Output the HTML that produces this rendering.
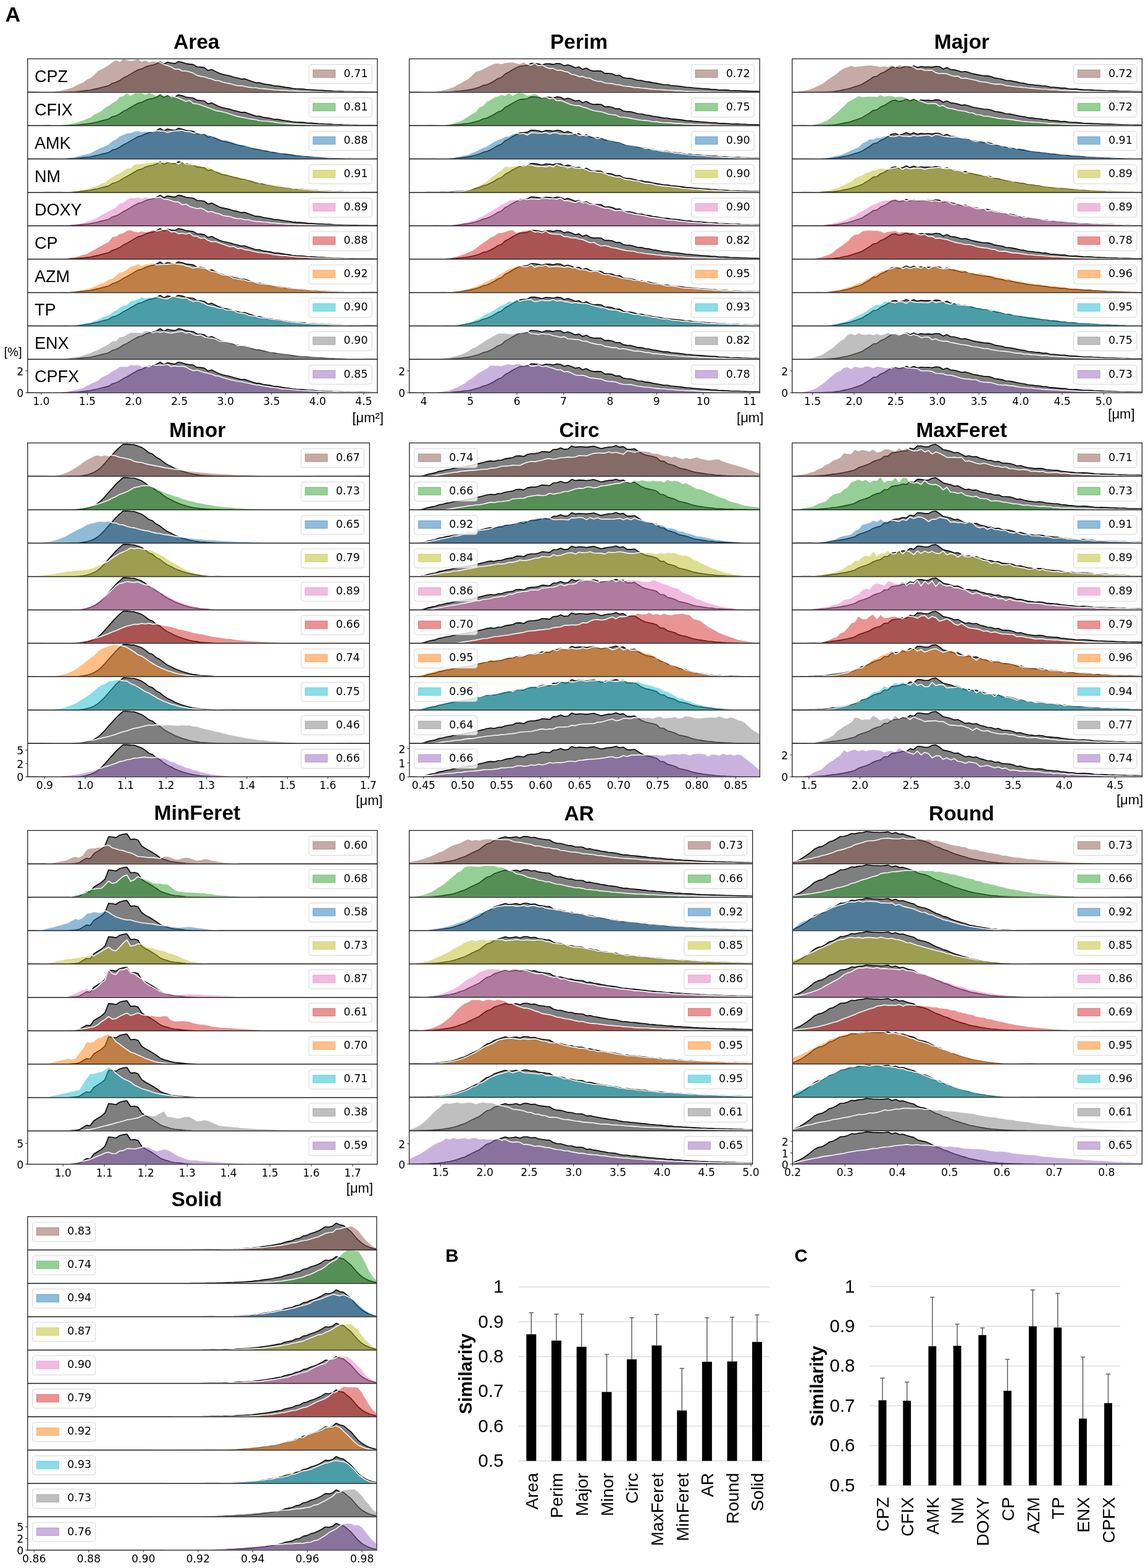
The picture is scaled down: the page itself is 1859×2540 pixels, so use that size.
<!DOCTYPE html>
<html><head><meta charset="utf-8"><title>Figure</title>
<style>html,body{margin:0;padding:0;background:#fff;} svg{display:block;}</style>
</head><body>
<svg width="1859" height="2540" viewBox="0 0 1859 2540"><text x="8.5" y="34.9" font-family="'Liberation Sans', Arial, sans-serif" font-weight="bold" font-size="34">A</text>
<text x="6.5" y="576.8" font-family="'Liberation Sans', Arial, sans-serif" font-size="21" textLength="29" lengthAdjust="spacingAndGlyphs">[%]</text>
<clipPath id="c0_0"><rect x="44.7" y="95.3" width="566.4" height="54.1"/></clipPath>
<clipPath id="c0_1"><rect x="44.7" y="149.4" width="566.4" height="54.1"/></clipPath>
<clipPath id="c0_2"><rect x="44.7" y="203.5" width="566.4" height="54.1"/></clipPath>
<clipPath id="c0_3"><rect x="44.7" y="257.6" width="566.4" height="54.1"/></clipPath>
<clipPath id="c0_4"><rect x="44.7" y="311.7" width="566.4" height="54.1"/></clipPath>
<clipPath id="c0_5"><rect x="44.7" y="365.8" width="566.4" height="54.1"/></clipPath>
<clipPath id="c0_6"><rect x="44.7" y="419.8" width="566.4" height="54.1"/></clipPath>
<clipPath id="c0_7"><rect x="44.7" y="473.9" width="566.4" height="54.1"/></clipPath>
<clipPath id="c0_8"><rect x="44.7" y="528" width="566.4" height="54.1"/></clipPath>
<clipPath id="c0_9"><rect x="44.7" y="582.1" width="566.4" height="54.1"/></clipPath>
<defs><path id="r0" d="M44.7,149.4 L50.7,149.4 L56.6,149.4 L62.6,149.4 L68.5,149.4 L74.5,149.3 L80.5,149.3 L86.4,149.3 L92.4,149.2 L98.4,149.1 L104.3,149 L110.3,148.9 L116.2,148.6 L122.2,148.4 L128.2,147.9 L134.1,147.2 L140.1,146.6 L146.1,146 L152,144.6 L158,143.4 L163.9,141.7 L169.9,140.3 L175.9,138.8 L181.8,134.9 L187.8,133.3 L193.8,130.3 L199.7,126.3 L205.7,123.4 L211.6,119.9 L217.6,116.4 L223.6,113 L229.5,111.6 L235.5,108.5 L241.4,106.5 L247.4,105.4 L253.4,103.3 L259.3,99.8 L265.3,103.8 L271.3,100.8 L277.2,102 L283.2,102.9 L289.1,99.7 L295.1,101 L301.1,103.1 L307,103.9 L313,104.6 L319,108.3 L324.9,108.6 L330.9,109.6 L336.8,114.1 L342.8,112.5 L348.8,115.6 L354.7,118.5 L360.7,120.5 L366.7,121.7 L372.6,123 L378.6,125 L384.5,126.2 L390.5,128 L396.5,127.7 L402.4,129.9 L408.4,132 L414.4,134 L420.3,134.1 L426.3,135.9 L432.2,136.8 L438.2,137.6 L444.2,139.3 L450.1,139.3 L456.1,140.4 L462,141.4 L468,142.1 L474,143.2 L479.9,143.7 L485.9,144 L491.9,144.3 L497.8,145.2 L503.8,145.3 L509.7,145.8 L515.7,146.3 L521.7,146.4 L527.6,146.9 L533.6,147 L539.6,147.5 L545.5,147.8 L551.5,147.8 L557.4,148.1 L563.4,148.2 L569.4,148.4 L575.3,148.5 L581.3,148.6 L587.3,148.6 L593.2,148.7 L599.2,148.8 L605.1,148.9 L611.1,149 L611.1,149.4 L44.7,149.4 Z"/></defs>
<g clip-path="url(#c0_0)"><use href="#r0" transform="translate(0,0)" fill="#7f7f7f" stroke="#000" stroke-width="1.6" stroke-linejoin="round"/><path d="M44.7,149.3 L50.7,149.3 L56.6,149.2 L62.6,149.1 L68.5,148.9 L74.5,148.6 L80.5,148.3 L86.4,147.8 L92.4,147.1 L98.4,146.1 L104.3,144.7 L110.3,143.3 L116.2,141.5 L122.2,138.3 L128.2,135.5 L134.1,133.1 L140.1,128.3 L146.1,125.7 L152,121 L158,114.5 L163.9,111.7 L169.9,108.4 L175.9,104.6 L181.8,100 L187.8,96.6 L193.8,99.6 L199.7,94.8 L205.7,96.7 L211.6,97.9 L217.6,97 L223.6,94.9 L229.5,99.2 L235.5,96.7 L241.4,100.4 L247.4,98.7 L253.4,99.7 L259.3,100.7 L265.3,104.4 L271.3,106.3 L277.2,108.5 L283.2,112.1 L289.1,111.8 L295.1,115 L301.1,115 L307,116.6 L313,118.6 L319,122.1 L324.9,123.6 L330.9,124.5 L336.8,126.4 L342.8,128 L348.8,130.4 L354.7,130.7 L360.7,133.2 L366.7,134.5 L372.6,135.4 L378.6,137.2 L384.5,138.8 L390.5,138.9 L396.5,140 L402.4,141.1 L408.4,142 L414.4,142.2 L420.3,143.3 L426.3,143.6 L432.2,144.4 L438.2,144.7 L444.2,145.7 L450.1,145.7 L456.1,146.4 L462,146.3 L468,147 L474,147.3 L479.9,147.4 L485.9,147.7 L491.9,148 L497.8,147.9 L503.8,148.3 L509.7,148.2 L515.7,148.5 L521.7,148.5 L527.6,148.7 L533.6,148.8 L539.6,148.9 L545.5,148.9 L551.5,149 L557.4,149 L563.4,149.1 L569.4,149.1 L575.3,149.2 L581.3,149.2 L587.3,149.2 L593.2,149.2 L599.2,149.3 L605.1,149.3 L611.1,149.3 L611.1,149.4 L44.7,149.4 Z" fill="#8c564b" fill-opacity="0.5" stroke="#fff" stroke-width="1.6" stroke-linejoin="round" stroke-opacity="0.95"/></g>
<rect x="500.3" y="104.5" width="102" height="31" rx="4" fill="#fff" fill-opacity="0.8" stroke="#d6d6d6" stroke-width="1"/>
<rect x="506.9" y="113.2" width="36" height="12.4" fill="#c6aaa5" stroke="#8c564b" stroke-opacity="0.5" stroke-width="1"/>
<text x="556.6" y="124.7" font-family="'DejaVu Sans', 'Liberation Sans', sans-serif" font-size="17.5">0.71</text>
<text x="56" y="132.6" font-family="'Liberation Sans', Arial, sans-serif" font-size="27">CPZ</text>
<g clip-path="url(#c0_1)"><use href="#r0" transform="translate(0,54.1)" fill="#7f7f7f" stroke="#000" stroke-width="1.6" stroke-linejoin="round"/><path d="M44.7,203.5 L50.7,203.4 L56.6,203.4 L62.6,203.4 L68.5,203.3 L74.5,203.2 L80.5,203.1 L86.4,202.8 L92.4,202.6 L98.4,202.1 L104.3,201.4 L110.3,201 L116.2,199.6 L122.2,198.4 L128.2,196.5 L134.1,194.5 L140.1,191.9 L146.1,189.7 L152,185 L158,182.6 L163.9,179.4 L169.9,173.8 L175.9,170.6 L181.8,166.3 L187.8,162.9 L193.8,156.3 L199.7,155 L205.7,150.2 L211.6,154.5 L217.6,150.6 L223.6,150 L229.5,150.1 L235.5,153 L241.4,149.6 L247.4,151.9 L253.4,154.9 L259.3,151 L265.3,154.7 L271.3,153 L277.2,156.4 L283.2,156.8 L289.1,159.1 L295.1,161.6 L301.1,164.3 L307,162.8 L313,167.6 L319,168.2 L324.9,169.9 L330.9,172.1 L336.8,174.2 L342.8,176.6 L348.8,179.1 L354.7,179.9 L360.7,181.2 L366.7,182.8 L372.6,184.8 L378.6,186.8 L384.5,188.6 L390.5,189.7 L396.5,190.8 L402.4,192.3 L408.4,192.9 L414.4,194 L420.3,195.5 L426.3,196 L432.2,196.2 L438.2,197 L444.2,197.9 L450.1,198.7 L456.1,199.5 L462,199.6 L468,200.1 L474,200.6 L479.9,200.9 L485.9,201.2 L491.9,201.3 L497.8,201.7 L503.8,202 L509.7,202.2 L515.7,202.2 L521.7,202.5 L527.6,202.5 L533.6,202.8 L539.6,202.8 L545.5,202.9 L551.5,203 L557.4,203 L563.4,203.1 L569.4,203.1 L575.3,203.2 L581.3,203.2 L587.3,203.3 L593.2,203.3 L599.2,203.3 L605.1,203.3 L611.1,203.4 L611.1,203.5 L44.7,203.5 Z" fill="#2ca02c" fill-opacity="0.5" stroke="#fff" stroke-width="1.6" stroke-linejoin="round" stroke-opacity="0.95"/></g>
<rect x="500.3" y="158.6" width="102" height="31" rx="4" fill="#fff" fill-opacity="0.8" stroke="#d6d6d6" stroke-width="1"/>
<rect x="506.9" y="167.3" width="36" height="12.4" fill="#96d096" stroke="#2ca02c" stroke-opacity="0.5" stroke-width="1"/>
<text x="556.6" y="178.8" font-family="'DejaVu Sans', 'Liberation Sans', sans-serif" font-size="17.5">0.81</text>
<text x="56" y="186.7" font-family="'Liberation Sans', Arial, sans-serif" font-size="27">CFIX</text>
<g clip-path="url(#c0_2)"><use href="#r0" transform="translate(0,108.2)" fill="#7f7f7f" stroke="#000" stroke-width="1.6" stroke-linejoin="round"/><path d="M44.7,257.5 L50.7,257.5 L56.6,257.5 L62.6,257.5 L68.5,257.4 L74.5,257.3 L80.5,257.2 L86.4,256.9 L92.4,256.9 L98.4,256.3 L104.3,256 L110.3,255.3 L116.2,254.7 L122.2,253.6 L128.2,251.9 L134.1,250.4 L140.1,249.1 L146.1,247.6 L152,244.5 L158,241.4 L163.9,238.4 L169.9,236.4 L175.9,232.8 L181.8,227.9 L187.8,225 L193.8,220.2 L199.7,217.8 L205.7,215.3 L211.6,214.9 L217.6,212.2 L223.6,211.8 L229.5,213.3 L235.5,212.6 L241.4,212.7 L247.4,213.3 L253.4,211.5 L259.3,212.3 L265.3,212.2 L271.3,214.7 L277.2,212.8 L283.2,211.7 L289.1,211.7 L295.1,210.9 L301.1,213.2 L307,212.9 L313,215.6 L319,214.7 L324.9,216.6 L330.9,216.2 L336.8,218 L342.8,220.3 L348.8,221.9 L354.7,224.2 L360.7,226.6 L366.7,226.2 L372.6,229 L378.6,230.2 L384.5,233.2 L390.5,234 L396.5,235.4 L402.4,237.2 L408.4,239 L414.4,239 L420.3,240.9 L426.3,242.4 L432.2,242.6 L438.2,244.9 L444.2,244.9 L450.1,246.8 L456.1,247.7 L462,247.7 L468,248.4 L474,249.3 L479.9,250.6 L485.9,251.1 L491.9,252 L497.8,252.3 L503.8,252.8 L509.7,253.4 L515.7,253.6 L521.7,254.1 L527.6,254.6 L533.6,255.1 L539.6,255.3 L545.5,255.4 L551.5,255.5 L557.4,255.6 L563.4,256.1 L569.4,256.2 L575.3,256.3 L581.3,256.5 L587.3,256.6 L593.2,256.9 L599.2,256.9 L605.1,257 L611.1,257.1 L611.1,257.6 L44.7,257.6 Z" fill="#1f77b4" fill-opacity="0.5" stroke="#fff" stroke-width="1.6" stroke-linejoin="round" stroke-opacity="0.95"/></g>
<rect x="500.3" y="212.7" width="102" height="31" rx="4" fill="#fff" fill-opacity="0.8" stroke="#d6d6d6" stroke-width="1"/>
<rect x="506.9" y="221.4" width="36" height="12.4" fill="#8fbbda" stroke="#1f77b4" stroke-opacity="0.5" stroke-width="1"/>
<text x="556.6" y="232.9" font-family="'DejaVu Sans', 'Liberation Sans', sans-serif" font-size="17.5">0.88</text>
<text x="56" y="240.8" font-family="'Liberation Sans', Arial, sans-serif" font-size="27">AMK</text>
<g clip-path="url(#c0_3)"><use href="#r0" transform="translate(0,162.3)" fill="#7f7f7f" stroke="#000" stroke-width="1.6" stroke-linejoin="round"/><path d="M44.7,311.6 L50.7,311.6 L56.6,311.6 L62.6,311.6 L68.5,311.6 L74.5,311.5 L80.5,311.5 L86.4,311.4 L92.4,311.2 L98.4,311 L104.3,310.7 L110.3,310.5 L116.2,309.9 L122.2,309.3 L128.2,308.2 L134.1,307.1 L140.1,306 L146.1,303.8 L152,302 L158,300 L163.9,296.7 L169.9,294.9 L175.9,290.1 L181.8,286.4 L187.8,282.6 L193.8,280 L199.7,276.1 L205.7,272.2 L211.6,272 L217.6,265.6 L223.6,265.4 L229.5,264.7 L235.5,264.6 L241.4,263 L247.4,262.5 L253.4,261.6 L259.3,263.8 L265.3,261.6 L271.3,262 L277.2,263.5 L283.2,262.4 L289.1,265.7 L295.1,261.6 L301.1,266 L307,266.2 L313,266.9 L319,266.6 L324.9,269.2 L330.9,269.9 L336.8,270 L342.8,273.2 L348.8,276.9 L354.7,277.8 L360.7,280.4 L366.7,281.2 L372.6,283.8 L378.6,284.7 L384.5,285.5 L390.5,288.2 L396.5,289.3 L402.4,291 L408.4,291.9 L414.4,294.1 L420.3,296.2 L426.3,296.2 L432.2,298.4 L438.2,299.3 L444.2,300.8 L450.1,301.5 L456.1,302.2 L462,303.1 L468,303.6 L474,305.3 L479.9,305 L485.9,306.2 L491.9,306.6 L497.8,307.2 L503.8,307.6 L509.7,308.1 L515.7,308.5 L521.7,308.7 L527.6,309.2 L533.6,309.4 L539.6,309.7 L545.5,310 L551.5,310.2 L557.4,310.3 L563.4,310.5 L569.4,310.6 L575.3,310.7 L581.3,310.9 L587.3,311 L593.2,311 L599.2,311.1 L605.1,311.2 L611.1,311.3 L611.1,311.7 L44.7,311.7 Z" fill="#bcbd22" fill-opacity="0.5" stroke="#fff" stroke-width="1.6" stroke-linejoin="round" stroke-opacity="0.95"/></g>
<rect x="500.3" y="266.8" width="102" height="31" rx="4" fill="#fff" fill-opacity="0.8" stroke="#d6d6d6" stroke-width="1"/>
<rect x="506.9" y="275.5" width="36" height="12.4" fill="#dede90" stroke="#bcbd22" stroke-opacity="0.5" stroke-width="1"/>
<text x="556.6" y="287" font-family="'DejaVu Sans', 'Liberation Sans', sans-serif" font-size="17.5">0.91</text>
<text x="56" y="294.9" font-family="'Liberation Sans', Arial, sans-serif" font-size="27">NM</text>
<g clip-path="url(#c0_4)"><use href="#r0" transform="translate(0,216.4)" fill="#7f7f7f" stroke="#000" stroke-width="1.6" stroke-linejoin="round"/><path d="M44.7,365.7 L50.7,365.7 L56.6,365.7 L62.6,365.7 L68.5,365.7 L74.5,365.6 L80.5,365.5 L86.4,365.4 L92.4,365.2 L98.4,365.1 L104.3,364.7 L110.3,364.3 L116.2,363.3 L122.2,362.7 L128.2,361.7 L134.1,360.7 L140.1,358.6 L146.1,356.2 L152,354.3 L158,351.8 L163.9,347.9 L169.9,345 L175.9,341.3 L181.8,338.5 L187.8,335 L193.8,328.8 L199.7,327.6 L205.7,322.8 L211.6,320 L217.6,320.5 L223.6,319.1 L229.5,321.1 L235.5,318.5 L241.4,321.2 L247.4,320.3 L253.4,320.3 L259.3,319 L265.3,322.8 L271.3,323.1 L277.2,325 L283.2,327 L289.1,327.1 L295.1,331.7 L301.1,330.5 L307,334.4 L313,336.2 L319,338 L324.9,337.1 L330.9,339.4 L336.8,343.5 L342.8,342.5 L348.8,345.1 L354.7,346.3 L360.7,349 L366.7,350.1 L372.6,350.8 L378.6,352.9 L384.5,354.2 L390.5,354.2 L396.5,356 L402.4,356 L408.4,357.8 L414.4,358.6 L420.3,358.9 L426.3,359.8 L432.2,360 L438.2,360.9 L444.2,361.2 L450.1,361.6 L456.1,362.3 L462,362.8 L468,362.9 L474,363.2 L479.9,363.7 L485.9,363.9 L491.9,364 L497.8,364.4 L503.8,364.4 L509.7,364.6 L515.7,364.7 L521.7,364.8 L527.6,365.1 L533.6,365 L539.6,365.1 L545.5,365.2 L551.5,365.3 L557.4,365.4 L563.4,365.4 L569.4,365.5 L575.3,365.5 L581.3,365.5 L587.3,365.6 L593.2,365.6 L599.2,365.6 L605.1,365.6 L611.1,365.7 L611.1,365.8 L44.7,365.8 Z" fill="#e377c2" fill-opacity="0.5" stroke="#fff" stroke-width="1.6" stroke-linejoin="round" stroke-opacity="0.95"/></g>
<rect x="500.3" y="320.9" width="102" height="31" rx="4" fill="#fff" fill-opacity="0.8" stroke="#d6d6d6" stroke-width="1"/>
<rect x="506.9" y="329.6" width="36" height="12.4" fill="#f1bbe0" stroke="#e377c2" stroke-opacity="0.5" stroke-width="1"/>
<text x="556.6" y="341.1" font-family="'DejaVu Sans', 'Liberation Sans', sans-serif" font-size="17.5">0.89</text>
<text x="56" y="349" font-family="'Liberation Sans', Arial, sans-serif" font-size="27">DOXY</text>
<g clip-path="url(#c0_5)"><use href="#r0" transform="translate(0,270.5)" fill="#7f7f7f" stroke="#000" stroke-width="1.6" stroke-linejoin="round"/><path d="M44.7,419.8 L50.7,419.8 L56.6,419.8 L62.6,419.8 L68.5,419.7 L74.5,419.7 L80.5,419.5 L86.4,419.4 L92.4,419.1 L98.4,418.7 L104.3,418.2 L110.3,417.8 L116.2,416.6 L122.2,415.6 L128.2,414.3 L134.1,412.3 L140.1,410.8 L146.1,407.4 L152,404.3 L158,400.8 L163.9,397.5 L169.9,394.4 L175.9,390.7 L181.8,383.5 L187.8,382.2 L193.8,378.4 L199.7,376.9 L205.7,372.9 L211.6,371.9 L217.6,374.5 L223.6,375.6 L229.5,374.1 L235.5,375.4 L241.4,374.4 L247.4,371.9 L253.4,374.2 L259.3,373 L265.3,371.8 L271.3,371.7 L277.2,375.6 L283.2,375.2 L289.1,378.6 L295.1,377.7 L301.1,379.3 L307,377.6 L313,382.3 L319,382.8 L324.9,386 L330.9,385.3 L336.8,389.4 L342.8,391.6 L348.8,391.2 L354.7,393.6 L360.7,395.5 L366.7,397.7 L372.6,399.8 L378.6,399.2 L384.5,402.6 L390.5,402.1 L396.5,404.6 L402.4,405.1 L408.4,406.8 L414.4,408 L420.3,409.3 L426.3,409.7 L432.2,410.2 L438.2,411.3 L444.2,412.7 L450.1,413.1 L456.1,413.9 L462,413.9 L468,414.7 L474,415.3 L479.9,416 L485.9,416.5 L491.9,416.5 L497.8,416.8 L503.8,417.4 L509.7,417.8 L515.7,417.7 L521.7,418 L527.6,418.2 L533.6,418.4 L539.6,418.6 L545.5,418.8 L551.5,418.9 L557.4,419 L563.4,419.1 L569.4,419.3 L575.3,419.3 L581.3,419.4 L587.3,419.4 L593.2,419.5 L599.2,419.5 L605.1,419.6 L611.1,419.6 L611.1,419.8 L44.7,419.8 Z" fill="#d62728" fill-opacity="0.5" stroke="#fff" stroke-width="1.6" stroke-linejoin="round" stroke-opacity="0.95"/></g>
<rect x="500.3" y="375" width="102" height="31" rx="4" fill="#fff" fill-opacity="0.8" stroke="#d6d6d6" stroke-width="1"/>
<rect x="506.9" y="383.7" width="36" height="12.4" fill="#ea9394" stroke="#d62728" stroke-opacity="0.5" stroke-width="1"/>
<text x="556.6" y="395.2" font-family="'DejaVu Sans', 'Liberation Sans', sans-serif" font-size="17.5">0.88</text>
<text x="56" y="403.1" font-family="'Liberation Sans', Arial, sans-serif" font-size="27">CP</text>
<g clip-path="url(#c0_6)"><use href="#r0" transform="translate(0,324.5)" fill="#7f7f7f" stroke="#000" stroke-width="1.6" stroke-linejoin="round"/><path d="M44.7,473.9 L50.7,473.9 L56.6,473.9 L62.6,473.9 L68.5,473.8 L74.5,473.8 L80.5,473.7 L86.4,473.6 L92.4,473.4 L98.4,473.1 L104.3,472.9 L110.3,472.5 L116.2,471.8 L122.2,471.1 L128.2,470.2 L134.1,469.1 L140.1,467.6 L146.1,466.2 L152,463.9 L158,461.1 L163.9,458.6 L169.9,456.5 L175.9,452.3 L181.8,450.8 L187.8,445.8 L193.8,440.9 L199.7,439.9 L205.7,435.8 L211.6,431.4 L217.6,429.8 L223.6,426.9 L229.5,430.2 L235.5,427.2 L241.4,427.6 L247.4,425.6 L253.4,429 L259.3,428.7 L265.3,428 L271.3,428.2 L277.2,427.2 L283.2,427 L289.1,428.2 L295.1,428.6 L301.1,430.6 L307,431.9 L313,434.3 L319,432.9 L324.9,433.7 L330.9,434.4 L336.8,437.2 L342.8,439.6 L348.8,440.5 L354.7,443 L360.7,445.5 L366.7,445.9 L372.6,447.6 L378.6,450.8 L384.5,451.7 L390.5,453 L396.5,453.5 L402.4,455.7 L408.4,455.7 L414.4,458.1 L420.3,459.2 L426.3,460.3 L432.2,460.8 L438.2,461.5 L444.2,462.7 L450.1,463.9 L456.1,464.9 L462,465 L468,466.7 L474,467.2 L479.9,467.7 L485.9,468.3 L491.9,468.5 L497.8,469.2 L503.8,469.6 L509.7,470 L515.7,470.2 L521.7,470.8 L527.6,471.3 L533.6,471.4 L539.6,471.8 L545.5,472 L551.5,472.1 L557.4,472.2 L563.4,472.4 L569.4,472.6 L575.3,472.8 L581.3,472.8 L587.3,473 L593.2,473.1 L599.2,473.2 L605.1,473.3 L611.1,473.4 L611.1,473.9 L44.7,473.9 Z" fill="#ff7f0e" fill-opacity="0.5" stroke="#fff" stroke-width="1.6" stroke-linejoin="round" stroke-opacity="0.95"/></g>
<rect x="500.3" y="429" width="102" height="31" rx="4" fill="#fff" fill-opacity="0.8" stroke="#d6d6d6" stroke-width="1"/>
<rect x="506.9" y="437.7" width="36" height="12.4" fill="#ffbf86" stroke="#ff7f0e" stroke-opacity="0.5" stroke-width="1"/>
<text x="556.6" y="449.2" font-family="'DejaVu Sans', 'Liberation Sans', sans-serif" font-size="17.5">0.92</text>
<text x="56" y="457.1" font-family="'Liberation Sans', Arial, sans-serif" font-size="27">AZM</text>
<g clip-path="url(#c0_7)"><use href="#r0" transform="translate(0,378.6)" fill="#7f7f7f" stroke="#000" stroke-width="1.6" stroke-linejoin="round"/><path d="M44.7,528 L50.7,528 L56.6,528 L62.6,528 L68.5,528 L74.5,527.9 L80.5,527.9 L86.4,527.8 L92.4,527.7 L98.4,527.6 L104.3,527.4 L110.3,527.1 L116.2,526.6 L122.2,526.1 L128.2,525.4 L134.1,524.6 L140.1,522.9 L146.1,521.9 L152,519.3 L158,517.4 L163.9,514.6 L169.9,511.5 L175.9,509.7 L181.8,505.3 L187.8,502.3 L193.8,497.6 L199.7,494.6 L205.7,492.9 L211.6,487.2 L217.6,486 L223.6,484 L229.5,480.7 L235.5,483.1 L241.4,481.4 L247.4,481.3 L253.4,480.4 L259.3,482 L265.3,483.7 L271.3,483.9 L277.2,480.7 L283.2,480.7 L289.1,481.7 L295.1,483.2 L301.1,482.4 L307,485.6 L313,488.5 L319,487.2 L324.9,489 L330.9,491.7 L336.8,494.8 L342.8,496.3 L348.8,497.4 L354.7,499.3 L360.7,499.4 L366.7,502.3 L372.6,502.2 L378.6,503.1 L384.5,506.3 L390.5,507.1 L396.5,508.1 L402.4,510.8 L408.4,511.7 L414.4,512.5 L420.3,514.4 L426.3,514.9 L432.2,515.1 L438.2,516.7 L444.2,517.8 L450.1,518 L456.1,518.8 L462,520.3 L468,521 L474,522 L479.9,522.4 L485.9,523 L491.9,523.6 L497.8,523.9 L503.8,524.1 L509.7,524.6 L515.7,525 L521.7,525.3 L527.6,525.2 L533.6,525.7 L539.6,526.2 L545.5,526.3 L551.5,526.4 L557.4,526.5 L563.4,526.8 L569.4,527 L575.3,526.9 L581.3,527.1 L587.3,527.3 L593.2,527.3 L599.2,527.4 L605.1,527.5 L611.1,527.6 L611.1,528 L44.7,528 Z" fill="#17becf" fill-opacity="0.5" stroke="#fff" stroke-width="1.6" stroke-linejoin="round" stroke-opacity="0.95"/></g>
<rect x="500.3" y="483.1" width="102" height="31" rx="4" fill="#fff" fill-opacity="0.8" stroke="#d6d6d6" stroke-width="1"/>
<rect x="506.9" y="491.8" width="36" height="12.4" fill="#8bdee7" stroke="#17becf" stroke-opacity="0.5" stroke-width="1"/>
<text x="556.6" y="503.3" font-family="'DejaVu Sans', 'Liberation Sans', sans-serif" font-size="17.5">0.90</text>
<text x="56" y="511.2" font-family="'Liberation Sans', Arial, sans-serif" font-size="27">TP</text>
<g clip-path="url(#c0_8)"><use href="#r0" transform="translate(0,432.7)" fill="#7f7f7f" stroke="#000" stroke-width="1.6" stroke-linejoin="round"/><path d="M44.7,582.1 L50.7,582 L56.6,582 L62.6,582 L68.5,581.9 L74.5,581.8 L80.5,581.6 L86.4,581.4 L92.4,581.1 L98.4,580.9 L104.3,580.3 L110.3,579.6 L116.2,578.8 L122.2,577.8 L128.2,576.9 L134.1,575.5 L140.1,573 L146.1,571.5 L152,568.6 L158,566.6 L163.9,563.1 L169.9,560.1 L175.9,556.5 L181.8,552.1 L187.8,551.8 L193.8,545.4 L199.7,544.7 L205.7,541 L211.6,538.3 L217.6,538.3 L223.6,538.6 L229.5,538.7 L235.5,535.6 L241.4,535.7 L247.4,539.1 L253.4,537.1 L259.3,538.5 L265.3,536.9 L271.3,538.9 L277.2,539.6 L283.2,538.4 L289.1,537.4 L295.1,536.7 L301.1,539.6 L307,538.3 L313,541.6 L319,543.4 L324.9,542.4 L330.9,546 L336.8,547.2 L342.8,547.8 L348.8,549 L354.7,552.4 L360.7,553.2 L366.7,553.6 L372.6,554.9 L378.6,555.9 L384.5,559.6 L390.5,559.6 L396.5,560.5 L402.4,561.7 L408.4,563.1 L414.4,564.5 L420.3,564.9 L426.3,566.2 L432.2,568.2 L438.2,569.6 L444.2,570 L450.1,571.3 L456.1,572.3 L462,573 L468,573.4 L474,574.1 L479.9,575.1 L485.9,575.9 L491.9,576.3 L497.8,576.4 L503.8,577.3 L509.7,577.7 L515.7,578 L521.7,578.3 L527.6,578.8 L533.6,579.2 L539.6,579.3 L545.5,579.7 L551.5,579.7 L557.4,579.9 L563.4,580.4 L569.4,580.4 L575.3,580.6 L581.3,580.8 L587.3,580.9 L593.2,581.1 L599.2,581.3 L605.1,581.2 L611.1,581.4 L611.1,582.1 L44.7,582.1 Z" fill="#7f7f7f" fill-opacity="0.5" stroke="#fff" stroke-width="1.6" stroke-linejoin="round" stroke-opacity="0.95"/></g>
<rect x="500.3" y="537.2" width="102" height="31" rx="4" fill="#fff" fill-opacity="0.8" stroke="#d6d6d6" stroke-width="1"/>
<rect x="506.9" y="545.9" width="36" height="12.4" fill="#bfbfbf" stroke="#7f7f7f" stroke-opacity="0.5" stroke-width="1"/>
<text x="556.6" y="557.4" font-family="'DejaVu Sans', 'Liberation Sans', sans-serif" font-size="17.5">0.90</text>
<text x="56" y="565.3" font-family="'Liberation Sans', Arial, sans-serif" font-size="27">ENX</text>
<g clip-path="url(#c0_9)"><use href="#r0" transform="translate(0,486.8)" fill="#7f7f7f" stroke="#000" stroke-width="1.6" stroke-linejoin="round"/><path d="M44.7,636.2 L50.7,636.2 L56.6,636.1 L62.6,636.1 L68.5,636 L74.5,635.9 L80.5,635.8 L86.4,635.6 L92.4,635.2 L98.4,634.9 L104.3,634.3 L110.3,633.4 L116.2,632.6 L122.2,631 L128.2,629.4 L134.1,627.8 L140.1,624.5 L146.1,621.6 L152,618.7 L158,616.3 L163.9,610.8 L169.9,608.3 L175.9,605 L181.8,600.7 L187.8,597.8 L193.8,593.6 L199.7,593.2 L205.7,593.8 L211.6,590.1 L217.6,591.4 L223.6,590.4 L229.5,593.4 L235.5,593.1 L241.4,594.1 L247.4,590.7 L253.4,591.8 L259.3,591.3 L265.3,591.4 L271.3,590.2 L277.2,593.7 L283.2,592.6 L289.1,593.7 L295.1,593.1 L301.1,594.4 L307,598.1 L313,600.6 L319,599.5 L324.9,601.4 L330.9,603.4 L336.8,604.8 L342.8,606.3 L348.8,608.6 L354.7,609.2 L360.7,611.8 L366.7,613.2 L372.6,615.1 L378.6,616.3 L384.5,617.8 L390.5,618 L396.5,619.7 L402.4,620.7 L408.4,622.2 L414.4,623.5 L420.3,624 L426.3,625.3 L432.2,626 L438.2,627.1 L444.2,627.8 L450.1,628.2 L456.1,629.9 L462,630.2 L468,630.2 L474,631.3 L479.9,631.7 L485.9,632.2 L491.9,632.5 L497.8,632.7 L503.8,633.1 L509.7,633.5 L515.7,633.6 L521.7,634 L527.6,634.5 L533.6,634.6 L539.6,634.8 L545.5,634.9 L551.5,635.1 L557.4,635.1 L563.4,635.3 L569.4,635.3 L575.3,635.4 L581.3,635.5 L587.3,635.6 L593.2,635.7 L599.2,635.8 L605.1,635.8 L611.1,635.9 L611.1,636.2 L44.7,636.2 Z" fill="#9467bd" fill-opacity="0.5" stroke="#fff" stroke-width="1.6" stroke-linejoin="round" stroke-opacity="0.95"/></g>
<rect x="500.3" y="591.3" width="102" height="31" rx="4" fill="#fff" fill-opacity="0.8" stroke="#d6d6d6" stroke-width="1"/>
<rect x="506.9" y="600" width="36" height="12.4" fill="#cab3de" stroke="#9467bd" stroke-opacity="0.5" stroke-width="1"/>
<text x="556.6" y="611.5" font-family="'DejaVu Sans', 'Liberation Sans', sans-serif" font-size="17.5">0.85</text>
<text x="56" y="619.4" font-family="'Liberation Sans', Arial, sans-serif" font-size="27">CPFX</text>
<line x1="44.7" y1="149.4" x2="611.1" y2="149.4" stroke="#222" stroke-width="1.5"/>
<line x1="44.7" y1="203.5" x2="611.1" y2="203.5" stroke="#222" stroke-width="1.5"/>
<line x1="44.7" y1="257.6" x2="611.1" y2="257.6" stroke="#222" stroke-width="1.5"/>
<line x1="44.7" y1="311.7" x2="611.1" y2="311.7" stroke="#222" stroke-width="1.5"/>
<line x1="44.7" y1="365.8" x2="611.1" y2="365.8" stroke="#222" stroke-width="1.5"/>
<line x1="44.7" y1="419.8" x2="611.1" y2="419.8" stroke="#222" stroke-width="1.5"/>
<line x1="44.7" y1="473.9" x2="611.1" y2="473.9" stroke="#222" stroke-width="1.5"/>
<line x1="44.7" y1="528" x2="611.1" y2="528" stroke="#222" stroke-width="1.5"/>
<line x1="44.7" y1="582.1" x2="611.1" y2="582.1" stroke="#222" stroke-width="1.5"/>
<rect x="44.7" y="95.3" width="566.4" height="540.9" fill="none" stroke="#222" stroke-width="1.3"/>
<line x1="66.8" y1="636.2" x2="66.8" y2="639.7" stroke="#222" stroke-width="1"/>
<text x="66.8" y="655.8" text-anchor="middle" font-family="'DejaVu Sans', 'Liberation Sans', sans-serif" font-size="17.2">1.0</text>
<line x1="141.4" y1="636.2" x2="141.4" y2="639.7" stroke="#222" stroke-width="1"/>
<text x="141.4" y="655.8" text-anchor="middle" font-family="'DejaVu Sans', 'Liberation Sans', sans-serif" font-size="17.2">1.5</text>
<line x1="216" y1="636.2" x2="216" y2="639.7" stroke="#222" stroke-width="1"/>
<text x="216" y="655.8" text-anchor="middle" font-family="'DejaVu Sans', 'Liberation Sans', sans-serif" font-size="17.2">2.0</text>
<line x1="290.6" y1="636.2" x2="290.6" y2="639.7" stroke="#222" stroke-width="1"/>
<text x="290.6" y="655.8" text-anchor="middle" font-family="'DejaVu Sans', 'Liberation Sans', sans-serif" font-size="17.2">2.5</text>
<line x1="365.2" y1="636.2" x2="365.2" y2="639.7" stroke="#222" stroke-width="1"/>
<text x="365.2" y="655.8" text-anchor="middle" font-family="'DejaVu Sans', 'Liberation Sans', sans-serif" font-size="17.2">3.0</text>
<line x1="439.8" y1="636.2" x2="439.8" y2="639.7" stroke="#222" stroke-width="1"/>
<text x="439.8" y="655.8" text-anchor="middle" font-family="'DejaVu Sans', 'Liberation Sans', sans-serif" font-size="17.2">3.5</text>
<line x1="514.4" y1="636.2" x2="514.4" y2="639.7" stroke="#222" stroke-width="1"/>
<text x="514.4" y="655.8" text-anchor="middle" font-family="'DejaVu Sans', 'Liberation Sans', sans-serif" font-size="17.2">4.0</text>
<line x1="589" y1="636.2" x2="589" y2="639.7" stroke="#222" stroke-width="1"/>
<text x="589" y="655.8" text-anchor="middle" font-family="'DejaVu Sans', 'Liberation Sans', sans-serif" font-size="17.2">4.5</text>
<line x1="41.2" y1="636.2" x2="44.7" y2="636.2" stroke="#222" stroke-width="1"/>
<text x="38.1" y="643.1" text-anchor="end" font-family="'DejaVu Sans', 'Liberation Sans', sans-serif" font-size="17.2">0</text>
<line x1="41.2" y1="600.7" x2="44.7" y2="600.7" stroke="#222" stroke-width="1"/>
<text x="38.1" y="607.6" text-anchor="end" font-family="'DejaVu Sans', 'Liberation Sans', sans-serif" font-size="17.2">2</text>
<text x="621" y="683.7" text-anchor="end" font-family="'Liberation Sans', Arial, sans-serif" font-size="22">[μm²]</text>
<text x="318.2" y="78.6" text-anchor="middle" font-family="'Liberation Sans', Arial, sans-serif" font-weight="bold" font-size="33.5">Area</text>
<clipPath id="c1_0"><rect x="662.8" y="95.3" width="567.4" height="54.1"/></clipPath>
<clipPath id="c1_1"><rect x="662.8" y="149.4" width="567.4" height="54.1"/></clipPath>
<clipPath id="c1_2"><rect x="662.8" y="203.5" width="567.4" height="54.1"/></clipPath>
<clipPath id="c1_3"><rect x="662.8" y="257.6" width="567.4" height="54.1"/></clipPath>
<clipPath id="c1_4"><rect x="662.8" y="311.7" width="567.4" height="54.1"/></clipPath>
<clipPath id="c1_5"><rect x="662.8" y="365.8" width="567.4" height="54.1"/></clipPath>
<clipPath id="c1_6"><rect x="662.8" y="419.8" width="567.4" height="54.1"/></clipPath>
<clipPath id="c1_7"><rect x="662.8" y="473.9" width="567.4" height="54.1"/></clipPath>
<clipPath id="c1_8"><rect x="662.8" y="528" width="567.4" height="54.1"/></clipPath>
<clipPath id="c1_9"><rect x="662.8" y="582.1" width="567.4" height="54.1"/></clipPath>
<defs><path id="r1" d="M662.8,149.4 L668.8,149.4 L674.7,149.4 L680.7,149.4 L686.7,149.4 L692.7,149.3 L698.6,149.3 L704.6,149.2 L710.6,149.2 L716.6,149.1 L722.5,148.9 L728.5,148.8 L734.5,148.3 L740.4,147.8 L746.4,147.3 L752.4,146.5 L758.4,145.9 L764.3,144.6 L770.3,143 L776.3,141.3 L782.3,138.4 L788.2,137.2 L794.2,134.5 L800.2,131.2 L806.1,127.5 L812.1,125.3 L818.1,119.7 L824.1,116.7 L830,113 L836,109.8 L842,107 L848,106.5 L853.9,105.9 L859.9,102.6 L865.9,102.8 L871.8,103.6 L877.8,105.2 L883.8,103.2 L889.8,103.4 L895.7,104.4 L901.7,102.8 L907.7,103.4 L913.7,106.6 L919.6,104.9 L925.6,107 L931.6,109.7 L937.5,108.4 L943.5,112.3 L949.5,110.2 L955.5,113.7 L961.4,115.1 L967.4,114.8 L973.4,115.1 L979.3,118.9 L985.3,118.7 L991.3,119.6 L997.3,122.3 L1003.2,122 L1009.2,125.7 L1015.2,126.7 L1021.2,126.9 L1027.1,128.5 L1033.1,130.2 L1039.1,130.4 L1045,132.1 L1051,132.6 L1057,134.1 L1063,134.9 L1068.9,136 L1074.9,137.2 L1080.9,137.2 L1086.9,138.5 L1092.8,139 L1098.8,139.5 L1104.8,140.3 L1110.7,141.3 L1116.7,141.5 L1122.7,142.3 L1128.7,142.8 L1134.6,143.2 L1140.6,143.7 L1146.6,144.1 L1152.6,144.7 L1158.5,144.7 L1164.5,145.7 L1170.5,145.8 L1176.4,145.9 L1182.4,146.5 L1188.4,146.8 L1194.4,146.7 L1200.3,147.1 L1206.3,147.3 L1212.3,147.6 L1218.3,147.8 L1224.2,147.7 L1230.2,148 L1230.2,149.4 L662.8,149.4 Z"/></defs>
<g clip-path="url(#c1_0)"><use href="#r1" transform="translate(0,0)" fill="#7f7f7f" stroke="#000" stroke-width="1.6" stroke-linejoin="round"/><path d="M662.8,149.3 L668.8,149.3 L674.7,149.2 L680.7,149.1 L686.7,148.9 L692.7,148.6 L698.6,148.4 L704.6,147.7 L710.6,146.9 L716.6,145.8 L722.5,144.6 L728.5,142.6 L734.5,140.6 L740.4,136.9 L746.4,134 L752.4,130.2 L758.4,127 L764.3,121.6 L770.3,115.4 L776.3,114.1 L782.3,111.3 L788.2,108.1 L794.2,105.3 L800.2,102.7 L806.1,102 L812.1,103.1 L818.1,101.4 L824.1,100.6 L830,100.3 L836,102 L842,103.1 L848,100.3 L853.9,103.9 L859.9,105.6 L865.9,102.4 L871.8,106.6 L877.8,105.2 L883.8,108.7 L889.8,110.9 L895.7,110.6 L901.7,113.9 L907.7,113.6 L913.7,115.6 L919.6,116.8 L925.6,120.5 L931.6,121.5 L937.5,124.3 L943.5,123.9 L949.5,126.3 L955.5,126.6 L961.4,130 L967.4,131.6 L973.4,131.9 L979.3,134.3 L985.3,135.3 L991.3,135.4 L997.3,137.1 L1003.2,137.4 L1009.2,139.3 L1015.2,139.8 L1021.2,140.4 L1027.1,141.8 L1033.1,141.9 L1039.1,142.8 L1045,143.1 L1051,143.9 L1057,144.6 L1063,145 L1068.9,145.2 L1074.9,145.6 L1080.9,146.2 L1086.9,146.3 L1092.8,146.9 L1098.8,146.9 L1104.8,147.3 L1110.7,147.7 L1116.7,147.7 L1122.7,148 L1128.7,148 L1134.6,148.2 L1140.6,148.3 L1146.6,148.4 L1152.6,148.6 L1158.5,148.8 L1164.5,148.7 L1170.5,148.9 L1176.4,148.9 L1182.4,149 L1188.4,149 L1194.4,149.1 L1200.3,149.1 L1206.3,149.2 L1212.3,149.2 L1218.3,149.2 L1224.2,149.2 L1230.2,149.3 L1230.2,149.4 L662.8,149.4 Z" fill="#8c564b" fill-opacity="0.5" stroke="#fff" stroke-width="1.6" stroke-linejoin="round" stroke-opacity="0.95"/></g>
<rect x="1119.4" y="104.5" width="102" height="31" rx="4" fill="#fff" fill-opacity="0.8" stroke="#d6d6d6" stroke-width="1"/>
<rect x="1126" y="113.2" width="36" height="12.4" fill="#c6aaa5" stroke="#8c564b" stroke-opacity="0.5" stroke-width="1"/>
<text x="1175.7" y="124.7" font-family="'DejaVu Sans', 'Liberation Sans', sans-serif" font-size="17.5">0.72</text>
<g clip-path="url(#c1_1)"><use href="#r1" transform="translate(0,54.1)" fill="#7f7f7f" stroke="#000" stroke-width="1.6" stroke-linejoin="round"/><path d="M662.8,203.5 L668.8,203.5 L674.7,203.5 L680.7,203.4 L686.7,203.4 L692.7,203.3 L698.6,203.2 L704.6,203 L710.6,202.8 L716.6,202.2 L722.5,201.6 L728.5,200.6 L734.5,199.3 L740.4,197.6 L746.4,195.4 L752.4,191.9 L758.4,187.9 L764.3,184 L770.3,180.6 L776.3,173.2 L782.3,170.8 L788.2,164.2 L794.2,161.1 L800.2,157.3 L806.1,155.7 L812.1,153.1 L818.1,154.5 L824.1,150 L830,154.5 L836,151.2 L842,149.3 L848,151.1 L853.9,154.3 L859.9,153.5 L865.9,151.4 L871.8,154.2 L877.8,158 L883.8,156.6 L889.8,159.9 L895.7,158.7 L901.7,163.3 L907.7,162.8 L913.7,165.1 L919.6,167.4 L925.6,169.7 L931.6,171 L937.5,171.1 L943.5,173.2 L949.5,175.1 L955.5,177.2 L961.4,179.2 L967.4,180.2 L973.4,181 L979.3,182.8 L985.3,185 L991.3,185.8 L997.3,186.4 L1003.2,189.5 L1009.2,190 L1015.2,190.5 L1021.2,191.6 L1027.1,192.8 L1033.1,193.9 L1039.1,194.7 L1045,195.1 L1051,195.7 L1057,197.2 L1063,197.1 L1068.9,198.1 L1074.9,198.8 L1080.9,198.9 L1086.9,199.1 L1092.8,199.9 L1098.8,199.8 L1104.8,200.4 L1110.7,201 L1116.7,200.9 L1122.7,201.4 L1128.7,201.5 L1134.6,201.7 L1140.6,201.8 L1146.6,202.1 L1152.6,202.4 L1158.5,202.5 L1164.5,202.5 L1170.5,202.7 L1176.4,202.7 L1182.4,202.9 L1188.4,202.9 L1194.4,203 L1200.3,203 L1206.3,203.1 L1212.3,203.2 L1218.3,203.2 L1224.2,203.2 L1230.2,203.3 L1230.2,203.5 L662.8,203.5 Z" fill="#2ca02c" fill-opacity="0.5" stroke="#fff" stroke-width="1.6" stroke-linejoin="round" stroke-opacity="0.95"/></g>
<rect x="1119.4" y="158.6" width="102" height="31" rx="4" fill="#fff" fill-opacity="0.8" stroke="#d6d6d6" stroke-width="1"/>
<rect x="1126" y="167.3" width="36" height="12.4" fill="#96d096" stroke="#2ca02c" stroke-opacity="0.5" stroke-width="1"/>
<text x="1175.7" y="178.8" font-family="'DejaVu Sans', 'Liberation Sans', sans-serif" font-size="17.5">0.75</text>
<g clip-path="url(#c1_2)"><use href="#r1" transform="translate(0,108.2)" fill="#7f7f7f" stroke="#000" stroke-width="1.6" stroke-linejoin="round"/><path d="M662.8,257.6 L668.8,257.5 L674.7,257.5 L680.7,257.5 L686.7,257.4 L692.7,257.4 L698.6,257.3 L704.6,257.1 L710.6,256.9 L716.6,256.7 L722.5,256.2 L728.5,255.6 L734.5,255.1 L740.4,254 L746.4,252.8 L752.4,251.1 L758.4,249.9 L764.3,247.1 L770.3,245.1 L776.3,241.9 L782.3,239 L788.2,236.7 L794.2,232.8 L800.2,229 L806.1,226.4 L812.1,223.7 L818.1,220.8 L824.1,220.1 L830,216.8 L836,215.5 L842,216.8 L848,216 L853.9,218.7 L859.9,215 L865.9,215.2 L871.8,215.8 L877.8,215.6 L883.8,214.6 L889.8,217.1 L895.7,215 L901.7,215.3 L907.7,217.4 L913.7,216.7 L919.6,217.8 L925.6,216.9 L931.6,215.9 L937.5,219.4 L943.5,219.2 L949.5,219.9 L955.5,219 L961.4,221.9 L967.4,224.7 L973.4,222.4 L979.3,224.1 L985.3,226.7 L991.3,227.4 L997.3,228.9 L1003.2,229.7 L1009.2,232.2 L1015.2,234.5 L1021.2,234.9 L1027.1,236.3 L1033.1,236.9 L1039.1,238.1 L1045,240.8 L1051,240.1 L1057,242.8 L1063,242.9 L1068.9,244.4 L1074.9,245.4 L1080.9,245.7 L1086.9,246.8 L1092.8,247.9 L1098.8,248.4 L1104.8,249.1 L1110.7,249.8 L1116.7,250.7 L1122.7,251 L1128.7,251.7 L1134.6,252 L1140.6,252.1 L1146.6,253 L1152.6,253.5 L1158.5,253.8 L1164.5,254.2 L1170.5,254.6 L1176.4,254.7 L1182.4,255.1 L1188.4,255.3 L1194.4,255.7 L1200.3,255.7 L1206.3,256 L1212.3,256.2 L1218.3,256.2 L1224.2,256.2 L1230.2,256.4 L1230.2,257.6 L662.8,257.6 Z" fill="#1f77b4" fill-opacity="0.5" stroke="#fff" stroke-width="1.6" stroke-linejoin="round" stroke-opacity="0.95"/></g>
<rect x="1119.4" y="212.7" width="102" height="31" rx="4" fill="#fff" fill-opacity="0.8" stroke="#d6d6d6" stroke-width="1"/>
<rect x="1126" y="221.4" width="36" height="12.4" fill="#8fbbda" stroke="#1f77b4" stroke-opacity="0.5" stroke-width="1"/>
<text x="1175.7" y="232.9" font-family="'DejaVu Sans', 'Liberation Sans', sans-serif" font-size="17.5">0.90</text>
<g clip-path="url(#c1_3)"><use href="#r1" transform="translate(0,162.3)" fill="#7f7f7f" stroke="#000" stroke-width="1.6" stroke-linejoin="round"/><path d="M662.8,311.7 L668.8,311.7 L674.7,311.7 L680.7,311.7 L686.7,311.7 L692.7,311.7 L698.6,311.6 L704.6,311.6 L710.6,311.6 L716.6,311.5 L722.5,311.4 L728.5,311.3 L734.5,311 L740.4,310.5 L746.4,310 L752.4,308.9 L758.4,307.7 L764.3,305.8 L770.3,302.6 L776.3,299.9 L782.3,296.7 L788.2,293.2 L794.2,287.9 L800.2,283.7 L806.1,278.6 L812.1,275 L818.1,268.9 L824.1,270.2 L830,269.3 L836,268.2 L842,267.8 L848,269.6 L853.9,267.2 L859.9,267.3 L865.9,268.9 L871.8,269.9 L877.8,269.3 L883.8,270.4 L889.8,268.4 L895.7,270.4 L901.7,266 L907.7,268.9 L913.7,269.2 L919.6,271.9 L925.6,269.6 L931.6,272.5 L937.5,272.4 L943.5,273.3 L949.5,274.7 L955.5,277.6 L961.4,277.6 L967.4,278.9 L973.4,279.3 L979.3,281.1 L985.3,283.7 L991.3,285.1 L997.3,286.8 L1003.2,286.5 L1009.2,289.2 L1015.2,290.9 L1021.2,291.5 L1027.1,292.9 L1033.1,293.2 L1039.1,295.2 L1045,296.9 L1051,297.1 L1057,297.9 L1063,300 L1068.9,300.6 L1074.9,301.4 L1080.9,301.8 L1086.9,302.5 L1092.8,303.3 L1098.8,303.6 L1104.8,305 L1110.7,305.5 L1116.7,305.8 L1122.7,306.4 L1128.7,306.5 L1134.6,307.1 L1140.6,307.6 L1146.6,308.1 L1152.6,308.3 L1158.5,308.6 L1164.5,308.8 L1170.5,309 L1176.4,309.7 L1182.4,309.6 L1188.4,309.8 L1194.4,310 L1200.3,310.3 L1206.3,310.5 L1212.3,310.6 L1218.3,310.7 L1224.2,310.7 L1230.2,310.7 L1230.2,311.7 L662.8,311.7 Z" fill="#bcbd22" fill-opacity="0.5" stroke="#fff" stroke-width="1.6" stroke-linejoin="round" stroke-opacity="0.95"/></g>
<rect x="1119.4" y="266.8" width="102" height="31" rx="4" fill="#fff" fill-opacity="0.8" stroke="#d6d6d6" stroke-width="1"/>
<rect x="1126" y="275.5" width="36" height="12.4" fill="#dede90" stroke="#bcbd22" stroke-opacity="0.5" stroke-width="1"/>
<text x="1175.7" y="287" font-family="'DejaVu Sans', 'Liberation Sans', sans-serif" font-size="17.5">0.90</text>
<g clip-path="url(#c1_4)"><use href="#r1" transform="translate(0,216.4)" fill="#7f7f7f" stroke="#000" stroke-width="1.6" stroke-linejoin="round"/><path d="M662.8,365.7 L668.8,365.7 L674.7,365.7 L680.7,365.7 L686.7,365.7 L692.7,365.6 L698.6,365.6 L704.6,365.5 L710.6,365.3 L716.6,365 L722.5,364.8 L728.5,364.5 L734.5,363.6 L740.4,363 L746.4,361.8 L752.4,360.3 L758.4,359 L764.3,356.9 L770.3,355.3 L776.3,351.4 L782.3,349.3 L788.2,345.5 L794.2,342.1 L800.2,338 L806.1,335.3 L812.1,330.7 L818.1,329.1 L824.1,324.3 L830,323.4 L836,323.3 L842,324.1 L848,322.2 L853.9,323.4 L859.9,322.3 L865.9,322.5 L871.8,322.9 L877.8,321.5 L883.8,321.2 L889.8,322.1 L895.7,321.5 L901.7,323 L907.7,320.6 L913.7,325.2 L919.6,324.9 L925.6,326.8 L931.6,328.3 L937.5,325.5 L943.5,328.7 L949.5,328 L955.5,331.4 L961.4,331.3 L967.4,333 L973.4,335.7 L979.3,337.1 L985.3,337.1 L991.3,339.5 L997.3,341.5 L1003.2,340.5 L1009.2,341.7 L1015.2,344.5 L1021.2,345.3 L1027.1,347.1 L1033.1,347.6 L1039.1,348.7 L1045,349.6 L1051,351.7 L1057,352.1 L1063,353.1 L1068.9,353.6 L1074.9,354.5 L1080.9,356.4 L1086.9,356.4 L1092.8,356.8 L1098.8,357.9 L1104.8,358.5 L1110.7,359.2 L1116.7,359.9 L1122.7,360.2 L1128.7,360.6 L1134.6,360.7 L1140.6,361.7 L1146.6,361.6 L1152.6,362.1 L1158.5,362.6 L1164.5,362.7 L1170.5,363 L1176.4,363.5 L1182.4,363.6 L1188.4,363.7 L1194.4,364.1 L1200.3,364.3 L1206.3,364.3 L1212.3,364.5 L1218.3,364.5 L1224.2,364.6 L1230.2,364.8 L1230.2,365.8 L662.8,365.8 Z" fill="#e377c2" fill-opacity="0.5" stroke="#fff" stroke-width="1.6" stroke-linejoin="round" stroke-opacity="0.95"/></g>
<rect x="1119.4" y="320.9" width="102" height="31" rx="4" fill="#fff" fill-opacity="0.8" stroke="#d6d6d6" stroke-width="1"/>
<rect x="1126" y="329.6" width="36" height="12.4" fill="#f1bbe0" stroke="#e377c2" stroke-opacity="0.5" stroke-width="1"/>
<text x="1175.7" y="341.1" font-family="'DejaVu Sans', 'Liberation Sans', sans-serif" font-size="17.5">0.90</text>
<g clip-path="url(#c1_5)"><use href="#r1" transform="translate(0,270.5)" fill="#7f7f7f" stroke="#000" stroke-width="1.6" stroke-linejoin="round"/><path d="M662.8,419.8 L668.8,419.8 L674.7,419.8 L680.7,419.8 L686.7,419.7 L692.7,419.7 L698.6,419.6 L704.6,419.4 L710.6,419 L716.6,418.6 L722.5,418 L728.5,417.4 L734.5,416.3 L740.4,414.8 L746.4,412.8 L752.4,411 L758.4,407.9 L764.3,405.7 L770.3,401.9 L776.3,396.9 L782.3,392.9 L788.2,388.8 L794.2,383.9 L800.2,381.4 L806.1,376.9 L812.1,376.7 L818.1,375.1 L824.1,372.8 L830,371.7 L836,376.4 L842,374.9 L848,373.4 L853.9,372.4 L859.9,372.7 L865.9,375.9 L871.8,375.3 L877.8,377.2 L883.8,373.9 L889.8,378.1 L895.7,379.1 L901.7,379.4 L907.7,379.7 L913.7,383.5 L919.6,383.4 L925.6,385.5 L931.6,385.3 L937.5,387.2 L943.5,388.1 L949.5,390.7 L955.5,393.3 L961.4,392.5 L967.4,396.1 L973.4,398.5 L979.3,397.8 L985.3,399.1 L991.3,401.2 L997.3,401.9 L1003.2,403.4 L1009.2,404.9 L1015.2,406.2 L1021.2,406.7 L1027.1,407.3 L1033.1,409.2 L1039.1,409.5 L1045,410.8 L1051,411.4 L1057,412 L1063,412.7 L1068.9,413.2 L1074.9,414.4 L1080.9,414.4 L1086.9,415.1 L1092.8,415.3 L1098.8,416 L1104.8,416.3 L1110.7,416.8 L1116.7,417.2 L1122.7,417.4 L1128.7,417.6 L1134.6,417.7 L1140.6,417.8 L1146.6,418.2 L1152.6,418.4 L1158.5,418.4 L1164.5,418.7 L1170.5,418.8 L1176.4,419 L1182.4,419 L1188.4,419.2 L1194.4,419.2 L1200.3,419.2 L1206.3,419.4 L1212.3,419.4 L1218.3,419.5 L1224.2,419.5 L1230.2,419.6 L1230.2,419.8 L662.8,419.8 Z" fill="#d62728" fill-opacity="0.5" stroke="#fff" stroke-width="1.6" stroke-linejoin="round" stroke-opacity="0.95"/></g>
<rect x="1119.4" y="375" width="102" height="31" rx="4" fill="#fff" fill-opacity="0.8" stroke="#d6d6d6" stroke-width="1"/>
<rect x="1126" y="383.7" width="36" height="12.4" fill="#ea9394" stroke="#d62728" stroke-opacity="0.5" stroke-width="1"/>
<text x="1175.7" y="395.2" font-family="'DejaVu Sans', 'Liberation Sans', sans-serif" font-size="17.5">0.82</text>
<g clip-path="url(#c1_6)"><use href="#r1" transform="translate(0,324.5)" fill="#7f7f7f" stroke="#000" stroke-width="1.6" stroke-linejoin="round"/><path d="M662.8,473.9 L668.8,473.9 L674.7,473.9 L680.7,473.9 L686.7,473.8 L692.7,473.8 L698.6,473.7 L704.6,473.6 L710.6,473.4 L716.6,473.3 L722.5,472.8 L728.5,472.6 L734.5,472 L740.4,471.2 L746.4,470.5 L752.4,469 L758.4,467.5 L764.3,465.5 L770.3,463.9 L776.3,460.7 L782.3,458.4 L788.2,455.3 L794.2,452.2 L800.2,449.9 L806.1,446.1 L812.1,442.2 L818.1,439 L824.1,435.1 L830,433.7 L836,431 L842,430.5 L848,431.7 L853.9,431.9 L859.9,428.5 L865.9,433.1 L871.8,430.4 L877.8,430.9 L883.8,429.1 L889.8,432.7 L895.7,431.5 L901.7,431.6 L907.7,432 L913.7,433.1 L919.6,431.6 L925.6,433.5 L931.6,433.9 L937.5,436.3 L943.5,437 L949.5,437.4 L955.5,440 L961.4,439.4 L967.4,439.2 L973.4,442.7 L979.3,445 L985.3,444.2 L991.3,447 L997.3,447.5 L1003.2,449.4 L1009.2,451 L1015.2,451.8 L1021.2,452.3 L1027.1,454.3 L1033.1,454.3 L1039.1,455.6 L1045,456.2 L1051,458.2 L1057,459.5 L1063,459.6 L1068.9,460.3 L1074.9,462.1 L1080.9,463.1 L1086.9,463.1 L1092.8,463.6 L1098.8,464.8 L1104.8,466 L1110.7,466.6 L1116.7,466.8 L1122.7,467.5 L1128.7,467.6 L1134.6,468.2 L1140.6,468.7 L1146.6,469.1 L1152.6,469.5 L1158.5,470.1 L1164.5,470.1 L1170.5,470.6 L1176.4,470.9 L1182.4,470.9 L1188.4,471.5 L1194.4,471.6 L1200.3,471.8 L1206.3,472.1 L1212.3,472.3 L1218.3,472.5 L1224.2,472.4 L1230.2,472.5 L1230.2,473.9 L662.8,473.9 Z" fill="#ff7f0e" fill-opacity="0.5" stroke="#fff" stroke-width="1.6" stroke-linejoin="round" stroke-opacity="0.95"/></g>
<rect x="1119.4" y="429" width="102" height="31" rx="4" fill="#fff" fill-opacity="0.8" stroke="#d6d6d6" stroke-width="1"/>
<rect x="1126" y="437.7" width="36" height="12.4" fill="#ffbf86" stroke="#ff7f0e" stroke-opacity="0.5" stroke-width="1"/>
<text x="1175.7" y="449.2" font-family="'DejaVu Sans', 'Liberation Sans', sans-serif" font-size="17.5">0.95</text>
<g clip-path="url(#c1_7)"><use href="#r1" transform="translate(0,378.6)" fill="#7f7f7f" stroke="#000" stroke-width="1.6" stroke-linejoin="round"/><path d="M662.8,528 L668.8,528 L674.7,528 L680.7,528 L686.7,528 L692.7,528 L698.6,527.9 L704.6,527.9 L710.6,527.8 L716.6,527.7 L722.5,527.4 L728.5,527 L734.5,526.5 L740.4,525.9 L746.4,525 L752.4,524 L758.4,522.3 L764.3,520.5 L770.3,517.2 L776.3,515.2 L782.3,511.2 L788.2,507.1 L794.2,505.1 L800.2,501.6 L806.1,497.3 L812.1,494.3 L818.1,491.8 L824.1,487.3 L830,489 L836,484.3 L842,488.1 L848,486.3 L853.9,485.4 L859.9,485.2 L865.9,488.6 L871.8,487.8 L877.8,486.1 L883.8,487.2 L889.8,487.2 L895.7,485.1 L901.7,487.7 L907.7,486.6 L913.7,488.4 L919.6,489.1 L925.6,491 L931.6,489.9 L937.5,491.1 L943.5,491.5 L949.5,491.8 L955.5,493.4 L961.4,495.2 L967.4,496.8 L973.4,498 L979.3,498.7 L985.3,501.1 L991.3,502.2 L997.3,501.7 L1003.2,503.9 L1009.2,506.1 L1015.2,505.5 L1021.2,507.7 L1027.1,509.5 L1033.1,509.1 L1039.1,510.9 L1045,511.3 L1051,512.2 L1057,513.9 L1063,514.2 L1068.9,516 L1074.9,516.6 L1080.9,516.3 L1086.9,518.3 L1092.8,518.9 L1098.8,519.2 L1104.8,520.3 L1110.7,520.4 L1116.7,521.2 L1122.7,521.6 L1128.7,521.6 L1134.6,522.3 L1140.6,523.1 L1146.6,523.6 L1152.6,523.9 L1158.5,523.8 L1164.5,524.5 L1170.5,524.6 L1176.4,524.8 L1182.4,525.1 L1188.4,525.3 L1194.4,525.5 L1200.3,525.9 L1206.3,526.2 L1212.3,526.4 L1218.3,526.4 L1224.2,526.7 L1230.2,526.7 L1230.2,528 L662.8,528 Z" fill="#17becf" fill-opacity="0.5" stroke="#fff" stroke-width="1.6" stroke-linejoin="round" stroke-opacity="0.95"/></g>
<rect x="1119.4" y="483.1" width="102" height="31" rx="4" fill="#fff" fill-opacity="0.8" stroke="#d6d6d6" stroke-width="1"/>
<rect x="1126" y="491.8" width="36" height="12.4" fill="#8bdee7" stroke="#17becf" stroke-opacity="0.5" stroke-width="1"/>
<text x="1175.7" y="503.3" font-family="'DejaVu Sans', 'Liberation Sans', sans-serif" font-size="17.5">0.93</text>
<g clip-path="url(#c1_8)"><use href="#r1" transform="translate(0,432.7)" fill="#7f7f7f" stroke="#000" stroke-width="1.6" stroke-linejoin="round"/><path d="M662.8,582.1 L668.8,582.1 L674.7,582 L680.7,582 L686.7,581.9 L692.7,581.7 L698.6,581.4 L704.6,581.2 L710.6,580.8 L716.6,580 L722.5,579.2 L728.5,578.5 L734.5,577 L740.4,575.4 L746.4,573.7 L752.4,571.3 L758.4,568.2 L764.3,564.1 L770.3,561.7 L776.3,557.5 L782.3,553.7 L788.2,549.8 L794.2,546.7 L800.2,543 L806.1,539.9 L812.1,539.4 L818.1,539.4 L824.1,540.5 L830,540.7 L836,539.2 L842,539 L848,538.1 L853.9,536.8 L859.9,540.2 L865.9,540.7 L871.8,541.9 L877.8,540.3 L883.8,541.5 L889.8,541.5 L895.7,543.8 L901.7,544.7 L907.7,546.6 L913.7,545.4 L919.6,548.8 L925.6,549.2 L931.6,549.9 L937.5,550.2 L943.5,552.5 L949.5,552.6 L955.5,555.2 L961.4,556.6 L967.4,557.9 L973.4,558.1 L979.3,560.9 L985.3,561.9 L991.3,563.1 L997.3,563 L1003.2,565.5 L1009.2,564.8 L1015.2,565.9 L1021.2,567.1 L1027.1,568.8 L1033.1,568.5 L1039.1,569.5 L1045,570.9 L1051,571.1 L1057,572.9 L1063,572.9 L1068.9,573.6 L1074.9,574.2 L1080.9,575.1 L1086.9,575.5 L1092.8,575.8 L1098.8,576.7 L1104.8,577 L1110.7,577.7 L1116.7,577.7 L1122.7,578.1 L1128.7,578.4 L1134.6,578.9 L1140.6,579 L1146.6,579.2 L1152.6,579.6 L1158.5,579.6 L1164.5,580 L1170.5,580.1 L1176.4,580.4 L1182.4,580.5 L1188.4,580.7 L1194.4,580.9 L1200.3,581 L1206.3,581.1 L1212.3,581.2 L1218.3,581.3 L1224.2,581.3 L1230.2,581.3 L1230.2,582.1 L662.8,582.1 Z" fill="#7f7f7f" fill-opacity="0.5" stroke="#fff" stroke-width="1.6" stroke-linejoin="round" stroke-opacity="0.95"/></g>
<rect x="1119.4" y="537.2" width="102" height="31" rx="4" fill="#fff" fill-opacity="0.8" stroke="#d6d6d6" stroke-width="1"/>
<rect x="1126" y="545.9" width="36" height="12.4" fill="#bfbfbf" stroke="#7f7f7f" stroke-opacity="0.5" stroke-width="1"/>
<text x="1175.7" y="557.4" font-family="'DejaVu Sans', 'Liberation Sans', sans-serif" font-size="17.5">0.82</text>
<g clip-path="url(#c1_9)"><use href="#r1" transform="translate(0,486.8)" fill="#7f7f7f" stroke="#000" stroke-width="1.6" stroke-linejoin="round"/><path d="M662.8,636.2 L668.8,636.2 L674.7,636.1 L680.7,636.1 L686.7,636 L692.7,635.8 L698.6,635.6 L704.6,635.2 L710.6,634.4 L716.6,633.6 L722.5,632.6 L728.5,631.4 L734.5,628.9 L740.4,626.7 L746.4,623.5 L752.4,620.3 L758.4,615.3 L764.3,612.3 L770.3,607 L776.3,602.7 L782.3,599.2 L788.2,596.4 L794.2,591.2 L800.2,591.8 L806.1,591.7 L812.1,592.4 L818.1,590.2 L824.1,589.1 L830,590.6 L836,589.1 L842,589.1 L848,592.1 L853.9,589.4 L859.9,593.1 L865.9,593.1 L871.8,591 L877.8,593.7 L883.8,593.1 L889.8,595 L895.7,596.6 L901.7,599.1 L907.7,598.7 L913.7,602.5 L919.6,601.7 L925.6,604.5 L931.6,607.4 L937.5,608.2 L943.5,607.7 L949.5,609.8 L955.5,612.1 L961.4,612.6 L967.4,613.4 L973.4,613.9 L979.3,616.6 L985.3,617.8 L991.3,618.1 L997.3,618.7 L1003.2,621.1 L1009.2,622.5 L1015.2,622.7 L1021.2,622.9 L1027.1,624.3 L1033.1,625.8 L1039.1,626.3 L1045,627.3 L1051,627.3 L1057,628.5 L1063,629.1 L1068.9,629.6 L1074.9,629.7 L1080.9,630.8 L1086.9,630.7 L1092.8,631.5 L1098.8,632.2 L1104.8,632.3 L1110.7,632.7 L1116.7,633 L1122.7,632.9 L1128.7,633.4 L1134.6,633.8 L1140.6,634.1 L1146.6,634.1 L1152.6,634.5 L1158.5,634.6 L1164.5,634.6 L1170.5,634.9 L1176.4,634.9 L1182.4,635.2 L1188.4,635.3 L1194.4,635.4 L1200.3,635.4 L1206.3,635.6 L1212.3,635.6 L1218.3,635.7 L1224.2,635.7 L1230.2,635.7 L1230.2,636.2 L662.8,636.2 Z" fill="#9467bd" fill-opacity="0.5" stroke="#fff" stroke-width="1.6" stroke-linejoin="round" stroke-opacity="0.95"/></g>
<rect x="1119.4" y="591.3" width="102" height="31" rx="4" fill="#fff" fill-opacity="0.8" stroke="#d6d6d6" stroke-width="1"/>
<rect x="1126" y="600" width="36" height="12.4" fill="#cab3de" stroke="#9467bd" stroke-opacity="0.5" stroke-width="1"/>
<text x="1175.7" y="611.5" font-family="'DejaVu Sans', 'Liberation Sans', sans-serif" font-size="17.5">0.78</text>
<line x1="662.8" y1="149.4" x2="1230.2" y2="149.4" stroke="#222" stroke-width="1.5"/>
<line x1="662.8" y1="203.5" x2="1230.2" y2="203.5" stroke="#222" stroke-width="1.5"/>
<line x1="662.8" y1="257.6" x2="1230.2" y2="257.6" stroke="#222" stroke-width="1.5"/>
<line x1="662.8" y1="311.7" x2="1230.2" y2="311.7" stroke="#222" stroke-width="1.5"/>
<line x1="662.8" y1="365.8" x2="1230.2" y2="365.8" stroke="#222" stroke-width="1.5"/>
<line x1="662.8" y1="419.8" x2="1230.2" y2="419.8" stroke="#222" stroke-width="1.5"/>
<line x1="662.8" y1="473.9" x2="1230.2" y2="473.9" stroke="#222" stroke-width="1.5"/>
<line x1="662.8" y1="528" x2="1230.2" y2="528" stroke="#222" stroke-width="1.5"/>
<line x1="662.8" y1="582.1" x2="1230.2" y2="582.1" stroke="#222" stroke-width="1.5"/>
<rect x="662.8" y="95.3" width="567.4" height="540.9" fill="none" stroke="#222" stroke-width="1.3"/>
<line x1="686.3" y1="636.2" x2="686.3" y2="639.7" stroke="#222" stroke-width="1"/>
<text x="686.3" y="655.8" text-anchor="middle" font-family="'DejaVu Sans', 'Liberation Sans', sans-serif" font-size="17.2">4</text>
<line x1="761.7" y1="636.2" x2="761.7" y2="639.7" stroke="#222" stroke-width="1"/>
<text x="761.7" y="655.8" text-anchor="middle" font-family="'DejaVu Sans', 'Liberation Sans', sans-serif" font-size="17.2">5</text>
<line x1="837.1" y1="636.2" x2="837.1" y2="639.7" stroke="#222" stroke-width="1"/>
<text x="837.1" y="655.8" text-anchor="middle" font-family="'DejaVu Sans', 'Liberation Sans', sans-serif" font-size="17.2">6</text>
<line x1="912.5" y1="636.2" x2="912.5" y2="639.7" stroke="#222" stroke-width="1"/>
<text x="912.5" y="655.8" text-anchor="middle" font-family="'DejaVu Sans', 'Liberation Sans', sans-serif" font-size="17.2">7</text>
<line x1="987.9" y1="636.2" x2="987.9" y2="639.7" stroke="#222" stroke-width="1"/>
<text x="987.9" y="655.8" text-anchor="middle" font-family="'DejaVu Sans', 'Liberation Sans', sans-serif" font-size="17.2">8</text>
<line x1="1063.3" y1="636.2" x2="1063.3" y2="639.7" stroke="#222" stroke-width="1"/>
<text x="1063.3" y="655.8" text-anchor="middle" font-family="'DejaVu Sans', 'Liberation Sans', sans-serif" font-size="17.2">9</text>
<line x1="1138.7" y1="636.2" x2="1138.7" y2="639.7" stroke="#222" stroke-width="1"/>
<text x="1138.7" y="655.8" text-anchor="middle" font-family="'DejaVu Sans', 'Liberation Sans', sans-serif" font-size="17.2">10</text>
<line x1="1214.1" y1="636.2" x2="1214.1" y2="639.7" stroke="#222" stroke-width="1"/>
<text x="1214.1" y="655.8" text-anchor="middle" font-family="'DejaVu Sans', 'Liberation Sans', sans-serif" font-size="17.2">11</text>
<line x1="659.3" y1="636.2" x2="662.8" y2="636.2" stroke="#222" stroke-width="1"/>
<text x="656.2" y="643.1" text-anchor="end" font-family="'DejaVu Sans', 'Liberation Sans', sans-serif" font-size="17.2">0</text>
<line x1="659.3" y1="600.7" x2="662.8" y2="600.7" stroke="#222" stroke-width="1"/>
<text x="656.2" y="607.6" text-anchor="end" font-family="'DejaVu Sans', 'Liberation Sans', sans-serif" font-size="17.2">2</text>
<text x="1236.3" y="683.7" text-anchor="end" font-family="'Liberation Sans', Arial, sans-serif" font-size="22">[μm]</text>
<text x="937.5" y="78.6" text-anchor="middle" font-family="'Liberation Sans', Arial, sans-serif" font-weight="bold" font-size="33.5">Perim</text>
<clipPath id="c2_0"><rect x="1282.8" y="95.3" width="566.6" height="54.1"/></clipPath>
<clipPath id="c2_1"><rect x="1282.8" y="149.4" width="566.6" height="54.1"/></clipPath>
<clipPath id="c2_2"><rect x="1282.8" y="203.5" width="566.6" height="54.1"/></clipPath>
<clipPath id="c2_3"><rect x="1282.8" y="257.6" width="566.6" height="54.1"/></clipPath>
<clipPath id="c2_4"><rect x="1282.8" y="311.7" width="566.6" height="54.1"/></clipPath>
<clipPath id="c2_5"><rect x="1282.8" y="365.8" width="566.6" height="54.1"/></clipPath>
<clipPath id="c2_6"><rect x="1282.8" y="419.8" width="566.6" height="54.1"/></clipPath>
<clipPath id="c2_7"><rect x="1282.8" y="473.9" width="566.6" height="54.1"/></clipPath>
<clipPath id="c2_8"><rect x="1282.8" y="528" width="566.6" height="54.1"/></clipPath>
<clipPath id="c2_9"><rect x="1282.8" y="582.1" width="566.6" height="54.1"/></clipPath>
<defs><path id="r2" d="M1282.8,149.4 L1288.8,149.4 L1294.7,149.4 L1300.7,149.3 L1306.7,149.3 L1312.6,149.3 L1318.6,149.2 L1324.5,149.1 L1330.5,149 L1336.5,148.8 L1342.4,148.5 L1348.4,148.2 L1354.4,147.6 L1360.3,146.7 L1366.3,145.3 L1372.3,144.3 L1378.2,142.6 L1384.2,140.6 L1390.2,138.7 L1396.1,136.5 L1402.1,132.6 L1408,129.3 L1414,124.6 L1420,123.7 L1425.9,119.2 L1431.9,116.7 L1437.9,113 L1443.8,109.3 L1449.8,108.1 L1455.8,110.5 L1461.7,109.3 L1467.7,106.5 L1473.7,109.3 L1479.6,106.8 L1485.6,109.3 L1491.5,107.9 L1497.5,108.5 L1503.5,108.2 L1509.4,108.9 L1515.4,107.5 L1521.4,108 L1527.3,111.7 L1533.3,109.4 L1539.3,112.5 L1545.2,113.1 L1551.2,114.5 L1557.2,116.5 L1563.1,115.8 L1569.1,117.5 L1575,119.4 L1581,120.6 L1587,121.7 L1592.9,122.7 L1598.9,122.9 L1604.9,124.1 L1610.8,126.4 L1616.8,127.3 L1622.8,128.3 L1628.7,130.2 L1634.7,130.5 L1640.7,131.6 L1646.6,132.9 L1652.6,134.2 L1658.5,134.9 L1664.5,136.5 L1670.5,137 L1676.4,137.8 L1682.4,138.2 L1688.4,139.3 L1694.3,139.4 L1700.3,141.1 L1706.3,141.3 L1712.2,141.8 L1718.2,142.6 L1724.2,142.5 L1730.1,143.7 L1736.1,144.2 L1742,144.1 L1748,144.8 L1754,145.4 L1759.9,145.6 L1765.9,145.6 L1771.9,146.1 L1777.8,146.2 L1783.8,146.6 L1789.8,146.9 L1795.7,147 L1801.7,147.2 L1807.7,147.4 L1813.6,147.7 L1819.6,147.9 L1825.5,147.9 L1831.5,148.1 L1837.5,148.3 L1843.4,148.3 L1849.4,148.5 L1849.4,149.4 L1282.8,149.4 Z"/></defs>
<g clip-path="url(#c2_0)"><use href="#r2" transform="translate(0,0)" fill="#7f7f7f" stroke="#000" stroke-width="1.6" stroke-linejoin="round"/><path d="M1282.8,148.5 L1288.8,148.1 L1294.7,147.3 L1300.7,146.5 L1306.7,145.4 L1312.6,143.6 L1318.6,141.4 L1324.5,138.4 L1330.5,135.8 L1336.5,131.3 L1342.4,126.8 L1348.4,123.1 L1354.4,118.8 L1360.3,113.8 L1366.3,110.1 L1372.3,108.3 L1378.2,105.8 L1384.2,107.9 L1390.2,107 L1396.1,106.5 L1402.1,105.7 L1408,105 L1414,105.8 L1420,106.5 L1425.9,108.3 L1431.9,106.5 L1437.9,108.1 L1443.8,104.8 L1449.8,108.2 L1455.8,105 L1461.7,106.2 L1467.7,106.1 L1473.7,106.7 L1479.6,108.5 L1485.6,112.5 L1491.5,111.6 L1497.5,114.2 L1503.5,113.8 L1509.4,113.9 L1515.4,117.9 L1521.4,119.2 L1527.3,119 L1533.3,119.6 L1539.3,122 L1545.2,123.6 L1551.2,123.2 L1557.2,127 L1563.1,126.4 L1569.1,127.8 L1575,129 L1581,130.2 L1587,132.3 L1592.9,132.7 L1598.9,133.6 L1604.9,135.3 L1610.8,136.4 L1616.8,136.1 L1622.8,136.7 L1628.7,138.6 L1634.7,139.2 L1640.7,140 L1646.6,140.7 L1652.6,141.1 L1658.5,141.8 L1664.5,142.5 L1670.5,142.9 L1676.4,143.5 L1682.4,144 L1688.4,144.5 L1694.3,144.5 L1700.3,145.5 L1706.3,145.3 L1712.2,145.7 L1718.2,146.4 L1724.2,146.3 L1730.1,146.6 L1736.1,146.9 L1742,146.9 L1748,147.6 L1754,147.7 L1759.9,147.6 L1765.9,147.9 L1771.9,148 L1777.8,148.2 L1783.8,148.4 L1789.8,148.4 L1795.7,148.5 L1801.7,148.7 L1807.7,148.7 L1813.6,148.8 L1819.6,148.9 L1825.5,148.9 L1831.5,148.9 L1837.5,149 L1843.4,149 L1849.4,149.1 L1849.4,149.4 L1282.8,149.4 Z" fill="#8c564b" fill-opacity="0.5" stroke="#fff" stroke-width="1.6" stroke-linejoin="round" stroke-opacity="0.95"/></g>
<rect x="1738.6" y="104.5" width="102" height="31" rx="4" fill="#fff" fill-opacity="0.8" stroke="#d6d6d6" stroke-width="1"/>
<rect x="1745.2" y="113.2" width="36" height="12.4" fill="#c6aaa5" stroke="#8c564b" stroke-opacity="0.5" stroke-width="1"/>
<text x="1794.9" y="124.7" font-family="'DejaVu Sans', 'Liberation Sans', sans-serif" font-size="17.5">0.72</text>
<g clip-path="url(#c2_1)"><use href="#r2" transform="translate(0,54.1)" fill="#7f7f7f" stroke="#000" stroke-width="1.6" stroke-linejoin="round"/><path d="M1282.8,203.4 L1288.8,203.4 L1294.7,203.3 L1300.7,203.1 L1306.7,202.8 L1312.6,202.3 L1318.6,201.3 L1324.5,200 L1330.5,198.1 L1336.5,196.1 L1342.4,192.3 L1348.4,187.2 L1354.4,182.5 L1360.3,176.9 L1366.3,171.5 L1372.3,164.8 L1378.2,161.8 L1384.2,158.8 L1390.2,154.9 L1396.1,156.6 L1402.1,156.4 L1408,155.4 L1414,155.7 L1420,156.2 L1425.9,153.2 L1431.9,155.9 L1437.9,154.7 L1443.8,154.4 L1449.8,156.8 L1455.8,155.8 L1461.7,155.9 L1467.7,158.6 L1473.7,160.7 L1479.6,158.8 L1485.6,161.9 L1491.5,164.1 L1497.5,166.4 L1503.5,168 L1509.4,167.5 L1515.4,167.9 L1521.4,172 L1527.3,170.7 L1533.3,174.6 L1539.3,176 L1545.2,176.9 L1551.2,178.8 L1557.2,179.5 L1563.1,180.2 L1569.1,182.5 L1575,182.8 L1581,185.7 L1587,186 L1592.9,188.1 L1598.9,188.2 L1604.9,189.3 L1610.8,190.5 L1616.8,191.6 L1622.8,192.3 L1628.7,192.8 L1634.7,193.4 L1640.7,194.1 L1646.6,195.1 L1652.6,196 L1658.5,196.7 L1664.5,197.3 L1670.5,197.6 L1676.4,198 L1682.4,198.2 L1688.4,199 L1694.3,199.5 L1700.3,200.1 L1706.3,200.1 L1712.2,200.5 L1718.2,200.8 L1724.2,200.9 L1730.1,201.2 L1736.1,201.6 L1742,201.7 L1748,201.8 L1754,201.9 L1759.9,202.1 L1765.9,202.4 L1771.9,202.5 L1777.8,202.5 L1783.8,202.7 L1789.8,202.7 L1795.7,202.8 L1801.7,202.9 L1807.7,202.9 L1813.6,203 L1819.6,203 L1825.5,203.1 L1831.5,203.1 L1837.5,203.2 L1843.4,203.2 L1849.4,203.2 L1849.4,203.5 L1282.8,203.5 Z" fill="#2ca02c" fill-opacity="0.5" stroke="#fff" stroke-width="1.6" stroke-linejoin="round" stroke-opacity="0.95"/></g>
<rect x="1738.6" y="158.6" width="102" height="31" rx="4" fill="#fff" fill-opacity="0.8" stroke="#d6d6d6" stroke-width="1"/>
<rect x="1745.2" y="167.3" width="36" height="12.4" fill="#96d096" stroke="#2ca02c" stroke-opacity="0.5" stroke-width="1"/>
<text x="1794.9" y="178.8" font-family="'DejaVu Sans', 'Liberation Sans', sans-serif" font-size="17.5">0.72</text>
<g clip-path="url(#c2_2)"><use href="#r2" transform="translate(0,108.2)" fill="#7f7f7f" stroke="#000" stroke-width="1.6" stroke-linejoin="round"/><path d="M1282.8,257.5 L1288.8,257.5 L1294.7,257.4 L1300.7,257.4 L1306.7,257.3 L1312.6,257.1 L1318.6,256.8 L1324.5,256.5 L1330.5,255.8 L1336.5,255.5 L1342.4,254.5 L1348.4,253.3 L1354.4,251.6 L1360.3,250.8 L1366.3,248.4 L1372.3,245.7 L1378.2,242.8 L1384.2,240.6 L1390.2,237.7 L1396.1,231.7 L1402.1,228.7 L1408,225.1 L1414,225.2 L1420,222.6 L1425.9,222.6 L1431.9,220.3 L1437.9,219.1 L1443.8,221.5 L1449.8,221.2 L1455.8,219 L1461.7,220.6 L1467.7,220.6 L1473.7,221.4 L1479.6,219.2 L1485.6,220.7 L1491.5,219.9 L1497.5,219.2 L1503.5,218.5 L1509.4,220.9 L1515.4,217.6 L1521.4,218.5 L1527.3,220.8 L1533.3,221.1 L1539.3,221.9 L1545.2,221.8 L1551.2,222.3 L1557.2,223.8 L1563.1,224 L1569.1,224.6 L1575,227.8 L1581,229.3 L1587,228.3 L1592.9,228.8 L1598.9,232.1 L1604.9,233.8 L1610.8,233.5 L1616.8,234.2 L1622.8,236.5 L1628.7,236.6 L1634.7,239.3 L1640.7,238.6 L1646.6,240.7 L1652.6,239.8 L1658.5,241.1 L1664.5,242.6 L1670.5,244.1 L1676.4,244.6 L1682.4,245.2 L1688.4,246.1 L1694.3,246.6 L1700.3,247.4 L1706.3,247.7 L1712.2,248.8 L1718.2,249.7 L1724.2,249.9 L1730.1,250.2 L1736.1,251.1 L1742,251.5 L1748,251.6 L1754,252.2 L1759.9,252.9 L1765.9,253.1 L1771.9,253.5 L1777.8,253.9 L1783.8,254 L1789.8,254.4 L1795.7,254.5 L1801.7,255.2 L1807.7,255 L1813.6,255.2 L1819.6,255.4 L1825.5,255.9 L1831.5,256.1 L1837.5,256.1 L1843.4,256.1 L1849.4,256.5 L1849.4,257.6 L1282.8,257.6 Z" fill="#1f77b4" fill-opacity="0.5" stroke="#fff" stroke-width="1.6" stroke-linejoin="round" stroke-opacity="0.95"/></g>
<rect x="1738.6" y="212.7" width="102" height="31" rx="4" fill="#fff" fill-opacity="0.8" stroke="#d6d6d6" stroke-width="1"/>
<rect x="1745.2" y="221.4" width="36" height="12.4" fill="#8fbbda" stroke="#1f77b4" stroke-opacity="0.5" stroke-width="1"/>
<text x="1794.9" y="232.9" font-family="'DejaVu Sans', 'Liberation Sans', sans-serif" font-size="17.5">0.91</text>
<g clip-path="url(#c2_3)"><use href="#r2" transform="translate(0,162.3)" fill="#7f7f7f" stroke="#000" stroke-width="1.6" stroke-linejoin="round"/><path d="M1282.8,311.6 L1288.8,311.6 L1294.7,311.5 L1300.7,311.4 L1306.7,311.3 L1312.6,311 L1318.6,310.8 L1324.5,310.2 L1330.5,309.4 L1336.5,308.8 L1342.4,307.8 L1348.4,305.9 L1354.4,304.4 L1360.3,301.9 L1366.3,299.6 L1372.3,296.2 L1378.2,293.3 L1384.2,288.5 L1390.2,285.3 L1396.1,283.5 L1402.1,279.4 L1408,278 L1414,275 L1420,274.8 L1425.9,272 L1431.9,272.6 L1437.9,274.1 L1443.8,272.8 L1449.8,271.7 L1455.8,271 L1461.7,274.2 L1467.7,271.5 L1473.7,273.6 L1479.6,272.9 L1485.6,272.1 L1491.5,272.4 L1497.5,274.5 L1503.5,272.6 L1509.4,272.1 L1515.4,271.5 L1521.4,270.9 L1527.3,273.3 L1533.3,272.9 L1539.3,273.5 L1545.2,275.6 L1551.2,276.4 L1557.2,277.7 L1563.1,280.4 L1569.1,278.6 L1575,279.4 L1581,281.1 L1587,282 L1592.9,284.3 L1598.9,285 L1604.9,287.4 L1610.8,287 L1616.8,287.4 L1622.8,289.5 L1628.7,290.9 L1634.7,291.9 L1640.7,293.8 L1646.6,293.6 L1652.6,295.1 L1658.5,295.3 L1664.5,297.5 L1670.5,297.4 L1676.4,298.8 L1682.4,299.2 L1688.4,300.6 L1694.3,301.5 L1700.3,302.1 L1706.3,302.7 L1712.2,303.6 L1718.2,303.8 L1724.2,303.9 L1730.1,304.8 L1736.1,305.3 L1742,305.8 L1748,306.7 L1754,306.8 L1759.9,306.9 L1765.9,307.6 L1771.9,307.9 L1777.8,308.3 L1783.8,308.4 L1789.8,308.6 L1795.7,309.2 L1801.7,309.2 L1807.7,309.5 L1813.6,309.6 L1819.6,309.7 L1825.5,309.9 L1831.5,310 L1837.5,310.2 L1843.4,310.3 L1849.4,310.5 L1849.4,311.7 L1282.8,311.7 Z" fill="#bcbd22" fill-opacity="0.5" stroke="#fff" stroke-width="1.6" stroke-linejoin="round" stroke-opacity="0.95"/></g>
<rect x="1738.6" y="266.8" width="102" height="31" rx="4" fill="#fff" fill-opacity="0.8" stroke="#d6d6d6" stroke-width="1"/>
<rect x="1745.2" y="275.5" width="36" height="12.4" fill="#dede90" stroke="#bcbd22" stroke-opacity="0.5" stroke-width="1"/>
<text x="1794.9" y="287" font-family="'DejaVu Sans', 'Liberation Sans', sans-serif" font-size="17.5">0.89</text>
<g clip-path="url(#c2_4)"><use href="#r2" transform="translate(0,216.4)" fill="#7f7f7f" stroke="#000" stroke-width="1.6" stroke-linejoin="round"/><path d="M1282.8,365.7 L1288.8,365.7 L1294.7,365.6 L1300.7,365.5 L1306.7,365.4 L1312.6,365.3 L1318.6,365 L1324.5,364.7 L1330.5,364.1 L1336.5,363.4 L1342.4,362.8 L1348.4,361.2 L1354.4,359.8 L1360.3,358.4 L1366.3,356.6 L1372.3,353.9 L1378.2,350.9 L1384.2,349.1 L1390.2,343.8 L1396.1,341.6 L1402.1,338 L1408,333.7 L1414,331.1 L1420,328.9 L1425.9,325.9 L1431.9,324.2 L1437.9,324.2 L1443.8,322.8 L1449.8,321.8 L1455.8,323.5 L1461.7,323.1 L1467.7,325.2 L1473.7,323.6 L1479.6,323.4 L1485.6,324.5 L1491.5,323.7 L1497.5,324.2 L1503.5,325 L1509.4,325.7 L1515.4,325 L1521.4,326.8 L1527.3,325.3 L1533.3,325.6 L1539.3,329.4 L1545.2,331.3 L1551.2,329.5 L1557.2,331.6 L1563.1,333.4 L1569.1,333.5 L1575,335.4 L1581,337.9 L1587,338.1 L1592.9,337.6 L1598.9,341.6 L1604.9,340.6 L1610.8,343 L1616.8,343.7 L1622.8,344.5 L1628.7,345.2 L1634.7,347.5 L1640.7,349.1 L1646.6,349.5 L1652.6,349.8 L1658.5,351.9 L1664.5,351.6 L1670.5,352.6 L1676.4,353.4 L1682.4,354.1 L1688.4,355.6 L1694.3,356.4 L1700.3,357.1 L1706.3,356.7 L1712.2,357.9 L1718.2,358.2 L1724.2,358.8 L1730.1,359.6 L1736.1,360 L1742,360.2 L1748,361.1 L1754,361 L1759.9,361.3 L1765.9,361.6 L1771.9,362.2 L1777.8,362.4 L1783.8,362.8 L1789.8,363 L1795.7,363.2 L1801.7,363.5 L1807.7,363.6 L1813.6,363.8 L1819.6,364.1 L1825.5,364.3 L1831.5,364.2 L1837.5,364.4 L1843.4,364.6 L1849.4,364.7 L1849.4,365.8 L1282.8,365.8 Z" fill="#e377c2" fill-opacity="0.5" stroke="#fff" stroke-width="1.6" stroke-linejoin="round" stroke-opacity="0.95"/></g>
<rect x="1738.6" y="320.9" width="102" height="31" rx="4" fill="#fff" fill-opacity="0.8" stroke="#d6d6d6" stroke-width="1"/>
<rect x="1745.2" y="329.6" width="36" height="12.4" fill="#f1bbe0" stroke="#e377c2" stroke-opacity="0.5" stroke-width="1"/>
<text x="1794.9" y="341.1" font-family="'DejaVu Sans', 'Liberation Sans', sans-serif" font-size="17.5">0.89</text>
<g clip-path="url(#c2_5)"><use href="#r2" transform="translate(0,270.5)" fill="#7f7f7f" stroke="#000" stroke-width="1.6" stroke-linejoin="round"/><path d="M1282.8,419.8 L1288.8,419.7 L1294.7,419.7 L1300.7,419.5 L1306.7,419.3 L1312.6,418.8 L1318.6,418.3 L1324.5,417.2 L1330.5,415.8 L1336.5,413.8 L1342.4,411.8 L1348.4,408.4 L1354.4,403 L1360.3,399.3 L1366.3,394.8 L1372.3,390.4 L1378.2,383.8 L1384.2,379.4 L1390.2,378.9 L1396.1,374 L1402.1,373.2 L1408,372.5 L1414,373.2 L1420,373.2 L1425.9,374.1 L1431.9,376.9 L1437.9,374.6 L1443.8,374.2 L1449.8,373.2 L1455.8,376.2 L1461.7,374.8 L1467.7,376 L1473.7,375.9 L1479.6,377.1 L1485.6,379.5 L1491.5,380.6 L1497.5,379.3 L1503.5,383.3 L1509.4,382.7 L1515.4,386.4 L1521.4,385.4 L1527.3,387.2 L1533.3,387.9 L1539.3,390.3 L1545.2,392.1 L1551.2,393.6 L1557.2,394.5 L1563.1,396.2 L1569.1,396 L1575,397.3 L1581,399.2 L1587,400.6 L1592.9,401.4 L1598.9,402 L1604.9,403.6 L1610.8,404.1 L1616.8,406.8 L1622.8,407.1 L1628.7,407.1 L1634.7,408.6 L1640.7,409.9 L1646.6,409.9 L1652.6,410.6 L1658.5,411.6 L1664.5,412.5 L1670.5,412.7 L1676.4,413.5 L1682.4,413.7 L1688.4,414.2 L1694.3,414.8 L1700.3,415.2 L1706.3,415.6 L1712.2,415.8 L1718.2,416.2 L1724.2,416.6 L1730.1,417 L1736.1,417.4 L1742,417.2 L1748,417.8 L1754,418 L1759.9,417.9 L1765.9,418.3 L1771.9,418.4 L1777.8,418.7 L1783.8,418.6 L1789.8,418.8 L1795.7,418.9 L1801.7,419.1 L1807.7,419 L1813.6,419.1 L1819.6,419.2 L1825.5,419.3 L1831.5,419.3 L1837.5,419.4 L1843.4,419.4 L1849.4,419.5 L1849.4,419.8 L1282.8,419.8 Z" fill="#d62728" fill-opacity="0.5" stroke="#fff" stroke-width="1.6" stroke-linejoin="round" stroke-opacity="0.95"/></g>
<rect x="1738.6" y="375" width="102" height="31" rx="4" fill="#fff" fill-opacity="0.8" stroke="#d6d6d6" stroke-width="1"/>
<rect x="1745.2" y="383.7" width="36" height="12.4" fill="#ea9394" stroke="#d62728" stroke-opacity="0.5" stroke-width="1"/>
<text x="1794.9" y="395.2" font-family="'DejaVu Sans', 'Liberation Sans', sans-serif" font-size="17.5">0.78</text>
<g clip-path="url(#c2_6)"><use href="#r2" transform="translate(0,324.5)" fill="#7f7f7f" stroke="#000" stroke-width="1.6" stroke-linejoin="round"/><path d="M1282.8,473.9 L1288.8,473.8 L1294.7,473.8 L1300.7,473.7 L1306.7,473.6 L1312.6,473.5 L1318.6,473.4 L1324.5,473 L1330.5,472.8 L1336.5,472.2 L1342.4,471.6 L1348.4,470.8 L1354.4,469.8 L1360.3,468.6 L1366.3,467.1 L1372.3,465.1 L1378.2,463.3 L1384.2,460.2 L1390.2,458.2 L1396.1,456.4 L1402.1,452.3 L1408,449.3 L1414,445.5 L1420,442.6 L1425.9,439.8 L1431.9,437.4 L1437.9,436.4 L1443.8,434.7 L1449.8,432.4 L1455.8,431.4 L1461.7,435 L1467.7,432.8 L1473.7,435 L1479.6,433.2 L1485.6,433.1 L1491.5,434.4 L1497.5,431.2 L1503.5,435.5 L1509.4,432.5 L1515.4,431.4 L1521.4,434.3 L1527.3,435.7 L1533.3,434.7 L1539.3,434.8 L1545.2,435 L1551.2,437.2 L1557.2,437.1 L1563.1,437.8 L1569.1,441.4 L1575,441.6 L1581,443 L1587,441.6 L1592.9,443.2 L1598.9,445.7 L1604.9,446 L1610.8,446.8 L1616.8,449.5 L1622.8,450 L1628.7,450.6 L1634.7,451.5 L1640.7,454.2 L1646.6,455.2 L1652.6,454.4 L1658.5,457.1 L1664.5,457.1 L1670.5,458.7 L1676.4,459.7 L1682.4,459.1 L1688.4,460.9 L1694.3,462.1 L1700.3,462.3 L1706.3,462.5 L1712.2,463.6 L1718.2,464.5 L1724.2,464.6 L1730.1,465.4 L1736.1,466.4 L1742,466.8 L1748,467.1 L1754,467.5 L1759.9,468.2 L1765.9,468.2 L1771.9,469.1 L1777.8,469.4 L1783.8,469.6 L1789.8,470.1 L1795.7,470.7 L1801.7,470.6 L1807.7,471 L1813.6,471.1 L1819.6,471.4 L1825.5,471.8 L1831.5,472 L1837.5,471.9 L1843.4,472.3 L1849.4,472.2 L1849.4,473.9 L1282.8,473.9 Z" fill="#ff7f0e" fill-opacity="0.5" stroke="#fff" stroke-width="1.6" stroke-linejoin="round" stroke-opacity="0.95"/></g>
<rect x="1738.6" y="429" width="102" height="31" rx="4" fill="#fff" fill-opacity="0.8" stroke="#d6d6d6" stroke-width="1"/>
<rect x="1745.2" y="437.7" width="36" height="12.4" fill="#ffbf86" stroke="#ff7f0e" stroke-opacity="0.5" stroke-width="1"/>
<text x="1794.9" y="449.2" font-family="'DejaVu Sans', 'Liberation Sans', sans-serif" font-size="17.5">0.96</text>
<g clip-path="url(#c2_7)"><use href="#r2" transform="translate(0,378.6)" fill="#7f7f7f" stroke="#000" stroke-width="1.6" stroke-linejoin="round"/><path d="M1282.8,528 L1288.8,528 L1294.7,528 L1300.7,527.9 L1306.7,527.9 L1312.6,527.8 L1318.6,527.6 L1324.5,527.4 L1330.5,527 L1336.5,526.6 L1342.4,526.1 L1348.4,525.4 L1354.4,524.2 L1360.3,522.6 L1366.3,521.2 L1372.3,519 L1378.2,516.2 L1384.2,513 L1390.2,510.2 L1396.1,507.3 L1402.1,503.9 L1408,499.4 L1414,496 L1420,492.6 L1425.9,493.1 L1431.9,487.8 L1437.9,488.1 L1443.8,489.3 L1449.8,490.6 L1455.8,488.4 L1461.7,488.8 L1467.7,491.4 L1473.7,487.4 L1479.6,489.5 L1485.6,489.7 L1491.5,489.7 L1497.5,490.3 L1503.5,490.5 L1509.4,487.3 L1515.4,490.4 L1521.4,488.7 L1527.3,488.5 L1533.3,491.6 L1539.3,492.7 L1545.2,489.7 L1551.2,493.7 L1557.2,494.5 L1563.1,494.5 L1569.1,495.4 L1575,495.1 L1581,497.9 L1587,498.3 L1592.9,500.3 L1598.9,500.4 L1604.9,503.4 L1610.8,502 L1616.8,504.3 L1622.8,505.8 L1628.7,507.7 L1634.7,507.2 L1640.7,509.5 L1646.6,510.7 L1652.6,510.4 L1658.5,512.2 L1664.5,511.9 L1670.5,512.7 L1676.4,513.8 L1682.4,515.1 L1688.4,516.1 L1694.3,516.8 L1700.3,517.2 L1706.3,517.5 L1712.2,518.1 L1718.2,519.6 L1724.2,519.7 L1730.1,521.1 L1736.1,521 L1742,521.4 L1748,522.6 L1754,522.5 L1759.9,522.9 L1765.9,523.5 L1771.9,523.8 L1777.8,523.9 L1783.8,524.7 L1789.8,524.7 L1795.7,524.6 L1801.7,525.3 L1807.7,525.3 L1813.6,525.8 L1819.6,525.8 L1825.5,526.2 L1831.5,526.3 L1837.5,526.3 L1843.4,526.5 L1849.4,526.5 L1849.4,528 L1282.8,528 Z" fill="#17becf" fill-opacity="0.5" stroke="#fff" stroke-width="1.6" stroke-linejoin="round" stroke-opacity="0.95"/></g>
<rect x="1738.6" y="483.1" width="102" height="31" rx="4" fill="#fff" fill-opacity="0.8" stroke="#d6d6d6" stroke-width="1"/>
<rect x="1745.2" y="491.8" width="36" height="12.4" fill="#8bdee7" stroke="#17becf" stroke-opacity="0.5" stroke-width="1"/>
<text x="1794.9" y="503.3" font-family="'DejaVu Sans', 'Liberation Sans', sans-serif" font-size="17.5">0.95</text>
<g clip-path="url(#c2_8)"><use href="#r2" transform="translate(0,432.7)" fill="#7f7f7f" stroke="#000" stroke-width="1.6" stroke-linejoin="round"/><path d="M1282.8,582 L1288.8,581.9 L1294.7,581.7 L1300.7,581.3 L1306.7,580.9 L1312.6,579.9 L1318.6,578.3 L1324.5,576.2 L1330.5,574.4 L1336.5,570.6 L1342.4,566.6 L1348.4,562.9 L1354.4,557.2 L1360.3,552 L1366.3,548.8 L1372.3,541.8 L1378.2,540.1 L1384.2,542.2 L1390.2,538.7 L1396.1,541.3 L1402.1,541.6 L1408,540.5 L1414,542.6 L1420,539.9 L1425.9,542.5 L1431.9,541 L1437.9,538.5 L1443.8,541 L1449.8,540.8 L1455.8,543 L1461.7,541 L1467.7,539.8 L1473.7,543.7 L1479.6,541.7 L1485.6,543.4 L1491.5,547.1 L1497.5,546 L1503.5,545.7 L1509.4,550.4 L1515.4,548.8 L1521.4,551.8 L1527.3,552.6 L1533.3,552.6 L1539.3,554.8 L1545.2,555.6 L1551.2,557 L1557.2,558.3 L1563.1,558.7 L1569.1,559.9 L1575,561.5 L1581,561.8 L1587,563.2 L1592.9,564.4 L1598.9,564.6 L1604.9,566.3 L1610.8,567.3 L1616.8,568.2 L1622.8,568.8 L1628.7,569.4 L1634.7,570 L1640.7,571.2 L1646.6,572.1 L1652.6,572.1 L1658.5,573.6 L1664.5,573.6 L1670.5,574.6 L1676.4,574.7 L1682.4,575.4 L1688.4,576.1 L1694.3,575.8 L1700.3,576.6 L1706.3,577.2 L1712.2,577.5 L1718.2,577.7 L1724.2,578.2 L1730.1,578.6 L1736.1,578.7 L1742,579.1 L1748,579.2 L1754,579.6 L1759.9,579.8 L1765.9,580.1 L1771.9,580.1 L1777.8,580.4 L1783.8,580.5 L1789.8,580.7 L1795.7,580.7 L1801.7,580.8 L1807.7,581 L1813.6,581 L1819.6,581.1 L1825.5,581.3 L1831.5,581.3 L1837.5,581.4 L1843.4,581.5 L1849.4,581.6 L1849.4,582.1 L1282.8,582.1 Z" fill="#7f7f7f" fill-opacity="0.5" stroke="#fff" stroke-width="1.6" stroke-linejoin="round" stroke-opacity="0.95"/></g>
<rect x="1738.6" y="537.2" width="102" height="31" rx="4" fill="#fff" fill-opacity="0.8" stroke="#d6d6d6" stroke-width="1"/>
<rect x="1745.2" y="545.9" width="36" height="12.4" fill="#bfbfbf" stroke="#7f7f7f" stroke-opacity="0.5" stroke-width="1"/>
<text x="1794.9" y="557.4" font-family="'DejaVu Sans', 'Liberation Sans', sans-serif" font-size="17.5">0.75</text>
<g clip-path="url(#c2_9)"><use href="#r2" transform="translate(0,486.8)" fill="#7f7f7f" stroke="#000" stroke-width="1.6" stroke-linejoin="round"/><path d="M1282.8,635.8 L1288.8,635.5 L1294.7,634.9 L1300.7,634.2 L1306.7,633.1 L1312.6,631.6 L1318.6,629.5 L1324.5,626.3 L1330.5,622.1 L1336.5,617.6 L1342.4,612 L1348.4,607.4 L1354.4,602.8 L1360.3,600.1 L1366.3,595 L1372.3,594.1 L1378.2,597 L1384.2,593.1 L1390.2,594.8 L1396.1,595.1 L1402.1,592.7 L1408,593.4 L1414,595.8 L1420,593.1 L1425.9,593.7 L1431.9,595.4 L1437.9,595.2 L1443.8,596.6 L1449.8,593.6 L1455.8,595.1 L1461.7,593.6 L1467.7,595.5 L1473.7,596.3 L1479.6,596.5 L1485.6,597 L1491.5,600.8 L1497.5,600.7 L1503.5,600.8 L1509.4,601.9 L1515.4,604.7 L1521.4,605 L1527.3,605.4 L1533.3,607.7 L1539.3,607.7 L1545.2,609.1 L1551.2,610.9 L1557.2,612.8 L1563.1,613.9 L1569.1,614.1 L1575,615 L1581,615.2 L1587,618 L1592.9,619.3 L1598.9,619.4 L1604.9,619.8 L1610.8,621.5 L1616.8,623.3 L1622.8,623.7 L1628.7,623.6 L1634.7,624.6 L1640.7,625.1 L1646.6,626.4 L1652.6,627.2 L1658.5,627.7 L1664.5,628.5 L1670.5,628.5 L1676.4,629.5 L1682.4,629.7 L1688.4,630.6 L1694.3,630.9 L1700.3,631.2 L1706.3,631.8 L1712.2,631.8 L1718.2,632.5 L1724.2,632.5 L1730.1,632.7 L1736.1,633 L1742,633.5 L1748,633.8 L1754,634 L1759.9,633.9 L1765.9,634.2 L1771.9,634.4 L1777.8,634.6 L1783.8,634.8 L1789.8,634.9 L1795.7,635 L1801.7,635 L1807.7,635.3 L1813.6,635.3 L1819.6,635.3 L1825.5,635.5 L1831.5,635.5 L1837.5,635.6 L1843.4,635.6 L1849.4,635.7 L1849.4,636.2 L1282.8,636.2 Z" fill="#9467bd" fill-opacity="0.5" stroke="#fff" stroke-width="1.6" stroke-linejoin="round" stroke-opacity="0.95"/></g>
<rect x="1738.6" y="591.3" width="102" height="31" rx="4" fill="#fff" fill-opacity="0.8" stroke="#d6d6d6" stroke-width="1"/>
<rect x="1745.2" y="600" width="36" height="12.4" fill="#cab3de" stroke="#9467bd" stroke-opacity="0.5" stroke-width="1"/>
<text x="1794.9" y="611.5" font-family="'DejaVu Sans', 'Liberation Sans', sans-serif" font-size="17.5">0.73</text>
<line x1="1282.8" y1="149.4" x2="1849.4" y2="149.4" stroke="#222" stroke-width="1.5"/>
<line x1="1282.8" y1="203.5" x2="1849.4" y2="203.5" stroke="#222" stroke-width="1.5"/>
<line x1="1282.8" y1="257.6" x2="1849.4" y2="257.6" stroke="#222" stroke-width="1.5"/>
<line x1="1282.8" y1="311.7" x2="1849.4" y2="311.7" stroke="#222" stroke-width="1.5"/>
<line x1="1282.8" y1="365.8" x2="1849.4" y2="365.8" stroke="#222" stroke-width="1.5"/>
<line x1="1282.8" y1="419.8" x2="1849.4" y2="419.8" stroke="#222" stroke-width="1.5"/>
<line x1="1282.8" y1="473.9" x2="1849.4" y2="473.9" stroke="#222" stroke-width="1.5"/>
<line x1="1282.8" y1="528" x2="1849.4" y2="528" stroke="#222" stroke-width="1.5"/>
<line x1="1282.8" y1="582.1" x2="1849.4" y2="582.1" stroke="#222" stroke-width="1.5"/>
<rect x="1282.8" y="95.3" width="566.6" height="540.9" fill="none" stroke="#222" stroke-width="1.3"/>
<line x1="1315.7" y1="636.2" x2="1315.7" y2="639.7" stroke="#222" stroke-width="1"/>
<text x="1315.7" y="655.8" text-anchor="middle" font-family="'DejaVu Sans', 'Liberation Sans', sans-serif" font-size="17.2">1.5</text>
<line x1="1383.1" y1="636.2" x2="1383.1" y2="639.7" stroke="#222" stroke-width="1"/>
<text x="1383.1" y="655.8" text-anchor="middle" font-family="'DejaVu Sans', 'Liberation Sans', sans-serif" font-size="17.2">2.0</text>
<line x1="1450.5" y1="636.2" x2="1450.5" y2="639.7" stroke="#222" stroke-width="1"/>
<text x="1450.5" y="655.8" text-anchor="middle" font-family="'DejaVu Sans', 'Liberation Sans', sans-serif" font-size="17.2">2.5</text>
<line x1="1517.9" y1="636.2" x2="1517.9" y2="639.7" stroke="#222" stroke-width="1"/>
<text x="1517.9" y="655.8" text-anchor="middle" font-family="'DejaVu Sans', 'Liberation Sans', sans-serif" font-size="17.2">3.0</text>
<line x1="1585.3" y1="636.2" x2="1585.3" y2="639.7" stroke="#222" stroke-width="1"/>
<text x="1585.3" y="655.8" text-anchor="middle" font-family="'DejaVu Sans', 'Liberation Sans', sans-serif" font-size="17.2">3.5</text>
<line x1="1652.7" y1="636.2" x2="1652.7" y2="639.7" stroke="#222" stroke-width="1"/>
<text x="1652.7" y="655.8" text-anchor="middle" font-family="'DejaVu Sans', 'Liberation Sans', sans-serif" font-size="17.2">4.0</text>
<line x1="1720.1" y1="636.2" x2="1720.1" y2="639.7" stroke="#222" stroke-width="1"/>
<text x="1720.1" y="655.8" text-anchor="middle" font-family="'DejaVu Sans', 'Liberation Sans', sans-serif" font-size="17.2">4.5</text>
<line x1="1787.5" y1="636.2" x2="1787.5" y2="639.7" stroke="#222" stroke-width="1"/>
<text x="1787.5" y="655.8" text-anchor="middle" font-family="'DejaVu Sans', 'Liberation Sans', sans-serif" font-size="17.2">5.0</text>
<line x1="1279.3" y1="636.2" x2="1282.8" y2="636.2" stroke="#222" stroke-width="1"/>
<text x="1276.2" y="643.1" text-anchor="end" font-family="'DejaVu Sans', 'Liberation Sans', sans-serif" font-size="17.2">0</text>
<line x1="1279.3" y1="600.7" x2="1282.8" y2="600.7" stroke="#222" stroke-width="1"/>
<text x="1276.2" y="607.6" text-anchor="end" font-family="'DejaVu Sans', 'Liberation Sans', sans-serif" font-size="17.2">2</text>
<text x="1837.5" y="678" text-anchor="end" font-family="'Liberation Sans', Arial, sans-serif" font-size="22">[μm]</text>
<text x="1557.5" y="78.6" text-anchor="middle" font-family="'Liberation Sans', Arial, sans-serif" font-weight="bold" font-size="33.5">Major</text>
<clipPath id="c3_0"><rect x="44.7" y="717.5" width="553.7" height="54.1"/></clipPath>
<clipPath id="c3_1"><rect x="44.7" y="771.6" width="553.7" height="54.1"/></clipPath>
<clipPath id="c3_2"><rect x="44.7" y="825.7" width="553.7" height="54.1"/></clipPath>
<clipPath id="c3_3"><rect x="44.7" y="879.8" width="553.7" height="54.1"/></clipPath>
<clipPath id="c3_4"><rect x="44.7" y="933.9" width="553.7" height="54.1"/></clipPath>
<clipPath id="c3_5"><rect x="44.7" y="988" width="553.7" height="54.1"/></clipPath>
<clipPath id="c3_6"><rect x="44.7" y="1042" width="553.7" height="54.1"/></clipPath>
<clipPath id="c3_7"><rect x="44.7" y="1096.1" width="553.7" height="54.1"/></clipPath>
<clipPath id="c3_8"><rect x="44.7" y="1150.2" width="553.7" height="54.1"/></clipPath>
<clipPath id="c3_9"><rect x="44.7" y="1204.3" width="553.7" height="54.1"/></clipPath>
<defs><path id="r3" d="M44.7,771.6 L50.7,771.6 L56.6,771.6 L62.6,771.6 L68.5,771.6 L74.5,771.6 L80.4,771.6 L86.4,771.6 L92.3,771.6 L98.3,771.6 L104.2,771.6 L110.2,771.5 L116.1,771.4 L122.1,771.3 L128.1,771 L134,770.4 L140,769.4 L145.9,767.8 L151.9,765.3 L157.8,761.8 L163.8,756.8 L169.7,750.6 L175.7,743.6 L181.6,737.1 L187.6,730.3 L193.5,724.7 L199.5,719.5 L205.5,719.6 L211.4,720.1 L217.4,720.4 L223.3,722.5 L229.3,724.7 L235.2,728.6 L241.2,733.4 L247.1,735.5 L253.1,740.8 L259,743.8 L265,748.7 L270.9,752.6 L276.9,755.4 L282.9,758.7 L288.8,761.1 L294.8,763.3 L300.7,765.1 L306.7,766.8 L312.6,768.1 L318.6,768.9 L324.5,769.8 L330.5,770.2 L336.4,770.6 L342.4,770.9 L348.3,771.2 L354.3,771.3 L360.2,771.4 L366.2,771.5 L372.2,771.5 L378.1,771.5 L384.1,771.6 L390,771.6 L396,771.6 L401.9,771.6 L407.9,771.6 L413.8,771.6 L419.8,771.6 L425.7,771.6 L431.7,771.6 L437.6,771.6 L443.6,771.6 L449.6,771.6 L455.5,771.6 L461.5,771.6 L467.4,771.6 L473.4,771.6 L479.3,771.6 L485.3,771.6 L491.2,771.6 L497.2,771.6 L503.1,771.6 L509.1,771.6 L515,771.6 L521,771.6 L527,771.6 L532.9,771.6 L538.9,771.6 L544.8,771.6 L550.8,771.6 L556.7,771.6 L562.7,771.6 L568.6,771.6 L574.6,771.6 L580.5,771.6 L586.5,771.6 L592.4,771.6 L598.4,771.6 L598.4,771.6 L44.7,771.6 Z"/></defs>
<g clip-path="url(#c3_0)"><use href="#r3" transform="translate(0,0)" fill="#7f7f7f" stroke="#000" stroke-width="1.6" stroke-linejoin="round"/><path d="M44.7,771.6 L50.7,771.6 L56.6,771.5 L62.6,771.5 L68.5,771.4 L74.5,771.2 L80.4,770.8 L86.4,770.3 L92.3,769.4 L98.3,768.2 L104.2,766.4 L110.2,763.9 L116.1,760.8 L122.1,757.1 L128.1,753.2 L134,748.5 L140,744.9 L145.9,741.7 L151.9,738.5 L157.8,736.8 L163.8,738.4 L169.7,737 L175.7,738.1 L181.6,737.3 L187.6,738.5 L193.5,740.7 L199.5,741.7 L205.5,743.2 L211.4,744.4 L217.4,747.5 L223.3,748.6 L229.3,749.3 L235.2,751.1 L241.2,752.6 L247.1,753.6 L253.1,754.9 L259,755.9 L265,757.4 L270.9,758.2 L276.9,759.3 L282.9,759.9 L288.8,760.8 L294.8,761.5 L300.7,762.5 L306.7,763 L312.6,763.6 L318.6,764.3 L324.5,764.8 L330.5,765.3 L336.4,765.7 L342.4,766.4 L348.3,766.7 L354.3,767.1 L360.2,767.5 L366.2,767.8 L372.2,767.9 L378.1,768.4 L384.1,768.7 L390,768.9 L396,769.1 L401.9,769.3 L407.9,769.5 L413.8,769.7 L419.8,769.9 L425.7,770 L431.7,770.1 L437.6,770.2 L443.6,770.4 L449.6,770.4 L455.5,770.6 L461.5,770.6 L467.4,770.8 L473.4,770.8 L479.3,770.9 L485.3,771 L491.2,771 L497.2,771.1 L503.1,771.1 L509.1,771.1 L515,771.2 L521,771.2 L527,771.3 L532.9,771.3 L538.9,771.3 L544.8,771.3 L550.8,771.4 L556.7,771.4 L562.7,771.4 L568.6,771.4 L574.6,771.4 L580.5,771.5 L586.5,771.5 L592.4,771.5 L598.4,771.5 L598.4,771.6 L44.7,771.6 Z" fill="#8c564b" fill-opacity="0.5" stroke="#fff" stroke-width="1.6" stroke-linejoin="round" stroke-opacity="0.95"/></g>
<rect x="487.6" y="726.7" width="102" height="31" rx="4" fill="#fff" fill-opacity="0.8" stroke="#d6d6d6" stroke-width="1"/>
<rect x="494.2" y="735.4" width="36" height="12.4" fill="#c6aaa5" stroke="#8c564b" stroke-opacity="0.5" stroke-width="1"/>
<text x="543.9" y="746.9" font-family="'DejaVu Sans', 'Liberation Sans', sans-serif" font-size="17.5">0.67</text>
<g clip-path="url(#c3_1)"><use href="#r3" transform="translate(0,54.1)" fill="#7f7f7f" stroke="#000" stroke-width="1.6" stroke-linejoin="round"/><path d="M44.7,825.7 L50.7,825.7 L56.6,825.7 L62.6,825.6 L68.5,825.6 L74.5,825.6 L80.4,825.5 L86.4,825.5 L92.3,825.4 L98.3,825.2 L104.2,825 L110.2,824.8 L116.1,824.3 L122.1,823.8 L128.1,823.1 L134,822.4 L140,821.2 L145.9,820.2 L151.9,818.7 L157.8,816.8 L163.8,814.7 L169.7,812.5 L175.7,810.3 L181.6,806.9 L187.6,804.4 L193.5,801 L199.5,799.1 L205.5,796.6 L211.4,793.3 L217.4,789.9 L223.3,788.7 L229.3,787 L235.2,786.5 L241.2,786.6 L247.1,789 L253.1,791 L259,793.5 L265,796.8 L270.9,799.3 L276.9,800.9 L282.9,803.4 L288.8,804.5 L294.8,807.3 L300.7,809 L306.7,810.8 L312.6,811.7 L318.6,813.7 L324.5,814.6 L330.5,815.7 L336.4,817 L342.4,817.9 L348.3,818.9 L354.3,819.6 L360.2,820.2 L366.2,820.9 L372.2,821.5 L378.1,821.9 L384.1,822.4 L390,822.7 L396,823.1 L401.9,823.6 L407.9,823.7 L413.8,824 L419.8,824.2 L425.7,824.3 L431.7,824.5 L437.6,824.7 L443.6,824.8 L449.6,824.9 L455.5,825 L461.5,825.1 L467.4,825.2 L473.4,825.3 L479.3,825.3 L485.3,825.4 L491.2,825.4 L497.2,825.4 L503.1,825.5 L509.1,825.5 L515,825.5 L521,825.6 L527,825.6 L532.9,825.6 L538.9,825.6 L544.8,825.6 L550.8,825.6 L556.7,825.6 L562.7,825.6 L568.6,825.6 L574.6,825.6 L580.5,825.7 L586.5,825.7 L592.4,825.7 L598.4,825.7 L598.4,825.7 L44.7,825.7 Z" fill="#2ca02c" fill-opacity="0.5" stroke="#fff" stroke-width="1.6" stroke-linejoin="round" stroke-opacity="0.95"/></g>
<rect x="487.6" y="780.8" width="102" height="31" rx="4" fill="#fff" fill-opacity="0.8" stroke="#d6d6d6" stroke-width="1"/>
<rect x="494.2" y="789.5" width="36" height="12.4" fill="#96d096" stroke="#2ca02c" stroke-opacity="0.5" stroke-width="1"/>
<text x="543.9" y="801" font-family="'DejaVu Sans', 'Liberation Sans', sans-serif" font-size="17.5">0.73</text>
<g clip-path="url(#c3_2)"><use href="#r3" transform="translate(0,108.2)" fill="#7f7f7f" stroke="#000" stroke-width="1.6" stroke-linejoin="round"/><path d="M44.7,879.5 L50.7,879.4 L56.6,879.2 L62.6,878.9 L68.5,878.3 L74.5,877.5 L80.4,876.8 L86.4,875.3 L92.3,873.7 L98.3,871.5 L104.2,869.3 L110.2,865.8 L116.1,862.6 L122.1,859.3 L128.1,856.3 L134,853.5 L140,849.7 L145.9,847.7 L151.9,846.4 L157.8,844.6 L163.8,844.1 L169.7,845 L175.7,843.8 L181.6,846.8 L187.6,847.2 L193.5,849.7 L199.5,850.2 L205.5,852.8 L211.4,854.3 L217.4,855.1 L223.3,856.7 L229.3,858.4 L235.2,859.6 L241.2,860.4 L247.1,862.4 L253.1,863.6 L259,864.3 L265,865.7 L270.9,866.4 L276.9,867.5 L282.9,868.6 L288.8,869.4 L294.8,870.2 L300.7,870.6 L306.7,871.4 L312.6,871.9 L318.6,872.6 L324.5,873 L330.5,873.7 L336.4,874.2 L342.4,874.4 L348.3,874.7 L354.3,875.3 L360.2,875.8 L366.2,875.9 L372.2,876.3 L378.1,876.6 L384.1,876.8 L390,877.1 L396,877.3 L401.9,877.5 L407.9,877.6 L413.8,877.9 L419.8,878 L425.7,878.1 L431.7,878.4 L437.6,878.4 L443.6,878.5 L449.6,878.6 L455.5,878.8 L461.5,878.8 L467.4,878.9 L473.4,879 L479.3,879 L485.3,879.1 L491.2,879.2 L497.2,879.2 L503.1,879.3 L509.1,879.3 L515,879.4 L521,879.4 L527,879.4 L532.9,879.5 L538.9,879.5 L544.8,879.5 L550.8,879.5 L556.7,879.6 L562.7,879.6 L568.6,879.6 L574.6,879.6 L580.5,879.6 L586.5,879.6 L592.4,879.7 L598.4,879.7 L598.4,879.8 L44.7,879.8 Z" fill="#1f77b4" fill-opacity="0.5" stroke="#fff" stroke-width="1.6" stroke-linejoin="round" stroke-opacity="0.95"/></g>
<rect x="487.6" y="834.9" width="102" height="31" rx="4" fill="#fff" fill-opacity="0.8" stroke="#d6d6d6" stroke-width="1"/>
<rect x="494.2" y="843.6" width="36" height="12.4" fill="#8fbbda" stroke="#1f77b4" stroke-opacity="0.5" stroke-width="1"/>
<text x="543.9" y="855.1" font-family="'DejaVu Sans', 'Liberation Sans', sans-serif" font-size="17.5">0.65</text>
<g clip-path="url(#c3_3)"><use href="#r3" transform="translate(0,162.3)" fill="#7f7f7f" stroke="#000" stroke-width="1.6" stroke-linejoin="round"/><path d="M44.7,933.1 L50.7,932.8 L56.6,932.3 L62.6,931.9 L68.5,931.4 L74.5,930.5 L80.4,929.9 L86.4,929.1 L92.3,928.1 L98.3,927.2 L104.2,926.3 L110.2,925.3 L116.1,924.9 L122.1,923.9 L128.1,923.5 L134,923 L140,922.2 L145.9,920.8 L151.9,919.3 L157.8,916.8 L163.8,914.2 L169.7,911.7 L175.7,908.6 L181.6,904 L187.6,900.3 L193.5,896.6 L199.5,894.1 L205.5,891.1 L211.4,887.8 L217.4,888.9 L223.3,887.8 L229.3,889 L235.2,890.1 L241.2,890.7 L247.1,892 L253.1,895 L259,897.6 L265,900.7 L270.9,905.4 L276.9,909.2 L282.9,912.7 L288.8,915.6 L294.8,919.2 L300.7,922.6 L306.7,925 L312.6,927 L318.6,928.5 L324.5,930.2 L330.5,931.1 L336.4,931.9 L342.4,932.5 L348.3,933 L354.3,933.3 L360.2,933.5 L366.2,933.6 L372.2,933.7 L378.1,933.8 L384.1,933.8 L390,933.8 L396,933.8 L401.9,933.8 L407.9,933.9 L413.8,933.9 L419.8,933.9 L425.7,933.9 L431.7,933.9 L437.6,933.9 L443.6,933.9 L449.6,933.9 L455.5,933.9 L461.5,933.9 L467.4,933.9 L473.4,933.9 L479.3,933.9 L485.3,933.9 L491.2,933.9 L497.2,933.9 L503.1,933.9 L509.1,933.9 L515,933.9 L521,933.9 L527,933.9 L532.9,933.9 L538.9,933.9 L544.8,933.9 L550.8,933.9 L556.7,933.9 L562.7,933.9 L568.6,933.9 L574.6,933.9 L580.5,933.9 L586.5,933.9 L592.4,933.9 L598.4,933.9 L598.4,933.9 L44.7,933.9 Z" fill="#bcbd22" fill-opacity="0.5" stroke="#fff" stroke-width="1.6" stroke-linejoin="round" stroke-opacity="0.95"/></g>
<rect x="487.6" y="889" width="102" height="31" rx="4" fill="#fff" fill-opacity="0.8" stroke="#d6d6d6" stroke-width="1"/>
<rect x="494.2" y="897.7" width="36" height="12.4" fill="#dede90" stroke="#bcbd22" stroke-opacity="0.5" stroke-width="1"/>
<text x="543.9" y="909.2" font-family="'DejaVu Sans', 'Liberation Sans', sans-serif" font-size="17.5">0.79</text>
<g clip-path="url(#c3_4)"><use href="#r3" transform="translate(0,216.4)" fill="#7f7f7f" stroke="#000" stroke-width="1.6" stroke-linejoin="round"/><path d="M44.7,987.9 L50.7,987.9 L56.6,987.9 L62.6,987.9 L68.5,987.9 L74.5,987.9 L80.4,987.9 L86.4,987.9 L92.3,987.9 L98.3,987.9 L104.2,987.8 L110.2,987.7 L116.1,987.5 L122.1,987.1 L128.1,986.4 L134,985.4 L140,984 L145.9,982.1 L151.9,979 L157.8,975.2 L163.8,970.9 L169.7,966.1 L175.7,960.3 L181.6,955.2 L187.6,949.1 L193.5,945.3 L199.5,944.1 L205.5,942 L211.4,942.9 L217.4,943.6 L223.3,942.3 L229.3,945.3 L235.2,946.9 L241.2,948.3 L247.1,951.3 L253.1,954.6 L259,959.2 L265,961.4 L270.9,964.8 L276.9,967.7 L282.9,971.2 L288.8,973.6 L294.8,975.5 L300.7,978.1 L306.7,979.7 L312.6,981.3 L318.6,982.5 L324.5,983.7 L330.5,984.6 L336.4,985.3 L342.4,986 L348.3,986.5 L354.3,986.8 L360.2,987.2 L366.2,987.4 L372.2,987.5 L378.1,987.6 L384.1,987.7 L390,987.8 L396,987.8 L401.9,987.9 L407.9,987.9 L413.8,987.9 L419.8,987.9 L425.7,987.9 L431.7,987.9 L437.6,987.9 L443.6,987.9 L449.6,987.9 L455.5,987.9 L461.5,987.9 L467.4,987.9 L473.4,987.9 L479.3,987.9 L485.3,987.9 L491.2,987.9 L497.2,987.9 L503.1,987.9 L509.1,987.9 L515,987.9 L521,987.9 L527,987.9 L532.9,987.9 L538.9,987.9 L544.8,987.9 L550.8,987.9 L556.7,987.9 L562.7,987.9 L568.6,987.9 L574.6,987.9 L580.5,987.9 L586.5,987.9 L592.4,987.9 L598.4,987.9 L598.4,988 L44.7,988 Z" fill="#e377c2" fill-opacity="0.5" stroke="#fff" stroke-width="1.6" stroke-linejoin="round" stroke-opacity="0.95"/></g>
<rect x="487.6" y="943.1" width="102" height="31" rx="4" fill="#fff" fill-opacity="0.8" stroke="#d6d6d6" stroke-width="1"/>
<rect x="494.2" y="951.8" width="36" height="12.4" fill="#f1bbe0" stroke="#e377c2" stroke-opacity="0.5" stroke-width="1"/>
<text x="543.9" y="963.3" font-family="'DejaVu Sans', 'Liberation Sans', sans-serif" font-size="17.5">0.89</text>
<g clip-path="url(#c3_5)"><use href="#r3" transform="translate(0,270.5)" fill="#7f7f7f" stroke="#000" stroke-width="1.6" stroke-linejoin="round"/><path d="M44.7,1042 L50.7,1042 L56.6,1042 L62.6,1042 L68.5,1042 L74.5,1041.9 L80.4,1041.9 L86.4,1041.8 L92.3,1041.7 L98.3,1041.5 L104.2,1041.2 L110.2,1041 L116.1,1040.6 L122.1,1040 L128.1,1039.2 L134,1038.4 L140,1037.4 L145.9,1036 L151.9,1034.6 L157.8,1032.7 L163.8,1031.1 L169.7,1028.7 L175.7,1026.5 L181.6,1023.8 L187.6,1021.7 L193.5,1019 L199.5,1016.4 L205.5,1014.2 L211.4,1012.9 L217.4,1011.2 L223.3,1011.4 L229.3,1010 L235.2,1010.7 L241.2,1009.7 L247.1,1011.1 L253.1,1010.5 L259,1011.8 L265,1013 L270.9,1013.8 L276.9,1015 L282.9,1016.8 L288.8,1018.6 L294.8,1019.6 L300.7,1021 L306.7,1022.5 L312.6,1024.4 L318.6,1025.4 L324.5,1026.8 L330.5,1027.4 L336.4,1029 L342.4,1030.4 L348.3,1031.2 L354.3,1032 L360.2,1033 L366.2,1034 L372.2,1034.3 L378.1,1035.1 L384.1,1035.9 L390,1036.5 L396,1037.2 L401.9,1037.6 L407.9,1038 L413.8,1038.4 L419.8,1038.7 L425.7,1039.2 L431.7,1039.5 L437.6,1039.8 L443.6,1039.9 L449.6,1040.2 L455.5,1040.4 L461.5,1040.6 L467.4,1040.8 L473.4,1040.9 L479.3,1041 L485.3,1041.2 L491.2,1041.2 L497.2,1041.4 L503.1,1041.5 L509.1,1041.5 L515,1041.6 L521,1041.6 L527,1041.7 L532.9,1041.7 L538.9,1041.8 L544.8,1041.8 L550.8,1041.8 L556.7,1041.9 L562.7,1041.9 L568.6,1041.9 L574.6,1041.9 L580.5,1041.9 L586.5,1042 L592.4,1042 L598.4,1042 L598.4,1042 L44.7,1042 Z" fill="#d62728" fill-opacity="0.5" stroke="#fff" stroke-width="1.6" stroke-linejoin="round" stroke-opacity="0.95"/></g>
<rect x="487.6" y="997.2" width="102" height="31" rx="4" fill="#fff" fill-opacity="0.8" stroke="#d6d6d6" stroke-width="1"/>
<rect x="494.2" y="1005.9" width="36" height="12.4" fill="#ea9394" stroke="#d62728" stroke-opacity="0.5" stroke-width="1"/>
<text x="543.9" y="1017.4" font-family="'DejaVu Sans', 'Liberation Sans', sans-serif" font-size="17.5">0.66</text>
<g clip-path="url(#c3_6)"><use href="#r3" transform="translate(0,324.5)" fill="#7f7f7f" stroke="#000" stroke-width="1.6" stroke-linejoin="round"/><path d="M44.7,1096.1 L50.7,1096.1 L56.6,1096 L62.6,1095.9 L68.5,1095.8 L74.5,1095.5 L80.4,1095.1 L86.4,1094.6 L92.3,1093.9 L98.3,1092.7 L104.2,1091.3 L110.2,1089.4 L116.1,1086.9 L122.1,1084.1 L128.1,1079.7 L134,1075.4 L140,1070.5 L145.9,1065.4 L151.9,1061.5 L157.8,1055.1 L163.8,1050.8 L169.7,1048.6 L175.7,1046 L181.6,1044.8 L187.6,1044 L193.5,1045.7 L199.5,1046.4 L205.5,1048.6 L211.4,1052.2 L217.4,1056 L223.3,1060.5 L229.3,1062.7 L235.2,1066.4 L241.2,1070.8 L247.1,1074.8 L253.1,1078.2 L259,1081.3 L265,1083.8 L270.9,1086.3 L276.9,1088.1 L282.9,1090.1 L288.8,1091.5 L294.8,1092.5 L300.7,1093.6 L306.7,1094.3 L312.6,1094.7 L318.6,1095.1 L324.5,1095.4 L330.5,1095.7 L336.4,1095.8 L342.4,1095.9 L348.3,1096 L354.3,1096 L360.2,1096.1 L366.2,1096.1 L372.2,1096.1 L378.1,1096.1 L384.1,1096.1 L390,1096.1 L396,1096.1 L401.9,1096.1 L407.9,1096.1 L413.8,1096.1 L419.8,1096.1 L425.7,1096.1 L431.7,1096.1 L437.6,1096.1 L443.6,1096.1 L449.6,1096.1 L455.5,1096.1 L461.5,1096.1 L467.4,1096.1 L473.4,1096.1 L479.3,1096.1 L485.3,1096.1 L491.2,1096.1 L497.2,1096.1 L503.1,1096.1 L509.1,1096.1 L515,1096.1 L521,1096.1 L527,1096.1 L532.9,1096.1 L538.9,1096.1 L544.8,1096.1 L550.8,1096.1 L556.7,1096.1 L562.7,1096.1 L568.6,1096.1 L574.6,1096.1 L580.5,1096.1 L586.5,1096.1 L592.4,1096.1 L598.4,1096.1 L598.4,1096.1 L44.7,1096.1 Z" fill="#ff7f0e" fill-opacity="0.5" stroke="#fff" stroke-width="1.6" stroke-linejoin="round" stroke-opacity="0.95"/></g>
<rect x="487.6" y="1051.2" width="102" height="31" rx="4" fill="#fff" fill-opacity="0.8" stroke="#d6d6d6" stroke-width="1"/>
<rect x="494.2" y="1059.9" width="36" height="12.4" fill="#ffbf86" stroke="#ff7f0e" stroke-opacity="0.5" stroke-width="1"/>
<text x="543.9" y="1071.4" font-family="'DejaVu Sans', 'Liberation Sans', sans-serif" font-size="17.5">0.74</text>
<g clip-path="url(#c3_7)"><use href="#r3" transform="translate(0,378.6)" fill="#7f7f7f" stroke="#000" stroke-width="1.6" stroke-linejoin="round"/><path d="M44.7,1150.2 L50.7,1150.1 L56.6,1150.1 L62.6,1150 L68.5,1149.8 L74.5,1149.6 L80.4,1149.2 L86.4,1148.7 L92.3,1148 L98.3,1147 L104.2,1145.7 L110.2,1143.6 L116.1,1141.3 L122.1,1139 L128.1,1135 L134,1131.3 L140,1127.7 L145.9,1123.6 L151.9,1118.4 L157.8,1113.6 L163.8,1109.1 L169.7,1107.5 L175.7,1103 L181.6,1102.6 L187.6,1100.9 L193.5,1101.5 L199.5,1102.9 L205.5,1103.1 L211.4,1107.2 L217.4,1109.4 L223.3,1112.6 L229.3,1116.5 L235.2,1120.3 L241.2,1122.8 L247.1,1126.2 L253.1,1129.8 L259,1133 L265,1136 L270.9,1138 L276.9,1140.4 L282.9,1142 L288.8,1143.8 L294.8,1145.2 L300.7,1146.1 L306.7,1147.2 L312.6,1147.9 L318.6,1148.4 L324.5,1148.9 L330.5,1149.2 L336.4,1149.5 L342.4,1149.6 L348.3,1149.8 L354.3,1149.9 L360.2,1150 L366.2,1150.1 L372.2,1150.1 L378.1,1150.2 L384.1,1150.2 L390,1150.2 L396,1150.2 L401.9,1150.2 L407.9,1150.2 L413.8,1150.2 L419.8,1150.2 L425.7,1150.2 L431.7,1150.2 L437.6,1150.2 L443.6,1150.2 L449.6,1150.2 L455.5,1150.2 L461.5,1150.2 L467.4,1150.2 L473.4,1150.2 L479.3,1150.2 L485.3,1150.2 L491.2,1150.2 L497.2,1150.2 L503.1,1150.2 L509.1,1150.2 L515,1150.2 L521,1150.2 L527,1150.2 L532.9,1150.2 L538.9,1150.2 L544.8,1150.2 L550.8,1150.2 L556.7,1150.2 L562.7,1150.2 L568.6,1150.2 L574.6,1150.2 L580.5,1150.2 L586.5,1150.2 L592.4,1150.2 L598.4,1150.2 L598.4,1150.2 L44.7,1150.2 Z" fill="#17becf" fill-opacity="0.5" stroke="#fff" stroke-width="1.6" stroke-linejoin="round" stroke-opacity="0.95"/></g>
<rect x="487.6" y="1105.3" width="102" height="31" rx="4" fill="#fff" fill-opacity="0.8" stroke="#d6d6d6" stroke-width="1"/>
<rect x="494.2" y="1114" width="36" height="12.4" fill="#8bdee7" stroke="#17becf" stroke-opacity="0.5" stroke-width="1"/>
<text x="543.9" y="1125.5" font-family="'DejaVu Sans', 'Liberation Sans', sans-serif" font-size="17.5">0.75</text>
<g clip-path="url(#c3_8)"><use href="#r3" transform="translate(0,432.7)" fill="#7f7f7f" stroke="#000" stroke-width="1.6" stroke-linejoin="round"/><path d="M44.7,1204.3 L50.7,1204.3 L56.6,1204.2 L62.6,1204.2 L68.5,1204.2 L74.5,1204.1 L80.4,1204 L86.4,1203.9 L92.3,1203.8 L98.3,1203.7 L104.2,1203.5 L110.2,1203.2 L116.1,1202.7 L122.1,1202.3 L128.1,1201.8 L134,1201.1 L140,1200.2 L145.9,1199.4 L151.9,1198.5 L157.8,1197.1 L163.8,1195.8 L169.7,1194.3 L175.7,1193.1 L181.6,1191.3 L187.6,1189.5 L193.5,1187.3 L199.5,1185.3 L205.5,1183.7 L211.4,1181.7 L217.4,1179.7 L223.3,1178.9 L229.3,1177.2 L235.2,1175.9 L241.2,1174.5 L247.1,1175 L253.1,1174.1 L259,1174.5 L265,1174.6 L270.9,1173.6 L276.9,1173.9 L282.9,1174.7 L288.8,1175 L294.8,1173.9 L300.7,1174.6 L306.7,1173.9 L312.6,1176.2 L318.6,1176.4 L324.5,1178.2 L330.5,1179.9 L336.4,1181.2 L342.4,1182.6 L348.3,1184.2 L354.3,1185.1 L360.2,1187.1 L366.2,1188.2 L372.2,1189.9 L378.1,1191 L384.1,1192.4 L390,1193.3 L396,1194.6 L401.9,1195.7 L407.9,1196.5 L413.8,1197.2 L419.8,1198.1 L425.7,1198.7 L431.7,1199.2 L437.6,1200.1 L443.6,1200.3 L449.6,1200.8 L455.5,1201.3 L461.5,1201.7 L467.4,1202 L473.4,1202.3 L479.3,1202.6 L485.3,1202.8 L491.2,1203.1 L497.2,1203.2 L503.1,1203.4 L509.1,1203.4 L515,1203.6 L521,1203.7 L527,1203.8 L532.9,1203.9 L538.9,1203.9 L544.8,1204 L550.8,1204 L556.7,1204.1 L562.7,1204.1 L568.6,1204.2 L574.6,1204.2 L580.5,1204.2 L586.5,1204.2 L592.4,1204.2 L598.4,1204.2 L598.4,1204.3 L44.7,1204.3 Z" fill="#7f7f7f" fill-opacity="0.5" stroke="#fff" stroke-width="1.6" stroke-linejoin="round" stroke-opacity="0.95"/></g>
<rect x="487.6" y="1159.4" width="102" height="31" rx="4" fill="#fff" fill-opacity="0.8" stroke="#d6d6d6" stroke-width="1"/>
<rect x="494.2" y="1168.1" width="36" height="12.4" fill="#bfbfbf" stroke="#7f7f7f" stroke-opacity="0.5" stroke-width="1"/>
<text x="543.9" y="1179.6" font-family="'DejaVu Sans', 'Liberation Sans', sans-serif" font-size="17.5">0.46</text>
<g clip-path="url(#c3_9)"><use href="#r3" transform="translate(0,486.8)" fill="#7f7f7f" stroke="#000" stroke-width="1.6" stroke-linejoin="round"/><path d="M44.7,1258.3 L50.7,1258.2 L56.6,1258.2 L62.6,1258.1 L68.5,1258 L74.5,1257.9 L80.4,1257.6 L86.4,1257.4 L92.3,1257.1 L98.3,1256.8 L104.2,1256.3 L110.2,1255.7 L116.1,1254.9 L122.1,1254.1 L128.1,1253.4 L134,1252 L140,1250.7 L145.9,1249.6 L151.9,1247.7 L157.8,1246 L163.8,1244.3 L169.7,1242.1 L175.7,1240.6 L181.6,1238.4 L187.6,1236.6 L193.5,1233.9 L199.5,1232.7 L205.5,1230.8 L211.4,1230 L217.4,1228.1 L223.3,1227.8 L229.3,1226.9 L235.2,1226.4 L241.2,1227.3 L247.1,1227.4 L253.1,1226.5 L259,1227.4 L265,1227.9 L270.9,1229.7 L276.9,1233.2 L282.9,1234.6 L288.8,1238.1 L294.8,1240.1 L300.7,1242.8 L306.7,1244.1 L312.6,1246.5 L318.6,1248 L324.5,1249.9 L330.5,1251.1 L336.4,1252.6 L342.4,1253.4 L348.3,1254.4 L354.3,1255.1 L360.2,1255.8 L366.2,1256.2 L372.2,1256.7 L378.1,1257.1 L384.1,1257.3 L390,1257.5 L396,1257.8 L401.9,1257.9 L407.9,1258 L413.8,1258.1 L419.8,1258.2 L425.7,1258.2 L431.7,1258.3 L437.6,1258.3 L443.6,1258.3 L449.6,1258.3 L455.5,1258.4 L461.5,1258.4 L467.4,1258.4 L473.4,1258.4 L479.3,1258.4 L485.3,1258.4 L491.2,1258.4 L497.2,1258.4 L503.1,1258.4 L509.1,1258.4 L515,1258.4 L521,1258.4 L527,1258.4 L532.9,1258.4 L538.9,1258.4 L544.8,1258.4 L550.8,1258.4 L556.7,1258.4 L562.7,1258.4 L568.6,1258.4 L574.6,1258.4 L580.5,1258.4 L586.5,1258.4 L592.4,1258.4 L598.4,1258.4 L598.4,1258.4 L44.7,1258.4 Z" fill="#9467bd" fill-opacity="0.5" stroke="#fff" stroke-width="1.6" stroke-linejoin="round" stroke-opacity="0.95"/></g>
<rect x="487.6" y="1213.5" width="102" height="31" rx="4" fill="#fff" fill-opacity="0.8" stroke="#d6d6d6" stroke-width="1"/>
<rect x="494.2" y="1222.2" width="36" height="12.4" fill="#cab3de" stroke="#9467bd" stroke-opacity="0.5" stroke-width="1"/>
<text x="543.9" y="1233.7" font-family="'DejaVu Sans', 'Liberation Sans', sans-serif" font-size="17.5">0.66</text>
<line x1="44.7" y1="771.6" x2="598.4" y2="771.6" stroke="#222" stroke-width="1.5"/>
<line x1="44.7" y1="825.7" x2="598.4" y2="825.7" stroke="#222" stroke-width="1.5"/>
<line x1="44.7" y1="879.8" x2="598.4" y2="879.8" stroke="#222" stroke-width="1.5"/>
<line x1="44.7" y1="933.9" x2="598.4" y2="933.9" stroke="#222" stroke-width="1.5"/>
<line x1="44.7" y1="988" x2="598.4" y2="988" stroke="#222" stroke-width="1.5"/>
<line x1="44.7" y1="1042" x2="598.4" y2="1042" stroke="#222" stroke-width="1.5"/>
<line x1="44.7" y1="1096.1" x2="598.4" y2="1096.1" stroke="#222" stroke-width="1.5"/>
<line x1="44.7" y1="1150.2" x2="598.4" y2="1150.2" stroke="#222" stroke-width="1.5"/>
<line x1="44.7" y1="1204.3" x2="598.4" y2="1204.3" stroke="#222" stroke-width="1.5"/>
<rect x="44.7" y="717.5" width="553.7" height="540.9" fill="none" stroke="#222" stroke-width="1.3"/>
<line x1="72.4" y1="1258.4" x2="72.4" y2="1261.9" stroke="#222" stroke-width="1"/>
<text x="72.4" y="1278" text-anchor="middle" font-family="'DejaVu Sans', 'Liberation Sans', sans-serif" font-size="17.2">0.9</text>
<line x1="137.9" y1="1258.4" x2="137.9" y2="1261.9" stroke="#222" stroke-width="1"/>
<text x="137.9" y="1278" text-anchor="middle" font-family="'DejaVu Sans', 'Liberation Sans', sans-serif" font-size="17.2">1.0</text>
<line x1="203.4" y1="1258.4" x2="203.4" y2="1261.9" stroke="#222" stroke-width="1"/>
<text x="203.4" y="1278" text-anchor="middle" font-family="'DejaVu Sans', 'Liberation Sans', sans-serif" font-size="17.2">1.1</text>
<line x1="268.9" y1="1258.4" x2="268.9" y2="1261.9" stroke="#222" stroke-width="1"/>
<text x="268.9" y="1278" text-anchor="middle" font-family="'DejaVu Sans', 'Liberation Sans', sans-serif" font-size="17.2">1.2</text>
<line x1="334.4" y1="1258.4" x2="334.4" y2="1261.9" stroke="#222" stroke-width="1"/>
<text x="334.4" y="1278" text-anchor="middle" font-family="'DejaVu Sans', 'Liberation Sans', sans-serif" font-size="17.2">1.3</text>
<line x1="399.9" y1="1258.4" x2="399.9" y2="1261.9" stroke="#222" stroke-width="1"/>
<text x="399.9" y="1278" text-anchor="middle" font-family="'DejaVu Sans', 'Liberation Sans', sans-serif" font-size="17.2">1.4</text>
<line x1="465.4" y1="1258.4" x2="465.4" y2="1261.9" stroke="#222" stroke-width="1"/>
<text x="465.4" y="1278" text-anchor="middle" font-family="'DejaVu Sans', 'Liberation Sans', sans-serif" font-size="17.2">1.5</text>
<line x1="530.9" y1="1258.4" x2="530.9" y2="1261.9" stroke="#222" stroke-width="1"/>
<text x="530.9" y="1278" text-anchor="middle" font-family="'DejaVu Sans', 'Liberation Sans', sans-serif" font-size="17.2">1.6</text>
<line x1="596.4" y1="1258.4" x2="596.4" y2="1261.9" stroke="#222" stroke-width="1"/>
<text x="596.4" y="1278" text-anchor="middle" font-family="'DejaVu Sans', 'Liberation Sans', sans-serif" font-size="17.2">1.7</text>
<line x1="41.2" y1="1258.4" x2="44.7" y2="1258.4" stroke="#222" stroke-width="1"/>
<text x="38.1" y="1265.3" text-anchor="end" font-family="'DejaVu Sans', 'Liberation Sans', sans-serif" font-size="17.2">0</text>
<line x1="41.2" y1="1237" x2="44.7" y2="1237" stroke="#222" stroke-width="1"/>
<text x="38.1" y="1243.9" text-anchor="end" font-family="'DejaVu Sans', 'Liberation Sans', sans-serif" font-size="17.2">2</text>
<line x1="41.2" y1="1215.2" x2="44.7" y2="1215.2" stroke="#222" stroke-width="1"/>
<text x="38.1" y="1222.1" text-anchor="end" font-family="'DejaVu Sans', 'Liberation Sans', sans-serif" font-size="17.2">5</text>
<text x="619.6" y="1303.7" text-anchor="end" font-family="'Liberation Sans', Arial, sans-serif" font-size="22">[μm]</text>
<text x="319.6" y="707.9" text-anchor="middle" font-family="'Liberation Sans', Arial, sans-serif" font-weight="bold" font-size="33.5">Minor</text>
<clipPath id="c4_0"><rect x="663" y="717.5" width="567.4" height="54.1"/></clipPath>
<clipPath id="c4_1"><rect x="663" y="771.6" width="567.4" height="54.1"/></clipPath>
<clipPath id="c4_2"><rect x="663" y="825.7" width="567.4" height="54.1"/></clipPath>
<clipPath id="c4_3"><rect x="663" y="879.8" width="567.4" height="54.1"/></clipPath>
<clipPath id="c4_4"><rect x="663" y="933.9" width="567.4" height="54.1"/></clipPath>
<clipPath id="c4_5"><rect x="663" y="988" width="567.4" height="54.1"/></clipPath>
<clipPath id="c4_6"><rect x="663" y="1042" width="567.4" height="54.1"/></clipPath>
<clipPath id="c4_7"><rect x="663" y="1096.1" width="567.4" height="54.1"/></clipPath>
<clipPath id="c4_8"><rect x="663" y="1150.2" width="567.4" height="54.1"/></clipPath>
<clipPath id="c4_9"><rect x="663" y="1204.3" width="567.4" height="54.1"/></clipPath>
<defs><path id="r4" d="M663,771.6 L669,771.6 L674.9,771.6 L680.9,771.6 L686.9,770.3 L692.9,768.2 L698.8,767 L704.8,765.9 L710.8,763.6 L716.8,762.6 L722.7,761 L728.7,760.2 L734.7,758.6 L740.6,757.5 L746.6,756.8 L752.6,755.7 L758.6,754.6 L764.5,753.7 L770.5,752.1 L776.5,750.6 L782.5,749.2 L788.4,747.6 L794.4,746.6 L800.4,747.3 L806.3,745.5 L812.3,745.2 L818.3,743.1 L824.3,742.1 L830.2,741.3 L836.2,738.6 L842.2,738.4 L848.2,739.5 L854.1,736 L860.1,735 L866.1,734.9 L872,733.7 L878,731.5 L884,731.9 L890,732.6 L895.9,728.2 L901.9,727.9 L907.9,725.6 L913.9,727.9 L919.8,727.3 L925.8,722.4 L931.8,724.4 L937.7,723.5 L943.7,723.8 L949.7,724.4 L955.7,723.6 L961.6,722.8 L967.6,724.7 L973.6,726.7 L979.5,725.3 L985.5,724.2 L991.5,723.8 L997.5,722.1 L1003.4,724.4 L1009.4,723.4 L1015.4,727.7 L1021.4,727.8 L1027.3,727 L1033.3,730.8 L1039.3,734.5 L1045.2,737 L1051.2,738.3 L1057.2,739.6 L1063.2,741.4 L1069.1,746.6 L1075.1,747.1 L1081.1,751.3 L1087.1,752.7 L1093,754.5 L1099,757.9 L1105,759.2 L1110.9,760.4 L1116.9,762.4 L1122.9,764.3 L1128.9,765.6 L1134.8,766.4 L1140.8,767.4 L1146.8,768.3 L1152.8,768.7 L1158.7,769.6 L1164.7,769.9 L1170.7,770.2 L1176.6,770.6 L1182.6,770.7 L1188.6,771 L1194.6,771.1 L1200.5,771.2 L1206.5,771.3 L1212.5,771.4 L1218.5,771.5 L1224.4,771.5 L1230.4,771.5 L1230.4,771.6 L663,771.6 Z"/></defs>
<g clip-path="url(#c4_0)"><use href="#r4" transform="translate(0,0)" fill="#7f7f7f" stroke="#000" stroke-width="1.6" stroke-linejoin="round"/><path d="M663,771.6 L669,771.6 L674.9,771.6 L680.9,771.6 L686.9,771.6 L692.9,771.6 L698.8,771.1 L704.8,770.1 L710.8,769.1 L716.8,768.2 L722.7,767 L728.7,766.3 L734.7,765.2 L740.6,764.6 L746.6,763.4 L752.6,762.9 L758.6,762.4 L764.5,761.9 L770.5,761.6 L776.5,760.7 L782.5,760.3 L788.4,760.2 L794.4,758.4 L800.4,758.2 L806.3,757 L812.3,755.2 L818.3,755.1 L824.3,754.5 L830.2,753.6 L836.2,753.8 L842.2,753.7 L848.2,751 L854.1,748.7 L860.1,747.5 L866.1,747.9 L872,746.7 L878,745.5 L884,743.4 L890,743 L895.9,744 L901.9,743 L907.9,741.5 L913.9,741.3 L919.8,740.4 L925.8,740.7 L931.8,740.3 L937.7,738 L943.7,738.2 L949.7,738.4 L955.7,736.3 L961.6,734.4 L967.6,734 L973.6,733.7 L979.5,734.1 L985.5,732 L991.5,733.8 L997.5,732.5 L1003.4,734.3 L1009.4,736.1 L1015.4,730.2 L1021.4,731.2 L1027.3,732.8 L1033.3,731.2 L1039.3,730.1 L1045.2,731 L1051.2,731.4 L1057.2,734.3 L1063.2,734 L1069.1,735.8 L1075.1,737.9 L1081.1,737.9 L1087.1,740.3 L1093,738.7 L1099,741 L1105,742.9 L1110.9,741 L1116.9,742.7 L1122.9,741.4 L1128.9,740 L1134.8,742.8 L1140.8,743.8 L1146.8,745.3 L1152.8,744.8 L1158.7,743.2 L1164.7,743.8 L1170.7,746.8 L1176.6,748.8 L1182.6,750.7 L1188.6,752.4 L1194.6,753.9 L1200.5,756 L1206.5,757.4 L1212.5,759.9 L1218.5,762.1 L1224.4,764.6 L1230.4,766 L1230.4,771.6 L663,771.6 Z" fill="#8c564b" fill-opacity="0.5" stroke="#fff" stroke-width="1.6" stroke-linejoin="round" stroke-opacity="0.95"/></g>
<rect x="671" y="726.7" width="102" height="31" rx="4" fill="#fff" fill-opacity="0.8" stroke="#d6d6d6" stroke-width="1"/>
<rect x="677.6" y="735.4" width="36" height="12.4" fill="#c6aaa5" stroke="#8c564b" stroke-opacity="0.5" stroke-width="1"/>
<text x="727.3" y="746.9" font-family="'DejaVu Sans', 'Liberation Sans', sans-serif" font-size="17.5">0.74</text>
<g clip-path="url(#c4_1)"><use href="#r4" transform="translate(0,54.1)" fill="#7f7f7f" stroke="#000" stroke-width="1.6" stroke-linejoin="round"/><path d="M663,825.7 L669,825.7 L674.9,825.7 L680.9,825.7 L686.9,825.7 L692.9,825.7 L698.8,825.7 L704.8,825.7 L710.8,825.7 L716.8,825.7 L722.7,825.3 L728.7,824.5 L734.7,823.4 L740.6,822.4 L746.6,821.5 L752.6,820.5 L758.6,819.4 L764.5,819 L770.5,817.8 L776.5,817.7 L782.5,816.5 L788.4,815.1 L794.4,813.6 L800.4,814.2 L806.3,812.7 L812.3,812.5 L818.3,811.8 L824.3,810.9 L830.2,808.1 L836.2,807.8 L842.2,807.2 L848.2,807.1 L854.1,804.7 L860.1,803.6 L866.1,802.7 L872,802.1 L878,802.8 L884,802.3 L890,799 L895.9,800.6 L901.9,799.3 L907.9,798.3 L913.9,796.2 L919.8,796.1 L925.8,794 L931.8,792 L937.7,790.9 L943.7,791.2 L949.7,789 L955.7,788.7 L961.6,790.4 L967.6,789.3 L973.6,787.1 L979.5,786.7 L985.5,785.6 L991.5,784.5 L997.5,783.1 L1003.4,783.1 L1009.4,780.4 L1015.4,780 L1021.4,781.5 L1027.3,777.5 L1033.3,779.3 L1039.3,777.2 L1045.2,778.5 L1051.2,779.5 L1057.2,777.8 L1063.2,778.9 L1069.1,778.6 L1075.1,780.5 L1081.1,776.6 L1087.1,779 L1093,777.9 L1099,779.1 L1105,783.4 L1110.9,781.5 L1116.9,785.3 L1122.9,788.3 L1128.9,791.6 L1134.8,792.2 L1140.8,794.1 L1146.8,797.4 L1152.8,799.3 L1158.7,801.8 L1164.7,804.8 L1170.7,806.1 L1176.6,808.7 L1182.6,811.7 L1188.6,813.5 L1194.6,814.4 L1200.5,816.8 L1206.5,818.5 L1212.5,819.3 L1218.5,820.2 L1224.4,820.7 L1230.4,821.9 L1230.4,825.7 L663,825.7 Z" fill="#2ca02c" fill-opacity="0.5" stroke="#fff" stroke-width="1.6" stroke-linejoin="round" stroke-opacity="0.95"/></g>
<rect x="671" y="780.8" width="102" height="31" rx="4" fill="#fff" fill-opacity="0.8" stroke="#d6d6d6" stroke-width="1"/>
<rect x="677.6" y="789.5" width="36" height="12.4" fill="#96d096" stroke="#2ca02c" stroke-opacity="0.5" stroke-width="1"/>
<text x="727.3" y="801" font-family="'DejaVu Sans', 'Liberation Sans', sans-serif" font-size="17.5">0.66</text>
<g clip-path="url(#c4_2)"><use href="#r4" transform="translate(0,108.2)" fill="#7f7f7f" stroke="#000" stroke-width="1.6" stroke-linejoin="round"/><path d="M663,879.8 L669,879.8 L674.9,879.8 L680.9,879.8 L686.9,878.9 L692.9,877.4 L698.8,876.4 L704.8,875.1 L710.8,873.9 L716.8,872.5 L722.7,871.5 L728.7,870.3 L734.7,868.2 L740.6,868.1 L746.6,866.7 L752.6,863.8 L758.6,863.6 L764.5,861.8 L770.5,861 L776.5,859 L782.5,858.4 L788.4,857.4 L794.4,856.3 L800.4,854 L806.3,851.9 L812.3,851 L818.3,848.9 L824.3,849.3 L830.2,848.1 L836.2,846.9 L842.2,845 L848.2,842.8 L854.1,843.9 L860.1,840.9 L866.1,839.7 L872,838.8 L878,839.5 L884,837.9 L890,839.2 L895.9,841.6 L901.9,841.7 L907.9,841.2 L913.9,841.8 L919.8,842.3 L925.8,838.9 L931.8,839.2 L937.7,838 L943.7,838.6 L949.7,841.9 L955.7,838.6 L961.6,840.7 L967.6,838.5 L973.6,841 L979.5,840.9 L985.5,840.7 L991.5,841.2 L997.5,840.5 L1003.4,839.6 L1009.4,842 L1015.4,839.7 L1021.4,842 L1027.3,839.3 L1033.3,841.4 L1039.3,842.7 L1045.2,845 L1051.2,846 L1057.2,846.6 L1063.2,850.5 L1069.1,849.8 L1075.1,851.6 L1081.1,855.2 L1087.1,855.1 L1093,856.4 L1099,860.1 L1105,860.1 L1110.9,863.1 L1116.9,864 L1122.9,865.9 L1128.9,868.2 L1134.8,868.5 L1140.8,869.9 L1146.8,871.3 L1152.8,872.2 L1158.7,873.6 L1164.7,874.4 L1170.7,875.1 L1176.6,876.1 L1182.6,876.7 L1188.6,877 L1194.6,877.5 L1200.5,877.9 L1206.5,878.1 L1212.5,878.5 L1218.5,878.7 L1224.4,878.9 L1230.4,879.1 L1230.4,879.8 L663,879.8 Z" fill="#1f77b4" fill-opacity="0.5" stroke="#fff" stroke-width="1.6" stroke-linejoin="round" stroke-opacity="0.95"/></g>
<rect x="671" y="834.9" width="102" height="31" rx="4" fill="#fff" fill-opacity="0.8" stroke="#d6d6d6" stroke-width="1"/>
<rect x="677.6" y="843.6" width="36" height="12.4" fill="#8fbbda" stroke="#1f77b4" stroke-opacity="0.5" stroke-width="1"/>
<text x="727.3" y="855.1" font-family="'DejaVu Sans', 'Liberation Sans', sans-serif" font-size="17.5">0.92</text>
<g clip-path="url(#c4_3)"><use href="#r4" transform="translate(0,162.3)" fill="#7f7f7f" stroke="#000" stroke-width="1.6" stroke-linejoin="round"/><path d="M663,933.9 L669,933.9 L674.9,933.9 L680.9,933.7 L686.9,932.8 L692.9,932 L698.8,931 L704.8,929.9 L710.8,929.3 L716.8,927.8 L722.7,927 L728.7,926.6 L734.7,925 L740.6,924.7 L746.6,923.9 L752.6,922.6 L758.6,921.5 L764.5,920.2 L770.5,919.2 L776.5,917.7 L782.5,917.4 L788.4,916.5 L794.4,915.6 L800.4,914.7 L806.3,913.2 L812.3,913.6 L818.3,913.1 L824.3,910.7 L830.2,910.9 L836.2,909.4 L842.2,907.1 L848.2,908.3 L854.1,907.4 L860.1,906.3 L866.1,904.3 L872,903.9 L878,901.3 L884,901.8 L890,902.5 L895.9,898.6 L901.9,900.2 L907.9,899.5 L913.9,897.4 L919.8,895.5 L925.8,895.3 L931.8,897.6 L937.7,894.3 L943.7,895.4 L949.7,895 L955.7,893.8 L961.6,895.7 L967.6,896 L973.6,896.1 L979.5,897.6 L985.5,894.4 L991.5,895 L997.5,894.5 L1003.4,893.7 L1009.4,894.6 L1015.4,895.9 L1021.4,896.6 L1027.3,896.5 L1033.3,895.3 L1039.3,894.4 L1045.2,895.2 L1051.2,894.4 L1057.2,895.4 L1063.2,896.8 L1069.1,894.5 L1075.1,896.6 L1081.1,894.2 L1087.1,895.6 L1093,895.3 L1099,897.9 L1105,899.5 L1110.9,899.4 L1116.9,901.4 L1122.9,905.8 L1128.9,908 L1134.8,911.5 L1140.8,914.4 L1146.8,917 L1152.8,919.7 L1158.7,921.3 L1164.7,924.3 L1170.7,925.9 L1176.6,927.4 L1182.6,928.6 L1188.6,930.2 L1194.6,930.9 L1200.5,931.7 L1206.5,932.2 L1212.5,932.6 L1218.5,933 L1224.4,933.3 L1230.4,933.5 L1230.4,933.9 L663,933.9 Z" fill="#bcbd22" fill-opacity="0.5" stroke="#fff" stroke-width="1.6" stroke-linejoin="round" stroke-opacity="0.95"/></g>
<rect x="671" y="889" width="102" height="31" rx="4" fill="#fff" fill-opacity="0.8" stroke="#d6d6d6" stroke-width="1"/>
<rect x="677.6" y="897.7" width="36" height="12.4" fill="#dede90" stroke="#bcbd22" stroke-opacity="0.5" stroke-width="1"/>
<text x="727.3" y="909.2" font-family="'DejaVu Sans', 'Liberation Sans', sans-serif" font-size="17.5">0.84</text>
<g clip-path="url(#c4_4)"><use href="#r4" transform="translate(0,216.4)" fill="#7f7f7f" stroke="#000" stroke-width="1.6" stroke-linejoin="round"/><path d="M663,988 L669,988 L674.9,988 L680.9,988 L686.9,988 L692.9,987.8 L698.8,986.7 L704.8,985.5 L710.8,984.5 L716.8,983.5 L722.7,982.3 L728.7,981 L734.7,980.1 L740.6,979.3 L746.6,978 L752.6,976.9 L758.6,975.7 L764.5,974.8 L770.5,973.1 L776.5,973.1 L782.5,971 L788.4,970.5 L794.4,969.8 L800.4,967.5 L806.3,967.1 L812.3,965.9 L818.3,965.6 L824.3,962.6 L830.2,962.6 L836.2,959.9 L842.2,959.1 L848.2,957.9 L854.1,957.7 L860.1,955.6 L866.1,955.6 L872,955.6 L878,952.3 L884,952.5 L890,951.3 L895.9,951.1 L901.9,949.4 L907.9,946.4 L913.9,949.1 L919.8,946.5 L925.8,946.3 L931.8,945.6 L937.7,940.7 L943.7,940.4 L949.7,940 L955.7,939.6 L961.6,940.7 L967.6,943 L973.6,940.8 L979.5,940.1 L985.5,940.8 L991.5,938.4 L997.5,942.4 L1003.4,939.4 L1009.4,941.6 L1015.4,939.1 L1021.4,939.7 L1027.3,939.4 L1033.3,939.4 L1039.3,941.8 L1045.2,941.4 L1051.2,942.3 L1057.2,938.7 L1063.2,940.5 L1069.1,943.5 L1075.1,945.8 L1081.1,947 L1087.1,950.3 L1093,951.8 L1099,953.6 L1105,958.7 L1110.9,961 L1116.9,963 L1122.9,966.4 L1128.9,970 L1134.8,971.3 L1140.8,974 L1146.8,976.2 L1152.8,977.9 L1158.7,979.6 L1164.7,981.4 L1170.7,982.5 L1176.6,983.4 L1182.6,984.5 L1188.6,985.2 L1194.6,985.9 L1200.5,986.3 L1206.5,986.5 L1212.5,987.1 L1218.5,987.2 L1224.4,987.4 L1230.4,987.6 L1230.4,988 L663,988 Z" fill="#e377c2" fill-opacity="0.5" stroke="#fff" stroke-width="1.6" stroke-linejoin="round" stroke-opacity="0.95"/></g>
<rect x="671" y="943.1" width="102" height="31" rx="4" fill="#fff" fill-opacity="0.8" stroke="#d6d6d6" stroke-width="1"/>
<rect x="677.6" y="951.8" width="36" height="12.4" fill="#f1bbe0" stroke="#e377c2" stroke-opacity="0.5" stroke-width="1"/>
<text x="727.3" y="963.3" font-family="'DejaVu Sans', 'Liberation Sans', sans-serif" font-size="17.5">0.86</text>
<g clip-path="url(#c4_5)"><use href="#r4" transform="translate(0,270.5)" fill="#7f7f7f" stroke="#000" stroke-width="1.6" stroke-linejoin="round"/><path d="M663,1042 L669,1042 L674.9,1042 L680.9,1042 L686.9,1042 L692.9,1042 L698.8,1042 L704.8,1042 L710.8,1042 L716.8,1042 L722.7,1042 L728.7,1042 L734.7,1042 L740.6,1041.6 L746.6,1040.5 L752.6,1039.6 L758.6,1038.7 L764.5,1037.8 L770.5,1036.9 L776.5,1035.7 L782.5,1034.5 L788.4,1034.2 L794.4,1032.8 L800.4,1031.3 L806.3,1031 L812.3,1030 L818.3,1029.3 L824.3,1028.5 L830.2,1027.3 L836.2,1026.2 L842.2,1025.4 L848.2,1024.2 L854.1,1022.5 L860.1,1022 L866.1,1021.6 L872,1020.6 L878,1020.1 L884,1019.2 L890,1018.7 L895.9,1016.6 L901.9,1016.1 L907.9,1015.5 L913.9,1012.9 L919.8,1012.9 L925.8,1012.3 L931.8,1012.6 L937.7,1011.8 L943.7,1008.6 L949.7,1009.4 L955.7,1006.2 L961.6,1004 L967.6,1003.5 L973.6,1004.5 L979.5,1003.9 L985.5,1001.5 L991.5,999.3 L997.5,1002.4 L1003.4,998.9 L1009.4,999.1 L1015.4,998.1 L1021.4,995.6 L1027.3,996.2 L1033.3,992.9 L1039.3,994.6 L1045.2,994.4 L1051.2,991.7 L1057.2,994.9 L1063.2,993.6 L1069.1,996.1 L1075.1,993.2 L1081.1,995.2 L1087.1,995.9 L1093,994.5 L1099,994.3 L1105,993.2 L1110.9,995.1 L1116.9,995.7 L1122.9,1002 L1128.9,1003.4 L1134.8,1005.6 L1140.8,1010.1 L1146.8,1014.7 L1152.8,1017.9 L1158.7,1021 L1164.7,1024.5 L1170.7,1027.1 L1176.6,1029.2 L1182.6,1031.2 L1188.6,1033.3 L1194.6,1035.6 L1200.5,1036.8 L1206.5,1037.8 L1212.5,1039 L1218.5,1039.6 L1224.4,1040.2 L1230.4,1040.8 L1230.4,1042 L663,1042 Z" fill="#d62728" fill-opacity="0.5" stroke="#fff" stroke-width="1.6" stroke-linejoin="round" stroke-opacity="0.95"/></g>
<rect x="671" y="997.2" width="102" height="31" rx="4" fill="#fff" fill-opacity="0.8" stroke="#d6d6d6" stroke-width="1"/>
<rect x="677.6" y="1005.9" width="36" height="12.4" fill="#ea9394" stroke="#d62728" stroke-opacity="0.5" stroke-width="1"/>
<text x="727.3" y="1017.4" font-family="'DejaVu Sans', 'Liberation Sans', sans-serif" font-size="17.5">0.70</text>
<g clip-path="url(#c4_6)"><use href="#r4" transform="translate(0,324.5)" fill="#7f7f7f" stroke="#000" stroke-width="1.6" stroke-linejoin="round"/><path d="M663,1096.1 L669,1096.1 L674.9,1094.7 L680.9,1093.1 L686.9,1091.4 L692.9,1089.6 L698.8,1088.4 L704.8,1086.9 L710.8,1085.4 L716.8,1083.9 L722.7,1083.3 L728.7,1082.3 L734.7,1081.1 L740.6,1080.2 L746.6,1078 L752.6,1078 L758.6,1077.3 L764.5,1075.5 L770.5,1074.8 L776.5,1073.1 L782.5,1071.9 L788.4,1071.4 L794.4,1068.8 L800.4,1068.9 L806.3,1068.7 L812.3,1067.7 L818.3,1066 L824.3,1063.7 L830.2,1064.6 L836.2,1062.1 L842.2,1063.4 L848.2,1062.4 L854.1,1059.8 L860.1,1058.9 L866.1,1059.7 L872,1058.2 L878,1058.2 L884,1054.3 L890,1053.9 L895.9,1051.8 L901.9,1053.9 L907.9,1050.3 L913.9,1050.9 L919.8,1051.4 L925.8,1049.7 L931.8,1051.3 L937.7,1051.2 L943.7,1049.1 L949.7,1051.1 L955.7,1049.3 L961.6,1047.5 L967.6,1048.3 L973.6,1048.9 L979.5,1048.2 L985.5,1049 L991.5,1052.8 L997.5,1050.9 L1003.4,1048 L1009.4,1052.9 L1015.4,1050.7 L1021.4,1053.1 L1027.3,1052.7 L1033.3,1053.8 L1039.3,1055 L1045.2,1058.4 L1051.2,1057.8 L1057.2,1061.2 L1063.2,1065.9 L1069.1,1067.9 L1075.1,1071.2 L1081.1,1073.6 L1087.1,1077.2 L1093,1078.2 L1099,1080.2 L1105,1082.6 L1110.9,1085.7 L1116.9,1086.7 L1122.9,1088.6 L1128.9,1089.3 L1134.8,1090.8 L1140.8,1091.8 L1146.8,1092.9 L1152.8,1093.6 L1158.7,1093.7 L1164.7,1094.5 L1170.7,1094.8 L1176.6,1095.1 L1182.6,1095.5 L1188.6,1095.7 L1194.6,1095.7 L1200.5,1095.8 L1206.5,1095.9 L1212.5,1096 L1218.5,1096 L1224.4,1096.1 L1230.4,1096.1 L1230.4,1096.1 L663,1096.1 Z" fill="#ff7f0e" fill-opacity="0.5" stroke="#fff" stroke-width="1.6" stroke-linejoin="round" stroke-opacity="0.95"/></g>
<rect x="671" y="1051.2" width="102" height="31" rx="4" fill="#fff" fill-opacity="0.8" stroke="#d6d6d6" stroke-width="1"/>
<rect x="677.6" y="1059.9" width="36" height="12.4" fill="#ffbf86" stroke="#ff7f0e" stroke-opacity="0.5" stroke-width="1"/>
<text x="727.3" y="1071.4" font-family="'DejaVu Sans', 'Liberation Sans', sans-serif" font-size="17.5">0.95</text>
<g clip-path="url(#c4_7)"><use href="#r4" transform="translate(0,378.6)" fill="#7f7f7f" stroke="#000" stroke-width="1.6" stroke-linejoin="round"/><path d="M663,1150.2 L669,1150.2 L674.9,1149.3 L680.9,1147.7 L686.9,1145.7 L692.9,1144.2 L698.8,1143 L704.8,1142.1 L710.8,1140.8 L716.8,1139.3 L722.7,1138.1 L728.7,1136.4 L734.7,1135.2 L740.6,1134.8 L746.6,1133.8 L752.6,1131.2 L758.6,1132 L764.5,1129.8 L770.5,1128.3 L776.5,1128.9 L782.5,1127.1 L788.4,1124.8 L794.4,1124.9 L800.4,1124.2 L806.3,1123.2 L812.3,1120.1 L818.3,1120.2 L824.3,1118.4 L830.2,1120.2 L836.2,1116.5 L842.2,1116.5 L848.2,1115.6 L854.1,1113.5 L860.1,1111.8 L866.1,1111.3 L872,1113 L878,1111.1 L884,1110.1 L890,1108.5 L895.9,1109.1 L901.9,1108.2 L907.9,1104 L913.9,1103.5 L919.8,1103.2 L925.8,1105 L931.8,1104.2 L937.7,1102.2 L943.7,1102.4 L949.7,1103.7 L955.7,1102.7 L961.6,1102.5 L967.6,1102.4 L973.6,1101.5 L979.5,1105 L985.5,1102.6 L991.5,1103.2 L997.5,1104.1 L1003.4,1102.9 L1009.4,1102.4 L1015.4,1102.7 L1021.4,1104.3 L1027.3,1105.3 L1033.3,1103.1 L1039.3,1106.8 L1045.2,1108.3 L1051.2,1109.4 L1057.2,1111 L1063.2,1113.2 L1069.1,1114.7 L1075.1,1118.5 L1081.1,1120.1 L1087.1,1122.8 L1093,1126.5 L1099,1130.4 L1105,1130.5 L1110.9,1134.1 L1116.9,1135.3 L1122.9,1138.4 L1128.9,1139.7 L1134.8,1141.4 L1140.8,1143.2 L1146.8,1144 L1152.8,1145.2 L1158.7,1146.3 L1164.7,1147 L1170.7,1147.5 L1176.6,1148.2 L1182.6,1148.5 L1188.6,1148.9 L1194.6,1149.2 L1200.5,1149.4 L1206.5,1149.6 L1212.5,1149.8 L1218.5,1149.9 L1224.4,1150 L1230.4,1150 L1230.4,1150.2 L663,1150.2 Z" fill="#17becf" fill-opacity="0.5" stroke="#fff" stroke-width="1.6" stroke-linejoin="round" stroke-opacity="0.95"/></g>
<rect x="671" y="1105.3" width="102" height="31" rx="4" fill="#fff" fill-opacity="0.8" stroke="#d6d6d6" stroke-width="1"/>
<rect x="677.6" y="1114" width="36" height="12.4" fill="#8bdee7" stroke="#17becf" stroke-opacity="0.5" stroke-width="1"/>
<text x="727.3" y="1125.5" font-family="'DejaVu Sans', 'Liberation Sans', sans-serif" font-size="17.5">0.96</text>
<g clip-path="url(#c4_8)"><use href="#r4" transform="translate(0,432.7)" fill="#7f7f7f" stroke="#000" stroke-width="1.6" stroke-linejoin="round"/><path d="M663,1204.3 L669,1204.3 L674.9,1204.3 L680.9,1204.3 L686.9,1204.3 L692.9,1204.3 L698.8,1204.3 L704.8,1203.7 L710.8,1203.1 L716.8,1202.1 L722.7,1201.3 L728.7,1200.7 L734.7,1199.6 L740.6,1199 L746.6,1198.6 L752.6,1197.4 L758.6,1196.4 L764.5,1196.6 L770.5,1195.5 L776.5,1194.3 L782.5,1193.5 L788.4,1192.5 L794.4,1192 L800.4,1191.2 L806.3,1190.9 L812.3,1190 L818.3,1189.8 L824.3,1188.8 L830.2,1188.4 L836.2,1187.5 L842.2,1186 L848.2,1185.5 L854.1,1185.2 L860.1,1184.7 L866.1,1183.5 L872,1181.9 L878,1180.9 L884,1181.8 L890,1180.9 L895.9,1181 L901.9,1178 L907.9,1177.7 L913.9,1177.6 L919.8,1177.3 L925.8,1174.9 L931.8,1175.6 L937.7,1173.5 L943.7,1172.7 L949.7,1172.5 L955.7,1172.3 L961.6,1172.2 L967.6,1169.9 L973.6,1169.7 L979.5,1168.1 L985.5,1166.2 L991.5,1165 L997.5,1167.6 L1003.4,1166.5 L1009.4,1163.6 L1015.4,1163.8 L1021.4,1164.3 L1027.3,1162.3 L1033.3,1162.4 L1039.3,1161.6 L1045.2,1162.6 L1051.2,1162 L1057.2,1163.4 L1063.2,1161 L1069.1,1160.3 L1075.1,1163.2 L1081.1,1162.3 L1087.1,1161.9 L1093,1160.8 L1099,1163.3 L1105,1162.2 L1110.9,1159.1 L1116.9,1160.3 L1122.9,1162 L1128.9,1163 L1134.8,1162.9 L1140.8,1162.1 L1146.8,1161.9 L1152.8,1161.2 L1158.7,1162.1 L1164.7,1159.7 L1170.7,1161.9 L1176.6,1163.6 L1182.6,1161.4 L1188.6,1162.7 L1194.6,1165.7 L1200.5,1167.3 L1206.5,1170.1 L1212.5,1176 L1218.5,1181.4 L1224.4,1185 L1230.4,1189.6 L1230.4,1204.3 L663,1204.3 Z" fill="#7f7f7f" fill-opacity="0.5" stroke="#fff" stroke-width="1.6" stroke-linejoin="round" stroke-opacity="0.95"/></g>
<rect x="671" y="1159.4" width="102" height="31" rx="4" fill="#fff" fill-opacity="0.8" stroke="#d6d6d6" stroke-width="1"/>
<rect x="677.6" y="1168.1" width="36" height="12.4" fill="#bfbfbf" stroke="#7f7f7f" stroke-opacity="0.5" stroke-width="1"/>
<text x="727.3" y="1179.6" font-family="'DejaVu Sans', 'Liberation Sans', sans-serif" font-size="17.5">0.64</text>
<g clip-path="url(#c4_9)"><use href="#r4" transform="translate(0,486.8)" fill="#7f7f7f" stroke="#000" stroke-width="1.6" stroke-linejoin="round"/><path d="M663,1258.4 L669,1258.3 L674.9,1257.8 L680.9,1257.1 L686.9,1256.5 L692.9,1255.9 L698.8,1255.6 L704.8,1254.8 L710.8,1254.5 L716.8,1253.8 L722.7,1253 L728.7,1252.6 L734.7,1252.4 L740.6,1251.2 L746.6,1251.2 L752.6,1250.1 L758.6,1249.5 L764.5,1249.2 L770.5,1248.6 L776.5,1248.1 L782.5,1246.9 L788.4,1246.8 L794.4,1246.8 L800.4,1246.1 L806.3,1245.4 L812.3,1243.9 L818.3,1243.7 L824.3,1243 L830.2,1243 L836.2,1240.9 L842.2,1240.2 L848.2,1241.4 L854.1,1240.8 L860.1,1239.1 L866.1,1239.8 L872,1238 L878,1239 L884,1237.7 L890,1235.3 L895.9,1236.2 L901.9,1235.2 L907.9,1235.6 L913.9,1234.7 L919.8,1233.3 L925.8,1233.3 L931.8,1233.7 L937.7,1231.7 L943.7,1231.4 L949.7,1230.4 L955.7,1229.7 L961.6,1229.8 L967.6,1229 L973.6,1228.4 L979.5,1227.5 L985.5,1226.4 L991.5,1225.7 L997.5,1227.7 L1003.4,1226.8 L1009.4,1224 L1015.4,1225.5 L1021.4,1223.4 L1027.3,1223.1 L1033.3,1222.7 L1039.3,1223 L1045.2,1223 L1051.2,1222.4 L1057.2,1221.9 L1063.2,1222.1 L1069.1,1222.9 L1075.1,1223.5 L1081.1,1221.6 L1087.1,1221.5 L1093,1220.6 L1099,1221.7 L1105,1220.1 L1110.9,1221.3 L1116.9,1223 L1122.9,1220.7 L1128.9,1220.3 L1134.8,1220.5 L1140.8,1220.9 L1146.8,1224.5 L1152.8,1221.4 L1158.7,1221.7 L1164.7,1223.1 L1170.7,1220.2 L1176.6,1222.1 L1182.6,1221.3 L1188.6,1223.3 L1194.6,1221.2 L1200.5,1222.8 L1206.5,1227.3 L1212.5,1232 L1218.5,1236.5 L1224.4,1242 L1230.4,1247.2 L1230.4,1258.4 L663,1258.4 Z" fill="#9467bd" fill-opacity="0.5" stroke="#fff" stroke-width="1.6" stroke-linejoin="round" stroke-opacity="0.95"/></g>
<rect x="671" y="1213.5" width="102" height="31" rx="4" fill="#fff" fill-opacity="0.8" stroke="#d6d6d6" stroke-width="1"/>
<rect x="677.6" y="1222.2" width="36" height="12.4" fill="#cab3de" stroke="#9467bd" stroke-opacity="0.5" stroke-width="1"/>
<text x="727.3" y="1233.7" font-family="'DejaVu Sans', 'Liberation Sans', sans-serif" font-size="17.5">0.66</text>
<line x1="663" y1="771.6" x2="1230.4" y2="771.6" stroke="#222" stroke-width="1.5"/>
<line x1="663" y1="825.7" x2="1230.4" y2="825.7" stroke="#222" stroke-width="1.5"/>
<line x1="663" y1="879.8" x2="1230.4" y2="879.8" stroke="#222" stroke-width="1.5"/>
<line x1="663" y1="933.9" x2="1230.4" y2="933.9" stroke="#222" stroke-width="1.5"/>
<line x1="663" y1="988" x2="1230.4" y2="988" stroke="#222" stroke-width="1.5"/>
<line x1="663" y1="1042" x2="1230.4" y2="1042" stroke="#222" stroke-width="1.5"/>
<line x1="663" y1="1096.1" x2="1230.4" y2="1096.1" stroke="#222" stroke-width="1.5"/>
<line x1="663" y1="1150.2" x2="1230.4" y2="1150.2" stroke="#222" stroke-width="1.5"/>
<line x1="663" y1="1204.3" x2="1230.4" y2="1204.3" stroke="#222" stroke-width="1.5"/>
<rect x="663" y="717.5" width="567.4" height="540.9" fill="none" stroke="#222" stroke-width="1.3"/>
<line x1="685.9" y1="1258.4" x2="685.9" y2="1261.9" stroke="#222" stroke-width="1"/>
<text x="685.9" y="1278" text-anchor="middle" font-family="'DejaVu Sans', 'Liberation Sans', sans-serif" font-size="17.2">0.45</text>
<line x1="749.1" y1="1258.4" x2="749.1" y2="1261.9" stroke="#222" stroke-width="1"/>
<text x="749.1" y="1278" text-anchor="middle" font-family="'DejaVu Sans', 'Liberation Sans', sans-serif" font-size="17.2">0.50</text>
<line x1="812.3" y1="1258.4" x2="812.3" y2="1261.9" stroke="#222" stroke-width="1"/>
<text x="812.3" y="1278" text-anchor="middle" font-family="'DejaVu Sans', 'Liberation Sans', sans-serif" font-size="17.2">0.55</text>
<line x1="875.5" y1="1258.4" x2="875.5" y2="1261.9" stroke="#222" stroke-width="1"/>
<text x="875.5" y="1278" text-anchor="middle" font-family="'DejaVu Sans', 'Liberation Sans', sans-serif" font-size="17.2">0.60</text>
<line x1="938.7" y1="1258.4" x2="938.7" y2="1261.9" stroke="#222" stroke-width="1"/>
<text x="938.7" y="1278" text-anchor="middle" font-family="'DejaVu Sans', 'Liberation Sans', sans-serif" font-size="17.2">0.65</text>
<line x1="1001.9" y1="1258.4" x2="1001.9" y2="1261.9" stroke="#222" stroke-width="1"/>
<text x="1001.9" y="1278" text-anchor="middle" font-family="'DejaVu Sans', 'Liberation Sans', sans-serif" font-size="17.2">0.70</text>
<line x1="1065.1" y1="1258.4" x2="1065.1" y2="1261.9" stroke="#222" stroke-width="1"/>
<text x="1065.1" y="1278" text-anchor="middle" font-family="'DejaVu Sans', 'Liberation Sans', sans-serif" font-size="17.2">0.75</text>
<line x1="1128.3" y1="1258.4" x2="1128.3" y2="1261.9" stroke="#222" stroke-width="1"/>
<text x="1128.3" y="1278" text-anchor="middle" font-family="'DejaVu Sans', 'Liberation Sans', sans-serif" font-size="17.2">0.80</text>
<line x1="1191.5" y1="1258.4" x2="1191.5" y2="1261.9" stroke="#222" stroke-width="1"/>
<text x="1191.5" y="1278" text-anchor="middle" font-family="'DejaVu Sans', 'Liberation Sans', sans-serif" font-size="17.2">0.85</text>
<line x1="659.5" y1="1258.4" x2="663" y2="1258.4" stroke="#222" stroke-width="1"/>
<text x="656.4" y="1265.3" text-anchor="end" font-family="'DejaVu Sans', 'Liberation Sans', sans-serif" font-size="17.2">0</text>
<line x1="659.5" y1="1235.8" x2="663" y2="1235.8" stroke="#222" stroke-width="1"/>
<text x="656.4" y="1242.7" text-anchor="end" font-family="'DejaVu Sans', 'Liberation Sans', sans-serif" font-size="17.2">1</text>
<line x1="659.5" y1="1212.7" x2="663" y2="1212.7" stroke="#222" stroke-width="1"/>
<text x="656.4" y="1219.6" text-anchor="end" font-family="'DejaVu Sans', 'Liberation Sans', sans-serif" font-size="17.2">2</text>
<text x="938" y="707.9" text-anchor="middle" font-family="'Liberation Sans', Arial, sans-serif" font-weight="bold" font-size="33.5">Circ</text>
<clipPath id="c5_0"><rect x="1282.8" y="717.5" width="566.6" height="54.1"/></clipPath>
<clipPath id="c5_1"><rect x="1282.8" y="771.6" width="566.6" height="54.1"/></clipPath>
<clipPath id="c5_2"><rect x="1282.8" y="825.7" width="566.6" height="54.1"/></clipPath>
<clipPath id="c5_3"><rect x="1282.8" y="879.8" width="566.6" height="54.1"/></clipPath>
<clipPath id="c5_4"><rect x="1282.8" y="933.9" width="566.6" height="54.1"/></clipPath>
<clipPath id="c5_5"><rect x="1282.8" y="988" width="566.6" height="54.1"/></clipPath>
<clipPath id="c5_6"><rect x="1282.8" y="1042" width="566.6" height="54.1"/></clipPath>
<clipPath id="c5_7"><rect x="1282.8" y="1096.1" width="566.6" height="54.1"/></clipPath>
<clipPath id="c5_8"><rect x="1282.8" y="1150.2" width="566.6" height="54.1"/></clipPath>
<clipPath id="c5_9"><rect x="1282.8" y="1204.3" width="566.6" height="54.1"/></clipPath>
<defs><path id="r5" d="M1282.8,771.5 L1288.8,771.4 L1294.7,771.4 L1300.7,771.3 L1306.7,771.2 L1312.6,771 L1318.6,770.9 L1324.5,770.6 L1330.5,770.2 L1336.5,769.8 L1342.4,769.1 L1348.4,768.1 L1354.4,767.6 L1360.3,766.6 L1366.3,765.5 L1372.3,764.3 L1378.2,762.9 L1384.2,761.2 L1390.2,757.6 L1396.1,755.5 L1402.1,753.6 L1408,751.3 L1414,747.7 L1420,745.5 L1425.9,744.1 L1431.9,739.2 L1437.9,738.9 L1443.8,733.8 L1449.8,732.8 L1455.8,732 L1461.7,730 L1467.7,730.8 L1473.7,726.1 L1479.6,727.6 L1485.6,722.3 L1491.5,722.5 L1497.5,723.7 L1503.5,723.7 L1509.4,720.6 L1515.4,719.8 L1521.4,723.7 L1527.3,728.3 L1533.3,729.6 L1539.3,731 L1545.2,733.5 L1551.2,732.9 L1557.2,736.1 L1563.1,739.2 L1569.1,738.3 L1575,740 L1581,739.5 L1587,742.3 L1592.9,743.6 L1598.9,745.5 L1604.9,745.8 L1610.8,748 L1616.8,747.4 L1622.8,750.1 L1628.7,750.4 L1634.7,750.8 L1640.7,752.3 L1646.6,754.7 L1652.6,754.3 L1658.5,756.1 L1664.5,757.5 L1670.5,758.2 L1676.4,759.1 L1682.4,758.6 L1688.4,759.1 L1694.3,760.7 L1700.3,761.2 L1706.3,761.7 L1712.2,761.9 L1718.2,763.2 L1724.2,763.8 L1730.1,764.5 L1736.1,765 L1742,765.7 L1748,766.1 L1754,765.7 L1759.9,766 L1765.9,766.6 L1771.9,767.4 L1777.8,767.9 L1783.8,767.7 L1789.8,768 L1795.7,768.3 L1801.7,768.4 L1807.7,768.8 L1813.6,769.1 L1819.6,769 L1825.5,769.4 L1831.5,769.6 L1837.5,769.6 L1843.4,769.6 L1849.4,769.9 L1849.4,771.6 L1282.8,771.6 Z"/></defs>
<g clip-path="url(#c5_0)"><use href="#r5" transform="translate(0,0)" fill="#7f7f7f" stroke="#000" stroke-width="1.6" stroke-linejoin="round"/><path d="M1282.8,770.1 L1288.8,769.6 L1294.7,768.6 L1300.7,767.8 L1306.7,766.7 L1312.6,764.6 L1318.6,763.2 L1324.5,759.4 L1330.5,757.3 L1336.5,752.4 L1342.4,750.4 L1348.4,745.6 L1354.4,743.7 L1360.3,740.9 L1366.3,733.5 L1372.3,734.5 L1378.2,734.6 L1384.2,727.8 L1390.2,730.3 L1396.1,728.1 L1402.1,729.2 L1408,730.9 L1414,727.4 L1420,732.2 L1425.9,731.3 L1431.9,727.3 L1437.9,726.7 L1443.8,729 L1449.8,730.6 L1455.8,725.3 L1461.7,729.1 L1467.7,725.5 L1473.7,728.5 L1479.6,730.4 L1485.6,730 L1491.5,727.7 L1497.5,732.2 L1503.5,729.8 L1509.4,735.6 L1515.4,732.1 L1521.4,734.2 L1527.3,737.3 L1533.3,740.9 L1539.3,741 L1545.2,740.6 L1551.2,741.5 L1557.2,741 L1563.1,747.2 L1569.1,746.4 L1575,748.3 L1581,750.5 L1587,751.7 L1592.9,750.3 L1598.9,751.8 L1604.9,753.5 L1610.8,755.1 L1616.8,755.2 L1622.8,757.3 L1628.7,756.3 L1634.7,759.2 L1640.7,759.2 L1646.6,760.4 L1652.6,761.3 L1658.5,760.4 L1664.5,761.6 L1670.5,763.8 L1676.4,763.3 L1682.4,764.1 L1688.4,763.5 L1694.3,765.6 L1700.3,765.8 L1706.3,765.4 L1712.2,765.4 L1718.2,766.7 L1724.2,766.3 L1730.1,766.9 L1736.1,768 L1742,767.5 L1748,767.9 L1754,768.7 L1759.9,768.5 L1765.9,768.9 L1771.9,769 L1777.8,768.9 L1783.8,769.8 L1789.8,769.8 L1795.7,770 L1801.7,770 L1807.7,769.9 L1813.6,770.6 L1819.6,770.2 L1825.5,770.6 L1831.5,770.6 L1837.5,770.6 L1843.4,770.8 L1849.4,770.7 L1849.4,771.6 L1282.8,771.6 Z" fill="#8c564b" fill-opacity="0.5" stroke="#fff" stroke-width="1.6" stroke-linejoin="round" stroke-opacity="0.95"/></g>
<rect x="1738.6" y="726.7" width="102" height="31" rx="4" fill="#fff" fill-opacity="0.8" stroke="#d6d6d6" stroke-width="1"/>
<rect x="1745.2" y="735.4" width="36" height="12.4" fill="#c6aaa5" stroke="#8c564b" stroke-opacity="0.5" stroke-width="1"/>
<text x="1794.9" y="746.9" font-family="'DejaVu Sans', 'Liberation Sans', sans-serif" font-size="17.5">0.71</text>
<g clip-path="url(#c5_1)"><use href="#r5" transform="translate(0,54.1)" fill="#7f7f7f" stroke="#000" stroke-width="1.6" stroke-linejoin="round"/><path d="M1282.8,824.7 L1288.8,824.2 L1294.7,824.1 L1300.7,822.8 L1306.7,821.6 L1312.6,820.8 L1318.6,818.9 L1324.5,815.5 L1330.5,813.4 L1336.5,812 L1342.4,806 L1348.4,801 L1354.4,798.8 L1360.3,797.9 L1366.3,792.4 L1372.3,788.8 L1378.2,780.5 L1384.2,778.5 L1390.2,776 L1396.1,778.8 L1402.1,776.2 L1408,780.8 L1414,777.7 L1420,777.9 L1425.9,771.4 L1431.9,781.2 L1437.9,777.9 L1443.8,778.8 L1449.8,772.6 L1455.8,780.3 L1461.7,773.4 L1467.7,773.2 L1473.7,780.9 L1479.6,782.6 L1485.6,781.5 L1491.5,784.7 L1497.5,778.2 L1503.5,783.6 L1509.4,785.3 L1515.4,784.6 L1521.4,787.7 L1527.3,793.7 L1533.3,789.3 L1539.3,797.3 L1545.2,797.5 L1551.2,799.3 L1557.2,797.8 L1563.1,802.2 L1569.1,803.5 L1575,804.7 L1581,803.9 L1587,807.2 L1592.9,807.7 L1598.9,808.3 L1604.9,811.8 L1610.8,811.3 L1616.8,811.5 L1622.8,813.1 L1628.7,813.8 L1634.7,814.8 L1640.7,816.1 L1646.6,816.3 L1652.6,817.2 L1658.5,818.6 L1664.5,818 L1670.5,819.2 L1676.4,819.5 L1682.4,820.4 L1688.4,820.1 L1694.3,820.6 L1700.3,820.8 L1706.3,822.2 L1712.2,822.1 L1718.2,822.9 L1724.2,823.1 L1730.1,822.7 L1736.1,822.9 L1742,823.5 L1748,823.7 L1754,823.7 L1759.9,824.1 L1765.9,824.3 L1771.9,824.4 L1777.8,824.6 L1783.8,824.8 L1789.8,824.6 L1795.7,824.8 L1801.7,824.8 L1807.7,825 L1813.6,824.9 L1819.6,824.9 L1825.5,825.2 L1831.5,825.2 L1837.5,825.2 L1843.4,825.3 L1849.4,825.3 L1849.4,825.7 L1282.8,825.7 Z" fill="#2ca02c" fill-opacity="0.5" stroke="#fff" stroke-width="1.6" stroke-linejoin="round" stroke-opacity="0.95"/></g>
<rect x="1738.6" y="780.8" width="102" height="31" rx="4" fill="#fff" fill-opacity="0.8" stroke="#d6d6d6" stroke-width="1"/>
<rect x="1745.2" y="789.5" width="36" height="12.4" fill="#96d096" stroke="#2ca02c" stroke-opacity="0.5" stroke-width="1"/>
<text x="1794.9" y="801" font-family="'DejaVu Sans', 'Liberation Sans', sans-serif" font-size="17.5">0.73</text>
<g clip-path="url(#c5_2)"><use href="#r5" transform="translate(0,108.2)" fill="#7f7f7f" stroke="#000" stroke-width="1.6" stroke-linejoin="round"/><path d="M1282.8,879.7 L1288.8,879.7 L1294.7,879.6 L1300.7,879.5 L1306.7,879.3 L1312.6,879.2 L1318.6,878.9 L1324.5,878.3 L1330.5,877.7 L1336.5,877.3 L1342.4,875.7 L1348.4,874.7 L1354.4,872.1 L1360.3,869.3 L1366.3,867.4 L1372.3,866.8 L1378.2,864.7 L1384.2,859.6 L1390.2,857 L1396.1,849.5 L1402.1,848 L1408,846.2 L1414,842.4 L1420,844.7 L1425.9,840.5 L1431.9,844.3 L1437.9,843.8 L1443.8,842.3 L1449.8,843.4 L1455.8,844.6 L1461.7,841.4 L1467.7,843.1 L1473.7,837.4 L1479.6,839.9 L1485.6,837.4 L1491.5,837.6 L1497.5,840.4 L1503.5,845 L1509.4,841.3 L1515.4,841.1 L1521.4,837.9 L1527.3,839.1 L1533.3,840.2 L1539.3,845.9 L1545.2,845.4 L1551.2,846.8 L1557.2,846 L1563.1,848.1 L1569.1,845.8 L1575,847.1 L1581,853 L1587,855.1 L1592.9,853.4 L1598.9,857.6 L1604.9,854.7 L1610.8,857.5 L1616.8,858.1 L1622.8,859.3 L1628.7,859.4 L1634.7,862.5 L1640.7,863.6 L1646.6,862.3 L1652.6,864.9 L1658.5,866.5 L1664.5,865.3 L1670.5,867.8 L1676.4,868 L1682.4,867.8 L1688.4,869.5 L1694.3,869 L1700.3,870.2 L1706.3,871.8 L1712.2,871.3 L1718.2,871.3 L1724.2,872 L1730.1,873.1 L1736.1,873.4 L1742,873.4 L1748,873.9 L1754,875 L1759.9,874.4 L1765.9,875.3 L1771.9,876 L1777.8,875.8 L1783.8,875.6 L1789.8,876 L1795.7,876.8 L1801.7,876.9 L1807.7,877.2 L1813.6,877.2 L1819.6,877.5 L1825.5,877.5 L1831.5,878 L1837.5,878.1 L1843.4,878.4 L1849.4,878 L1849.4,879.8 L1282.8,879.8 Z" fill="#1f77b4" fill-opacity="0.5" stroke="#fff" stroke-width="1.6" stroke-linejoin="round" stroke-opacity="0.95"/></g>
<rect x="1738.6" y="834.9" width="102" height="31" rx="4" fill="#fff" fill-opacity="0.8" stroke="#d6d6d6" stroke-width="1"/>
<rect x="1745.2" y="843.6" width="36" height="12.4" fill="#8fbbda" stroke="#1f77b4" stroke-opacity="0.5" stroke-width="1"/>
<text x="1794.9" y="855.1" font-family="'DejaVu Sans', 'Liberation Sans', sans-serif" font-size="17.5">0.91</text>
<g clip-path="url(#c5_3)"><use href="#r5" transform="translate(0,162.3)" fill="#7f7f7f" stroke="#000" stroke-width="1.6" stroke-linejoin="round"/><path d="M1282.8,933.8 L1288.8,933.7 L1294.7,933.6 L1300.7,933.5 L1306.7,933.2 L1312.6,933 L1318.6,932.2 L1324.5,931.6 L1330.5,931.3 L1336.5,929.4 L1342.4,928.3 L1348.4,927.1 L1354.4,925.5 L1360.3,923 L1366.3,920.4 L1372.3,915.5 L1378.2,914 L1384.2,908 L1390.2,907.6 L1396.1,902.1 L1402.1,898.9 L1408,900.9 L1414,892.2 L1420,899.5 L1425.9,895.8 L1431.9,896.7 L1437.9,891.2 L1443.8,896.9 L1449.8,897.1 L1455.8,890.8 L1461.7,897.2 L1467.7,892 L1473.7,894.1 L1479.6,898.6 L1485.6,892.3 L1491.5,896.5 L1497.5,892.6 L1503.5,895.5 L1509.4,893.1 L1515.4,896.1 L1521.4,896.7 L1527.3,892.6 L1533.3,898.8 L1539.3,896.6 L1545.2,897.9 L1551.2,902.7 L1557.2,898.4 L1563.1,901.7 L1569.1,901.9 L1575,900.9 L1581,903.2 L1587,905.2 L1592.9,907.9 L1598.9,908.2 L1604.9,912.9 L1610.8,910.9 L1616.8,912.5 L1622.8,915.2 L1628.7,914.7 L1634.7,913.7 L1640.7,917.1 L1646.6,917.7 L1652.6,919.4 L1658.5,919.8 L1664.5,922 L1670.5,921.7 L1676.4,920.6 L1682.4,923.6 L1688.4,922.1 L1694.3,924.4 L1700.3,924.8 L1706.3,926.3 L1712.2,925.4 L1718.2,926.9 L1724.2,926.1 L1730.1,925.9 L1736.1,928 L1742,928.2 L1748,928.8 L1754,928.7 L1759.9,929.1 L1765.9,929.2 L1771.9,929.9 L1777.8,929.7 L1783.8,930 L1789.8,931.1 L1795.7,930.8 L1801.7,930.7 L1807.7,931.3 L1813.6,931.4 L1819.6,931.6 L1825.5,931.1 L1831.5,931.9 L1837.5,931.6 L1843.4,931.9 L1849.4,931.9 L1849.4,933.9 L1282.8,933.9 Z" fill="#bcbd22" fill-opacity="0.5" stroke="#fff" stroke-width="1.6" stroke-linejoin="round" stroke-opacity="0.95"/></g>
<rect x="1738.6" y="889" width="102" height="31" rx="4" fill="#fff" fill-opacity="0.8" stroke="#d6d6d6" stroke-width="1"/>
<rect x="1745.2" y="897.7" width="36" height="12.4" fill="#dede90" stroke="#bcbd22" stroke-opacity="0.5" stroke-width="1"/>
<text x="1794.9" y="909.2" font-family="'DejaVu Sans', 'Liberation Sans', sans-serif" font-size="17.5">0.89</text>
<g clip-path="url(#c5_4)"><use href="#r5" transform="translate(0,216.4)" fill="#7f7f7f" stroke="#000" stroke-width="1.6" stroke-linejoin="round"/><path d="M1282.8,987.6 L1288.8,987.4 L1294.7,987.3 L1300.7,987.1 L1306.7,986.8 L1312.6,986.5 L1318.6,985.5 L1324.5,984.9 L1330.5,983.7 L1336.5,982.6 L1342.4,981.7 L1348.4,979.4 L1354.4,978.4 L1360.3,975.8 L1366.3,971 L1372.3,970.1 L1378.2,968.7 L1384.2,964.4 L1390.2,962.4 L1396.1,955.2 L1402.1,952.8 L1408,954 L1414,946.8 L1420,944.2 L1425.9,945.8 L1431.9,948 L1437.9,940.8 L1443.8,942 L1449.8,944.9 L1455.8,945.7 L1461.7,940.3 L1467.7,948.2 L1473.7,944.4 L1479.6,945.6 L1485.6,939.6 L1491.5,949 L1497.5,941.6 L1503.5,946.2 L1509.4,941.2 L1515.4,949.9 L1521.4,943.2 L1527.3,947.5 L1533.3,949.4 L1539.3,948.1 L1545.2,952.1 L1551.2,952.1 L1557.2,954.2 L1563.1,955.4 L1569.1,959.2 L1575,962.2 L1581,959.9 L1587,962 L1592.9,965.2 L1598.9,964.9 L1604.9,968.7 L1610.8,966.5 L1616.8,970 L1622.8,969.4 L1628.7,972.7 L1634.7,970.2 L1640.7,972.7 L1646.6,973.5 L1652.6,973.9 L1658.5,975 L1664.5,977 L1670.5,976.7 L1676.4,976.9 L1682.4,977.7 L1688.4,978.4 L1694.3,979.7 L1700.3,980.5 L1706.3,979.9 L1712.2,981.4 L1718.2,981.4 L1724.2,981.8 L1730.1,982.5 L1736.1,983.1 L1742,983.5 L1748,983.6 L1754,984 L1759.9,983.4 L1765.9,984.3 L1771.9,984.1 L1777.8,985.1 L1783.8,984.8 L1789.8,984.8 L1795.7,985.5 L1801.7,985.7 L1807.7,985.7 L1813.6,986.1 L1819.6,986.1 L1825.5,986 L1831.5,986.4 L1837.5,986.3 L1843.4,986.8 L1849.4,986.5 L1849.4,988 L1282.8,988 Z" fill="#e377c2" fill-opacity="0.5" stroke="#fff" stroke-width="1.6" stroke-linejoin="round" stroke-opacity="0.95"/></g>
<rect x="1738.6" y="943.1" width="102" height="31" rx="4" fill="#fff" fill-opacity="0.8" stroke="#d6d6d6" stroke-width="1"/>
<rect x="1745.2" y="951.8" width="36" height="12.4" fill="#f1bbe0" stroke="#e377c2" stroke-opacity="0.5" stroke-width="1"/>
<text x="1794.9" y="963.3" font-family="'DejaVu Sans', 'Liberation Sans', sans-serif" font-size="17.5">0.89</text>
<g clip-path="url(#c5_5)"><use href="#r5" transform="translate(0,270.5)" fill="#7f7f7f" stroke="#000" stroke-width="1.6" stroke-linejoin="round"/><path d="M1282.8,1042 L1288.8,1042 L1294.7,1042 L1300.7,1041.9 L1306.7,1041.8 L1312.6,1041.5 L1318.6,1041.4 L1324.5,1040.7 L1330.5,1040 L1336.5,1038.5 L1342.4,1035.9 L1348.4,1033.2 L1354.4,1031.4 L1360.3,1025.7 L1366.3,1022.9 L1372.3,1016.8 L1378.2,1009 L1384.2,1006.9 L1390.2,997.3 L1396.1,1002.1 L1402.1,1002.5 L1408,998.1 L1414,994.4 L1420,1002.1 L1425.9,995.1 L1431.9,1000.3 L1437.9,1000.1 L1443.8,998.4 L1449.8,998 L1455.8,1000.7 L1461.7,1001.7 L1467.7,998.3 L1473.7,998.3 L1479.6,998.9 L1485.6,1001.4 L1491.5,997.7 L1497.5,997.1 L1503.5,1002.3 L1509.4,998.6 L1515.4,1000.6 L1521.4,1006.3 L1527.3,1004.4 L1533.3,1002.2 L1539.3,1005.7 L1545.2,1010.7 L1551.2,1012.9 L1557.2,1009.8 L1563.1,1013.9 L1569.1,1017 L1575,1018 L1581,1018.6 L1587,1019.9 L1592.9,1022.5 L1598.9,1022.1 L1604.9,1024.8 L1610.8,1023.6 L1616.8,1025.5 L1622.8,1027 L1628.7,1027 L1634.7,1027.8 L1640.7,1027.7 L1646.6,1031.4 L1652.6,1030.7 L1658.5,1031.6 L1664.5,1033 L1670.5,1033.6 L1676.4,1035.1 L1682.4,1034.8 L1688.4,1034.9 L1694.3,1036.1 L1700.3,1036.3 L1706.3,1036.6 L1712.2,1036.5 L1718.2,1037.4 L1724.2,1037.8 L1730.1,1038.3 L1736.1,1038.4 L1742,1039.1 L1748,1038.9 L1754,1039.4 L1759.9,1040.1 L1765.9,1040.1 L1771.9,1040.1 L1777.8,1040.2 L1783.8,1040.2 L1789.8,1040.7 L1795.7,1040.9 L1801.7,1040.8 L1807.7,1041.1 L1813.6,1041 L1819.6,1041.2 L1825.5,1041 L1831.5,1041.4 L1837.5,1041.3 L1843.4,1041.5 L1849.4,1041.5 L1849.4,1042 L1282.8,1042 Z" fill="#d62728" fill-opacity="0.5" stroke="#fff" stroke-width="1.6" stroke-linejoin="round" stroke-opacity="0.95"/></g>
<rect x="1738.6" y="997.2" width="102" height="31" rx="4" fill="#fff" fill-opacity="0.8" stroke="#d6d6d6" stroke-width="1"/>
<rect x="1745.2" y="1005.9" width="36" height="12.4" fill="#ea9394" stroke="#d62728" stroke-opacity="0.5" stroke-width="1"/>
<text x="1794.9" y="1017.4" font-family="'DejaVu Sans', 'Liberation Sans', sans-serif" font-size="17.5">0.79</text>
<g clip-path="url(#c5_6)"><use href="#r5" transform="translate(0,324.5)" fill="#7f7f7f" stroke="#000" stroke-width="1.6" stroke-linejoin="round"/><path d="M1282.8,1096.1 L1288.8,1096.1 L1294.7,1096 L1300.7,1096 L1306.7,1095.9 L1312.6,1095.8 L1318.6,1095.7 L1324.5,1095.4 L1330.5,1095.3 L1336.5,1094.5 L1342.4,1094.5 L1348.4,1093.6 L1354.4,1093.1 L1360.3,1091.8 L1366.3,1090.6 L1372.3,1089.4 L1378.2,1086.7 L1384.2,1084.5 L1390.2,1081.9 L1396.1,1081.6 L1402.1,1076.7 L1408,1072 L1414,1067.7 L1420,1065.5 L1425.9,1061.6 L1431.9,1059.5 L1437.9,1057.6 L1443.8,1053.4 L1449.8,1059.5 L1455.8,1056.8 L1461.7,1051.3 L1467.7,1054.6 L1473.7,1052.9 L1479.6,1049.9 L1485.6,1054.6 L1491.5,1052 L1497.5,1056.3 L1503.5,1054.1 L1509.4,1051.7 L1515.4,1050.7 L1521.4,1053.9 L1527.3,1056.8 L1533.3,1054.6 L1539.3,1054 L1545.2,1054.2 L1551.2,1061.6 L1557.2,1061.7 L1563.1,1062.8 L1569.1,1058.3 L1575,1065.3 L1581,1069.4 L1587,1064.9 L1592.9,1067 L1598.9,1067.2 L1604.9,1071.2 L1610.8,1070.3 L1616.8,1070.6 L1622.8,1073.1 L1628.7,1073.2 L1634.7,1073.9 L1640.7,1075.5 L1646.6,1075.7 L1652.6,1079.7 L1658.5,1080.6 L1664.5,1081.2 L1670.5,1081.5 L1676.4,1081 L1682.4,1083.2 L1688.4,1084.6 L1694.3,1083.5 L1700.3,1086.3 L1706.3,1086.2 L1712.2,1086.4 L1718.2,1086.9 L1724.2,1088.5 L1730.1,1088.1 L1736.1,1087.6 L1742,1088.6 L1748,1089.8 L1754,1090 L1759.9,1090.2 L1765.9,1090.4 L1771.9,1091.4 L1777.8,1090.5 L1783.8,1091.8 L1789.8,1091.6 L1795.7,1092.3 L1801.7,1092.9 L1807.7,1092.9 L1813.6,1092.9 L1819.6,1093.3 L1825.5,1093 L1831.5,1093.3 L1837.5,1093.7 L1843.4,1093.8 L1849.4,1094.4 L1849.4,1096.1 L1282.8,1096.1 Z" fill="#ff7f0e" fill-opacity="0.5" stroke="#fff" stroke-width="1.6" stroke-linejoin="round" stroke-opacity="0.95"/></g>
<rect x="1738.6" y="1051.2" width="102" height="31" rx="4" fill="#fff" fill-opacity="0.8" stroke="#d6d6d6" stroke-width="1"/>
<rect x="1745.2" y="1059.9" width="36" height="12.4" fill="#ffbf86" stroke="#ff7f0e" stroke-opacity="0.5" stroke-width="1"/>
<text x="1794.9" y="1071.4" font-family="'DejaVu Sans', 'Liberation Sans', sans-serif" font-size="17.5">0.96</text>
<g clip-path="url(#c5_7)"><use href="#r5" transform="translate(0,378.6)" fill="#7f7f7f" stroke="#000" stroke-width="1.6" stroke-linejoin="round"/><path d="M1282.8,1150.2 L1288.8,1150.2 L1294.7,1150.2 L1300.7,1150.1 L1306.7,1150.1 L1312.6,1150 L1318.6,1149.8 L1324.5,1149.7 L1330.5,1149.3 L1336.5,1149.2 L1342.4,1148.5 L1348.4,1148 L1354.4,1146.7 L1360.3,1145.2 L1366.3,1144.1 L1372.3,1142.7 L1378.2,1140 L1384.2,1138.2 L1390.2,1136.6 L1396.1,1130.6 L1402.1,1130.9 L1408,1125.4 L1414,1120.4 L1420,1120.2 L1425.9,1116.9 L1431.9,1110.2 L1437.9,1113.6 L1443.8,1109.1 L1449.8,1105.4 L1455.8,1106.9 L1461.7,1104.4 L1467.7,1107.7 L1473.7,1109.6 L1479.6,1105 L1485.6,1110.6 L1491.5,1108.2 L1497.5,1112.5 L1503.5,1112.2 L1509.4,1105.3 L1515.4,1110.4 L1521.4,1108.9 L1527.3,1109.1 L1533.3,1114.5 L1539.3,1113.6 L1545.2,1113.5 L1551.2,1111.8 L1557.2,1114.6 L1563.1,1113.3 L1569.1,1119.3 L1575,1115.3 L1581,1122.2 L1587,1119 L1592.9,1124 L1598.9,1123.6 L1604.9,1123.9 L1610.8,1128.3 L1616.8,1123.7 L1622.8,1125.1 L1628.7,1129.5 L1634.7,1129.5 L1640.7,1131.5 L1646.6,1134.1 L1652.6,1132.3 L1658.5,1133.6 L1664.5,1136.3 L1670.5,1135.8 L1676.4,1138.1 L1682.4,1137.2 L1688.4,1137.4 L1694.3,1139.1 L1700.3,1139.2 L1706.3,1139.6 L1712.2,1140.7 L1718.2,1140.7 L1724.2,1142.9 L1730.1,1142.3 L1736.1,1143 L1742,1142.9 L1748,1143.3 L1754,1143.6 L1759.9,1144.4 L1765.9,1145.2 L1771.9,1145.3 L1777.8,1145 L1783.8,1146.1 L1789.8,1145.9 L1795.7,1146.5 L1801.7,1146.9 L1807.7,1147 L1813.6,1146.9 L1819.6,1147.3 L1825.5,1147.3 L1831.5,1148 L1837.5,1147.7 L1843.4,1148 L1849.4,1148.4 L1849.4,1150.2 L1282.8,1150.2 Z" fill="#17becf" fill-opacity="0.5" stroke="#fff" stroke-width="1.6" stroke-linejoin="round" stroke-opacity="0.95"/></g>
<rect x="1738.6" y="1105.3" width="102" height="31" rx="4" fill="#fff" fill-opacity="0.8" stroke="#d6d6d6" stroke-width="1"/>
<rect x="1745.2" y="1114" width="36" height="12.4" fill="#8bdee7" stroke="#17becf" stroke-opacity="0.5" stroke-width="1"/>
<text x="1794.9" y="1125.5" font-family="'DejaVu Sans', 'Liberation Sans', sans-serif" font-size="17.5">0.94</text>
<g clip-path="url(#c5_8)"><use href="#r5" transform="translate(0,432.7)" fill="#7f7f7f" stroke="#000" stroke-width="1.6" stroke-linejoin="round"/><path d="M1282.8,1204.3 L1288.8,1204.2 L1294.7,1204.1 L1300.7,1204 L1306.7,1203.9 L1312.6,1203.2 L1318.6,1202.5 L1324.5,1201.1 L1330.5,1199.4 L1336.5,1196.6 L1342.4,1194.4 L1348.4,1191.1 L1354.4,1184.7 L1360.3,1180.6 L1366.3,1176.4 L1372.3,1173.1 L1378.2,1169.4 L1384.2,1161.4 L1390.2,1162.5 L1396.1,1165.5 L1402.1,1164.4 L1408,1164.8 L1414,1158.7 L1420,1162 L1425.9,1166.6 L1431.9,1164 L1437.9,1162.8 L1443.8,1166.2 L1449.8,1157.7 L1455.8,1163.9 L1461.7,1160.3 L1467.7,1161.5 L1473.7,1165.5 L1479.6,1161.1 L1485.6,1163.9 L1491.5,1165.9 L1497.5,1168.9 L1503.5,1167.9 L1509.4,1167.9 L1515.4,1167.5 L1521.4,1169 L1527.3,1168.8 L1533.3,1172.4 L1539.3,1174.9 L1545.2,1174.7 L1551.2,1175.8 L1557.2,1175.4 L1563.1,1177.4 L1569.1,1179.4 L1575,1183.3 L1581,1179.5 L1587,1182.4 L1592.9,1184.5 L1598.9,1183.4 L1604.9,1186 L1610.8,1187.3 L1616.8,1188.6 L1622.8,1189.3 L1628.7,1188.4 L1634.7,1190.3 L1640.7,1190.1 L1646.6,1192.1 L1652.6,1193.4 L1658.5,1193.3 L1664.5,1195.3 L1670.5,1194.9 L1676.4,1194.5 L1682.4,1195.6 L1688.4,1196.8 L1694.3,1196.4 L1700.3,1197.5 L1706.3,1198 L1712.2,1198.6 L1718.2,1199 L1724.2,1199.3 L1730.1,1199.5 L1736.1,1199.6 L1742,1199.5 L1748,1200.3 L1754,1200.1 L1759.9,1200.4 L1765.9,1201 L1771.9,1201.3 L1777.8,1201.9 L1783.8,1201.3 L1789.8,1201.8 L1795.7,1202.2 L1801.7,1202 L1807.7,1202.2 L1813.6,1202.9 L1819.6,1202.8 L1825.5,1202.4 L1831.5,1202.9 L1837.5,1202.9 L1843.4,1203 L1849.4,1203.1 L1849.4,1204.3 L1282.8,1204.3 Z" fill="#7f7f7f" fill-opacity="0.5" stroke="#fff" stroke-width="1.6" stroke-linejoin="round" stroke-opacity="0.95"/></g>
<rect x="1738.6" y="1159.4" width="102" height="31" rx="4" fill="#fff" fill-opacity="0.8" stroke="#d6d6d6" stroke-width="1"/>
<rect x="1745.2" y="1168.1" width="36" height="12.4" fill="#bfbfbf" stroke="#7f7f7f" stroke-opacity="0.5" stroke-width="1"/>
<text x="1794.9" y="1179.6" font-family="'DejaVu Sans', 'Liberation Sans', sans-serif" font-size="17.5">0.77</text>
<g clip-path="url(#c5_9)"><use href="#r5" transform="translate(0,486.8)" fill="#7f7f7f" stroke="#000" stroke-width="1.6" stroke-linejoin="round"/><path d="M1282.8,1258 L1288.8,1257.8 L1294.7,1257.3 L1300.7,1256.4 L1306.7,1255.7 L1312.6,1254.2 L1318.6,1250.2 L1324.5,1248.1 L1330.5,1245.2 L1336.5,1239.7 L1342.4,1234.9 L1348.4,1231.5 L1354.4,1226.6 L1360.3,1222.8 L1366.3,1214.3 L1372.3,1217.8 L1378.2,1215.2 L1384.2,1213.2 L1390.2,1216.1 L1396.1,1214.2 L1402.1,1216 L1408,1214.6 L1414,1213.7 L1420,1214.6 L1425.9,1215.1 L1431.9,1218.2 L1437.9,1215.9 L1443.8,1215.5 L1449.8,1217.5 L1455.8,1210.7 L1461.7,1215.1 L1467.7,1217.5 L1473.7,1219.9 L1479.6,1221.7 L1485.6,1216.8 L1491.5,1222.9 L1497.5,1218.7 L1503.5,1220.7 L1509.4,1227.7 L1515.4,1224.2 L1521.4,1224.4 L1527.3,1230.1 L1533.3,1227.6 L1539.3,1230.9 L1545.2,1228.9 L1551.2,1233.3 L1557.2,1234 L1563.1,1236.5 L1569.1,1234.1 L1575,1235.2 L1581,1236.3 L1587,1241.6 L1592.9,1241 L1598.9,1239.8 L1604.9,1241.7 L1610.8,1243.8 L1616.8,1242.2 L1622.8,1245.1 L1628.7,1244.1 L1634.7,1247.6 L1640.7,1247.4 L1646.6,1247.9 L1652.6,1249.4 L1658.5,1248.9 L1664.5,1249.5 L1670.5,1249.2 L1676.4,1250 L1682.4,1250.1 L1688.4,1251.3 L1694.3,1252.3 L1700.3,1251.7 L1706.3,1253.1 L1712.2,1252.5 L1718.2,1253.5 L1724.2,1253.1 L1730.1,1254.6 L1736.1,1253.9 L1742,1254.8 L1748,1254.9 L1754,1255.2 L1759.9,1255.3 L1765.9,1256 L1771.9,1255.5 L1777.8,1255.8 L1783.8,1256 L1789.8,1256.8 L1795.7,1256.3 L1801.7,1256.9 L1807.7,1256.6 L1813.6,1256.7 L1819.6,1257.1 L1825.5,1257.2 L1831.5,1257 L1837.5,1257.5 L1843.4,1257.3 L1849.4,1257.5 L1849.4,1258.4 L1282.8,1258.4 Z" fill="#9467bd" fill-opacity="0.5" stroke="#fff" stroke-width="1.6" stroke-linejoin="round" stroke-opacity="0.95"/></g>
<rect x="1738.6" y="1213.5" width="102" height="31" rx="4" fill="#fff" fill-opacity="0.8" stroke="#d6d6d6" stroke-width="1"/>
<rect x="1745.2" y="1222.2" width="36" height="12.4" fill="#cab3de" stroke="#9467bd" stroke-opacity="0.5" stroke-width="1"/>
<text x="1794.9" y="1233.7" font-family="'DejaVu Sans', 'Liberation Sans', sans-serif" font-size="17.5">0.74</text>
<line x1="1282.8" y1="771.6" x2="1849.4" y2="771.6" stroke="#222" stroke-width="1.5"/>
<line x1="1282.8" y1="825.7" x2="1849.4" y2="825.7" stroke="#222" stroke-width="1.5"/>
<line x1="1282.8" y1="879.8" x2="1849.4" y2="879.8" stroke="#222" stroke-width="1.5"/>
<line x1="1282.8" y1="933.9" x2="1849.4" y2="933.9" stroke="#222" stroke-width="1.5"/>
<line x1="1282.8" y1="988" x2="1849.4" y2="988" stroke="#222" stroke-width="1.5"/>
<line x1="1282.8" y1="1042" x2="1849.4" y2="1042" stroke="#222" stroke-width="1.5"/>
<line x1="1282.8" y1="1096.1" x2="1849.4" y2="1096.1" stroke="#222" stroke-width="1.5"/>
<line x1="1282.8" y1="1150.2" x2="1849.4" y2="1150.2" stroke="#222" stroke-width="1.5"/>
<line x1="1282.8" y1="1204.3" x2="1849.4" y2="1204.3" stroke="#222" stroke-width="1.5"/>
<rect x="1282.8" y="717.5" width="566.6" height="540.9" fill="none" stroke="#222" stroke-width="1.3"/>
<line x1="1309.9" y1="1258.4" x2="1309.9" y2="1261.9" stroke="#222" stroke-width="1"/>
<text x="1309.9" y="1278" text-anchor="middle" font-family="'DejaVu Sans', 'Liberation Sans', sans-serif" font-size="17.2">1.5</text>
<line x1="1392.6" y1="1258.4" x2="1392.6" y2="1261.9" stroke="#222" stroke-width="1"/>
<text x="1392.6" y="1278" text-anchor="middle" font-family="'DejaVu Sans', 'Liberation Sans', sans-serif" font-size="17.2">2.0</text>
<line x1="1475.2" y1="1258.4" x2="1475.2" y2="1261.9" stroke="#222" stroke-width="1"/>
<text x="1475.2" y="1278" text-anchor="middle" font-family="'DejaVu Sans', 'Liberation Sans', sans-serif" font-size="17.2">2.5</text>
<line x1="1557.9" y1="1258.4" x2="1557.9" y2="1261.9" stroke="#222" stroke-width="1"/>
<text x="1557.9" y="1278" text-anchor="middle" font-family="'DejaVu Sans', 'Liberation Sans', sans-serif" font-size="17.2">3.0</text>
<line x1="1640.5" y1="1258.4" x2="1640.5" y2="1261.9" stroke="#222" stroke-width="1"/>
<text x="1640.5" y="1278" text-anchor="middle" font-family="'DejaVu Sans', 'Liberation Sans', sans-serif" font-size="17.2">3.5</text>
<line x1="1723.2" y1="1258.4" x2="1723.2" y2="1261.9" stroke="#222" stroke-width="1"/>
<text x="1723.2" y="1278" text-anchor="middle" font-family="'DejaVu Sans', 'Liberation Sans', sans-serif" font-size="17.2">4.0</text>
<line x1="1805.8" y1="1258.4" x2="1805.8" y2="1261.9" stroke="#222" stroke-width="1"/>
<text x="1805.8" y="1278" text-anchor="middle" font-family="'DejaVu Sans', 'Liberation Sans', sans-serif" font-size="17.2">4.5</text>
<line x1="1279.3" y1="1258.4" x2="1282.8" y2="1258.4" stroke="#222" stroke-width="1"/>
<text x="1276.2" y="1265.3" text-anchor="end" font-family="'DejaVu Sans', 'Liberation Sans', sans-serif" font-size="17.2">0</text>
<line x1="1279.3" y1="1223" x2="1282.8" y2="1223" stroke="#222" stroke-width="1"/>
<text x="1276.2" y="1229.9" text-anchor="end" font-family="'DejaVu Sans', 'Liberation Sans', sans-serif" font-size="17.2">2</text>
<text x="1851.2" y="1302.9" text-anchor="end" font-family="'Liberation Sans', Arial, sans-serif" font-size="22">[μm]</text>
<text x="1557" y="707.9" text-anchor="middle" font-family="'Liberation Sans', Arial, sans-serif" font-weight="bold" font-size="33.5">MaxFeret</text>
<clipPath id="c6_0"><rect x="44.7" y="1345.3" width="566.3" height="54.1"/></clipPath>
<clipPath id="c6_1"><rect x="44.7" y="1399.4" width="566.3" height="54.1"/></clipPath>
<clipPath id="c6_2"><rect x="44.7" y="1453.4" width="566.3" height="54.1"/></clipPath>
<clipPath id="c6_3"><rect x="44.7" y="1507.5" width="566.3" height="54.1"/></clipPath>
<clipPath id="c6_4"><rect x="44.7" y="1561.6" width="566.3" height="54.1"/></clipPath>
<clipPath id="c6_5"><rect x="44.7" y="1615.7" width="566.3" height="54.1"/></clipPath>
<clipPath id="c6_6"><rect x="44.7" y="1669.7" width="566.3" height="54.1"/></clipPath>
<clipPath id="c6_7"><rect x="44.7" y="1723.8" width="566.3" height="54.1"/></clipPath>
<clipPath id="c6_8"><rect x="44.7" y="1777.9" width="566.3" height="54.1"/></clipPath>
<clipPath id="c6_9"><rect x="44.7" y="1831.9" width="566.3" height="54.1"/></clipPath>
<defs><path id="r6" d="M44.7,1399.4 L50.7,1399.4 L56.6,1399.4 L62.6,1399.4 L68.5,1399.4 L74.5,1399.4 L80.5,1399.4 L86.4,1399.4 L92.4,1399.4 L98.3,1399.4 L104.3,1399.4 L110.3,1399.3 L116.2,1398.8 L122.2,1398.3 L128.2,1397.5 L134.1,1393.8 L140.1,1390.3 L146,1391 L152,1382.9 L158,1379.1 L163.9,1375.5 L169.9,1370.3 L175.8,1355.2 L181.8,1355.7 L187.8,1356.9 L193.7,1352.9 L199.7,1351.3 L205.6,1350.7 L211.6,1359.9 L217.6,1359.1 L223.5,1360.8 L229.5,1370.4 L235.5,1374.5 L241.4,1377.6 L247.4,1381.2 L253.3,1385 L259.3,1389.5 L265.3,1392 L271.2,1393.7 L277.2,1395.7 L283.1,1396.6 L289.1,1397.2 L295.1,1397.8 L301,1398.4 L307,1398.8 L312.9,1399.1 L318.9,1399.3 L324.9,1399.4 L330.8,1399.4 L336.8,1399.4 L342.8,1399.4 L348.7,1399.4 L354.7,1399.4 L360.6,1399.4 L366.6,1399.4 L372.6,1399.4 L378.5,1399.4 L384.5,1399.4 L390.4,1399.4 L396.4,1399.4 L402.4,1399.4 L408.3,1399.4 L414.3,1399.4 L420.2,1399.4 L426.2,1399.4 L432.2,1399.4 L438.1,1399.4 L444.1,1399.4 L450.1,1399.4 L456,1399.4 L462,1399.4 L467.9,1399.4 L473.9,1399.4 L479.9,1399.4 L485.8,1399.4 L491.8,1399.4 L497.7,1399.4 L503.7,1399.4 L509.7,1399.4 L515.6,1399.4 L521.6,1399.4 L527.5,1399.4 L533.5,1399.4 L539.5,1399.4 L545.4,1399.4 L551.4,1399.4 L557.4,1399.4 L563.3,1399.4 L569.3,1399.4 L575.2,1399.4 L581.2,1399.4 L587.2,1399.4 L593.1,1399.4 L599.1,1399.4 L605,1399.4 L611,1399.4 L611,1399.4 L44.7,1399.4 Z"/></defs>
<g clip-path="url(#c6_0)"><use href="#r6" transform="translate(0,0)" fill="#7f7f7f" stroke="#000" stroke-width="1.6" stroke-linejoin="round"/><path d="M44.7,1399.4 L50.7,1399.4 L56.6,1399.4 L62.6,1399.4 L68.5,1399.4 L74.5,1399.4 L80.5,1398.3 L86.4,1397.2 L92.4,1396 L98.3,1394.6 L104.3,1393.7 L110.3,1391.9 L116.2,1388.7 L122.2,1387 L128.2,1388.7 L134.1,1384.6 L140.1,1376.1 L146,1373.7 L152,1373.7 L158,1371.9 L163.9,1372.5 L169.9,1370.2 L175.8,1369 L181.8,1373.4 L187.8,1375.1 L193.7,1377 L199.7,1377.9 L205.6,1380.2 L211.6,1381.6 L217.6,1384.2 L223.5,1387.5 L229.5,1387.8 L235.5,1388.5 L241.4,1389.2 L247.4,1389.1 L253.3,1389.9 L259.3,1390.5 L265.3,1387.3 L271.2,1386.8 L277.2,1389.1 L283.1,1391.1 L289.1,1391.6 L295.1,1389.7 L301,1388.4 L307,1389.3 L312.9,1391.4 L318.9,1393.5 L324.9,1392.8 L330.8,1390.9 L336.8,1391.5 L342.8,1393.4 L348.7,1394.3 L354.7,1395.7 L360.6,1396.5 L366.6,1397.1 L372.6,1397.7 L378.5,1398.2 L384.5,1398.8 L390.4,1399.3 L396.4,1399.4 L402.4,1399.4 L408.3,1399.4 L414.3,1399.4 L420.2,1399.4 L426.2,1399.4 L432.2,1399.4 L438.1,1399.4 L444.1,1399.4 L450.1,1399.4 L456,1399.4 L462,1399.4 L467.9,1399.4 L473.9,1399.4 L479.9,1399.4 L485.8,1399.4 L491.8,1399.4 L497.7,1399.4 L503.7,1399.4 L509.7,1399.4 L515.6,1399.4 L521.6,1399.4 L527.5,1399.4 L533.5,1399.4 L539.5,1399.4 L545.4,1399.4 L551.4,1399.4 L557.4,1399.4 L563.3,1399.4 L569.3,1399.4 L575.2,1399.4 L581.2,1399.4 L587.2,1399.4 L593.1,1399.4 L599.1,1399.4 L605,1399.4 L611,1399.4 L611,1399.4 L44.7,1399.4 Z" fill="#8c564b" fill-opacity="0.5" stroke="#fff" stroke-width="1.6" stroke-linejoin="round" stroke-opacity="0.95"/></g>
<rect x="500.2" y="1354.5" width="102" height="31" rx="4" fill="#fff" fill-opacity="0.8" stroke="#d6d6d6" stroke-width="1"/>
<rect x="506.8" y="1363.2" width="36" height="12.4" fill="#c6aaa5" stroke="#8c564b" stroke-opacity="0.5" stroke-width="1"/>
<text x="556.5" y="1374.7" font-family="'DejaVu Sans', 'Liberation Sans', sans-serif" font-size="17.5">0.60</text>
<g clip-path="url(#c6_1)"><use href="#r6" transform="translate(0,54.1)" fill="#7f7f7f" stroke="#000" stroke-width="1.6" stroke-linejoin="round"/><path d="M44.7,1453.4 L50.7,1453.4 L56.6,1453.4 L62.6,1453.4 L68.5,1453.4 L74.5,1453.4 L80.5,1453.4 L86.4,1453.4 L92.4,1453.4 L98.3,1453.4 L104.3,1453.4 L110.3,1453.4 L116.2,1451.8 L122.2,1450.3 L128.2,1448.7 L134.1,1447.6 L140.1,1444.9 L146,1440.7 L152,1440.2 L158,1439.2 L163.9,1439 L169.9,1433.8 L175.8,1427.3 L181.8,1431 L187.8,1429.8 L193.7,1424.4 L199.7,1419.4 L205.6,1417.3 L211.6,1427.7 L217.6,1424.9 L223.5,1419.9 L229.5,1422.7 L235.5,1424.4 L241.4,1426.4 L247.4,1429.9 L253.3,1430.5 L259.3,1430.7 L265.3,1431.8 L271.2,1432 L277.2,1436.4 L283.1,1441.2 L289.1,1443.6 L295.1,1443.6 L301,1444.9 L307,1445 L312.9,1445.1 L318.9,1445.6 L324.9,1446.1 L330.8,1446.3 L336.8,1447.4 L342.8,1447.8 L348.7,1448.9 L354.7,1449.8 L360.6,1450 L366.6,1450.4 L372.6,1450.9 L378.5,1451.2 L384.5,1451.5 L390.4,1451.8 L396.4,1452.1 L402.4,1452.4 L408.3,1452.6 L414.3,1452.9 L420.2,1453.2 L426.2,1453.4 L432.2,1453.4 L438.1,1453.4 L444.1,1453.4 L450.1,1453.4 L456,1453.4 L462,1453.4 L467.9,1453.4 L473.9,1453.4 L479.9,1453.4 L485.8,1453.4 L491.8,1453.4 L497.7,1453.4 L503.7,1453.4 L509.7,1453.4 L515.6,1453.4 L521.6,1453.4 L527.5,1453.4 L533.5,1453.4 L539.5,1453.4 L545.4,1453.4 L551.4,1453.4 L557.4,1453.4 L563.3,1453.4 L569.3,1453.4 L575.2,1453.4 L581.2,1453.4 L587.2,1453.4 L593.1,1453.4 L599.1,1453.4 L605,1453.4 L611,1453.4 L611,1453.4 L44.7,1453.4 Z" fill="#2ca02c" fill-opacity="0.5" stroke="#fff" stroke-width="1.6" stroke-linejoin="round" stroke-opacity="0.95"/></g>
<rect x="500.2" y="1408.6" width="102" height="31" rx="4" fill="#fff" fill-opacity="0.8" stroke="#d6d6d6" stroke-width="1"/>
<rect x="506.8" y="1417.3" width="36" height="12.4" fill="#96d096" stroke="#2ca02c" stroke-opacity="0.5" stroke-width="1"/>
<text x="556.5" y="1428.8" font-family="'DejaVu Sans', 'Liberation Sans', sans-serif" font-size="17.5">0.68</text>
<g clip-path="url(#c6_2)"><use href="#r6" transform="translate(0,108.1)" fill="#7f7f7f" stroke="#000" stroke-width="1.6" stroke-linejoin="round"/><path d="M44.7,1507.5 L50.7,1507.5 L56.6,1507.5 L62.6,1506.9 L68.5,1505.6 L74.5,1504.1 L80.5,1502.5 L86.4,1501.4 L92.4,1499.4 L98.3,1498.2 L104.3,1496.3 L110.3,1494.4 L116.2,1490.8 L122.2,1487.8 L128.2,1489.4 L134.1,1486.4 L140.1,1479.7 L146,1478.8 L152,1476.8 L158,1477.6 L163.9,1477.9 L169.9,1475 L175.8,1477.7 L181.8,1481.9 L187.8,1485.2 L193.7,1487.2 L199.7,1489.1 L205.6,1490.1 L211.6,1490.2 L217.6,1492.2 L223.5,1493.5 L229.5,1495 L235.5,1495.5 L241.4,1496.2 L247.4,1496.6 L253.3,1498.1 L259.3,1498.8 L265.3,1499.5 L271.2,1499.9 L277.2,1501.3 L283.1,1501.5 L289.1,1502.1 L295.1,1501.7 L301,1501.2 L307,1500.7 L312.9,1501.6 L318.9,1502.5 L324.9,1503.2 L330.8,1504 L336.8,1504.9 L342.8,1505.7 L348.7,1506.5 L354.7,1507.3 L360.6,1507.5 L366.6,1507.5 L372.6,1507.5 L378.5,1507.5 L384.5,1507.5 L390.4,1507.5 L396.4,1507.5 L402.4,1507.5 L408.3,1507.5 L414.3,1507.5 L420.2,1507.5 L426.2,1507.5 L432.2,1507.5 L438.1,1507.5 L444.1,1507.5 L450.1,1507.5 L456,1507.5 L462,1507.5 L467.9,1507.5 L473.9,1507.5 L479.9,1507.5 L485.8,1507.5 L491.8,1507.5 L497.7,1507.5 L503.7,1507.5 L509.7,1507.5 L515.6,1507.5 L521.6,1507.5 L527.5,1507.5 L533.5,1507.5 L539.5,1507.5 L545.4,1507.5 L551.4,1507.5 L557.4,1507.5 L563.3,1507.5 L569.3,1507.5 L575.2,1507.5 L581.2,1507.5 L587.2,1507.5 L593.1,1507.5 L599.1,1507.5 L605,1507.5 L611,1507.5 L611,1507.5 L44.7,1507.5 Z" fill="#1f77b4" fill-opacity="0.5" stroke="#fff" stroke-width="1.6" stroke-linejoin="round" stroke-opacity="0.95"/></g>
<rect x="500.2" y="1462.6" width="102" height="31" rx="4" fill="#fff" fill-opacity="0.8" stroke="#d6d6d6" stroke-width="1"/>
<rect x="506.8" y="1471.3" width="36" height="12.4" fill="#8fbbda" stroke="#1f77b4" stroke-opacity="0.5" stroke-width="1"/>
<text x="556.5" y="1482.8" font-family="'DejaVu Sans', 'Liberation Sans', sans-serif" font-size="17.5">0.58</text>
<g clip-path="url(#c6_3)"><use href="#r6" transform="translate(0,162.2)" fill="#7f7f7f" stroke="#000" stroke-width="1.6" stroke-linejoin="round"/><path d="M44.7,1561.6 L50.7,1561.6 L56.6,1561.6 L62.6,1561.4 L68.5,1560.9 L74.5,1560.5 L80.5,1559.3 L86.4,1558.1 L92.4,1556.8 L98.3,1555.2 L104.3,1553.9 L110.3,1552.7 L116.2,1552.5 L122.2,1551.7 L128.2,1550.6 L134.1,1549.4 L140.1,1548.8 L146,1547.1 L152,1548.5 L158,1544.9 L163.9,1541 L169.9,1537.5 L175.8,1534.2 L181.8,1538.9 L187.8,1540.2 L193.7,1534.2 L199.7,1527.4 L205.6,1522.6 L211.6,1532.8 L217.6,1531.4 L223.5,1528.7 L229.5,1529.3 L235.5,1532.7 L241.4,1534.1 L247.4,1534.6 L253.3,1537.9 L259.3,1538.6 L265.3,1539.9 L271.2,1543.1 L277.2,1544.5 L283.1,1545.9 L289.1,1548.4 L295.1,1551.4 L301,1554.1 L307,1556.1 L312.9,1557.4 L318.9,1558.3 L324.9,1559.2 L330.8,1560.2 L336.8,1561.3 L342.8,1561.6 L348.7,1561.6 L354.7,1561.6 L360.6,1561.6 L366.6,1561.6 L372.6,1561.6 L378.5,1561.6 L384.5,1561.6 L390.4,1561.6 L396.4,1561.6 L402.4,1561.6 L408.3,1561.6 L414.3,1561.6 L420.2,1561.6 L426.2,1561.6 L432.2,1561.6 L438.1,1561.6 L444.1,1561.6 L450.1,1561.6 L456,1561.6 L462,1561.6 L467.9,1561.6 L473.9,1561.6 L479.9,1561.6 L485.8,1561.6 L491.8,1561.6 L497.7,1561.6 L503.7,1561.6 L509.7,1561.6 L515.6,1561.6 L521.6,1561.6 L527.5,1561.6 L533.5,1561.6 L539.5,1561.6 L545.4,1561.6 L551.4,1561.6 L557.4,1561.6 L563.3,1561.6 L569.3,1561.6 L575.2,1561.6 L581.2,1561.6 L587.2,1561.6 L593.1,1561.6 L599.1,1561.6 L605,1561.6 L611,1561.6 L611,1561.6 L44.7,1561.6 Z" fill="#bcbd22" fill-opacity="0.5" stroke="#fff" stroke-width="1.6" stroke-linejoin="round" stroke-opacity="0.95"/></g>
<rect x="500.2" y="1516.7" width="102" height="31" rx="4" fill="#fff" fill-opacity="0.8" stroke="#d6d6d6" stroke-width="1"/>
<rect x="506.8" y="1525.4" width="36" height="12.4" fill="#dede90" stroke="#bcbd22" stroke-opacity="0.5" stroke-width="1"/>
<text x="556.5" y="1536.9" font-family="'DejaVu Sans', 'Liberation Sans', sans-serif" font-size="17.5">0.73</text>
<g clip-path="url(#c6_4)"><use href="#r6" transform="translate(0,216.3)" fill="#7f7f7f" stroke="#000" stroke-width="1.6" stroke-linejoin="round"/><path d="M44.7,1615.6 L50.7,1615.6 L56.6,1615.6 L62.6,1615.6 L68.5,1615.6 L74.5,1615.6 L80.5,1615.6 L86.4,1615.6 L92.4,1615.6 L98.3,1615.6 L104.3,1615 L110.3,1613.9 L116.2,1611.1 L122.2,1608.7 L128.2,1605.7 L134.1,1603.6 L140.1,1600.9 L146,1603.8 L152,1602.7 L158,1598.6 L163.9,1592.1 L169.9,1588.1 L175.8,1570.6 L181.8,1577.1 L187.8,1578.6 L193.7,1570.7 L199.7,1571 L205.6,1568 L211.6,1576.1 L217.6,1577.4 L223.5,1582.1 L229.5,1585.6 L235.5,1592.1 L241.4,1595.7 L247.4,1599.1 L253.3,1602.4 L259.3,1606 L265.3,1608.1 L271.2,1609.1 L277.2,1610.3 L283.1,1611.8 L289.1,1611.6 L295.1,1610.8 L301,1610.2 L307,1609.8 L312.9,1610.2 L318.9,1610.2 L324.9,1610.7 L330.8,1611.1 L336.8,1611.2 L342.8,1611.4 L348.7,1611.6 L354.7,1612.2 L360.6,1612.4 L366.6,1612.7 L372.6,1613.2 L378.5,1613.5 L384.5,1614.1 L390.4,1614.4 L396.4,1614.9 L402.4,1615.2 L408.3,1615.6 L414.3,1615.6 L420.2,1615.6 L426.2,1615.6 L432.2,1615.6 L438.1,1615.6 L444.1,1615.6 L450.1,1615.6 L456,1615.6 L462,1615.6 L467.9,1615.6 L473.9,1615.6 L479.9,1615.6 L485.8,1615.6 L491.8,1615.6 L497.7,1615.6 L503.7,1615.6 L509.7,1615.6 L515.6,1615.6 L521.6,1615.6 L527.5,1615.6 L533.5,1615.6 L539.5,1615.6 L545.4,1615.6 L551.4,1615.6 L557.4,1615.6 L563.3,1615.6 L569.3,1615.6 L575.2,1615.6 L581.2,1615.6 L587.2,1615.6 L593.1,1615.6 L599.1,1615.6 L605,1615.6 L611,1615.6 L611,1615.6 L44.7,1615.6 Z" fill="#e377c2" fill-opacity="0.5" stroke="#fff" stroke-width="1.6" stroke-linejoin="round" stroke-opacity="0.95"/></g>
<rect x="500.2" y="1570.8" width="102" height="31" rx="4" fill="#fff" fill-opacity="0.8" stroke="#d6d6d6" stroke-width="1"/>
<rect x="506.8" y="1579.5" width="36" height="12.4" fill="#f1bbe0" stroke="#e377c2" stroke-opacity="0.5" stroke-width="1"/>
<text x="556.5" y="1591" font-family="'DejaVu Sans', 'Liberation Sans', sans-serif" font-size="17.5">0.87</text>
<g clip-path="url(#c6_5)"><use href="#r6" transform="translate(0,270.4)" fill="#7f7f7f" stroke="#000" stroke-width="1.6" stroke-linejoin="round"/><path d="M44.7,1669.7 L50.7,1669.7 L56.6,1669.7 L62.6,1669.7 L68.5,1669.7 L74.5,1669.7 L80.5,1669.7 L86.4,1669.7 L92.4,1669.7 L98.3,1669.7 L104.3,1669.7 L110.3,1669.7 L116.2,1668.9 L122.2,1668 L128.2,1667.2 L134.1,1666.4 L140.1,1665.7 L146,1664.3 L152,1663.2 L158,1660.3 L163.9,1655.3 L169.9,1651.6 L175.8,1646.7 L181.8,1650.9 L187.8,1650 L193.7,1646.4 L199.7,1643.5 L205.6,1641.2 L211.6,1644.9 L217.6,1642.9 L223.5,1640.7 L229.5,1643.5 L235.5,1644.6 L241.4,1644.9 L247.4,1645.1 L253.3,1646.1 L259.3,1646.6 L265.3,1645 L271.2,1646 L277.2,1652.1 L283.1,1653.9 L289.1,1653.6 L295.1,1653.2 L301,1653.8 L307,1654.8 L312.9,1656.7 L318.9,1658.3 L324.9,1659 L330.8,1659.5 L336.8,1660.4 L342.8,1662.1 L348.7,1662.8 L354.7,1663.7 L360.6,1664.3 L366.6,1664.3 L372.6,1664.9 L378.5,1665.4 L384.5,1665.6 L390.4,1666.3 L396.4,1666.5 L402.4,1666.8 L408.3,1667.2 L414.3,1667.6 L420.2,1668 L426.2,1668.3 L432.2,1668.6 L438.1,1668.8 L444.1,1669.1 L450.1,1669.3 L456,1669.5 L462,1669.7 L467.9,1669.7 L473.9,1669.7 L479.9,1669.7 L485.8,1669.7 L491.8,1669.7 L497.7,1669.7 L503.7,1669.7 L509.7,1669.7 L515.6,1669.7 L521.6,1669.7 L527.5,1669.7 L533.5,1669.7 L539.5,1669.7 L545.4,1669.7 L551.4,1669.7 L557.4,1669.7 L563.3,1669.7 L569.3,1669.7 L575.2,1669.7 L581.2,1669.7 L587.2,1669.7 L593.1,1669.7 L599.1,1669.7 L605,1669.7 L611,1669.7 L611,1669.7 L44.7,1669.7 Z" fill="#d62728" fill-opacity="0.5" stroke="#fff" stroke-width="1.6" stroke-linejoin="round" stroke-opacity="0.95"/></g>
<rect x="500.2" y="1624.9" width="102" height="31" rx="4" fill="#fff" fill-opacity="0.8" stroke="#d6d6d6" stroke-width="1"/>
<rect x="506.8" y="1633.6" width="36" height="12.4" fill="#ea9394" stroke="#d62728" stroke-opacity="0.5" stroke-width="1"/>
<text x="556.5" y="1645.1" font-family="'DejaVu Sans', 'Liberation Sans', sans-serif" font-size="17.5">0.61</text>
<g clip-path="url(#c6_6)"><use href="#r6" transform="translate(0,324.4)" fill="#7f7f7f" stroke="#000" stroke-width="1.6" stroke-linejoin="round"/><path d="M44.7,1723.8 L50.7,1723.8 L56.6,1723.8 L62.6,1723.6 L68.5,1723.2 L74.5,1722.8 L80.5,1721.6 L86.4,1720 L92.4,1718.8 L98.3,1717.2 L104.3,1716 L110.3,1714.2 L116.2,1715.9 L122.2,1713.8 L128.2,1705.2 L134.1,1698.3 L140.1,1687.2 L146,1688.1 L152,1686.6 L158,1681.1 L163.9,1680.1 L169.9,1675.7 L175.8,1674.6 L181.8,1679.3 L187.8,1687.6 L193.7,1691.3 L199.7,1696.1 L205.6,1700.2 L211.6,1704.5 L217.6,1706.3 L223.5,1708.9 L229.5,1711.4 L235.5,1714.6 L241.4,1716.4 L247.4,1718.6 L253.3,1720.4 L259.3,1721.2 L265.3,1722 L271.2,1722.7 L277.2,1723.1 L283.1,1723.6 L289.1,1723.8 L295.1,1723.8 L301,1723.8 L307,1723.8 L312.9,1723.8 L318.9,1723.8 L324.9,1723.8 L330.8,1723.8 L336.8,1723.8 L342.8,1723.8 L348.7,1723.8 L354.7,1723.8 L360.6,1723.8 L366.6,1723.8 L372.6,1723.8 L378.5,1723.8 L384.5,1723.8 L390.4,1723.8 L396.4,1723.8 L402.4,1723.8 L408.3,1723.8 L414.3,1723.8 L420.2,1723.8 L426.2,1723.8 L432.2,1723.8 L438.1,1723.8 L444.1,1723.8 L450.1,1723.8 L456,1723.8 L462,1723.8 L467.9,1723.8 L473.9,1723.8 L479.9,1723.8 L485.8,1723.8 L491.8,1723.8 L497.7,1723.8 L503.7,1723.8 L509.7,1723.8 L515.6,1723.8 L521.6,1723.8 L527.5,1723.8 L533.5,1723.8 L539.5,1723.8 L545.4,1723.8 L551.4,1723.8 L557.4,1723.8 L563.3,1723.8 L569.3,1723.8 L575.2,1723.8 L581.2,1723.8 L587.2,1723.8 L593.1,1723.8 L599.1,1723.8 L605,1723.8 L611,1723.8 L611,1723.8 L44.7,1723.8 Z" fill="#ff7f0e" fill-opacity="0.5" stroke="#fff" stroke-width="1.6" stroke-linejoin="round" stroke-opacity="0.95"/></g>
<rect x="500.2" y="1678.9" width="102" height="31" rx="4" fill="#fff" fill-opacity="0.8" stroke="#d6d6d6" stroke-width="1"/>
<rect x="506.8" y="1687.6" width="36" height="12.4" fill="#ffbf86" stroke="#ff7f0e" stroke-opacity="0.5" stroke-width="1"/>
<text x="556.5" y="1699.1" font-family="'DejaVu Sans', 'Liberation Sans', sans-serif" font-size="17.5">0.70</text>
<g clip-path="url(#c6_7)"><use href="#r6" transform="translate(0,378.5)" fill="#7f7f7f" stroke="#000" stroke-width="1.6" stroke-linejoin="round"/><path d="M44.7,1777.9 L50.7,1777.9 L56.6,1777.9 L62.6,1777.7 L68.5,1777.3 L74.5,1776.8 L80.5,1775.6 L86.4,1774.3 L92.4,1773.1 L98.3,1771.7 L104.3,1770.4 L110.3,1769.3 L116.2,1767.6 L122.2,1766.5 L128.2,1765.2 L134.1,1755.6 L140.1,1746.3 L146,1739.1 L152,1738.7 L158,1736.9 L163.9,1735.8 L169.9,1733 L175.8,1727.6 L181.8,1732.2 L187.8,1738.6 L193.7,1742.8 L199.7,1747.3 L205.6,1749.9 L211.6,1752.8 L217.6,1757.7 L223.5,1760.4 L229.5,1763.4 L235.5,1765.2 L241.4,1766.9 L247.4,1769.3 L253.3,1771 L259.3,1772.2 L265.3,1773.1 L271.2,1773.9 L277.2,1774.8 L283.1,1775.9 L289.1,1776.5 L295.1,1777.1 L301,1777.7 L307,1777.9 L312.9,1777.9 L318.9,1777.9 L324.9,1777.9 L330.8,1777.9 L336.8,1777.9 L342.8,1777.9 L348.7,1777.9 L354.7,1777.9 L360.6,1777.9 L366.6,1777.9 L372.6,1777.9 L378.5,1777.9 L384.5,1777.9 L390.4,1777.9 L396.4,1777.9 L402.4,1777.9 L408.3,1777.9 L414.3,1777.9 L420.2,1777.9 L426.2,1777.9 L432.2,1777.9 L438.1,1777.9 L444.1,1777.9 L450.1,1777.9 L456,1777.9 L462,1777.9 L467.9,1777.9 L473.9,1777.9 L479.9,1777.9 L485.8,1777.9 L491.8,1777.9 L497.7,1777.9 L503.7,1777.9 L509.7,1777.9 L515.6,1777.9 L521.6,1777.9 L527.5,1777.9 L533.5,1777.9 L539.5,1777.9 L545.4,1777.9 L551.4,1777.9 L557.4,1777.9 L563.3,1777.9 L569.3,1777.9 L575.2,1777.9 L581.2,1777.9 L587.2,1777.9 L593.1,1777.9 L599.1,1777.9 L605,1777.9 L611,1777.9 L611,1777.9 L44.7,1777.9 Z" fill="#17becf" fill-opacity="0.5" stroke="#fff" stroke-width="1.6" stroke-linejoin="round" stroke-opacity="0.95"/></g>
<rect x="500.2" y="1733" width="102" height="31" rx="4" fill="#fff" fill-opacity="0.8" stroke="#d6d6d6" stroke-width="1"/>
<rect x="506.8" y="1741.7" width="36" height="12.4" fill="#8bdee7" stroke="#17becf" stroke-opacity="0.5" stroke-width="1"/>
<text x="556.5" y="1753.2" font-family="'DejaVu Sans', 'Liberation Sans', sans-serif" font-size="17.5">0.71</text>
<g clip-path="url(#c6_8)"><use href="#r6" transform="translate(0,432.6)" fill="#7f7f7f" stroke="#000" stroke-width="1.6" stroke-linejoin="round"/><path d="M44.7,1831.9 L50.7,1831.9 L56.6,1831.9 L62.6,1831.9 L68.5,1831.9 L74.5,1831.9 L80.5,1831.9 L86.4,1831.9 L92.4,1831.9 L98.3,1831.9 L104.3,1831.9 L110.3,1831.9 L116.2,1831.9 L122.2,1831.9 L128.2,1831.9 L134.1,1831.1 L140.1,1830.4 L146,1829.6 L152,1828.2 L158,1827 L163.9,1825.2 L169.9,1823.8 L175.8,1822.4 L181.8,1820.9 L187.8,1819.1 L193.7,1817.5 L199.7,1816 L205.6,1813.9 L211.6,1813.3 L217.6,1811.7 L223.5,1810.9 L229.5,1807.8 L235.5,1805.8 L241.4,1806.5 L247.4,1807.7 L253.3,1806.4 L259.3,1802.7 L265.3,1799.3 L271.2,1808.4 L277.2,1809.2 L283.1,1810.3 L289.1,1811.2 L295.1,1809.8 L301,1808.2 L307,1808.8 L312.9,1811.9 L318.9,1815.8 L324.9,1815.4 L330.8,1813.5 L336.8,1815.2 L342.8,1817.5 L348.7,1819.9 L354.7,1823 L360.6,1823.6 L366.6,1824.3 L372.6,1824.7 L378.5,1825.5 L384.5,1825.7 L390.4,1826.7 L396.4,1827 L402.4,1827.4 L408.3,1827.6 L414.3,1828.1 L420.2,1828.4 L426.2,1828.5 L432.2,1828.8 L438.1,1829 L444.1,1829.3 L450.1,1829.4 L456,1829.6 L462,1829.8 L467.9,1830.2 L473.9,1830.5 L479.9,1830.9 L485.8,1831.3 L491.8,1831.6 L497.7,1831.9 L503.7,1831.9 L509.7,1831.9 L515.6,1831.9 L521.6,1831.9 L527.5,1831.9 L533.5,1831.9 L539.5,1831.9 L545.4,1831.9 L551.4,1831.9 L557.4,1831.9 L563.3,1831.9 L569.3,1831.9 L575.2,1831.9 L581.2,1831.9 L587.2,1831.9 L593.1,1831.9 L599.1,1831.9 L605,1831.9 L611,1831.9 L611,1831.9 L44.7,1831.9 Z" fill="#7f7f7f" fill-opacity="0.5" stroke="#fff" stroke-width="1.6" stroke-linejoin="round" stroke-opacity="0.95"/></g>
<rect x="500.2" y="1787.1" width="102" height="31" rx="4" fill="#fff" fill-opacity="0.8" stroke="#d6d6d6" stroke-width="1"/>
<rect x="506.8" y="1795.8" width="36" height="12.4" fill="#bfbfbf" stroke="#7f7f7f" stroke-opacity="0.5" stroke-width="1"/>
<text x="556.5" y="1807.3" font-family="'DejaVu Sans', 'Liberation Sans', sans-serif" font-size="17.5">0.38</text>
<g clip-path="url(#c6_9)"><use href="#r6" transform="translate(0,486.6)" fill="#7f7f7f" stroke="#000" stroke-width="1.6" stroke-linejoin="round"/><path d="M44.7,1886 L50.7,1886 L56.6,1886 L62.6,1886 L68.5,1886 L74.5,1886 L80.5,1886 L86.4,1886 L92.4,1886 L98.3,1886 L104.3,1885.5 L110.3,1884.9 L116.2,1883.8 L122.2,1882.9 L128.2,1881.9 L134.1,1880.7 L140.1,1879.6 L146,1878.1 L152,1875.4 L158,1872.8 L163.9,1870.4 L169.9,1867.8 L175.8,1866.4 L181.8,1868.7 L187.8,1868.5 L193.7,1864.4 L199.7,1863.9 L205.6,1860.6 L211.6,1860.5 L217.6,1861.2 L223.5,1860.1 L229.5,1858.4 L235.5,1857.4 L241.4,1858.4 L247.4,1861.5 L253.3,1864.1 L259.3,1863 L265.3,1861.2 L271.2,1862.2 L277.2,1864.9 L283.1,1869 L289.1,1872.2 L295.1,1874.4 L301,1876.7 L307,1878.6 L312.9,1879 L318.9,1879.2 L324.9,1880.1 L330.8,1880.5 L336.8,1881 L342.8,1881.5 L348.7,1881.7 L354.7,1882.2 L360.6,1882.8 L366.6,1883.1 L372.6,1883.4 L378.5,1883.6 L384.5,1884 L390.4,1884.3 L396.4,1884.6 L402.4,1884.9 L408.3,1885.2 L414.3,1885.5 L420.2,1885.7 L426.2,1886 L432.2,1886 L438.1,1886 L444.1,1886 L450.1,1886 L456,1886 L462,1886 L467.9,1886 L473.9,1886 L479.9,1886 L485.8,1886 L491.8,1886 L497.7,1886 L503.7,1886 L509.7,1886 L515.6,1886 L521.6,1886 L527.5,1886 L533.5,1886 L539.5,1886 L545.4,1886 L551.4,1886 L557.4,1886 L563.3,1886 L569.3,1886 L575.2,1886 L581.2,1886 L587.2,1886 L593.1,1886 L599.1,1886 L605,1886 L611,1886 L611,1886 L44.7,1886 Z" fill="#9467bd" fill-opacity="0.5" stroke="#fff" stroke-width="1.6" stroke-linejoin="round" stroke-opacity="0.95"/></g>
<rect x="500.2" y="1841.1" width="102" height="31" rx="4" fill="#fff" fill-opacity="0.8" stroke="#d6d6d6" stroke-width="1"/>
<rect x="506.8" y="1849.8" width="36" height="12.4" fill="#cab3de" stroke="#9467bd" stroke-opacity="0.5" stroke-width="1"/>
<text x="556.5" y="1861.3" font-family="'DejaVu Sans', 'Liberation Sans', sans-serif" font-size="17.5">0.59</text>
<line x1="44.7" y1="1399.4" x2="611" y2="1399.4" stroke="#222" stroke-width="1.5"/>
<line x1="44.7" y1="1453.4" x2="611" y2="1453.4" stroke="#222" stroke-width="1.5"/>
<line x1="44.7" y1="1507.5" x2="611" y2="1507.5" stroke="#222" stroke-width="1.5"/>
<line x1="44.7" y1="1561.6" x2="611" y2="1561.6" stroke="#222" stroke-width="1.5"/>
<line x1="44.7" y1="1615.7" x2="611" y2="1615.7" stroke="#222" stroke-width="1.5"/>
<line x1="44.7" y1="1669.7" x2="611" y2="1669.7" stroke="#222" stroke-width="1.5"/>
<line x1="44.7" y1="1723.8" x2="611" y2="1723.8" stroke="#222" stroke-width="1.5"/>
<line x1="44.7" y1="1777.9" x2="611" y2="1777.9" stroke="#222" stroke-width="1.5"/>
<line x1="44.7" y1="1831.9" x2="611" y2="1831.9" stroke="#222" stroke-width="1.5"/>
<rect x="44.7" y="1345.3" width="566.3" height="540.7" fill="none" stroke="#222" stroke-width="1.3"/>
<line x1="102.1" y1="1886" x2="102.1" y2="1889.5" stroke="#222" stroke-width="1"/>
<text x="102.1" y="1905.6" text-anchor="middle" font-family="'DejaVu Sans', 'Liberation Sans', sans-serif" font-size="17.2">1.0</text>
<line x1="169.1" y1="1886" x2="169.1" y2="1889.5" stroke="#222" stroke-width="1"/>
<text x="169.1" y="1905.6" text-anchor="middle" font-family="'DejaVu Sans', 'Liberation Sans', sans-serif" font-size="17.2">1.1</text>
<line x1="236.1" y1="1886" x2="236.1" y2="1889.5" stroke="#222" stroke-width="1"/>
<text x="236.1" y="1905.6" text-anchor="middle" font-family="'DejaVu Sans', 'Liberation Sans', sans-serif" font-size="17.2">1.2</text>
<line x1="303.1" y1="1886" x2="303.1" y2="1889.5" stroke="#222" stroke-width="1"/>
<text x="303.1" y="1905.6" text-anchor="middle" font-family="'DejaVu Sans', 'Liberation Sans', sans-serif" font-size="17.2">1.3</text>
<line x1="370.1" y1="1886" x2="370.1" y2="1889.5" stroke="#222" stroke-width="1"/>
<text x="370.1" y="1905.6" text-anchor="middle" font-family="'DejaVu Sans', 'Liberation Sans', sans-serif" font-size="17.2">1.4</text>
<line x1="437.1" y1="1886" x2="437.1" y2="1889.5" stroke="#222" stroke-width="1"/>
<text x="437.1" y="1905.6" text-anchor="middle" font-family="'DejaVu Sans', 'Liberation Sans', sans-serif" font-size="17.2">1.5</text>
<line x1="504.1" y1="1886" x2="504.1" y2="1889.5" stroke="#222" stroke-width="1"/>
<text x="504.1" y="1905.6" text-anchor="middle" font-family="'DejaVu Sans', 'Liberation Sans', sans-serif" font-size="17.2">1.6</text>
<line x1="571.1" y1="1886" x2="571.1" y2="1889.5" stroke="#222" stroke-width="1"/>
<text x="571.1" y="1905.6" text-anchor="middle" font-family="'DejaVu Sans', 'Liberation Sans', sans-serif" font-size="17.2">1.7</text>
<line x1="41.2" y1="1886" x2="44.7" y2="1886" stroke="#222" stroke-width="1"/>
<text x="38.1" y="1892.9" text-anchor="end" font-family="'DejaVu Sans', 'Liberation Sans', sans-serif" font-size="17.2">0</text>
<line x1="41.2" y1="1852.2" x2="44.7" y2="1852.2" stroke="#222" stroke-width="1"/>
<text x="38.1" y="1859.1" text-anchor="end" font-family="'DejaVu Sans', 'Liberation Sans', sans-serif" font-size="17.2">5</text>
<text x="604" y="1931.9" text-anchor="end" font-family="'Liberation Sans', Arial, sans-serif" font-size="22">[μm]</text>
<text x="319.4" y="1328.4" text-anchor="middle" font-family="'Liberation Sans', Arial, sans-serif" font-weight="bold" font-size="33.5">MinFeret</text>
<clipPath id="c7_0"><rect x="662.7" y="1345.3" width="555.9" height="54"/></clipPath>
<clipPath id="c7_1"><rect x="662.7" y="1399.3" width="555.9" height="54"/></clipPath>
<clipPath id="c7_2"><rect x="662.7" y="1453.4" width="555.9" height="54"/></clipPath>
<clipPath id="c7_3"><rect x="662.7" y="1507.4" width="555.9" height="54"/></clipPath>
<clipPath id="c7_4"><rect x="662.7" y="1561.5" width="555.9" height="54"/></clipPath>
<clipPath id="c7_5"><rect x="662.7" y="1615.5" width="555.9" height="54"/></clipPath>
<clipPath id="c7_6"><rect x="662.7" y="1669.5" width="555.9" height="54"/></clipPath>
<clipPath id="c7_7"><rect x="662.7" y="1723.6" width="555.9" height="54"/></clipPath>
<clipPath id="c7_8"><rect x="662.7" y="1777.6" width="555.9" height="54"/></clipPath>
<clipPath id="c7_9"><rect x="662.7" y="1831.7" width="555.9" height="54"/></clipPath>
<defs><path id="r7" d="M662.7,1399.3 L668.7,1399.2 L674.7,1399.2 L680.6,1399.1 L686.6,1399 L692.6,1398.8 L698.6,1398.5 L704.5,1398.1 L710.5,1397.6 L716.5,1396.9 L722.5,1395.9 L728.5,1395.1 L734.4,1393.7 L740.4,1391.9 L746.4,1389.6 L752.4,1387.8 L758.3,1384.8 L764.3,1381.7 L770.3,1378.9 L776.3,1376.2 L782.2,1371.5 L788.2,1367.1 L794.2,1365.4 L800.2,1361.3 L806.2,1359.2 L812.1,1357.3 L818.1,1355.4 L824.1,1357.1 L830.1,1356.4 L836,1355.5 L842,1357.4 L848,1355.1 L854,1355.1 L860,1356.8 L865.9,1356.2 L871.9,1358.4 L877.9,1359.3 L883.9,1360.1 L889.8,1360.5 L895.8,1364.3 L901.8,1366.1 L907.8,1366.3 L913.8,1368 L919.7,1369.6 L925.7,1369.9 L931.7,1371.7 L937.7,1372 L943.6,1372.3 L949.6,1375.3 L955.6,1374.9 L961.6,1376.5 L967.5,1377.4 L973.5,1378.7 L979.5,1379.6 L985.5,1380.8 L991.5,1381.4 L997.4,1382 L1003.4,1383.6 L1009.4,1384.8 L1015.4,1384.9 L1021.3,1385.8 L1027.3,1386.2 L1033.3,1386.9 L1039.3,1387.6 L1045.3,1388.1 L1051.2,1389 L1057.2,1389.4 L1063.2,1390 L1069.2,1390.3 L1075.1,1391 L1081.1,1391.8 L1087.1,1391.7 L1093.1,1392.7 L1099.1,1392.7 L1105,1393.2 L1111,1393.5 L1117,1393.9 L1123,1394.3 L1128.9,1394.7 L1134.9,1395.1 L1140.9,1395.2 L1146.9,1395.5 L1152.8,1395.6 L1158.8,1395.9 L1164.8,1396 L1170.8,1396.3 L1176.8,1396.5 L1182.7,1396.6 L1188.7,1396.7 L1194.7,1397.1 L1200.7,1397.1 L1206.6,1397.4 L1212.6,1397.4 L1218.6,1397.5 L1218.6,1399.3 L662.7,1399.3 Z"/></defs>
<g clip-path="url(#c7_0)"><use href="#r7" transform="translate(0,0)" fill="#7f7f7f" stroke="#000" stroke-width="1.6" stroke-linejoin="round"/><path d="M662.7,1395.9 L668.7,1394.8 L674.7,1393.6 L680.6,1391.9 L686.6,1390.6 L692.6,1388.3 L698.6,1385.9 L704.5,1383.6 L710.5,1380.2 L716.5,1378.5 L722.5,1374.9 L728.5,1371.1 L734.4,1368.4 L740.4,1366.5 L746.4,1364.6 L752.4,1361.1 L758.3,1359 L764.3,1361.2 L770.3,1359.9 L776.3,1360.9 L782.2,1359.4 L788.2,1358.5 L794.2,1358.6 L800.2,1360.1 L806.2,1359.8 L812.1,1360.2 L818.1,1360.3 L824.1,1360.3 L830.1,1362.8 L836,1364.2 L842,1364.4 L848,1365.7 L854,1367.1 L860,1367.8 L865.9,1370.4 L871.9,1370.2 L877.9,1371.8 L883.9,1373.1 L889.8,1373.3 L895.8,1374.9 L901.8,1375 L907.8,1377.5 L913.8,1378 L919.7,1379.3 L925.7,1380.3 L931.7,1380.4 L937.7,1381.2 L943.6,1382.9 L949.6,1383.3 L955.6,1383.9 L961.6,1384.5 L967.5,1385.9 L973.5,1386.1 L979.5,1386.9 L985.5,1387.8 L991.5,1388.6 L997.4,1389.1 L1003.4,1389.8 L1009.4,1390.5 L1015.4,1390.6 L1021.3,1391.1 L1027.3,1391.4 L1033.3,1391.7 L1039.3,1392.6 L1045.3,1392.5 L1051.2,1393.1 L1057.2,1393.6 L1063.2,1394 L1069.2,1394.3 L1075.1,1394.7 L1081.1,1394.9 L1087.1,1395 L1093.1,1395.4 L1099.1,1395.6 L1105,1395.8 L1111,1396.3 L1117,1396.1 L1123,1396.4 L1128.9,1396.5 L1134.9,1396.8 L1140.9,1397 L1146.9,1397.3 L1152.8,1397.4 L1158.8,1397.5 L1164.8,1397.6 L1170.8,1397.7 L1176.8,1397.8 L1182.7,1397.9 L1188.7,1397.9 L1194.7,1398.2 L1200.7,1398.2 L1206.6,1398.3 L1212.6,1398.3 L1218.6,1398.4 L1218.6,1399.3 L662.7,1399.3 Z" fill="#8c564b" fill-opacity="0.5" stroke="#fff" stroke-width="1.6" stroke-linejoin="round" stroke-opacity="0.95"/></g>
<rect x="1107.8" y="1354.5" width="102" height="31" rx="4" fill="#fff" fill-opacity="0.8" stroke="#d6d6d6" stroke-width="1"/>
<rect x="1114.4" y="1363.2" width="36" height="12.4" fill="#c6aaa5" stroke="#8c564b" stroke-opacity="0.5" stroke-width="1"/>
<text x="1164.1" y="1374.7" font-family="'DejaVu Sans', 'Liberation Sans', sans-serif" font-size="17.5">0.73</text>
<g clip-path="url(#c7_1)"><use href="#r7" transform="translate(0,54)" fill="#7f7f7f" stroke="#000" stroke-width="1.6" stroke-linejoin="round"/><path d="M662.7,1452.6 L668.7,1452 L674.7,1451.2 L680.6,1450.2 L686.6,1448.7 L692.6,1446.7 L698.6,1444.2 L704.5,1440.7 L710.5,1436.7 L716.5,1433.1 L722.5,1428.4 L728.5,1423.1 L734.4,1418.3 L740.4,1412.6 L746.4,1410.3 L752.4,1403.8 L758.3,1402.7 L764.3,1402.8 L770.3,1403.2 L776.3,1403.4 L782.2,1402.5 L788.2,1401.1 L794.2,1401.9 L800.2,1401.5 L806.2,1404.3 L812.1,1404.4 L818.1,1406.4 L824.1,1410.3 L830.1,1411.3 L836,1415.3 L842,1416.5 L848,1417.9 L854,1420.7 L860,1422.4 L865.9,1423.3 L871.9,1425.8 L877.9,1426.5 L883.9,1428.4 L889.8,1428.5 L895.8,1430.7 L901.8,1432.3 L907.8,1432.8 L913.8,1434.3 L919.7,1435.6 L925.7,1436.8 L931.7,1438 L937.7,1438.1 L943.6,1439.1 L949.6,1440.8 L955.6,1441.1 L961.6,1441.8 L967.5,1442.2 L973.5,1443.4 L979.5,1443.7 L985.5,1444.3 L991.5,1445.2 L997.4,1445.5 L1003.4,1446 L1009.4,1446.5 L1015.4,1447.1 L1021.3,1447.5 L1027.3,1447.9 L1033.3,1448.2 L1039.3,1448.3 L1045.3,1448.6 L1051.2,1449.2 L1057.2,1449.2 L1063.2,1449.5 L1069.2,1450 L1075.1,1450.2 L1081.1,1450.2 L1087.1,1450.5 L1093.1,1450.5 L1099.1,1450.9 L1105,1450.9 L1111,1451.2 L1117,1451.2 L1123,1451.3 L1128.9,1451.5 L1134.9,1451.5 L1140.9,1451.8 L1146.9,1451.9 L1152.8,1452 L1158.8,1452.1 L1164.8,1452.1 L1170.8,1452.3 L1176.8,1452.2 L1182.7,1452.3 L1188.7,1452.4 L1194.7,1452.5 L1200.7,1452.6 L1206.6,1452.7 L1212.6,1452.6 L1218.6,1452.7 L1218.6,1453.4 L662.7,1453.4 Z" fill="#2ca02c" fill-opacity="0.5" stroke="#fff" stroke-width="1.6" stroke-linejoin="round" stroke-opacity="0.95"/></g>
<rect x="1107.8" y="1408.5" width="102" height="31" rx="4" fill="#fff" fill-opacity="0.8" stroke="#d6d6d6" stroke-width="1"/>
<rect x="1114.4" y="1417.2" width="36" height="12.4" fill="#96d096" stroke="#2ca02c" stroke-opacity="0.5" stroke-width="1"/>
<text x="1164.1" y="1428.7" font-family="'DejaVu Sans', 'Liberation Sans', sans-serif" font-size="17.5">0.66</text>
<g clip-path="url(#c7_2)"><use href="#r7" transform="translate(0,108.1)" fill="#7f7f7f" stroke="#000" stroke-width="1.6" stroke-linejoin="round"/><path d="M662.7,1507 L668.7,1506.9 L674.7,1506.6 L680.6,1506.4 L686.6,1505.9 L692.6,1505.6 L698.6,1504.9 L704.5,1504 L710.5,1503.2 L716.5,1502.2 L722.5,1500.6 L728.5,1499.2 L734.4,1497.2 L740.4,1495.1 L746.4,1492.9 L752.4,1490.5 L758.3,1488.2 L764.3,1485.6 L770.3,1481.9 L776.3,1478.8 L782.2,1477.6 L788.2,1474.5 L794.2,1471.7 L800.2,1470.2 L806.2,1468.3 L812.1,1467.8 L818.1,1467 L824.1,1466.9 L830.1,1467 L836,1467.9 L842,1467.7 L848,1466.6 L854,1468.5 L860,1467.1 L865.9,1467.1 L871.9,1469 L877.9,1468.5 L883.9,1471.3 L889.8,1472.1 L895.8,1472.7 L901.8,1474.1 L907.8,1474.8 L913.8,1476.4 L919.7,1477.1 L925.7,1478.8 L931.7,1479.1 L937.7,1479.6 L943.6,1480.4 L949.6,1483.1 L955.6,1483.9 L961.6,1485.2 L967.5,1484.8 L973.5,1485.8 L979.5,1487 L985.5,1488.2 L991.5,1489.6 L997.4,1490.1 L1003.4,1491.5 L1009.4,1491.5 L1015.4,1492.7 L1021.3,1493.4 L1027.3,1493.8 L1033.3,1494.2 L1039.3,1495.4 L1045.3,1495.5 L1051.2,1497 L1057.2,1496.8 L1063.2,1497.7 L1069.2,1498.1 L1075.1,1498.5 L1081.1,1499.3 L1087.1,1499.8 L1093.1,1500.2 L1099.1,1500.5 L1105,1500.7 L1111,1501.4 L1117,1501.5 L1123,1501.8 L1128.9,1502.1 L1134.9,1502.8 L1140.9,1503 L1146.9,1503.4 L1152.8,1503.4 L1158.8,1503.5 L1164.8,1503.9 L1170.8,1504.2 L1176.8,1504.3 L1182.7,1504.5 L1188.7,1504.8 L1194.7,1504.9 L1200.7,1505 L1206.6,1505.2 L1212.6,1505.3 L1218.6,1505.6 L1218.6,1507.4 L662.7,1507.4 Z" fill="#1f77b4" fill-opacity="0.5" stroke="#fff" stroke-width="1.6" stroke-linejoin="round" stroke-opacity="0.95"/></g>
<rect x="1107.8" y="1462.6" width="102" height="31" rx="4" fill="#fff" fill-opacity="0.8" stroke="#d6d6d6" stroke-width="1"/>
<rect x="1114.4" y="1471.3" width="36" height="12.4" fill="#8fbbda" stroke="#1f77b4" stroke-opacity="0.5" stroke-width="1"/>
<text x="1164.1" y="1482.8" font-family="'DejaVu Sans', 'Liberation Sans', sans-serif" font-size="17.5">0.92</text>
<g clip-path="url(#c7_3)"><use href="#r7" transform="translate(0,162.1)" fill="#7f7f7f" stroke="#000" stroke-width="1.6" stroke-linejoin="round"/><path d="M662.7,1560.6 L668.7,1560.2 L674.7,1559.4 L680.6,1558.6 L686.6,1557.5 L692.6,1556.1 L698.6,1554.2 L704.5,1551.7 L710.5,1549.1 L716.5,1546.6 L722.5,1543.6 L728.5,1540.4 L734.4,1536.4 L740.4,1533.1 L746.4,1530.4 L752.4,1525.9 L758.3,1524.5 L764.3,1522.1 L770.3,1524 L776.3,1522.1 L782.2,1521.1 L788.2,1523.5 L794.2,1521.2 L800.2,1522.4 L806.2,1522 L812.1,1521.6 L818.1,1523.9 L824.1,1523.2 L830.1,1522.7 L836,1521.8 L842,1522.7 L848,1523.2 L854,1522.2 L860,1523.2 L865.9,1523.3 L871.9,1522.3 L877.9,1522.6 L883.9,1524.9 L889.8,1525.8 L895.8,1528 L901.8,1528.5 L907.8,1529.3 L913.8,1529.2 L919.7,1532 L925.7,1533.4 L931.7,1534.4 L937.7,1534.7 L943.6,1535 L949.6,1536.9 L955.6,1537.8 L961.6,1539 L967.5,1540.6 L973.5,1540.4 L979.5,1542.1 L985.5,1542.8 L991.5,1542.9 L997.4,1545 L1003.4,1545.2 L1009.4,1546.7 L1015.4,1547.6 L1021.3,1547.5 L1027.3,1547.7 L1033.3,1549.1 L1039.3,1549.5 L1045.3,1549.7 L1051.2,1550.4 L1057.2,1551.3 L1063.2,1552 L1069.2,1552.4 L1075.1,1552.6 L1081.1,1553.6 L1087.1,1553.8 L1093.1,1554.3 L1099.1,1554.6 L1105,1555.2 L1111,1555.2 L1117,1555.4 L1123,1556.1 L1128.9,1556.5 L1134.9,1556.9 L1140.9,1557.1 L1146.9,1557 L1152.8,1557.4 L1158.8,1557.6 L1164.8,1557.8 L1170.8,1558.1 L1176.8,1558.2 L1182.7,1558.5 L1188.7,1558.7 L1194.7,1559 L1200.7,1559 L1206.6,1559.1 L1212.6,1559.4 L1218.6,1559.4 L1218.6,1561.5 L662.7,1561.5 Z" fill="#bcbd22" fill-opacity="0.5" stroke="#fff" stroke-width="1.6" stroke-linejoin="round" stroke-opacity="0.95"/></g>
<rect x="1107.8" y="1516.6" width="102" height="31" rx="4" fill="#fff" fill-opacity="0.8" stroke="#d6d6d6" stroke-width="1"/>
<rect x="1114.4" y="1525.3" width="36" height="12.4" fill="#dede90" stroke="#bcbd22" stroke-opacity="0.5" stroke-width="1"/>
<text x="1164.1" y="1536.8" font-family="'DejaVu Sans', 'Liberation Sans', sans-serif" font-size="17.5">0.85</text>
<g clip-path="url(#c7_4)"><use href="#r7" transform="translate(0,216.2)" fill="#7f7f7f" stroke="#000" stroke-width="1.6" stroke-linejoin="round"/><path d="M662.7,1615.3 L668.7,1615.2 L674.7,1615 L680.6,1614.8 L686.6,1614.4 L692.6,1613.8 L698.6,1612.9 L704.5,1612 L710.5,1610.6 L716.5,1608.9 L722.5,1606.8 L728.5,1603.9 L734.4,1601.4 L740.4,1598.4 L746.4,1593.9 L752.4,1589.2 L758.3,1585.1 L764.3,1582.8 L770.3,1578.5 L776.3,1573.9 L782.2,1572.1 L788.2,1569.8 L794.2,1569 L800.2,1569.5 L806.2,1569.4 L812.1,1571.5 L818.1,1570 L824.1,1571.8 L830.1,1569.2 L836,1569.7 L842,1570 L848,1571.1 L854,1571.9 L860,1574.4 L865.9,1576.6 L871.9,1577.4 L877.9,1576.9 L883.9,1579.6 L889.8,1581.5 L895.8,1583 L901.8,1582.3 L907.8,1585.9 L913.8,1585.2 L919.7,1587.8 L925.7,1589.3 L931.7,1590.1 L937.7,1591.3 L943.6,1592.4 L949.6,1593.7 L955.6,1594.9 L961.6,1595 L967.5,1597.1 L973.5,1597.6 L979.5,1598.2 L985.5,1599 L991.5,1600.3 L997.4,1600.4 L1003.4,1601.9 L1009.4,1602.4 L1015.4,1602.8 L1021.3,1603.5 L1027.3,1604.9 L1033.3,1604.8 L1039.3,1605.5 L1045.3,1606.2 L1051.2,1606.9 L1057.2,1607.5 L1063.2,1607.9 L1069.2,1608.4 L1075.1,1608.3 L1081.1,1608.9 L1087.1,1609.7 L1093.1,1610.1 L1099.1,1610.5 L1105,1610.4 L1111,1611 L1117,1611 L1123,1611.4 L1128.9,1611.8 L1134.9,1612 L1140.9,1612.1 L1146.9,1612.4 L1152.8,1612.4 L1158.8,1612.9 L1164.8,1613 L1170.8,1613.1 L1176.8,1613.3 L1182.7,1613.5 L1188.7,1613.5 L1194.7,1613.6 L1200.7,1613.8 L1206.6,1614 L1212.6,1614.1 L1218.6,1614 L1218.6,1615.5 L662.7,1615.5 Z" fill="#e377c2" fill-opacity="0.5" stroke="#fff" stroke-width="1.6" stroke-linejoin="round" stroke-opacity="0.95"/></g>
<rect x="1107.8" y="1570.7" width="102" height="31" rx="4" fill="#fff" fill-opacity="0.8" stroke="#d6d6d6" stroke-width="1"/>
<rect x="1114.4" y="1579.4" width="36" height="12.4" fill="#f1bbe0" stroke="#e377c2" stroke-opacity="0.5" stroke-width="1"/>
<text x="1164.1" y="1590.9" font-family="'DejaVu Sans', 'Liberation Sans', sans-serif" font-size="17.5">0.86</text>
<g clip-path="url(#c7_5)"><use href="#r7" transform="translate(0,270.2)" fill="#7f7f7f" stroke="#000" stroke-width="1.6" stroke-linejoin="round"/><path d="M662.7,1669.4 L668.7,1669.2 L674.7,1669 L680.6,1668.5 L686.6,1667.8 L692.6,1666.8 L698.6,1665.2 L704.5,1662.7 L710.5,1660.3 L716.5,1656.9 L722.5,1652.2 L728.5,1647.2 L734.4,1641.1 L740.4,1634.5 L746.4,1629.4 L752.4,1624.9 L758.3,1622.7 L764.3,1618.6 L770.3,1619.2 L776.3,1618.7 L782.2,1621.4 L788.2,1618.8 L794.2,1618.9 L800.2,1620.2 L806.2,1618.4 L812.1,1619.6 L818.1,1621.4 L824.1,1624.7 L830.1,1625.8 L836,1628.6 L842,1630.9 L848,1632.9 L854,1633.3 L860,1634.9 L865.9,1637.6 L871.9,1639.1 L877.9,1641.9 L883.9,1642.9 L889.8,1643.8 L895.8,1645.5 L901.8,1647.6 L907.8,1648.3 L913.8,1650.1 L919.7,1650.7 L925.7,1651.9 L931.7,1653.6 L937.7,1654.7 L943.6,1654.8 L949.6,1656.5 L955.6,1657.6 L961.6,1658.1 L967.5,1658.5 L973.5,1659.4 L979.5,1660.1 L985.5,1660.9 L991.5,1661.4 L997.4,1661.9 L1003.4,1662.3 L1009.4,1663.1 L1015.4,1663.5 L1021.3,1663.8 L1027.3,1664.6 L1033.3,1664.9 L1039.3,1665.2 L1045.3,1665.3 L1051.2,1665.5 L1057.2,1665.9 L1063.2,1666.3 L1069.2,1666.5 L1075.1,1666.7 L1081.1,1666.8 L1087.1,1667.1 L1093.1,1667.2 L1099.1,1667.4 L1105,1667.6 L1111,1667.7 L1117,1667.9 L1123,1668.1 L1128.9,1668.1 L1134.9,1668.2 L1140.9,1668.3 L1146.9,1668.4 L1152.8,1668.5 L1158.8,1668.6 L1164.8,1668.6 L1170.8,1668.7 L1176.8,1668.7 L1182.7,1668.9 L1188.7,1668.9 L1194.7,1669 L1200.7,1669 L1206.6,1669.1 L1212.6,1669.1 L1218.6,1669.1 L1218.6,1669.5 L662.7,1669.5 Z" fill="#d62728" fill-opacity="0.5" stroke="#fff" stroke-width="1.6" stroke-linejoin="round" stroke-opacity="0.95"/></g>
<rect x="1107.8" y="1624.7" width="102" height="31" rx="4" fill="#fff" fill-opacity="0.8" stroke="#d6d6d6" stroke-width="1"/>
<rect x="1114.4" y="1633.4" width="36" height="12.4" fill="#ea9394" stroke="#d62728" stroke-opacity="0.5" stroke-width="1"/>
<text x="1164.1" y="1644.9" font-family="'DejaVu Sans', 'Liberation Sans', sans-serif" font-size="17.5">0.69</text>
<g clip-path="url(#c7_6)"><use href="#r7" transform="translate(0,324.2)" fill="#7f7f7f" stroke="#000" stroke-width="1.6" stroke-linejoin="round"/><path d="M662.7,1723.5 L668.7,1723.5 L674.7,1723.5 L680.6,1723.4 L686.6,1723.3 L692.6,1723.1 L698.6,1723 L704.5,1722.6 L710.5,1722.2 L716.5,1721.6 L722.5,1720.8 L728.5,1719.8 L734.4,1718.7 L740.4,1717.3 L746.4,1715.4 L752.4,1713.2 L758.3,1710.4 L764.3,1707.6 L770.3,1704.2 L776.3,1700.9 L782.2,1696.8 L788.2,1694.3 L794.2,1691.7 L800.2,1688.9 L806.2,1685 L812.1,1683.7 L818.1,1682.8 L824.1,1681.8 L830.1,1681.9 L836,1683.3 L842,1683.8 L848,1682.8 L854,1683.6 L860,1683.1 L865.9,1682.8 L871.9,1684 L877.9,1686.2 L883.9,1686.6 L889.8,1689.2 L895.8,1689.2 L901.8,1689.5 L907.8,1691.3 L913.8,1693.3 L919.7,1694.1 L925.7,1695.6 L931.7,1696.4 L937.7,1697.9 L943.6,1697.7 L949.6,1699.2 L955.6,1701.1 L961.6,1701.2 L967.5,1703.2 L973.5,1703.1 L979.5,1703.8 L985.5,1705 L991.5,1706 L997.4,1707.1 L1003.4,1708.2 L1009.4,1708.6 L1015.4,1709.9 L1021.3,1710.3 L1027.3,1710.5 L1033.3,1711.3 L1039.3,1712.3 L1045.3,1712.7 L1051.2,1713.2 L1057.2,1713.5 L1063.2,1714 L1069.2,1715.3 L1075.1,1715 L1081.1,1715.7 L1087.1,1716 L1093.1,1716.2 L1099.1,1717.2 L1105,1717.4 L1111,1717.9 L1117,1718.4 L1123,1718.5 L1128.9,1718.8 L1134.9,1718.9 L1140.9,1719.1 L1146.9,1719.4 L1152.8,1719.8 L1158.8,1719.8 L1164.8,1720.2 L1170.8,1720.3 L1176.8,1720.6 L1182.7,1720.8 L1188.7,1721.1 L1194.7,1721.2 L1200.7,1721.4 L1206.6,1721.5 L1212.6,1721.6 L1218.6,1721.8 L1218.6,1723.6 L662.7,1723.6 Z" fill="#ff7f0e" fill-opacity="0.5" stroke="#fff" stroke-width="1.6" stroke-linejoin="round" stroke-opacity="0.95"/></g>
<rect x="1107.8" y="1678.7" width="102" height="31" rx="4" fill="#fff" fill-opacity="0.8" stroke="#d6d6d6" stroke-width="1"/>
<rect x="1114.4" y="1687.4" width="36" height="12.4" fill="#ffbf86" stroke="#ff7f0e" stroke-opacity="0.5" stroke-width="1"/>
<text x="1164.1" y="1698.9" font-family="'DejaVu Sans', 'Liberation Sans', sans-serif" font-size="17.5">0.95</text>
<g clip-path="url(#c7_7)"><use href="#r7" transform="translate(0,378.3)" fill="#7f7f7f" stroke="#000" stroke-width="1.6" stroke-linejoin="round"/><path d="M662.7,1777.6 L668.7,1777.5 L674.7,1777.5 L680.6,1777.4 L686.6,1777.3 L692.6,1777.2 L698.6,1777 L704.5,1776.6 L710.5,1776.3 L716.5,1775.5 L722.5,1774.8 L728.5,1773.8 L734.4,1772.8 L740.4,1771.3 L746.4,1769 L752.4,1767.3 L758.3,1764.8 L764.3,1761 L770.3,1759.3 L776.3,1754.7 L782.2,1752.9 L788.2,1749.2 L794.2,1745.2 L800.2,1742.7 L806.2,1740.4 L812.1,1738.9 L818.1,1737.2 L824.1,1735.3 L830.1,1737.9 L836,1735.9 L842,1734.7 L848,1737.5 L854,1738 L860,1738.4 L865.9,1739.2 L871.9,1739.8 L877.9,1739.1 L883.9,1742.4 L889.8,1742.3 L895.8,1742.5 L901.8,1743.8 L907.8,1744.9 L913.8,1747.4 L919.7,1747.5 L925.7,1749.2 L931.7,1750.9 L937.7,1751.8 L943.6,1752.7 L949.6,1754.6 L955.6,1755.3 L961.6,1756.8 L967.5,1756.2 L973.5,1757.2 L979.5,1758 L985.5,1759.4 L991.5,1759.5 L997.4,1760.8 L1003.4,1762.5 L1009.4,1762.6 L1015.4,1763.9 L1021.3,1764.3 L1027.3,1764.8 L1033.3,1766 L1039.3,1766.2 L1045.3,1767 L1051.2,1767.3 L1057.2,1767.7 L1063.2,1768.6 L1069.2,1769.2 L1075.1,1769.6 L1081.1,1769.6 L1087.1,1770 L1093.1,1770.8 L1099.1,1771 L1105,1771.5 L1111,1771.8 L1117,1772.4 L1123,1772.3 L1128.9,1772.6 L1134.9,1773.1 L1140.9,1773.4 L1146.9,1773.5 L1152.8,1773.8 L1158.8,1774 L1164.8,1774.1 L1170.8,1774.6 L1176.8,1774.7 L1182.7,1774.8 L1188.7,1775.1 L1194.7,1775.4 L1200.7,1775.4 L1206.6,1775.6 L1212.6,1775.6 L1218.6,1775.8 L1218.6,1777.6 L662.7,1777.6 Z" fill="#17becf" fill-opacity="0.5" stroke="#fff" stroke-width="1.6" stroke-linejoin="round" stroke-opacity="0.95"/></g>
<rect x="1107.8" y="1732.8" width="102" height="31" rx="4" fill="#fff" fill-opacity="0.8" stroke="#d6d6d6" stroke-width="1"/>
<rect x="1114.4" y="1741.5" width="36" height="12.4" fill="#8bdee7" stroke="#17becf" stroke-opacity="0.5" stroke-width="1"/>
<text x="1164.1" y="1753" font-family="'DejaVu Sans', 'Liberation Sans', sans-serif" font-size="17.5">0.95</text>
<g clip-path="url(#c7_8)"><use href="#r7" transform="translate(0,432.3)" fill="#7f7f7f" stroke="#000" stroke-width="1.6" stroke-linejoin="round"/><path d="M662.7,1829.2 L668.7,1827.5 L674.7,1825.2 L680.6,1821.3 L686.6,1816.9 L692.6,1811.3 L698.6,1804.7 L704.5,1799.2 L710.5,1794.4 L716.5,1788.3 L722.5,1786.5 L728.5,1787.3 L734.4,1786.3 L740.4,1784.9 L746.4,1786.5 L752.4,1786.3 L758.3,1785.2 L764.3,1785.4 L770.3,1788.1 L776.3,1786.2 L782.2,1784.9 L788.2,1786.3 L794.2,1785.7 L800.2,1787.3 L806.2,1790.3 L812.1,1790.9 L818.1,1792.5 L824.1,1793.6 L830.1,1796.7 L836,1797.4 L842,1798.1 L848,1799.5 L854,1801.7 L860,1802.1 L865.9,1804.8 L871.9,1804.9 L877.9,1806.9 L883.9,1807.5 L889.8,1809.9 L895.8,1809.7 L901.8,1810.2 L907.8,1812.1 L913.8,1813.5 L919.7,1813.6 L925.7,1814.7 L931.7,1816 L937.7,1816.4 L943.6,1817.6 L949.6,1818.1 L955.6,1818.6 L961.6,1819 L967.5,1820.1 L973.5,1821 L979.5,1820.9 L985.5,1821.4 L991.5,1822.3 L997.4,1822.4 L1003.4,1822.8 L1009.4,1823.2 L1015.4,1824 L1021.3,1824.1 L1027.3,1824.6 L1033.3,1825 L1039.3,1825.7 L1045.3,1825.9 L1051.2,1826.3 L1057.2,1826.3 L1063.2,1826.5 L1069.2,1826.6 L1075.1,1827 L1081.1,1827.5 L1087.1,1827.6 L1093.1,1827.6 L1099.1,1827.8 L1105,1828.1 L1111,1828.4 L1117,1828.4 L1123,1828.7 L1128.9,1828.8 L1134.9,1829.2 L1140.9,1829.1 L1146.9,1829.5 L1152.8,1829.5 L1158.8,1829.6 L1164.8,1829.6 L1170.8,1829.8 L1176.8,1829.9 L1182.7,1830 L1188.7,1830 L1194.7,1830.3 L1200.7,1830.3 L1206.6,1830.4 L1212.6,1830.3 L1218.6,1830.5 L1218.6,1831.7 L662.7,1831.7 Z" fill="#7f7f7f" fill-opacity="0.5" stroke="#fff" stroke-width="1.6" stroke-linejoin="round" stroke-opacity="0.95"/></g>
<rect x="1107.8" y="1786.8" width="102" height="31" rx="4" fill="#fff" fill-opacity="0.8" stroke="#d6d6d6" stroke-width="1"/>
<rect x="1114.4" y="1795.5" width="36" height="12.4" fill="#bfbfbf" stroke="#7f7f7f" stroke-opacity="0.5" stroke-width="1"/>
<text x="1164.1" y="1807" font-family="'DejaVu Sans', 'Liberation Sans', sans-serif" font-size="17.5">0.61</text>
<g clip-path="url(#c7_9)"><use href="#r7" transform="translate(0,486.4)" fill="#7f7f7f" stroke="#000" stroke-width="1.6" stroke-linejoin="round"/><path d="M662.7,1876.9 L668.7,1874.2 L674.7,1870.9 L680.6,1868.4 L686.6,1864.3 L692.6,1860.4 L698.6,1856.2 L704.5,1852.7 L710.5,1850.1 L716.5,1847.4 L722.5,1843.3 L728.5,1845.3 L734.4,1842.7 L740.4,1844.6 L746.4,1843.8 L752.4,1843.1 L758.3,1844.8 L764.3,1843.1 L770.3,1842.8 L776.3,1845.2 L782.2,1844 L788.2,1845.5 L794.2,1845 L800.2,1845.1 L806.2,1844.6 L812.1,1847.1 L818.1,1845.7 L824.1,1848.9 L830.1,1850.5 L836,1849.6 L842,1850.5 L848,1853.9 L854,1853.9 L860,1855.1 L865.9,1857 L871.9,1856.4 L877.9,1857.4 L883.9,1858.9 L889.8,1859.1 L895.8,1860.9 L901.8,1862.3 L907.8,1862.5 L913.8,1864.3 L919.7,1864.2 L925.7,1865.9 L931.7,1866.9 L937.7,1868.1 L943.6,1868.1 L949.6,1869.5 L955.6,1870.1 L961.6,1870.8 L967.5,1870.9 L973.5,1872.2 L979.5,1872.4 L985.5,1873.5 L991.5,1874.5 L997.4,1874.4 L1003.4,1875.4 L1009.4,1875.7 L1015.4,1875.9 L1021.3,1876.7 L1027.3,1877.2 L1033.3,1877.7 L1039.3,1877.8 L1045.3,1878.6 L1051.2,1878.8 L1057.2,1879 L1063.2,1879.7 L1069.2,1879.9 L1075.1,1880.3 L1081.1,1880.6 L1087.1,1880.7 L1093.1,1881 L1099.1,1881.2 L1105,1881.4 L1111,1881.7 L1117,1882.1 L1123,1882.4 L1128.9,1882.3 L1134.9,1882.6 L1140.9,1882.7 L1146.9,1882.9 L1152.8,1883 L1158.8,1883.2 L1164.8,1883.4 L1170.8,1883.5 L1176.8,1883.8 L1182.7,1883.7 L1188.7,1883.8 L1194.7,1884 L1200.7,1884.1 L1206.6,1884.2 L1212.6,1884.2 L1218.6,1884.4 L1218.6,1885.7 L662.7,1885.7 Z" fill="#9467bd" fill-opacity="0.5" stroke="#fff" stroke-width="1.6" stroke-linejoin="round" stroke-opacity="0.95"/></g>
<rect x="1107.8" y="1840.9" width="102" height="31" rx="4" fill="#fff" fill-opacity="0.8" stroke="#d6d6d6" stroke-width="1"/>
<rect x="1114.4" y="1849.6" width="36" height="12.4" fill="#cab3de" stroke="#9467bd" stroke-opacity="0.5" stroke-width="1"/>
<text x="1164.1" y="1861.1" font-family="'DejaVu Sans', 'Liberation Sans', sans-serif" font-size="17.5">0.65</text>
<line x1="662.7" y1="1399.3" x2="1218.6" y2="1399.3" stroke="#222" stroke-width="1.5"/>
<line x1="662.7" y1="1453.4" x2="1218.6" y2="1453.4" stroke="#222" stroke-width="1.5"/>
<line x1="662.7" y1="1507.4" x2="1218.6" y2="1507.4" stroke="#222" stroke-width="1.5"/>
<line x1="662.7" y1="1561.5" x2="1218.6" y2="1561.5" stroke="#222" stroke-width="1.5"/>
<line x1="662.7" y1="1615.5" x2="1218.6" y2="1615.5" stroke="#222" stroke-width="1.5"/>
<line x1="662.7" y1="1669.5" x2="1218.6" y2="1669.5" stroke="#222" stroke-width="1.5"/>
<line x1="662.7" y1="1723.6" x2="1218.6" y2="1723.6" stroke="#222" stroke-width="1.5"/>
<line x1="662.7" y1="1777.6" x2="1218.6" y2="1777.6" stroke="#222" stroke-width="1.5"/>
<line x1="662.7" y1="1831.7" x2="1218.6" y2="1831.7" stroke="#222" stroke-width="1.5"/>
<rect x="662.7" y="1345.3" width="555.9" height="540.4" fill="none" stroke="#222" stroke-width="1.3"/>
<line x1="713.4" y1="1885.7" x2="713.4" y2="1889.2" stroke="#222" stroke-width="1"/>
<text x="713.4" y="1905.3" text-anchor="middle" font-family="'DejaVu Sans', 'Liberation Sans', sans-serif" font-size="17.2">1.5</text>
<line x1="785.2" y1="1885.7" x2="785.2" y2="1889.2" stroke="#222" stroke-width="1"/>
<text x="785.2" y="1905.3" text-anchor="middle" font-family="'DejaVu Sans', 'Liberation Sans', sans-serif" font-size="17.2">2.0</text>
<line x1="857" y1="1885.7" x2="857" y2="1889.2" stroke="#222" stroke-width="1"/>
<text x="857" y="1905.3" text-anchor="middle" font-family="'DejaVu Sans', 'Liberation Sans', sans-serif" font-size="17.2">2.5</text>
<line x1="928.8" y1="1885.7" x2="928.8" y2="1889.2" stroke="#222" stroke-width="1"/>
<text x="928.8" y="1905.3" text-anchor="middle" font-family="'DejaVu Sans', 'Liberation Sans', sans-serif" font-size="17.2">3.0</text>
<line x1="1000.6" y1="1885.7" x2="1000.6" y2="1889.2" stroke="#222" stroke-width="1"/>
<text x="1000.6" y="1905.3" text-anchor="middle" font-family="'DejaVu Sans', 'Liberation Sans', sans-serif" font-size="17.2">3.5</text>
<line x1="1072.4" y1="1885.7" x2="1072.4" y2="1889.2" stroke="#222" stroke-width="1"/>
<text x="1072.4" y="1905.3" text-anchor="middle" font-family="'DejaVu Sans', 'Liberation Sans', sans-serif" font-size="17.2">4.0</text>
<line x1="1144.2" y1="1885.7" x2="1144.2" y2="1889.2" stroke="#222" stroke-width="1"/>
<text x="1144.2" y="1905.3" text-anchor="middle" font-family="'DejaVu Sans', 'Liberation Sans', sans-serif" font-size="17.2">4.5</text>
<line x1="1216" y1="1885.7" x2="1216" y2="1889.2" stroke="#222" stroke-width="1"/>
<text x="1216" y="1905.3" text-anchor="middle" font-family="'DejaVu Sans', 'Liberation Sans', sans-serif" font-size="17.2">5.0</text>
<line x1="659.2" y1="1885.7" x2="662.7" y2="1885.7" stroke="#222" stroke-width="1"/>
<text x="656.1" y="1892.6" text-anchor="end" font-family="'DejaVu Sans', 'Liberation Sans', sans-serif" font-size="17.2">0</text>
<line x1="659.2" y1="1852.7" x2="662.7" y2="1852.7" stroke="#222" stroke-width="1"/>
<text x="656.1" y="1859.6" text-anchor="end" font-family="'DejaVu Sans', 'Liberation Sans', sans-serif" font-size="17.2">2</text>
<text x="937.7" y="1328.5" text-anchor="middle" font-family="'Liberation Sans', Arial, sans-serif" font-weight="bold" font-size="33.5">AR</text>
<clipPath id="c8_0"><rect x="1283.4" y="1345.3" width="566" height="54"/></clipPath>
<clipPath id="c8_1"><rect x="1283.4" y="1399.3" width="566" height="54"/></clipPath>
<clipPath id="c8_2"><rect x="1283.4" y="1453.4" width="566" height="54"/></clipPath>
<clipPath id="c8_3"><rect x="1283.4" y="1507.4" width="566" height="54"/></clipPath>
<clipPath id="c8_4"><rect x="1283.4" y="1561.5" width="566" height="54"/></clipPath>
<clipPath id="c8_5"><rect x="1283.4" y="1615.5" width="566" height="54"/></clipPath>
<clipPath id="c8_6"><rect x="1283.4" y="1669.5" width="566" height="54"/></clipPath>
<clipPath id="c8_7"><rect x="1283.4" y="1723.6" width="566" height="54"/></clipPath>
<clipPath id="c8_8"><rect x="1283.4" y="1777.6" width="566" height="54"/></clipPath>
<clipPath id="c8_9"><rect x="1283.4" y="1831.7" width="566" height="54"/></clipPath>
<defs><path id="r8" d="M1283.4,1397.9 L1289.4,1394.9 L1295.3,1392.4 L1301.3,1388.7 L1307.2,1384.7 L1313.2,1380.3 L1319.1,1375.2 L1325.1,1372.4 L1331.1,1371.1 L1337,1367.9 L1343,1363.6 L1348.9,1362 L1354.9,1358.7 L1360.9,1355 L1366.8,1354.7 L1372.8,1353 L1378.7,1350.2 L1384.7,1350.6 L1390.6,1349.1 L1396.6,1348.7 L1402.6,1347 L1408.5,1347.5 L1414.5,1348.2 L1420.4,1348.2 L1426.4,1348.5 L1432.3,1348.1 L1438.3,1347.4 L1444.3,1350.4 L1450.2,1348.6 L1456.2,1351.3 L1462.1,1350.9 L1468.1,1353 L1474.1,1354.7 L1480,1356.2 L1486,1360.3 L1491.9,1361.7 L1497.9,1362.9 L1503.8,1365.2 L1509.8,1368.4 L1515.8,1371.4 L1521.7,1373.3 L1527.7,1376.3 L1533.6,1377.8 L1539.6,1380.6 L1545.5,1382.9 L1551.5,1384.7 L1557.5,1386.7 L1563.4,1388.2 L1569.4,1390.4 L1575.3,1391.5 L1581.3,1392.7 L1587.3,1393.8 L1593.2,1394.8 L1599.2,1395.8 L1605.1,1396.6 L1611.1,1397 L1617,1397.6 L1623,1398 L1629,1398.3 L1634.9,1398.5 L1640.9,1398.7 L1646.8,1398.9 L1652.8,1399 L1658.7,1399.1 L1664.7,1399.2 L1670.7,1399.2 L1676.6,1399.3 L1682.6,1399.3 L1688.5,1399.3 L1694.5,1399.3 L1700.5,1399.3 L1706.4,1399.3 L1712.4,1399.3 L1718.3,1399.3 L1724.3,1399.3 L1730.2,1399.3 L1736.2,1399.3 L1742.2,1399.3 L1748.1,1399.3 L1754.1,1399.3 L1760,1399.3 L1766,1399.3 L1771.9,1399.3 L1777.9,1399.3 L1783.9,1399.3 L1789.8,1399.3 L1795.8,1399.3 L1801.7,1399.3 L1807.7,1399.3 L1813.7,1399.3 L1819.6,1399.3 L1825.6,1399.3 L1831.5,1399.3 L1837.5,1399.3 L1843.4,1399.3 L1849.4,1399.3 L1849.4,1399.3 L1283.4,1399.3 Z"/></defs>
<g clip-path="url(#c8_0)"><use href="#r8" transform="translate(0,0)" fill="#7f7f7f" stroke="#000" stroke-width="1.6" stroke-linejoin="round"/><path d="M1283.4,1395.6 L1289.4,1394.8 L1295.3,1393.8 L1301.3,1393 L1307.2,1391.8 L1313.2,1390.9 L1319.1,1389 L1325.1,1388 L1331.1,1386 L1337,1384.8 L1343,1382.9 L1348.9,1380.9 L1354.9,1378.2 L1360.9,1376.9 L1366.8,1375.4 L1372.8,1373.2 L1378.7,1371.5 L1384.7,1368.1 L1390.6,1366.6 L1396.6,1364.9 L1402.6,1362.8 L1408.5,1362 L1414.5,1362 L1420.4,1360.7 L1426.4,1358.8 L1432.3,1358 L1438.3,1357.6 L1444.3,1358.6 L1450.2,1358.7 L1456.2,1359 L1462.1,1357.2 L1468.1,1359.2 L1474.1,1359.3 L1480,1359.3 L1486,1358.6 L1491.9,1358.7 L1497.9,1360.1 L1503.8,1359.2 L1509.8,1361.4 L1515.8,1360.7 L1521.7,1362.5 L1527.7,1363.9 L1533.6,1365.7 L1539.6,1367.6 L1545.5,1368.7 L1551.5,1369.6 L1557.5,1371.3 L1563.4,1371.6 L1569.4,1374.7 L1575.3,1375.6 L1581.3,1375.7 L1587.3,1378.2 L1593.2,1379 L1599.2,1380.5 L1605.1,1381.2 L1611.1,1382.4 L1617,1383.3 L1623,1385.1 L1629,1385.2 L1634.9,1386.6 L1640.9,1387.7 L1646.8,1388.4 L1652.8,1388.9 L1658.7,1389.9 L1664.7,1390.9 L1670.7,1390.9 L1676.6,1391.8 L1682.6,1392.5 L1688.5,1393 L1694.5,1393.4 L1700.5,1394 L1706.4,1394.5 L1712.4,1395 L1718.3,1395.1 L1724.3,1395.7 L1730.2,1396.1 L1736.2,1396.4 L1742.2,1396.6 L1748.1,1396.7 L1754.1,1397 L1760,1397.3 L1766,1397.4 L1771.9,1397.7 L1777.9,1397.8 L1783.9,1397.9 L1789.8,1398.1 L1795.8,1398.1 L1801.7,1398.3 L1807.7,1398.4 L1813.7,1398.5 L1819.6,1398.6 L1825.6,1398.7 L1831.5,1398.7 L1837.5,1398.8 L1843.4,1398.9 L1849.4,1398.9 L1849.4,1399.3 L1283.4,1399.3 Z" fill="#8c564b" fill-opacity="0.5" stroke="#fff" stroke-width="1.6" stroke-linejoin="round" stroke-opacity="0.95"/></g>
<rect x="1738.6" y="1354.5" width="102" height="31" rx="4" fill="#fff" fill-opacity="0.8" stroke="#d6d6d6" stroke-width="1"/>
<rect x="1745.2" y="1363.2" width="36" height="12.4" fill="#c6aaa5" stroke="#8c564b" stroke-opacity="0.5" stroke-width="1"/>
<text x="1794.9" y="1374.7" font-family="'DejaVu Sans', 'Liberation Sans', sans-serif" font-size="17.5">0.73</text>
<g clip-path="url(#c8_1)"><use href="#r8" transform="translate(0,54)" fill="#7f7f7f" stroke="#000" stroke-width="1.6" stroke-linejoin="round"/><path d="M1283.4,1450.8 L1289.4,1450.4 L1295.3,1449.8 L1301.3,1449.2 L1307.2,1448.4 L1313.2,1447.8 L1319.1,1446.7 L1325.1,1445.6 L1331.1,1444.8 L1337,1442.9 L1343,1442 L1348.9,1440.2 L1354.9,1438.4 L1360.9,1437.2 L1366.8,1435.8 L1372.8,1433.8 L1378.7,1431 L1384.7,1429.8 L1390.6,1427.6 L1396.6,1425.1 L1402.6,1423.8 L1408.5,1421.7 L1414.5,1419.6 L1420.4,1418.4 L1426.4,1415.1 L1432.3,1414.1 L1438.3,1413.7 L1444.3,1412.3 L1450.2,1412.1 L1456.2,1411.4 L1462.1,1410.5 L1468.1,1409.7 L1474.1,1410.3 L1480,1409.5 L1486,1410.9 L1491.9,1409.5 L1497.9,1410.2 L1503.8,1410.3 L1509.8,1410.1 L1515.8,1411.8 L1521.7,1411 L1527.7,1412.6 L1533.6,1413.8 L1539.6,1415.3 L1545.5,1415.8 L1551.5,1417.8 L1557.5,1418.9 L1563.4,1421.2 L1569.4,1422.4 L1575.3,1423.6 L1581.3,1426.2 L1587.3,1426.9 L1593.2,1429.4 L1599.2,1430.2 L1605.1,1432.3 L1611.1,1433 L1617,1435.2 L1623,1436.1 L1629,1437.9 L1634.9,1439.4 L1640.9,1440.3 L1646.8,1441.2 L1652.8,1442.3 L1658.7,1443.6 L1664.7,1444.5 L1670.7,1445.4 L1676.6,1446.4 L1682.6,1446.9 L1688.5,1447.8 L1694.5,1448.3 L1700.5,1448.8 L1706.4,1449.3 L1712.4,1449.6 L1718.3,1450.1 L1724.3,1450.6 L1730.2,1451 L1736.2,1451.3 L1742.2,1451.6 L1748.1,1451.8 L1754.1,1452 L1760,1452.2 L1766,1452.4 L1771.9,1452.5 L1777.9,1452.6 L1783.9,1452.7 L1789.8,1452.8 L1795.8,1452.9 L1801.7,1453 L1807.7,1453 L1813.7,1453.1 L1819.6,1453.1 L1825.6,1453.2 L1831.5,1453.2 L1837.5,1453.2 L1843.4,1453.3 L1849.4,1453.3 L1849.4,1453.4 L1283.4,1453.4 Z" fill="#2ca02c" fill-opacity="0.5" stroke="#fff" stroke-width="1.6" stroke-linejoin="round" stroke-opacity="0.95"/></g>
<rect x="1738.6" y="1408.5" width="102" height="31" rx="4" fill="#fff" fill-opacity="0.8" stroke="#d6d6d6" stroke-width="1"/>
<rect x="1745.2" y="1417.2" width="36" height="12.4" fill="#96d096" stroke="#2ca02c" stroke-opacity="0.5" stroke-width="1"/>
<text x="1794.9" y="1428.7" font-family="'DejaVu Sans', 'Liberation Sans', sans-serif" font-size="17.5">0.66</text>
<g clip-path="url(#c8_2)"><use href="#r8" transform="translate(0,108.1)" fill="#7f7f7f" stroke="#000" stroke-width="1.6" stroke-linejoin="round"/><path d="M1283.4,1504.9 L1289.4,1499.9 L1295.3,1494.6 L1301.3,1491.6 L1307.2,1489.6 L1313.2,1486.7 L1319.1,1484.4 L1325.1,1480.6 L1331.1,1477.6 L1337,1475.7 L1343,1472.2 L1348.9,1469.7 L1354.9,1467.5 L1360.9,1465.6 L1366.8,1464.2 L1372.8,1461.3 L1378.7,1461.2 L1384.7,1461.2 L1390.6,1459.3 L1396.6,1461.2 L1402.6,1460 L1408.5,1459.9 L1414.5,1460.4 L1420.4,1460.7 L1426.4,1462.8 L1432.3,1462.5 L1438.3,1463 L1444.3,1462.7 L1450.2,1466.5 L1456.2,1465 L1462.1,1468.1 L1468.1,1469.6 L1474.1,1471 L1480,1472.5 L1486,1475.3 L1491.9,1477.7 L1497.9,1478 L1503.8,1481.3 L1509.8,1482 L1515.8,1485.1 L1521.7,1487.1 L1527.7,1489.7 L1533.6,1491.1 L1539.6,1492.7 L1545.5,1494.6 L1551.5,1496.2 L1557.5,1497.9 L1563.4,1499 L1569.4,1500.5 L1575.3,1501.4 L1581.3,1502.3 L1587.3,1503.1 L1593.2,1504 L1599.2,1504.7 L1605.1,1505.1 L1611.1,1505.6 L1617,1505.9 L1623,1506.4 L1629,1506.5 L1634.9,1506.7 L1640.9,1506.9 L1646.8,1507 L1652.8,1507.1 L1658.7,1507.2 L1664.7,1507.3 L1670.7,1507.3 L1676.6,1507.3 L1682.6,1507.4 L1688.5,1507.4 L1694.5,1507.4 L1700.5,1507.4 L1706.4,1507.4 L1712.4,1507.4 L1718.3,1507.4 L1724.3,1507.4 L1730.2,1507.4 L1736.2,1507.4 L1742.2,1507.4 L1748.1,1507.4 L1754.1,1507.4 L1760,1507.4 L1766,1507.4 L1771.9,1507.4 L1777.9,1507.4 L1783.9,1507.4 L1789.8,1507.4 L1795.8,1507.4 L1801.7,1507.4 L1807.7,1507.4 L1813.7,1507.4 L1819.6,1507.4 L1825.6,1507.4 L1831.5,1507.4 L1837.5,1507.4 L1843.4,1507.4 L1849.4,1507.4 L1849.4,1507.4 L1283.4,1507.4 Z" fill="#1f77b4" fill-opacity="0.5" stroke="#fff" stroke-width="1.6" stroke-linejoin="round" stroke-opacity="0.95"/></g>
<rect x="1738.6" y="1462.6" width="102" height="31" rx="4" fill="#fff" fill-opacity="0.8" stroke="#d6d6d6" stroke-width="1"/>
<rect x="1745.2" y="1471.3" width="36" height="12.4" fill="#8fbbda" stroke="#1f77b4" stroke-opacity="0.5" stroke-width="1"/>
<text x="1794.9" y="1482.8" font-family="'DejaVu Sans', 'Liberation Sans', sans-serif" font-size="17.5">0.92</text>
<g clip-path="url(#c8_3)"><use href="#r8" transform="translate(0,162.1)" fill="#7f7f7f" stroke="#000" stroke-width="1.6" stroke-linejoin="round"/><path d="M1283.4,1554.5 L1289.4,1552.6 L1295.3,1551 L1301.3,1548.6 L1307.2,1546.2 L1313.2,1543.3 L1319.1,1541.1 L1325.1,1537.5 L1331.1,1535.2 L1337,1532.3 L1343,1530 L1348.9,1527.1 L1354.9,1523.7 L1360.9,1522.1 L1366.8,1521.6 L1372.8,1519.2 L1378.7,1518.2 L1384.7,1519.5 L1390.6,1518.4 L1396.6,1519.9 L1402.6,1518.6 L1408.5,1518.5 L1414.5,1519.1 L1420.4,1519.7 L1426.4,1518.1 L1432.3,1519.8 L1438.3,1520.8 L1444.3,1519.7 L1450.2,1521.8 L1456.2,1522.4 L1462.1,1524.2 L1468.1,1527 L1474.1,1527.3 L1480,1529.5 L1486,1531.5 L1491.9,1533.1 L1497.9,1534.7 L1503.8,1536.5 L1509.8,1537.9 L1515.8,1539.8 L1521.7,1541 L1527.7,1542.6 L1533.6,1544.8 L1539.6,1545.7 L1545.5,1548 L1551.5,1548.8 L1557.5,1550.2 L1563.4,1551.2 L1569.4,1552.7 L1575.3,1553.8 L1581.3,1555 L1587.3,1555.3 L1593.2,1556.5 L1599.2,1557 L1605.1,1557.8 L1611.1,1558.3 L1617,1558.6 L1623,1559.2 L1629,1559.5 L1634.9,1559.8 L1640.9,1560.1 L1646.8,1560.4 L1652.8,1560.5 L1658.7,1560.8 L1664.7,1560.8 L1670.7,1561 L1676.6,1561.1 L1682.6,1561.1 L1688.5,1561.2 L1694.5,1561.3 L1700.5,1561.3 L1706.4,1561.3 L1712.4,1561.4 L1718.3,1561.4 L1724.3,1561.4 L1730.2,1561.4 L1736.2,1561.4 L1742.2,1561.4 L1748.1,1561.4 L1754.1,1561.4 L1760,1561.4 L1766,1561.5 L1771.9,1561.5 L1777.9,1561.5 L1783.9,1561.5 L1789.8,1561.5 L1795.8,1561.5 L1801.7,1561.5 L1807.7,1561.5 L1813.7,1561.5 L1819.6,1561.5 L1825.6,1561.5 L1831.5,1561.5 L1837.5,1561.5 L1843.4,1561.5 L1849.4,1561.5 L1849.4,1561.5 L1283.4,1561.5 Z" fill="#bcbd22" fill-opacity="0.5" stroke="#fff" stroke-width="1.6" stroke-linejoin="round" stroke-opacity="0.95"/></g>
<rect x="1738.6" y="1516.6" width="102" height="31" rx="4" fill="#fff" fill-opacity="0.8" stroke="#d6d6d6" stroke-width="1"/>
<rect x="1745.2" y="1525.3" width="36" height="12.4" fill="#dede90" stroke="#bcbd22" stroke-opacity="0.5" stroke-width="1"/>
<text x="1794.9" y="1536.8" font-family="'DejaVu Sans', 'Liberation Sans', sans-serif" font-size="17.5">0.85</text>
<g clip-path="url(#c8_4)"><use href="#r8" transform="translate(0,216.2)" fill="#7f7f7f" stroke="#000" stroke-width="1.6" stroke-linejoin="round"/><path d="M1283.4,1613.6 L1289.4,1612.9 L1295.3,1612.1 L1301.3,1610.9 L1307.2,1609.3 L1313.2,1607.5 L1319.1,1605.5 L1325.1,1603.3 L1331.1,1600.4 L1337,1596.7 L1343,1593.7 L1348.9,1590.2 L1354.9,1587.3 L1360.9,1583.3 L1366.8,1578.9 L1372.8,1576 L1378.7,1574.2 L1384.7,1570.5 L1390.6,1568 L1396.6,1568.4 L1402.6,1567.1 L1408.5,1568 L1414.5,1568.8 L1420.4,1567.3 L1426.4,1569.4 L1432.3,1568.9 L1438.3,1569.5 L1444.3,1569.8 L1450.2,1570.2 L1456.2,1570.9 L1462.1,1569.2 L1468.1,1572.2 L1474.1,1572.5 L1480,1573.5 L1486,1576.7 L1491.9,1577.8 L1497.9,1578.8 L1503.8,1580.9 L1509.8,1583.2 L1515.8,1585.5 L1521.7,1587.2 L1527.7,1589.6 L1533.6,1591 L1539.6,1592.4 L1545.5,1595.4 L1551.5,1596.5 L1557.5,1597.8 L1563.4,1600 L1569.4,1601.9 L1575.3,1602.7 L1581.3,1604 L1587.3,1605.4 L1593.2,1606.6 L1599.2,1607.9 L1605.1,1608.5 L1611.1,1609.6 L1617,1610.4 L1623,1610.9 L1629,1611.8 L1634.9,1612.3 L1640.9,1612.7 L1646.8,1613.3 L1652.8,1613.5 L1658.7,1613.9 L1664.7,1614.1 L1670.7,1614.3 L1676.6,1614.6 L1682.6,1614.7 L1688.5,1614.9 L1694.5,1615 L1700.5,1615.1 L1706.4,1615.2 L1712.4,1615.2 L1718.3,1615.3 L1724.3,1615.3 L1730.2,1615.4 L1736.2,1615.4 L1742.2,1615.4 L1748.1,1615.4 L1754.1,1615.4 L1760,1615.5 L1766,1615.5 L1771.9,1615.5 L1777.9,1615.5 L1783.9,1615.5 L1789.8,1615.5 L1795.8,1615.5 L1801.7,1615.5 L1807.7,1615.5 L1813.7,1615.5 L1819.6,1615.5 L1825.6,1615.5 L1831.5,1615.5 L1837.5,1615.5 L1843.4,1615.5 L1849.4,1615.5 L1849.4,1615.5 L1283.4,1615.5 Z" fill="#e377c2" fill-opacity="0.5" stroke="#fff" stroke-width="1.6" stroke-linejoin="round" stroke-opacity="0.95"/></g>
<rect x="1738.6" y="1570.7" width="102" height="31" rx="4" fill="#fff" fill-opacity="0.8" stroke="#d6d6d6" stroke-width="1"/>
<rect x="1745.2" y="1579.4" width="36" height="12.4" fill="#f1bbe0" stroke="#e377c2" stroke-opacity="0.5" stroke-width="1"/>
<text x="1794.9" y="1590.9" font-family="'DejaVu Sans', 'Liberation Sans', sans-serif" font-size="17.5">0.86</text>
<g clip-path="url(#c8_5)"><use href="#r8" transform="translate(0,270.2)" fill="#7f7f7f" stroke="#000" stroke-width="1.6" stroke-linejoin="round"/><path d="M1283.4,1668.2 L1289.4,1667.7 L1295.3,1667.3 L1301.3,1666.7 L1307.2,1666 L1313.2,1665.2 L1319.1,1664.2 L1325.1,1663.2 L1331.1,1661.5 L1337,1660.1 L1343,1658.2 L1348.9,1656.3 L1354.9,1655 L1360.9,1652.4 L1366.8,1650.1 L1372.8,1647.9 L1378.7,1645.4 L1384.7,1643.3 L1390.6,1640.4 L1396.6,1638.4 L1402.6,1636.3 L1408.5,1634 L1414.5,1632.8 L1420.4,1629.8 L1426.4,1629.1 L1432.3,1627.7 L1438.3,1628.6 L1444.3,1628.1 L1450.2,1628.8 L1456.2,1627 L1462.1,1629.9 L1468.1,1627.4 L1474.1,1627.6 L1480,1628.3 L1486,1628.4 L1491.9,1628.5 L1497.9,1629.4 L1503.8,1629.6 L1509.8,1630.9 L1515.8,1631 L1521.7,1632.4 L1527.7,1633.1 L1533.6,1633.4 L1539.6,1635.7 L1545.5,1635.6 L1551.5,1638.2 L1557.5,1639.9 L1563.4,1641 L1569.4,1642.7 L1575.3,1643.5 L1581.3,1646.2 L1587.3,1647.4 L1593.2,1647.6 L1599.2,1650.3 L1605.1,1650.5 L1611.1,1652.4 L1617,1653.6 L1623,1654.8 L1629,1656.4 L1634.9,1657.6 L1640.9,1658.7 L1646.8,1659.9 L1652.8,1660.7 L1658.7,1661.5 L1664.7,1662.6 L1670.7,1663.1 L1676.6,1664 L1682.6,1664.5 L1688.5,1665 L1694.5,1665.6 L1700.5,1666.2 L1706.4,1666.6 L1712.4,1667 L1718.3,1667.4 L1724.3,1667.8 L1730.2,1667.9 L1736.2,1668.1 L1742.2,1668.4 L1748.1,1668.6 L1754.1,1668.6 L1760,1668.8 L1766,1668.9 L1771.9,1669 L1777.9,1669.1 L1783.9,1669.2 L1789.8,1669.2 L1795.8,1669.3 L1801.7,1669.3 L1807.7,1669.4 L1813.7,1669.4 L1819.6,1669.4 L1825.6,1669.5 L1831.5,1669.5 L1837.5,1669.5 L1843.4,1669.5 L1849.4,1669.5 L1849.4,1669.5 L1283.4,1669.5 Z" fill="#d62728" fill-opacity="0.5" stroke="#fff" stroke-width="1.6" stroke-linejoin="round" stroke-opacity="0.95"/></g>
<rect x="1738.6" y="1624.7" width="102" height="31" rx="4" fill="#fff" fill-opacity="0.8" stroke="#d6d6d6" stroke-width="1"/>
<rect x="1745.2" y="1633.4" width="36" height="12.4" fill="#ea9394" stroke="#d62728" stroke-opacity="0.5" stroke-width="1"/>
<text x="1794.9" y="1644.9" font-family="'DejaVu Sans', 'Liberation Sans', sans-serif" font-size="17.5">0.69</text>
<g clip-path="url(#c8_6)"><use href="#r8" transform="translate(0,324.2)" fill="#7f7f7f" stroke="#000" stroke-width="1.6" stroke-linejoin="round"/><path d="M1283.4,1712.7 L1289.4,1710.6 L1295.3,1708.5 L1301.3,1705.3 L1307.2,1703.1 L1313.2,1699.3 L1319.1,1697 L1325.1,1693 L1331.1,1690.3 L1337,1688.2 L1343,1682.9 L1348.9,1681.9 L1354.9,1679.2 L1360.9,1678.2 L1366.8,1675 L1372.8,1674.3 L1378.7,1672.3 L1384.7,1672.9 L1390.6,1673.1 L1396.6,1672.7 L1402.6,1671.5 L1408.5,1671.4 L1414.5,1671 L1420.4,1671.2 L1426.4,1670.8 L1432.3,1671.4 L1438.3,1674.6 L1444.3,1673.8 L1450.2,1674.1 L1456.2,1675.6 L1462.1,1676.9 L1468.1,1678.5 L1474.1,1681.5 L1480,1682.7 L1486,1685.7 L1491.9,1687.2 L1497.9,1689 L1503.8,1690.8 L1509.8,1694 L1515.8,1695.1 L1521.7,1697.9 L1527.7,1700.3 L1533.6,1701.7 L1539.6,1704.6 L1545.5,1705.7 L1551.5,1707.9 L1557.5,1710.2 L1563.4,1711.8 L1569.4,1713.4 L1575.3,1714.9 L1581.3,1716.2 L1587.3,1717.2 L1593.2,1718.1 L1599.2,1719.2 L1605.1,1719.8 L1611.1,1720.6 L1617,1720.9 L1623,1721.6 L1629,1721.9 L1634.9,1722.3 L1640.9,1722.5 L1646.8,1722.8 L1652.8,1723 L1658.7,1723.1 L1664.7,1723.2 L1670.7,1723.3 L1676.6,1723.4 L1682.6,1723.4 L1688.5,1723.5 L1694.5,1723.5 L1700.5,1723.5 L1706.4,1723.5 L1712.4,1723.6 L1718.3,1723.6 L1724.3,1723.6 L1730.2,1723.6 L1736.2,1723.6 L1742.2,1723.6 L1748.1,1723.6 L1754.1,1723.6 L1760,1723.6 L1766,1723.6 L1771.9,1723.6 L1777.9,1723.6 L1783.9,1723.6 L1789.8,1723.6 L1795.8,1723.6 L1801.7,1723.6 L1807.7,1723.6 L1813.7,1723.6 L1819.6,1723.6 L1825.6,1723.6 L1831.5,1723.6 L1837.5,1723.6 L1843.4,1723.6 L1849.4,1723.6 L1849.4,1723.6 L1283.4,1723.6 Z" fill="#ff7f0e" fill-opacity="0.5" stroke="#fff" stroke-width="1.6" stroke-linejoin="round" stroke-opacity="0.95"/></g>
<rect x="1738.6" y="1678.7" width="102" height="31" rx="4" fill="#fff" fill-opacity="0.8" stroke="#d6d6d6" stroke-width="1"/>
<rect x="1745.2" y="1687.4" width="36" height="12.4" fill="#ffbf86" stroke="#ff7f0e" stroke-opacity="0.5" stroke-width="1"/>
<text x="1794.9" y="1698.9" font-family="'DejaVu Sans', 'Liberation Sans', sans-serif" font-size="17.5">0.95</text>
<g clip-path="url(#c8_7)"><use href="#r8" transform="translate(0,378.3)" fill="#7f7f7f" stroke="#000" stroke-width="1.6" stroke-linejoin="round"/><path d="M1283.4,1774.3 L1289.4,1768.4 L1295.3,1765.4 L1301.3,1763.9 L1307.2,1760.4 L1313.2,1758.2 L1319.1,1754.7 L1325.1,1751.9 L1331.1,1748.1 L1337,1745.1 L1343,1740.4 L1348.9,1739.2 L1354.9,1736 L1360.9,1732 L1366.8,1731 L1372.8,1728.3 L1378.7,1728.1 L1384.7,1727.8 L1390.6,1725.1 L1396.6,1725.9 L1402.6,1726.1 L1408.5,1726.8 L1414.5,1725.6 L1420.4,1725.1 L1426.4,1725.9 L1432.3,1727.7 L1438.3,1727.2 L1444.3,1728.5 L1450.2,1728.9 L1456.2,1730.9 L1462.1,1731.1 L1468.1,1733.6 L1474.1,1734.8 L1480,1736.4 L1486,1737.7 L1491.9,1739.7 L1497.9,1742.3 L1503.8,1744.5 L1509.8,1747.1 L1515.8,1748.9 L1521.7,1752.5 L1527.7,1753.4 L1533.6,1756.3 L1539.6,1758.3 L1545.5,1760.8 L1551.5,1762.7 L1557.5,1764.4 L1563.4,1765.6 L1569.4,1766.9 L1575.3,1769 L1581.3,1770.2 L1587.3,1771.2 L1593.2,1772 L1599.2,1773.2 L1605.1,1773.8 L1611.1,1774.5 L1617,1775.3 L1623,1775.6 L1629,1775.9 L1634.9,1776.3 L1640.9,1776.7 L1646.8,1776.8 L1652.8,1777 L1658.7,1777.1 L1664.7,1777.3 L1670.7,1777.3 L1676.6,1777.4 L1682.6,1777.5 L1688.5,1777.5 L1694.5,1777.5 L1700.5,1777.6 L1706.4,1777.6 L1712.4,1777.6 L1718.3,1777.6 L1724.3,1777.6 L1730.2,1777.6 L1736.2,1777.6 L1742.2,1777.6 L1748.1,1777.6 L1754.1,1777.6 L1760,1777.6 L1766,1777.6 L1771.9,1777.6 L1777.9,1777.6 L1783.9,1777.6 L1789.8,1777.6 L1795.8,1777.6 L1801.7,1777.6 L1807.7,1777.6 L1813.7,1777.6 L1819.6,1777.6 L1825.6,1777.6 L1831.5,1777.6 L1837.5,1777.6 L1843.4,1777.6 L1849.4,1777.6 L1849.4,1777.6 L1283.4,1777.6 Z" fill="#17becf" fill-opacity="0.5" stroke="#fff" stroke-width="1.6" stroke-linejoin="round" stroke-opacity="0.95"/></g>
<rect x="1738.6" y="1732.8" width="102" height="31" rx="4" fill="#fff" fill-opacity="0.8" stroke="#d6d6d6" stroke-width="1"/>
<rect x="1745.2" y="1741.5" width="36" height="12.4" fill="#8bdee7" stroke="#17becf" stroke-opacity="0.5" stroke-width="1"/>
<text x="1794.9" y="1753" font-family="'DejaVu Sans', 'Liberation Sans', sans-serif" font-size="17.5">0.96</text>
<g clip-path="url(#c8_8)"><use href="#r8" transform="translate(0,432.3)" fill="#7f7f7f" stroke="#000" stroke-width="1.6" stroke-linejoin="round"/><path d="M1283.4,1829.7 L1289.4,1827.8 L1295.3,1825.9 L1301.3,1824.3 L1307.2,1822.6 L1313.2,1821.7 L1319.1,1819.9 L1325.1,1818.5 L1331.1,1817.2 L1337,1816.5 L1343,1815.3 L1348.9,1813.5 L1354.9,1812.9 L1360.9,1811.7 L1366.8,1810.2 L1372.8,1809.6 L1378.7,1808.2 L1384.7,1806.7 L1390.6,1805.4 L1396.6,1805.5 L1402.6,1804.5 L1408.5,1802.7 L1414.5,1803.1 L1420.4,1801.9 L1426.4,1800.3 L1432.3,1798.1 L1438.3,1798.8 L1444.3,1798.1 L1450.2,1796.5 L1456.2,1796.7 L1462.1,1795.4 L1468.1,1795.3 L1474.1,1795.4 L1480,1796.3 L1486,1795.3 L1491.9,1796 L1497.9,1797.2 L1503.8,1796.8 L1509.8,1797.3 L1515.8,1798.4 L1521.7,1797.2 L1527.7,1798.5 L1533.6,1799.5 L1539.6,1800 L1545.5,1800.1 L1551.5,1800.9 L1557.5,1801.6 L1563.4,1802.1 L1569.4,1803.3 L1575.3,1803.5 L1581.3,1805.2 L1587.3,1806.3 L1593.2,1807.3 L1599.2,1808.3 L1605.1,1809.2 L1611.1,1809.2 L1617,1810.6 L1623,1811.4 L1629,1812.7 L1634.9,1813.4 L1640.9,1813.7 L1646.8,1815.3 L1652.8,1816 L1658.7,1816.6 L1664.7,1817 L1670.7,1818.3 L1676.6,1819.3 L1682.6,1820.1 L1688.5,1820.5 L1694.5,1821.3 L1700.5,1821.8 L1706.4,1822.5 L1712.4,1823.4 L1718.3,1824 L1724.3,1824.5 L1730.2,1824.8 L1736.2,1825.5 L1742.2,1826.1 L1748.1,1826.2 L1754.1,1826.8 L1760,1827.1 L1766,1827.7 L1771.9,1827.8 L1777.9,1828.3 L1783.9,1828.6 L1789.8,1829 L1795.8,1829.1 L1801.7,1829.4 L1807.7,1829.5 L1813.7,1829.8 L1819.6,1830.1 L1825.6,1830.3 L1831.5,1830.3 L1837.5,1830.5 L1843.4,1830.6 L1849.4,1830.7 L1849.4,1831.7 L1283.4,1831.7 Z" fill="#7f7f7f" fill-opacity="0.5" stroke="#fff" stroke-width="1.6" stroke-linejoin="round" stroke-opacity="0.95"/></g>
<rect x="1738.6" y="1786.8" width="102" height="31" rx="4" fill="#fff" fill-opacity="0.8" stroke="#d6d6d6" stroke-width="1"/>
<rect x="1745.2" y="1795.5" width="36" height="12.4" fill="#bfbfbf" stroke="#7f7f7f" stroke-opacity="0.5" stroke-width="1"/>
<text x="1794.9" y="1807" font-family="'DejaVu Sans', 'Liberation Sans', sans-serif" font-size="17.5">0.61</text>
<g clip-path="url(#c8_9)"><use href="#r8" transform="translate(0,486.4)" fill="#7f7f7f" stroke="#000" stroke-width="1.6" stroke-linejoin="round"/><path d="M1283.4,1884.5 L1289.4,1882.7 L1295.3,1881.4 L1301.3,1880 L1307.2,1878.7 L1313.2,1877.4 L1319.1,1876.2 L1325.1,1875.4 L1331.1,1873.9 L1337,1872.9 L1343,1872.1 L1348.9,1871.2 L1354.9,1870 L1360.9,1869.1 L1366.8,1868.2 L1372.8,1866.8 L1378.7,1865.8 L1384.7,1864.8 L1390.6,1863.8 L1396.6,1863.2 L1402.6,1862.6 L1408.5,1861.4 L1414.5,1860.4 L1420.4,1860.5 L1426.4,1858.8 L1432.3,1858.1 L1438.3,1857.7 L1444.3,1856.9 L1450.2,1855.8 L1456.2,1855.2 L1462.1,1854.8 L1468.1,1853.9 L1474.1,1854.7 L1480,1854.7 L1486,1854.2 L1491.9,1855.2 L1497.9,1855 L1503.8,1855.3 L1509.8,1855.9 L1515.8,1856.1 L1521.7,1855 L1527.7,1857.3 L1533.6,1857.2 L1539.6,1856.4 L1545.5,1857.5 L1551.5,1857.8 L1557.5,1859 L1563.4,1860 L1569.4,1860.1 L1575.3,1860.7 L1581.3,1860.6 L1587.3,1861 L1593.2,1861.4 L1599.2,1862.5 L1605.1,1863.7 L1611.1,1864.7 L1617,1864.8 L1623,1864.8 L1629,1865.3 L1634.9,1866.4 L1640.9,1867.6 L1646.8,1868.3 L1652.8,1868.9 L1658.7,1869.6 L1664.7,1869.9 L1670.7,1870.3 L1676.6,1870.8 L1682.6,1872 L1688.5,1872.9 L1694.5,1873.2 L1700.5,1873.7 L1706.4,1874.5 L1712.4,1874.9 L1718.3,1875.2 L1724.3,1875.6 L1730.2,1876.2 L1736.2,1876.8 L1742.2,1877.3 L1748.1,1877.4 L1754.1,1878.3 L1760,1878.6 L1766,1878.8 L1771.9,1879.5 L1777.9,1879.7 L1783.9,1879.8 L1789.8,1880.2 L1795.8,1880.7 L1801.7,1880.9 L1807.7,1881.5 L1813.7,1881.5 L1819.6,1881.9 L1825.6,1882 L1831.5,1882.3 L1837.5,1882.6 L1843.4,1882.7 L1849.4,1883.1 L1849.4,1885.7 L1283.4,1885.7 Z" fill="#9467bd" fill-opacity="0.5" stroke="#fff" stroke-width="1.6" stroke-linejoin="round" stroke-opacity="0.95"/></g>
<rect x="1738.6" y="1840.9" width="102" height="31" rx="4" fill="#fff" fill-opacity="0.8" stroke="#d6d6d6" stroke-width="1"/>
<rect x="1745.2" y="1849.6" width="36" height="12.4" fill="#cab3de" stroke="#9467bd" stroke-opacity="0.5" stroke-width="1"/>
<text x="1794.9" y="1861.1" font-family="'DejaVu Sans', 'Liberation Sans', sans-serif" font-size="17.5">0.65</text>
<line x1="1283.4" y1="1399.3" x2="1849.4" y2="1399.3" stroke="#222" stroke-width="1.5"/>
<line x1="1283.4" y1="1453.4" x2="1849.4" y2="1453.4" stroke="#222" stroke-width="1.5"/>
<line x1="1283.4" y1="1507.4" x2="1849.4" y2="1507.4" stroke="#222" stroke-width="1.5"/>
<line x1="1283.4" y1="1561.5" x2="1849.4" y2="1561.5" stroke="#222" stroke-width="1.5"/>
<line x1="1283.4" y1="1615.5" x2="1849.4" y2="1615.5" stroke="#222" stroke-width="1.5"/>
<line x1="1283.4" y1="1669.5" x2="1849.4" y2="1669.5" stroke="#222" stroke-width="1.5"/>
<line x1="1283.4" y1="1723.6" x2="1849.4" y2="1723.6" stroke="#222" stroke-width="1.5"/>
<line x1="1283.4" y1="1777.6" x2="1849.4" y2="1777.6" stroke="#222" stroke-width="1.5"/>
<line x1="1283.4" y1="1831.7" x2="1849.4" y2="1831.7" stroke="#222" stroke-width="1.5"/>
<rect x="1283.4" y="1345.3" width="566" height="540.4" fill="none" stroke="#222" stroke-width="1.3"/>
<line x1="1283.6" y1="1885.7" x2="1283.6" y2="1889.2" stroke="#222" stroke-width="1"/>
<text x="1283.6" y="1905.3" text-anchor="middle" font-family="'DejaVu Sans', 'Liberation Sans', sans-serif" font-size="17.2">0.2</text>
<line x1="1368.3" y1="1885.7" x2="1368.3" y2="1889.2" stroke="#222" stroke-width="1"/>
<text x="1368.3" y="1905.3" text-anchor="middle" font-family="'DejaVu Sans', 'Liberation Sans', sans-serif" font-size="17.2">0.3</text>
<line x1="1453" y1="1885.7" x2="1453" y2="1889.2" stroke="#222" stroke-width="1"/>
<text x="1453" y="1905.3" text-anchor="middle" font-family="'DejaVu Sans', 'Liberation Sans', sans-serif" font-size="17.2">0.4</text>
<line x1="1537.7" y1="1885.7" x2="1537.7" y2="1889.2" stroke="#222" stroke-width="1"/>
<text x="1537.7" y="1905.3" text-anchor="middle" font-family="'DejaVu Sans', 'Liberation Sans', sans-serif" font-size="17.2">0.5</text>
<line x1="1622.4" y1="1885.7" x2="1622.4" y2="1889.2" stroke="#222" stroke-width="1"/>
<text x="1622.4" y="1905.3" text-anchor="middle" font-family="'DejaVu Sans', 'Liberation Sans', sans-serif" font-size="17.2">0.6</text>
<line x1="1707.1" y1="1885.7" x2="1707.1" y2="1889.2" stroke="#222" stroke-width="1"/>
<text x="1707.1" y="1905.3" text-anchor="middle" font-family="'DejaVu Sans', 'Liberation Sans', sans-serif" font-size="17.2">0.7</text>
<line x1="1791.8" y1="1885.7" x2="1791.8" y2="1889.2" stroke="#222" stroke-width="1"/>
<text x="1791.8" y="1905.3" text-anchor="middle" font-family="'DejaVu Sans', 'Liberation Sans', sans-serif" font-size="17.2">0.8</text>
<line x1="1279.9" y1="1885.7" x2="1283.4" y2="1885.7" stroke="#222" stroke-width="1"/>
<text x="1276.8" y="1892.6" text-anchor="end" font-family="'DejaVu Sans', 'Liberation Sans', sans-serif" font-size="17.2">0</text>
<line x1="1279.9" y1="1867.6" x2="1283.4" y2="1867.6" stroke="#222" stroke-width="1"/>
<text x="1276.8" y="1874.5" text-anchor="end" font-family="'DejaVu Sans', 'Liberation Sans', sans-serif" font-size="17.2">1</text>
<line x1="1279.9" y1="1849.1" x2="1283.4" y2="1849.1" stroke="#222" stroke-width="1"/>
<text x="1276.8" y="1856" text-anchor="end" font-family="'DejaVu Sans', 'Liberation Sans', sans-serif" font-size="17.2">2</text>
<text x="1557" y="1328.5" text-anchor="middle" font-family="'Liberation Sans', Arial, sans-serif" font-weight="bold" font-size="33.5">Round</text>
<clipPath id="c9_0"><rect x="44.7" y="1970.8" width="565.3" height="54"/></clipPath>
<clipPath id="c9_1"><rect x="44.7" y="2024.8" width="565.3" height="54"/></clipPath>
<clipPath id="c9_2"><rect x="44.7" y="2078.9" width="565.3" height="54"/></clipPath>
<clipPath id="c9_3"><rect x="44.7" y="2132.9" width="565.3" height="54"/></clipPath>
<clipPath id="c9_4"><rect x="44.7" y="2186.9" width="565.3" height="54"/></clipPath>
<clipPath id="c9_5"><rect x="44.7" y="2240.9" width="565.3" height="54"/></clipPath>
<clipPath id="c9_6"><rect x="44.7" y="2295" width="565.3" height="54"/></clipPath>
<clipPath id="c9_7"><rect x="44.7" y="2349" width="565.3" height="54"/></clipPath>
<clipPath id="c9_8"><rect x="44.7" y="2403" width="565.3" height="54"/></clipPath>
<clipPath id="c9_9"><rect x="44.7" y="2457.1" width="565.3" height="54"/></clipPath>
<defs><path id="r9" d="M44.7,2024.8 L50.7,2024.8 L56.6,2024.8 L62.6,2024.8 L68.5,2024.8 L74.5,2024.8 L80.4,2024.8 L86.4,2024.8 L92.3,2024.8 L98.3,2024.8 L104.2,2024.8 L110.2,2024.8 L116.1,2024.8 L122.1,2024.8 L128,2024.8 L134,2024.8 L139.9,2024.8 L145.9,2024.8 L151.8,2024.8 L157.8,2024.8 L163.7,2024.8 L169.7,2024.8 L175.6,2024.8 L181.6,2024.8 L187.5,2024.8 L193.5,2024.8 L199.4,2024.8 L205.4,2024.8 L211.3,2024.8 L217.3,2024.8 L223.2,2024.8 L229.2,2024.8 L235.1,2024.8 L241.1,2024.8 L247,2024.8 L253,2024.8 L258.9,2024.8 L264.9,2024.8 L270.8,2024.8 L276.8,2024.8 L282.7,2024.8 L288.7,2024.7 L294.6,2024.7 L300.6,2024.7 L306.5,2024.7 L312.5,2024.6 L318.4,2024.6 L324.4,2024.6 L330.3,2024.5 L336.3,2024.4 L342.2,2024.3 L348.2,2024.3 L354.1,2024.1 L360.1,2024 L366,2023.7 L372,2023.6 L377.9,2023.4 L383.9,2023 L389.8,2022.8 L395.8,2022.5 L401.7,2022.1 L407.7,2021.6 L413.6,2020.9 L419.6,2020.3 L425.5,2019.4 L431.5,2018.6 L437.4,2017.7 L443.4,2016.8 L449.3,2015.5 L455.3,2014.6 L461.2,2012.2 L467.2,2010.9 L473.1,2009.8 L479.1,2006.9 L485,2005.9 L491,2002.3 L496.9,2001.1 L502.9,1998.3 L508.8,1996.6 L514.8,1994.2 L520.7,1991.2 L526.7,1987.2 L532.6,1987.7 L538.6,1986 L544.5,1981.3 L550.5,1984.1 L556.4,1985.3 L562.4,1990.4 L568.3,1995.1 L574.3,2002.2 L580.2,2008.9 L586.2,2014.1 L592.1,2017.6 L598.1,2020.4 L604,2022.2 L610,2023.6 L610,2024.8 L44.7,2024.8 Z"/></defs>
<g clip-path="url(#c9_0)"><use href="#r9" transform="translate(0,0)" fill="#7f7f7f" stroke="#000" stroke-width="1.6" stroke-linejoin="round"/><path d="M44.7,2024.8 L50.7,2024.8 L56.6,2024.8 L62.6,2024.8 L68.5,2024.8 L74.5,2024.8 L80.4,2024.8 L86.4,2024.8 L92.3,2024.8 L98.3,2024.8 L104.2,2024.8 L110.2,2024.8 L116.1,2024.8 L122.1,2024.8 L128,2024.8 L134,2024.8 L139.9,2024.8 L145.9,2024.8 L151.8,2024.8 L157.8,2024.8 L163.7,2024.8 L169.7,2024.8 L175.6,2024.8 L181.6,2024.8 L187.5,2024.8 L193.5,2024.8 L199.4,2024.8 L205.4,2024.8 L211.3,2024.8 L217.3,2024.8 L223.2,2024.8 L229.2,2024.8 L235.1,2024.8 L241.1,2024.8 L247,2024.8 L253,2024.8 L258.9,2024.7 L264.9,2024.7 L270.8,2024.7 L276.8,2024.7 L282.7,2024.7 L288.7,2024.6 L294.6,2024.6 L300.6,2024.6 L306.5,2024.5 L312.5,2024.5 L318.4,2024.4 L324.4,2024.4 L330.3,2024.3 L336.3,2024.2 L342.2,2024.2 L348.2,2024 L354.1,2024 L360.1,2023.7 L366,2023.6 L372,2023.4 L377.9,2023.3 L383.9,2023.1 L389.8,2022.9 L395.8,2022.5 L401.7,2022.3 L407.7,2021.7 L413.6,2021.4 L419.6,2020.9 L425.5,2020.7 L431.5,2019.7 L437.4,2019.2 L443.4,2018.9 L449.3,2017.8 L455.3,2017.1 L461.2,2016.3 L467.2,2015 L473.1,2013.5 L479.1,2012.9 L485,2011.1 L491,2009.5 L496.9,2009 L502.9,2007.3 L508.8,2005.2 L514.8,2003.8 L520.7,2001 L526.7,1998 L532.6,1996.5 L538.6,1996.3 L544.5,1991.2 L550.5,1990.7 L556.4,1988.6 L562.4,1987.6 L568.3,1985.6 L574.3,1988.5 L580.2,1992.7 L586.2,2000.6 L592.1,2007.7 L598.1,2013.6 L604,2018.6 L610,2021.3 L610,2024.8 L44.7,2024.8 Z" fill="#8c564b" fill-opacity="0.5" stroke="#fff" stroke-width="1.6" stroke-linejoin="round" stroke-opacity="0.95"/></g>
<rect x="52.7" y="1980" width="102" height="31" rx="4" fill="#fff" fill-opacity="0.8" stroke="#d6d6d6" stroke-width="1"/>
<rect x="59.3" y="1988.7" width="36" height="12.4" fill="#c6aaa5" stroke="#8c564b" stroke-opacity="0.5" stroke-width="1"/>
<text x="109" y="2000.2" font-family="'DejaVu Sans', 'Liberation Sans', sans-serif" font-size="17.5">0.83</text>
<g clip-path="url(#c9_1)"><use href="#r9" transform="translate(0,54)" fill="#7f7f7f" stroke="#000" stroke-width="1.6" stroke-linejoin="round"/><path d="M44.7,2078.9 L50.7,2078.9 L56.6,2078.9 L62.6,2078.9 L68.5,2078.9 L74.5,2078.9 L80.4,2078.9 L86.4,2078.9 L92.3,2078.9 L98.3,2078.9 L104.2,2078.9 L110.2,2078.9 L116.1,2078.9 L122.1,2078.9 L128,2078.9 L134,2078.9 L139.9,2078.9 L145.9,2078.9 L151.8,2078.9 L157.8,2078.9 L163.7,2078.9 L169.7,2078.9 L175.6,2078.9 L181.6,2078.9 L187.5,2078.9 L193.5,2078.9 L199.4,2078.9 L205.4,2078.9 L211.3,2078.9 L217.3,2078.9 L223.2,2078.9 L229.2,2078.9 L235.1,2078.9 L241.1,2078.9 L247,2078.9 L253,2078.9 L258.9,2078.9 L264.9,2078.9 L270.8,2078.9 L276.8,2078.9 L282.7,2078.9 L288.7,2078.9 L294.6,2078.9 L300.6,2078.8 L306.5,2078.8 L312.5,2078.8 L318.4,2078.8 L324.4,2078.8 L330.3,2078.8 L336.3,2078.8 L342.2,2078.8 L348.2,2078.8 L354.1,2078.8 L360.1,2078.7 L366,2078.7 L372,2078.7 L377.9,2078.6 L383.9,2078.6 L389.8,2078.5 L395.8,2078.4 L401.7,2078.3 L407.7,2078.1 L413.6,2078 L419.6,2077.7 L425.5,2077.5 L431.5,2077.1 L437.4,2076.8 L443.4,2076.5 L449.3,2075.8 L455.3,2075.2 L461.2,2074.4 L467.2,2073.5 L473.1,2072.6 L479.1,2071.2 L485,2070 L491,2068.5 L496.9,2066 L502.9,2064.2 L508.8,2061.6 L514.8,2058.3 L520.7,2055.7 L526.7,2051.9 L532.6,2047 L538.6,2043.2 L544.5,2040.2 L550.5,2033.8 L556.4,2028.7 L562.4,2024.3 L568.3,2024.6 L574.3,2025.8 L580.2,2026.1 L586.2,2034.3 L592.1,2045.1 L598.1,2058.3 L604,2067.4 L610,2073.9 L610,2078.9 L44.7,2078.9 Z" fill="#2ca02c" fill-opacity="0.5" stroke="#fff" stroke-width="1.6" stroke-linejoin="round" stroke-opacity="0.95"/></g>
<rect x="52.7" y="2034" width="102" height="31" rx="4" fill="#fff" fill-opacity="0.8" stroke="#d6d6d6" stroke-width="1"/>
<rect x="59.3" y="2042.7" width="36" height="12.4" fill="#96d096" stroke="#2ca02c" stroke-opacity="0.5" stroke-width="1"/>
<text x="109" y="2054.2" font-family="'DejaVu Sans', 'Liberation Sans', sans-serif" font-size="17.5">0.74</text>
<g clip-path="url(#c9_2)"><use href="#r9" transform="translate(0,108.1)" fill="#7f7f7f" stroke="#000" stroke-width="1.6" stroke-linejoin="round"/><path d="M44.7,2132.9 L50.7,2132.9 L56.6,2132.9 L62.6,2132.9 L68.5,2132.9 L74.5,2132.9 L80.4,2132.9 L86.4,2132.9 L92.3,2132.9 L98.3,2132.9 L104.2,2132.9 L110.2,2132.9 L116.1,2132.9 L122.1,2132.9 L128,2132.9 L134,2132.9 L139.9,2132.9 L145.9,2132.9 L151.8,2132.9 L157.8,2132.9 L163.7,2132.9 L169.7,2132.9 L175.6,2132.9 L181.6,2132.9 L187.5,2132.9 L193.5,2132.9 L199.4,2132.9 L205.4,2132.9 L211.3,2132.9 L217.3,2132.9 L223.2,2132.9 L229.2,2132.9 L235.1,2132.9 L241.1,2132.8 L247,2132.8 L253,2132.8 L258.9,2132.8 L264.9,2132.8 L270.8,2132.8 L276.8,2132.8 L282.7,2132.8 L288.7,2132.7 L294.6,2132.7 L300.6,2132.7 L306.5,2132.6 L312.5,2132.6 L318.4,2132.5 L324.4,2132.5 L330.3,2132.4 L336.3,2132.3 L342.2,2132.3 L348.2,2132 L354.1,2131.9 L360.1,2131.9 L366,2131.7 L372,2131.5 L377.9,2131.2 L383.9,2130.9 L389.8,2130.6 L395.8,2130.4 L401.7,2130.1 L407.7,2129.3 L413.6,2129.1 L419.6,2128.2 L425.5,2128.1 L431.5,2127.2 L437.4,2126 L443.4,2125.4 L449.3,2124 L455.3,2122.8 L461.2,2122.1 L467.2,2120.6 L473.1,2119.5 L479.1,2118.1 L485,2116.1 L491,2114.5 L496.9,2113 L502.9,2110.7 L508.8,2106.9 L514.8,2105.5 L520.7,2103.7 L526.7,2101.1 L532.6,2098.9 L538.6,2096.4 L544.5,2097.6 L550.5,2099.1 L556.4,2097.3 L562.4,2099.8 L568.3,2102.9 L574.3,2107.4 L580.2,2112.6 L586.2,2117.5 L592.1,2122.6 L598.1,2126.7 L604,2129.1 L610,2130.6 L610,2132.9 L44.7,2132.9 Z" fill="#1f77b4" fill-opacity="0.5" stroke="#fff" stroke-width="1.6" stroke-linejoin="round" stroke-opacity="0.95"/></g>
<rect x="52.7" y="2088.1" width="102" height="31" rx="4" fill="#fff" fill-opacity="0.8" stroke="#d6d6d6" stroke-width="1"/>
<rect x="59.3" y="2096.8" width="36" height="12.4" fill="#8fbbda" stroke="#1f77b4" stroke-opacity="0.5" stroke-width="1"/>
<text x="109" y="2108.3" font-family="'DejaVu Sans', 'Liberation Sans', sans-serif" font-size="17.5">0.94</text>
<g clip-path="url(#c9_3)"><use href="#r9" transform="translate(0,162.1)" fill="#7f7f7f" stroke="#000" stroke-width="1.6" stroke-linejoin="round"/><path d="M44.7,2186.9 L50.7,2186.9 L56.6,2186.9 L62.6,2186.9 L68.5,2186.9 L74.5,2186.9 L80.4,2186.9 L86.4,2186.9 L92.3,2186.9 L98.3,2186.9 L104.2,2186.9 L110.2,2186.9 L116.1,2186.9 L122.1,2186.9 L128,2186.9 L134,2186.9 L139.9,2186.9 L145.9,2186.9 L151.8,2186.9 L157.8,2186.9 L163.7,2186.9 L169.7,2186.9 L175.6,2186.9 L181.6,2186.9 L187.5,2186.9 L193.5,2186.9 L199.4,2186.9 L205.4,2186.9 L211.3,2186.9 L217.3,2186.9 L223.2,2186.9 L229.2,2186.9 L235.1,2186.9 L241.1,2186.9 L247,2186.9 L253,2186.9 L258.9,2186.9 L264.9,2186.9 L270.8,2186.9 L276.8,2186.9 L282.7,2186.9 L288.7,2186.8 L294.6,2186.8 L300.6,2186.8 L306.5,2186.8 L312.5,2186.8 L318.4,2186.7 L324.4,2186.7 L330.3,2186.7 L336.3,2186.6 L342.2,2186.5 L348.2,2186.5 L354.1,2186.4 L360.1,2186.2 L366,2186.2 L372,2186 L377.9,2185.8 L383.9,2185.7 L389.8,2185.5 L395.8,2185.2 L401.7,2185 L407.7,2184.8 L413.6,2184.3 L419.6,2184 L425.5,2183.7 L431.5,2183 L437.4,2182.2 L443.4,2181.5 L449.3,2180.6 L455.3,2179.9 L461.2,2178.7 L467.2,2177.8 L473.1,2176 L479.1,2175 L485,2173.6 L491,2172.4 L496.9,2169.4 L502.9,2167.2 L508.8,2165.1 L514.8,2162.3 L520.7,2161.6 L526.7,2158.6 L532.6,2156.2 L538.6,2152.8 L544.5,2148.8 L550.5,2145.8 L556.4,2144.9 L562.4,2144.7 L568.3,2143.6 L574.3,2149 L580.2,2153.3 L586.2,2162.8 L592.1,2170.3 L598.1,2175.7 L604,2180.9 L610,2184.1 L610,2186.9 L44.7,2186.9 Z" fill="#bcbd22" fill-opacity="0.5" stroke="#fff" stroke-width="1.6" stroke-linejoin="round" stroke-opacity="0.95"/></g>
<rect x="52.7" y="2142.1" width="102" height="31" rx="4" fill="#fff" fill-opacity="0.8" stroke="#d6d6d6" stroke-width="1"/>
<rect x="59.3" y="2150.8" width="36" height="12.4" fill="#dede90" stroke="#bcbd22" stroke-opacity="0.5" stroke-width="1"/>
<text x="109" y="2162.3" font-family="'DejaVu Sans', 'Liberation Sans', sans-serif" font-size="17.5">0.87</text>
<g clip-path="url(#c9_4)"><use href="#r9" transform="translate(0,216.1)" fill="#7f7f7f" stroke="#000" stroke-width="1.6" stroke-linejoin="round"/><path d="M44.7,2240.9 L50.7,2240.9 L56.6,2240.9 L62.6,2240.9 L68.5,2240.9 L74.5,2240.9 L80.4,2240.9 L86.4,2240.9 L92.3,2240.9 L98.3,2240.9 L104.2,2240.9 L110.2,2240.9 L116.1,2240.9 L122.1,2240.9 L128,2240.9 L134,2240.9 L139.9,2240.9 L145.9,2240.9 L151.8,2240.9 L157.8,2240.9 L163.7,2240.9 L169.7,2240.9 L175.6,2240.9 L181.6,2240.9 L187.5,2240.9 L193.5,2240.9 L199.4,2240.9 L205.4,2240.9 L211.3,2240.9 L217.3,2240.9 L223.2,2240.9 L229.2,2240.9 L235.1,2240.9 L241.1,2240.9 L247,2240.9 L253,2240.9 L258.9,2240.9 L264.9,2240.9 L270.8,2240.9 L276.8,2240.9 L282.7,2240.9 L288.7,2240.9 L294.6,2240.8 L300.6,2240.8 L306.5,2240.8 L312.5,2240.8 L318.4,2240.7 L324.4,2240.7 L330.3,2240.6 L336.3,2240.6 L342.2,2240.5 L348.2,2240.4 L354.1,2240.3 L360.1,2240.2 L366,2240.2 L372,2239.9 L377.9,2239.8 L383.9,2239.7 L389.8,2239.5 L395.8,2239.1 L401.7,2238.7 L407.7,2238.2 L413.6,2237.9 L419.6,2237.7 L425.5,2236.9 L431.5,2236.1 L437.4,2235.4 L443.4,2234.6 L449.3,2233.5 L455.3,2232.4 L461.2,2231.5 L467.2,2230.6 L473.1,2228 L479.1,2226.7 L485,2224.4 L491,2222.7 L496.9,2221.9 L502.9,2218.2 L508.8,2215.2 L514.8,2212.2 L520.7,2210.1 L526.7,2208.8 L532.6,2203 L538.6,2201.8 L544.5,2199.1 L550.5,2195.9 L556.4,2197.7 L562.4,2196.4 L568.3,2201 L574.3,2206.8 L580.2,2212.6 L586.2,2218.9 L592.1,2227 L598.1,2231.9 L604,2235.6 L610,2238 L610,2241 L44.7,2241 Z" fill="#e377c2" fill-opacity="0.5" stroke="#fff" stroke-width="1.6" stroke-linejoin="round" stroke-opacity="0.95"/></g>
<rect x="52.7" y="2196.1" width="102" height="31" rx="4" fill="#fff" fill-opacity="0.8" stroke="#d6d6d6" stroke-width="1"/>
<rect x="59.3" y="2204.8" width="36" height="12.4" fill="#f1bbe0" stroke="#e377c2" stroke-opacity="0.5" stroke-width="1"/>
<text x="109" y="2216.3" font-family="'DejaVu Sans', 'Liberation Sans', sans-serif" font-size="17.5">0.90</text>
<g clip-path="url(#c9_5)"><use href="#r9" transform="translate(0,270.1)" fill="#7f7f7f" stroke="#000" stroke-width="1.6" stroke-linejoin="round"/><path d="M44.7,2295 L50.7,2295 L56.6,2295 L62.6,2295 L68.5,2295 L74.5,2295 L80.4,2295 L86.4,2295 L92.3,2295 L98.3,2295 L104.2,2295 L110.2,2295 L116.1,2295 L122.1,2295 L128,2295 L134,2295 L139.9,2295 L145.9,2295 L151.8,2295 L157.8,2295 L163.7,2295 L169.7,2295 L175.6,2295 L181.6,2295 L187.5,2295 L193.5,2295 L199.4,2295 L205.4,2295 L211.3,2295 L217.3,2295 L223.2,2295 L229.2,2295 L235.1,2295 L241.1,2295 L247,2295 L253,2295 L258.9,2295 L264.9,2295 L270.8,2295 L276.8,2295 L282.7,2294.9 L288.7,2294.9 L294.6,2294.9 L300.6,2294.9 L306.5,2294.9 L312.5,2294.9 L318.4,2294.9 L324.4,2294.9 L330.3,2294.8 L336.3,2294.8 L342.2,2294.8 L348.2,2294.7 L354.1,2294.7 L360.1,2294.6 L366,2294.5 L372,2294.4 L377.9,2294.3 L383.9,2294.2 L389.8,2294 L395.8,2293.8 L401.7,2293.7 L407.7,2293.2 L413.6,2293 L419.6,2292.6 L425.5,2292 L431.5,2291.8 L437.4,2291.2 L443.4,2290.4 L449.3,2289.7 L455.3,2288.5 L461.2,2288.1 L467.2,2286.5 L473.1,2285 L479.1,2284.5 L485,2282.3 L491,2280.2 L496.9,2279.1 L502.9,2276.1 L508.8,2273 L514.8,2270.1 L520.7,2267.9 L526.7,2265.2 L532.6,2261.7 L538.6,2256.2 L544.5,2254.8 L550.5,2249.6 L556.4,2245.4 L562.4,2246.4 L568.3,2246.1 L574.3,2246.4 L580.2,2247.4 L586.2,2255.1 L592.1,2265 L598.1,2275.3 L604,2283.3 L610,2288.7 L610,2295 L44.7,2295 Z" fill="#d62728" fill-opacity="0.5" stroke="#fff" stroke-width="1.6" stroke-linejoin="round" stroke-opacity="0.95"/></g>
<rect x="52.7" y="2250.1" width="102" height="31" rx="4" fill="#fff" fill-opacity="0.8" stroke="#d6d6d6" stroke-width="1"/>
<rect x="59.3" y="2258.8" width="36" height="12.4" fill="#ea9394" stroke="#d62728" stroke-opacity="0.5" stroke-width="1"/>
<text x="109" y="2270.3" font-family="'DejaVu Sans', 'Liberation Sans', sans-serif" font-size="17.5">0.79</text>
<g clip-path="url(#c9_6)"><use href="#r9" transform="translate(0,324.2)" fill="#7f7f7f" stroke="#000" stroke-width="1.6" stroke-linejoin="round"/><path d="M44.7,2349 L50.7,2349 L56.6,2349 L62.6,2349 L68.5,2349 L74.5,2349 L80.4,2349 L86.4,2349 L92.3,2349 L98.3,2349 L104.2,2349 L110.2,2349 L116.1,2349 L122.1,2349 L128,2349 L134,2349 L139.9,2349 L145.9,2349 L151.8,2349 L157.8,2349 L163.7,2349 L169.7,2349 L175.6,2349 L181.6,2349 L187.5,2349 L193.5,2349 L199.4,2349 L205.4,2349 L211.3,2349 L217.3,2349 L223.2,2349 L229.2,2349 L235.1,2349 L241.1,2349 L247,2348.9 L253,2348.9 L258.9,2348.9 L264.9,2348.9 L270.8,2348.9 L276.8,2348.9 L282.7,2348.8 L288.7,2348.8 L294.6,2348.8 L300.6,2348.7 L306.5,2348.7 L312.5,2348.6 L318.4,2348.5 L324.4,2348.5 L330.3,2348.4 L336.3,2348.2 L342.2,2348.1 L348.2,2348 L354.1,2347.8 L360.1,2347.7 L366,2347.5 L372,2347.2 L377.9,2346.9 L383.9,2346.6 L389.8,2346.1 L395.8,2345.7 L401.7,2345.5 L407.7,2344.8 L413.6,2344.3 L419.6,2343.8 L425.5,2342.7 L431.5,2342.1 L437.4,2340.9 L443.4,2340.5 L449.3,2339.2 L455.3,2337.7 L461.2,2336 L467.2,2335 L473.1,2333.8 L479.1,2331.7 L485,2328.6 L491,2328.3 L496.9,2324.8 L502.9,2322.6 L508.8,2320.5 L514.8,2318.8 L520.7,2316.5 L526.7,2312.8 L532.6,2311.6 L538.6,2311.4 L544.5,2309.8 L550.5,2312.6 L556.4,2318.5 L562.4,2323.9 L568.3,2330 L574.3,2336.2 L580.2,2341 L586.2,2343.7 L592.1,2346.1 L598.1,2347.4 L604,2348.2 L610,2348.6 L610,2349 L44.7,2349 Z" fill="#ff7f0e" fill-opacity="0.5" stroke="#fff" stroke-width="1.6" stroke-linejoin="round" stroke-opacity="0.95"/></g>
<rect x="52.7" y="2304.2" width="102" height="31" rx="4" fill="#fff" fill-opacity="0.8" stroke="#d6d6d6" stroke-width="1"/>
<rect x="59.3" y="2312.9" width="36" height="12.4" fill="#ffbf86" stroke="#ff7f0e" stroke-opacity="0.5" stroke-width="1"/>
<text x="109" y="2324.4" font-family="'DejaVu Sans', 'Liberation Sans', sans-serif" font-size="17.5">0.92</text>
<g clip-path="url(#c9_7)"><use href="#r9" transform="translate(0,378.2)" fill="#7f7f7f" stroke="#000" stroke-width="1.6" stroke-linejoin="round"/><path d="M44.7,2403 L50.7,2403 L56.6,2403 L62.6,2403 L68.5,2403 L74.5,2403 L80.4,2403 L86.4,2403 L92.3,2403 L98.3,2403 L104.2,2403 L110.2,2403 L116.1,2403 L122.1,2403 L128,2403 L134,2403 L139.9,2403 L145.9,2403 L151.8,2403 L157.8,2403 L163.7,2403 L169.7,2403 L175.6,2403 L181.6,2403 L187.5,2403 L193.5,2403 L199.4,2403 L205.4,2403 L211.3,2403 L217.3,2403 L223.2,2403 L229.2,2403 L235.1,2403 L241.1,2403 L247,2403 L253,2403 L258.9,2403 L264.9,2403 L270.8,2402.9 L276.8,2402.9 L282.7,2402.9 L288.7,2402.9 L294.6,2402.8 L300.6,2402.8 L306.5,2402.8 L312.5,2402.7 L318.4,2402.7 L324.4,2402.6 L330.3,2402.5 L336.3,2402.4 L342.2,2402.3 L348.2,2402.3 L354.1,2402.1 L360.1,2401.8 L366,2401.6 L372,2401.5 L377.9,2401.2 L383.9,2401 L389.8,2400.7 L395.8,2400.1 L401.7,2399.8 L407.7,2399.5 L413.6,2398.9 L419.6,2398.2 L425.5,2397.7 L431.5,2396.6 L437.4,2396.3 L443.4,2395.1 L449.3,2393.7 L455.3,2393.5 L461.2,2391.7 L467.2,2390.4 L473.1,2388.1 L479.1,2387.3 L485,2384.8 L491,2382.6 L496.9,2382 L502.9,2380.3 L508.8,2377.6 L514.8,2375 L520.7,2372.5 L526.7,2370.1 L532.6,2369.2 L538.6,2366.8 L544.5,2365.8 L550.5,2367.2 L556.4,2367.8 L562.4,2370.3 L568.3,2375.6 L574.3,2381.6 L580.2,2388.5 L586.2,2393 L592.1,2397 L598.1,2399.8 L604,2401.4 L610,2402.2 L610,2403 L44.7,2403 Z" fill="#17becf" fill-opacity="0.5" stroke="#fff" stroke-width="1.6" stroke-linejoin="round" stroke-opacity="0.95"/></g>
<rect x="52.7" y="2358.2" width="102" height="31" rx="4" fill="#fff" fill-opacity="0.8" stroke="#d6d6d6" stroke-width="1"/>
<rect x="59.3" y="2366.9" width="36" height="12.4" fill="#8bdee7" stroke="#17becf" stroke-opacity="0.5" stroke-width="1"/>
<text x="109" y="2378.4" font-family="'DejaVu Sans', 'Liberation Sans', sans-serif" font-size="17.5">0.93</text>
<g clip-path="url(#c9_8)"><use href="#r9" transform="translate(0,432.2)" fill="#7f7f7f" stroke="#000" stroke-width="1.6" stroke-linejoin="round"/><path d="M44.7,2457.1 L50.7,2457.1 L56.6,2457.1 L62.6,2457.1 L68.5,2457.1 L74.5,2457.1 L80.4,2457.1 L86.4,2457.1 L92.3,2457.1 L98.3,2457.1 L104.2,2457.1 L110.2,2457.1 L116.1,2457.1 L122.1,2457.1 L128,2457.1 L134,2457.1 L139.9,2457.1 L145.9,2457.1 L151.8,2457.1 L157.8,2457.1 L163.7,2457.1 L169.7,2457.1 L175.6,2457.1 L181.6,2457.1 L187.5,2457.1 L193.5,2457.1 L199.4,2457 L205.4,2457 L211.3,2457 L217.3,2457 L223.2,2457 L229.2,2457 L235.1,2457 L241.1,2457 L247,2456.9 L253,2456.9 L258.9,2456.9 L264.9,2456.8 L270.8,2456.8 L276.8,2456.7 L282.7,2456.6 L288.7,2456.6 L294.6,2456.5 L300.6,2456.3 L306.5,2456.2 L312.5,2456.2 L318.4,2455.9 L324.4,2455.7 L330.3,2455.5 L336.3,2455.3 L342.2,2455 L348.2,2454.9 L354.1,2454.4 L360.1,2454.1 L366,2453.5 L372,2453.5 L377.9,2453.1 L383.9,2452.2 L389.8,2451.8 L395.8,2451.6 L401.7,2451.2 L407.7,2450.7 L413.6,2450.2 L419.6,2449.6 L425.5,2449.2 L431.5,2448.9 L437.4,2448.4 L443.4,2447.9 L449.3,2447.6 L455.3,2446.5 L461.2,2446.3 L467.2,2446.3 L473.1,2444.9 L479.1,2444.4 L485,2443.9 L491,2443.1 L496.9,2442 L502.9,2441.1 L508.8,2438.1 L514.8,2437.1 L520.7,2433.8 L526.7,2430.7 L532.6,2427.4 L538.6,2423.9 L544.5,2418 L550.5,2417 L556.4,2413.3 L562.4,2412.7 L568.3,2411.9 L574.3,2411.8 L580.2,2416.4 L586.2,2422.1 L592.1,2430.4 L598.1,2436.8 L604,2444.8 L610,2449.5 L610,2457.1 L44.7,2457.1 Z" fill="#7f7f7f" fill-opacity="0.5" stroke="#fff" stroke-width="1.6" stroke-linejoin="round" stroke-opacity="0.95"/></g>
<rect x="52.7" y="2412.2" width="102" height="31" rx="4" fill="#fff" fill-opacity="0.8" stroke="#d6d6d6" stroke-width="1"/>
<rect x="59.3" y="2420.9" width="36" height="12.4" fill="#bfbfbf" stroke="#7f7f7f" stroke-opacity="0.5" stroke-width="1"/>
<text x="109" y="2432.4" font-family="'DejaVu Sans', 'Liberation Sans', sans-serif" font-size="17.5">0.73</text>
<g clip-path="url(#c9_9)"><use href="#r9" transform="translate(0,486.3)" fill="#7f7f7f" stroke="#000" stroke-width="1.6" stroke-linejoin="round"/><path d="M44.7,2511.1 L50.7,2511.1 L56.6,2511.1 L62.6,2511.1 L68.5,2511.1 L74.5,2511.1 L80.4,2511.1 L86.4,2511.1 L92.3,2511.1 L98.3,2511.1 L104.2,2511.1 L110.2,2511.1 L116.1,2511.1 L122.1,2511.1 L128,2511.1 L134,2511.1 L139.9,2511.1 L145.9,2511.1 L151.8,2511.1 L157.8,2511.1 L163.7,2511.1 L169.7,2511.1 L175.6,2511.1 L181.6,2511.1 L187.5,2511.1 L193.5,2511.1 L199.4,2511.1 L205.4,2511.1 L211.3,2511.1 L217.3,2511.1 L223.2,2511.1 L229.2,2511.1 L235.1,2511.1 L241.1,2511 L247,2511 L253,2511 L258.9,2511 L264.9,2511 L270.8,2510.9 L276.8,2510.9 L282.7,2510.8 L288.7,2510.8 L294.6,2510.7 L300.6,2510.6 L306.5,2510.5 L312.5,2510.4 L318.4,2510.2 L324.4,2510.1 L330.3,2509.9 L336.3,2509.8 L342.2,2509.5 L348.2,2509.2 L354.1,2508.8 L360.1,2508.6 L366,2508.4 L372,2507.9 L377.9,2507.6 L383.9,2507.2 L389.8,2506.8 L395.8,2506.2 L401.7,2505.5 L407.7,2505.2 L413.6,2504.6 L419.6,2504.4 L425.5,2504.1 L431.5,2503.2 L437.4,2502.5 L443.4,2502.3 L449.3,2501.9 L455.3,2501.8 L461.2,2500.9 L467.2,2501 L473.1,2500.7 L479.1,2500.1 L485,2499.7 L491,2500.2 L496.9,2498.6 L502.9,2498.2 L508.8,2495.8 L514.8,2494.6 L520.7,2490.9 L526.7,2487.3 L532.6,2482.6 L538.6,2479.5 L544.5,2476.6 L550.5,2471.5 L556.4,2468.4 L562.4,2467.3 L568.3,2467.3 L574.3,2470.1 L580.2,2469.7 L586.2,2473.2 L592.1,2480.4 L598.1,2488.2 L604,2495 L610,2500.4 L610,2511.1 L44.7,2511.1 Z" fill="#9467bd" fill-opacity="0.5" stroke="#fff" stroke-width="1.6" stroke-linejoin="round" stroke-opacity="0.95"/></g>
<rect x="52.7" y="2466.3" width="102" height="31" rx="4" fill="#fff" fill-opacity="0.8" stroke="#d6d6d6" stroke-width="1"/>
<rect x="59.3" y="2475" width="36" height="12.4" fill="#cab3de" stroke="#9467bd" stroke-opacity="0.5" stroke-width="1"/>
<text x="109" y="2486.5" font-family="'DejaVu Sans', 'Liberation Sans', sans-serif" font-size="17.5">0.76</text>
<line x1="44.7" y1="2024.8" x2="610" y2="2024.8" stroke="#222" stroke-width="1.5"/>
<line x1="44.7" y1="2078.9" x2="610" y2="2078.9" stroke="#222" stroke-width="1.5"/>
<line x1="44.7" y1="2132.9" x2="610" y2="2132.9" stroke="#222" stroke-width="1.5"/>
<line x1="44.7" y1="2186.9" x2="610" y2="2186.9" stroke="#222" stroke-width="1.5"/>
<line x1="44.7" y1="2240.9" x2="610" y2="2240.9" stroke="#222" stroke-width="1.5"/>
<line x1="44.7" y1="2295" x2="610" y2="2295" stroke="#222" stroke-width="1.5"/>
<line x1="44.7" y1="2349" x2="610" y2="2349" stroke="#222" stroke-width="1.5"/>
<line x1="44.7" y1="2403" x2="610" y2="2403" stroke="#222" stroke-width="1.5"/>
<line x1="44.7" y1="2457.1" x2="610" y2="2457.1" stroke="#222" stroke-width="1.5"/>
<rect x="44.7" y="1970.8" width="565.3" height="540.3" fill="none" stroke="#222" stroke-width="1.3"/>
<line x1="55.2" y1="2511.1" x2="55.2" y2="2514.6" stroke="#222" stroke-width="1"/>
<text x="55.2" y="2530.7" text-anchor="middle" font-family="'DejaVu Sans', 'Liberation Sans', sans-serif" font-size="17.2">0.86</text>
<line x1="143.7" y1="2511.1" x2="143.7" y2="2514.6" stroke="#222" stroke-width="1"/>
<text x="143.7" y="2530.7" text-anchor="middle" font-family="'DejaVu Sans', 'Liberation Sans', sans-serif" font-size="17.2">0.88</text>
<line x1="232.2" y1="2511.1" x2="232.2" y2="2514.6" stroke="#222" stroke-width="1"/>
<text x="232.2" y="2530.7" text-anchor="middle" font-family="'DejaVu Sans', 'Liberation Sans', sans-serif" font-size="17.2">0.90</text>
<line x1="320.7" y1="2511.1" x2="320.7" y2="2514.6" stroke="#222" stroke-width="1"/>
<text x="320.7" y="2530.7" text-anchor="middle" font-family="'DejaVu Sans', 'Liberation Sans', sans-serif" font-size="17.2">0.92</text>
<line x1="409.2" y1="2511.1" x2="409.2" y2="2514.6" stroke="#222" stroke-width="1"/>
<text x="409.2" y="2530.7" text-anchor="middle" font-family="'DejaVu Sans', 'Liberation Sans', sans-serif" font-size="17.2">0.94</text>
<line x1="497.7" y1="2511.1" x2="497.7" y2="2514.6" stroke="#222" stroke-width="1"/>
<text x="497.7" y="2530.7" text-anchor="middle" font-family="'DejaVu Sans', 'Liberation Sans', sans-serif" font-size="17.2">0.96</text>
<line x1="586.2" y1="2511.1" x2="586.2" y2="2514.6" stroke="#222" stroke-width="1"/>
<text x="586.2" y="2530.7" text-anchor="middle" font-family="'DejaVu Sans', 'Liberation Sans', sans-serif" font-size="17.2">0.98</text>
<line x1="41.2" y1="2511.1" x2="44.7" y2="2511.1" stroke="#222" stroke-width="1"/>
<text x="38.1" y="2518" text-anchor="end" font-family="'DejaVu Sans', 'Liberation Sans', sans-serif" font-size="17.2">0</text>
<line x1="41.2" y1="2492.2" x2="44.7" y2="2492.2" stroke="#222" stroke-width="1"/>
<text x="38.1" y="2499.1" text-anchor="end" font-family="'DejaVu Sans', 'Liberation Sans', sans-serif" font-size="17.2">2</text>
<line x1="41.2" y1="2473.3" x2="44.7" y2="2473.3" stroke="#222" stroke-width="1"/>
<text x="38.1" y="2480.2" text-anchor="end" font-family="'DejaVu Sans', 'Liberation Sans', sans-serif" font-size="17.2">5</text>
<text x="318.4" y="1953.8" text-anchor="middle" font-family="'Liberation Sans', Arial, sans-serif" font-weight="bold" font-size="33.5">Solid</text>
<line x1="839.8" y1="2366.5" x2="1246" y2="2366.5" stroke="#d9d9d9" stroke-width="1.3"/>
<text x="815.3" y="2375.9" text-anchor="end" font-family="'Liberation Sans', Arial, sans-serif" font-size="29.5">0.5</text>
<line x1="839.8" y1="2310.2" x2="1246" y2="2310.2" stroke="#d9d9d9" stroke-width="1.3"/>
<text x="815.3" y="2319.6" text-anchor="end" font-family="'Liberation Sans', Arial, sans-serif" font-size="29.5">0.6</text>
<line x1="839.8" y1="2253.8" x2="1246" y2="2253.8" stroke="#d9d9d9" stroke-width="1.3"/>
<text x="815.3" y="2263.2" text-anchor="end" font-family="'Liberation Sans', Arial, sans-serif" font-size="29.5">0.7</text>
<line x1="839.8" y1="2197.5" x2="1246" y2="2197.5" stroke="#d9d9d9" stroke-width="1.3"/>
<text x="815.3" y="2206.9" text-anchor="end" font-family="'Liberation Sans', Arial, sans-serif" font-size="29.5">0.8</text>
<line x1="839.8" y1="2141.1" x2="1246" y2="2141.1" stroke="#d9d9d9" stroke-width="1.3"/>
<text x="815.3" y="2150.5" text-anchor="end" font-family="'Liberation Sans', Arial, sans-serif" font-size="29.5">0.9</text>
<line x1="839.8" y1="2084.8" x2="1246" y2="2084.8" stroke="#d9d9d9" stroke-width="1.3"/>
<text x="815.3" y="2094.2" text-anchor="end" font-family="'Liberation Sans', Arial, sans-serif" font-size="29.5">1</text>
<line x1="860.3" y1="2161.4" x2="860.3" y2="2126.5" stroke="#555" stroke-width="1.4"/>
<line x1="856.7" y1="2126.5" x2="863.9" y2="2126.5" stroke="#555" stroke-width="1.4"/>
<rect x="852.3" y="2161.4" width="16" height="205.1" fill="#000"/>
<text transform="translate(870.5,2386) rotate(-90)" text-anchor="end" font-family="'Liberation Sans', Arial, sans-serif" font-size="28">Area</text>
<line x1="901" y1="2171.6" x2="901" y2="2128.7" stroke="#555" stroke-width="1.4"/>
<line x1="897.4" y1="2128.7" x2="904.6" y2="2128.7" stroke="#555" stroke-width="1.4"/>
<rect x="893" y="2171.6" width="16" height="194.9" fill="#000"/>
<text transform="translate(911.2,2386) rotate(-90)" text-anchor="end" font-family="'Liberation Sans', Arial, sans-serif" font-size="28">Perim</text>
<line x1="941.7" y1="2181.7" x2="941.7" y2="2128.7" stroke="#555" stroke-width="1.4"/>
<line x1="938.1" y1="2128.7" x2="945.3" y2="2128.7" stroke="#555" stroke-width="1.4"/>
<rect x="933.7" y="2181.7" width="16" height="184.8" fill="#000"/>
<text transform="translate(951.9,2386) rotate(-90)" text-anchor="end" font-family="'Liberation Sans', Arial, sans-serif" font-size="28">Major</text>
<line x1="982.5" y1="2254.9" x2="982.5" y2="2194.1" stroke="#555" stroke-width="1.4"/>
<line x1="978.9" y1="2194.1" x2="986.1" y2="2194.1" stroke="#555" stroke-width="1.4"/>
<rect x="974.5" y="2254.9" width="16" height="111.6" fill="#000"/>
<text transform="translate(992.7,2386) rotate(-90)" text-anchor="end" font-family="'Liberation Sans', Arial, sans-serif" font-size="28">Minor</text>
<line x1="1023" y1="2202" x2="1023" y2="2134.6" stroke="#555" stroke-width="1.4"/>
<line x1="1019.4" y1="2134.6" x2="1026.6" y2="2134.6" stroke="#555" stroke-width="1.4"/>
<rect x="1015" y="2202" width="16" height="164.5" fill="#000"/>
<text transform="translate(1033.2,2386) rotate(-90)" text-anchor="end" font-family="'Liberation Sans', Arial, sans-serif" font-size="28">Circ</text>
<line x1="1063.4" y1="2179.5" x2="1063.4" y2="2129.3" stroke="#555" stroke-width="1.4"/>
<line x1="1059.8" y1="2129.3" x2="1067" y2="2129.3" stroke="#555" stroke-width="1.4"/>
<rect x="1055.4" y="2179.5" width="16" height="187" fill="#000"/>
<text transform="translate(1073.6,2386) rotate(-90)" text-anchor="end" font-family="'Liberation Sans', Arial, sans-serif" font-size="28">MaxFeret</text>
<line x1="1104.3" y1="2284.8" x2="1104.3" y2="2216.6" stroke="#555" stroke-width="1.4"/>
<line x1="1100.7" y1="2216.6" x2="1107.9" y2="2216.6" stroke="#555" stroke-width="1.4"/>
<rect x="1096.3" y="2284.8" width="16" height="81.7" fill="#000"/>
<text transform="translate(1114.5,2386) rotate(-90)" text-anchor="end" font-family="'Liberation Sans', Arial, sans-serif" font-size="28">MinFeret</text>
<line x1="1144.9" y1="2205.9" x2="1144.9" y2="2134.6" stroke="#555" stroke-width="1.4"/>
<line x1="1141.3" y1="2134.6" x2="1148.5" y2="2134.6" stroke="#555" stroke-width="1.4"/>
<rect x="1136.9" y="2205.9" width="16" height="160.6" fill="#000"/>
<text transform="translate(1155.1,2386) rotate(-90)" text-anchor="end" font-family="'Liberation Sans', Arial, sans-serif" font-size="28">AR</text>
<line x1="1185.6" y1="2205.4" x2="1185.6" y2="2133.8" stroke="#555" stroke-width="1.4"/>
<line x1="1182" y1="2133.8" x2="1189.2" y2="2133.8" stroke="#555" stroke-width="1.4"/>
<rect x="1177.6" y="2205.4" width="16" height="161.1" fill="#000"/>
<text transform="translate(1195.8,2386) rotate(-90)" text-anchor="end" font-family="'Liberation Sans', Arial, sans-serif" font-size="28">Round</text>
<line x1="1226" y1="2173.8" x2="1226" y2="2129.9" stroke="#555" stroke-width="1.4"/>
<line x1="1222.4" y1="2129.9" x2="1229.6" y2="2129.9" stroke="#555" stroke-width="1.4"/>
<rect x="1218" y="2173.8" width="16" height="192.7" fill="#000"/>
<text transform="translate(1236.2,2386) rotate(-90)" text-anchor="end" font-family="'Liberation Sans', Arial, sans-serif" font-size="28">Solid</text>
<text transform="translate(763.6,2225.4) rotate(-90)" text-anchor="middle" font-family="'Liberation Sans', Arial, sans-serif" font-weight="bold" font-size="29">Similarity</text>
<text x="721.3" y="2043.9" font-family="'Liberation Sans', Arial, sans-serif" font-weight="bold" font-size="29.5">B</text>
<line x1="1407.9" y1="2406.2" x2="1814.5" y2="2406.2" stroke="#d9d9d9" stroke-width="1.3"/>
<text x="1384.5" y="2415.6" text-anchor="end" font-family="'Liberation Sans', Arial, sans-serif" font-size="29.5">0.5</text>
<line x1="1407.9" y1="2341.8" x2="1814.5" y2="2341.8" stroke="#d9d9d9" stroke-width="1.3"/>
<text x="1384.5" y="2351.2" text-anchor="end" font-family="'Liberation Sans', Arial, sans-serif" font-size="29.5">0.6</text>
<line x1="1407.9" y1="2277.4" x2="1814.5" y2="2277.4" stroke="#d9d9d9" stroke-width="1.3"/>
<text x="1384.5" y="2286.8" text-anchor="end" font-family="'Liberation Sans', Arial, sans-serif" font-size="29.5">0.7</text>
<line x1="1407.9" y1="2212.9" x2="1814.5" y2="2212.9" stroke="#d9d9d9" stroke-width="1.3"/>
<text x="1384.5" y="2222.3" text-anchor="end" font-family="'Liberation Sans', Arial, sans-serif" font-size="29.5">0.8</text>
<line x1="1407.9" y1="2148.5" x2="1814.5" y2="2148.5" stroke="#d9d9d9" stroke-width="1.3"/>
<text x="1384.5" y="2157.9" text-anchor="end" font-family="'Liberation Sans', Arial, sans-serif" font-size="29.5">0.9</text>
<line x1="1407.9" y1="2084.1" x2="1814.5" y2="2084.1" stroke="#d9d9d9" stroke-width="1.3"/>
<text x="1384.5" y="2093.5" text-anchor="end" font-family="'Liberation Sans', Arial, sans-serif" font-size="29.5">1</text>
<line x1="1429" y1="2268.3" x2="1429" y2="2232.3" stroke="#555" stroke-width="1.4"/>
<line x1="1425.4" y1="2232.3" x2="1432.6" y2="2232.3" stroke="#555" stroke-width="1.4"/>
<rect x="1422.6" y="2268.3" width="12.8" height="137.9" fill="#000"/>
<text transform="translate(1439.2,2425.1) rotate(-90)" text-anchor="end" font-family="'Liberation Sans', Arial, sans-serif" font-size="28">CPZ</text>
<line x1="1468.7" y1="2269" x2="1468.7" y2="2238.7" stroke="#555" stroke-width="1.4"/>
<line x1="1465.1" y1="2238.7" x2="1472.3" y2="2238.7" stroke="#555" stroke-width="1.4"/>
<rect x="1462.3" y="2269" width="12.8" height="137.2" fill="#000"/>
<text transform="translate(1478.9,2425.1) rotate(-90)" text-anchor="end" font-family="'Liberation Sans', Arial, sans-serif" font-size="28">CFIX</text>
<line x1="1509.8" y1="2180.7" x2="1509.8" y2="2101.5" stroke="#555" stroke-width="1.4"/>
<line x1="1506.2" y1="2101.5" x2="1513.4" y2="2101.5" stroke="#555" stroke-width="1.4"/>
<rect x="1503.4" y="2180.7" width="12.8" height="225.5" fill="#000"/>
<text transform="translate(1520,2425.1) rotate(-90)" text-anchor="end" font-family="'Liberation Sans', Arial, sans-serif" font-size="28">AMK</text>
<line x1="1550.1" y1="2180.1" x2="1550.1" y2="2145" stroke="#555" stroke-width="1.4"/>
<line x1="1546.5" y1="2145" x2="1553.7" y2="2145" stroke="#555" stroke-width="1.4"/>
<rect x="1543.7" y="2180.1" width="12.8" height="226.1" fill="#000"/>
<text transform="translate(1560.3,2425.1) rotate(-90)" text-anchor="end" font-family="'Liberation Sans', Arial, sans-serif" font-size="28">NM</text>
<line x1="1590.8" y1="2162.7" x2="1590.8" y2="2151.1" stroke="#555" stroke-width="1.4"/>
<line x1="1587.2" y1="2151.1" x2="1594.4" y2="2151.1" stroke="#555" stroke-width="1.4"/>
<rect x="1584.4" y="2162.7" width="12.8" height="243.5" fill="#000"/>
<text transform="translate(1601,2425.1) rotate(-90)" text-anchor="end" font-family="'Liberation Sans', Arial, sans-serif" font-size="28">DOXY</text>
<line x1="1631.5" y1="2252.9" x2="1631.5" y2="2202" stroke="#555" stroke-width="1.4"/>
<line x1="1627.9" y1="2202" x2="1635.1" y2="2202" stroke="#555" stroke-width="1.4"/>
<rect x="1625.1" y="2252.9" width="12.8" height="153.3" fill="#000"/>
<text transform="translate(1641.7,2425.1) rotate(-90)" text-anchor="end" font-family="'Liberation Sans', Arial, sans-serif" font-size="28">CP</text>
<line x1="1672.4" y1="2148.5" x2="1672.4" y2="2089.6" stroke="#555" stroke-width="1.4"/>
<line x1="1668.8" y1="2089.6" x2="1676" y2="2089.6" stroke="#555" stroke-width="1.4"/>
<rect x="1666" y="2148.5" width="12.8" height="257.7" fill="#000"/>
<text transform="translate(1682.6,2425.1) rotate(-90)" text-anchor="end" font-family="'Liberation Sans', Arial, sans-serif" font-size="28">AZM</text>
<line x1="1712.8" y1="2150.5" x2="1712.8" y2="2095.1" stroke="#555" stroke-width="1.4"/>
<line x1="1709.2" y1="2095.1" x2="1716.4" y2="2095.1" stroke="#555" stroke-width="1.4"/>
<rect x="1706.4" y="2150.5" width="12.8" height="255.7" fill="#000"/>
<text transform="translate(1723,2425.1) rotate(-90)" text-anchor="end" font-family="'Liberation Sans', Arial, sans-serif" font-size="28">TP</text>
<line x1="1753.5" y1="2298" x2="1753.5" y2="2198.3" stroke="#555" stroke-width="1.4"/>
<line x1="1749.9" y1="2198.3" x2="1757.1" y2="2198.3" stroke="#555" stroke-width="1.4"/>
<rect x="1747.1" y="2298" width="12.8" height="108.2" fill="#000"/>
<text transform="translate(1763.7,2425.1) rotate(-90)" text-anchor="end" font-family="'Liberation Sans', Arial, sans-serif" font-size="28">ENX</text>
<line x1="1794.5" y1="2272.9" x2="1794.5" y2="2225.8" stroke="#555" stroke-width="1.4"/>
<line x1="1790.9" y1="2225.8" x2="1798.1" y2="2225.8" stroke="#555" stroke-width="1.4"/>
<rect x="1788.1" y="2272.9" width="12.8" height="133.3" fill="#000"/>
<text transform="translate(1804.7,2425.1) rotate(-90)" text-anchor="end" font-family="'Liberation Sans', Arial, sans-serif" font-size="28">CPFX</text>
<text transform="translate(1332.5,2245.5) rotate(-90)" text-anchor="middle" font-family="'Liberation Sans', Arial, sans-serif" font-weight="bold" font-size="29">Similarity</text>
<text x="1286.5" y="2043.8" font-family="'Liberation Sans', Arial, sans-serif" font-weight="bold" font-size="29.5">C</text></svg>
</body></html>
